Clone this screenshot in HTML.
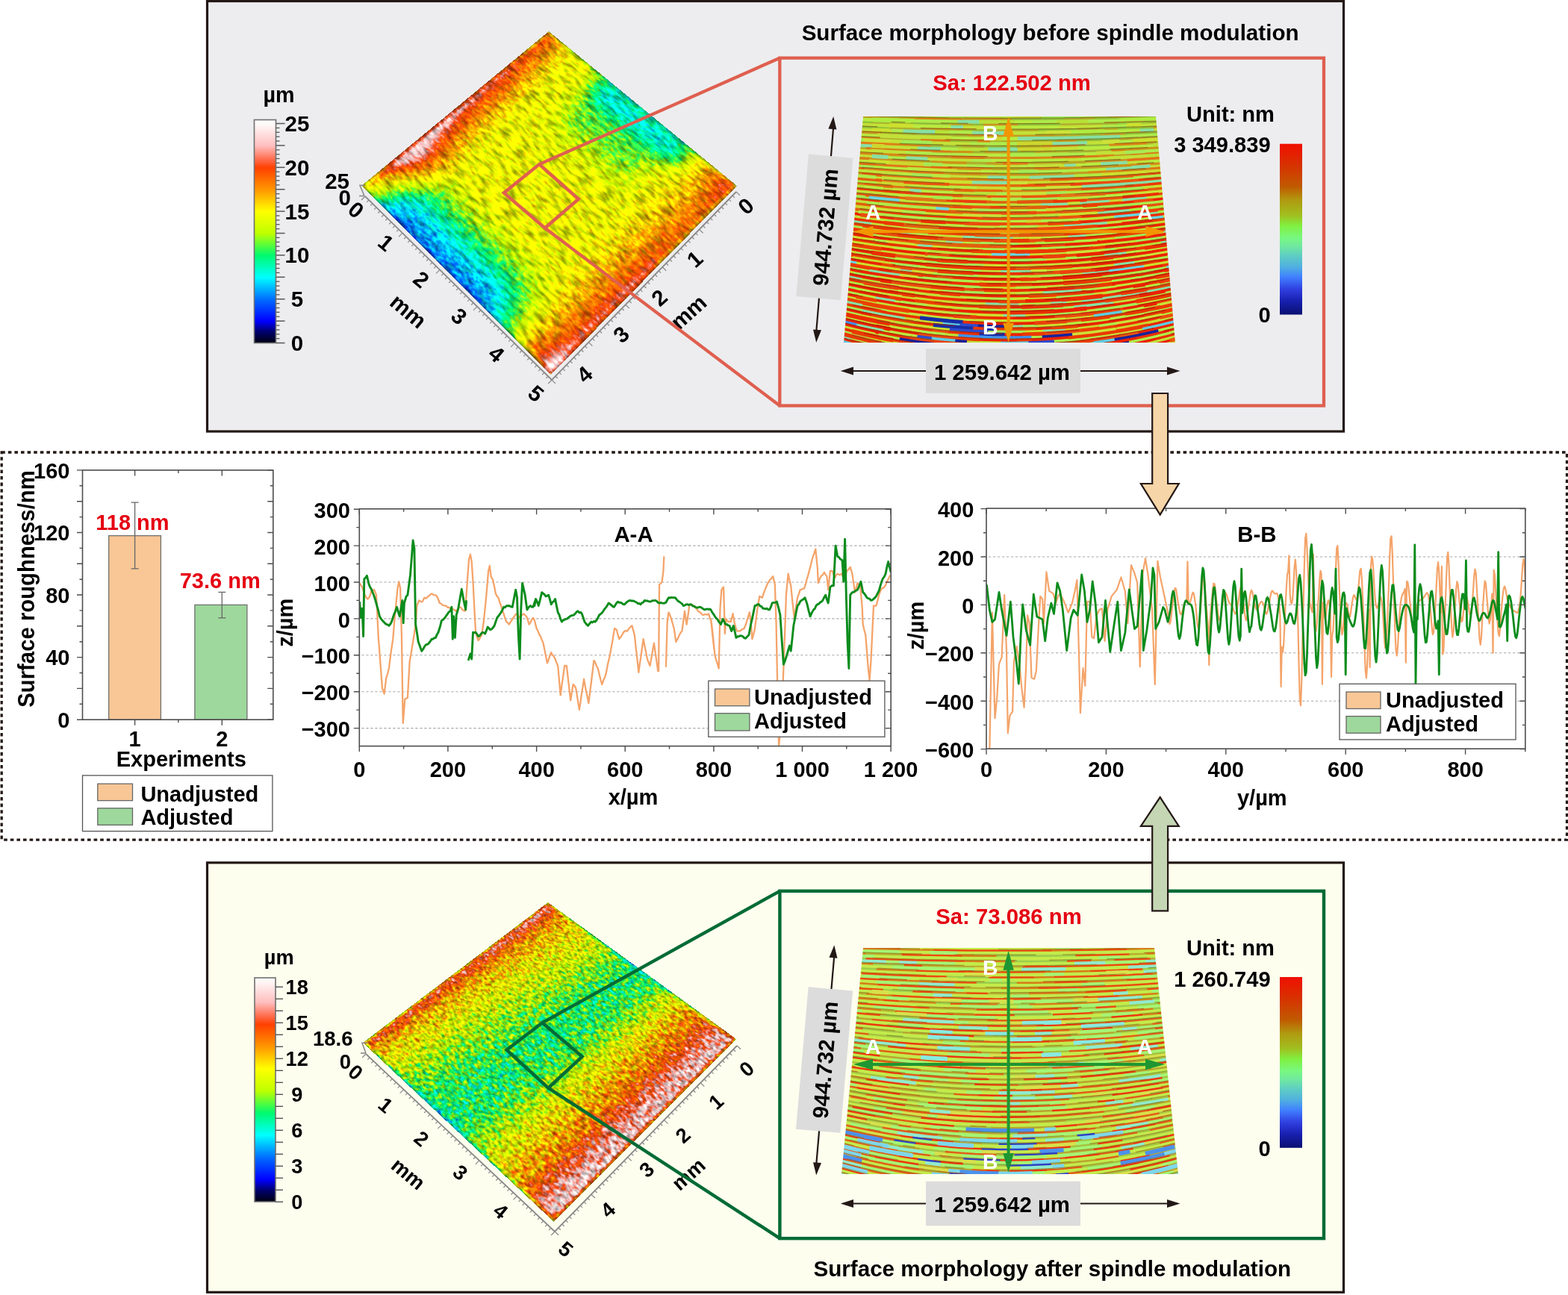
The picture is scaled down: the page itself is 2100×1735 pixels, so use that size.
<!DOCTYPE html>
<html><head><meta charset="utf-8"><title>Surface morphology before and after spindle modulation</title>
<style>html,body{margin:0;padding:0;background:#fff;}
#wrap{position:relative;width:2100px;height:1735px;overflow:hidden;}
#wrap>svg,#wrap>div{position:absolute;left:0;top:0;}
.sf{transform-origin:0 0;}
.sf svg{display:block;}
text{font-family:'Liberation Sans', Arial, sans-serif;font-weight:bold;}</style></head>
<body><div id="wrap">
<svg xmlns="http://www.w3.org/2000/svg" width="2100" height="1735" viewBox="0 0 2100 1735">
<rect x="277.5" y="1.5" width="1522" height="576.5" fill="#ededef" stroke="#231815" stroke-width="3.2"/>
<rect x="277.5" y="1155.8" width="1522" height="575.5" fill="#fdfeee" stroke="#231815" stroke-width="3.2"/>
<rect x="2.2" y="606" width="2096.3" height="519.2" fill="none" stroke="#231815" stroke-width="3.3" stroke-dasharray="4.6 4"/>
</svg>
<div class="sf" style="width:512px;height:512px;transform:matrix3d(0.35635239,0.3990862,0,-0.00018935144,0.63914408,-0.39578775,0,0.00020259824,0,0,1,0,484,249,0,1)">
<svg xmlns="http://www.w3.org/2000/svg" width="512" height="512" viewBox="0 0 56 56"><defs><filter id="bl1" x="0" y="0" width="1" height="1" color-interpolation-filters="sRGB"><feGaussianBlur in="SourceGraphic" stdDeviation="0.5" edgeMode="duplicate" result="b"/><feTurbulence type="fractalNoise" baseFrequency="0.9 1.6" numOctaves="2" seed="11" result="t1"/><feColorMatrix in="t1" type="matrix" values="1 0 0 0 0 1 0 0 0 0 1 0 0 0 0 0 0 0 0 1" result="n1"/><feComposite in="b" in2="n1" operator="arithmetic" k1="0" k2="1" k3="0.2" k4="-0.1" result="h"/><feComponentTransfer in="h" result="c"><feFuncR type="table" tableValues="0.000 0.000 0.000 0.000 0.000 0.000 0.000 0.000 0.000 0.000 0.000 0.000 0.000 0.000 0.000 0.000 0.000 0.000 0.000 0.000 0.000 0.149 0.298 0.447 0.596 0.745 0.796 0.847 0.898 0.949 1.000 1.000 1.000 1.000 1.000 1.000 1.000 1.000 1.000 1.000 1.000 1.000 1.000 1.000 1.000 1.000 1.000 1.000 1.000 1.000 1.000 1.000"/><feFuncG type="table" tableValues="0.000 0.000 0.000 0.000 0.000 0.000 0.086 0.173 0.259 0.345 0.431 0.545 0.659 0.773 0.886 1.000 0.996 0.992 0.988 0.984 0.980 0.984 0.988 0.992 0.996 1.000 1.000 1.000 1.000 1.000 1.000 0.918 0.835 0.753 0.671 0.588 0.521 0.453 0.386 0.318 0.251 0.341 0.431 0.536 0.641 0.745 0.792 0.839 0.886 0.933 0.980 0.980"/><feFuncB type="table" tableValues="0.063 0.205 0.346 0.526 0.763 1.000 1.000 1.000 1.000 1.000 1.000 1.000 1.000 1.000 1.000 1.000 0.886 0.773 0.659 0.545 0.431 0.345 0.259 0.173 0.086 0.000 0.000 0.000 0.000 0.000 0.000 0.000 0.000 0.000 0.000 0.000 0.000 0.000 0.000 0.000 0.000 0.157 0.314 0.458 0.601 0.745 0.792 0.839 0.886 0.933 0.980 0.980"/></feComponentTransfer><feTurbulence type="fractalNoise" baseFrequency="0.35 1.1" numOctaves="2" seed="1" result="t2"/><feColorMatrix in="t2" type="matrix" values="1 0 0 0 0 1 0 0 0 0 1 0 0 0 0 0 0 0 0 1" result="n2"/><feComposite in="c" in2="n2" operator="arithmetic" k1="1.1" k2="0.4" k3="0" k4="0" result="d"/><feComposite in="d" in2="SourceAlpha" operator="in"/></filter></defs><g filter="url(#bl1)" shape-rendering="crispEdges">
<path fill="#a4a4a4" d="M0 0h1v1h-1zM48 0h1v1h-1zM48 1h1v1h-1zM4 7h1v1h-1zM48 10h1v1h-1zM7 11h1v1h-1zM48 11h1v1h-1zM48 12h1v1h-1zM8 13h1v1h-1zM48 13h1v1h-1zM48 14h1v1h-1zM48 15h1v1h-1zM48 16h1v1h-1zM48 17h1v1h-1zM8 18h1v1h-1zM48 18h1v1h-1zM8 19h1v1h-1zM48 19h1v1h-1zM48 20h1v1h-1zM48 21h1v1h-1zM48 22h1v1h-1zM48 23h1v1h-1zM7 24h1v1h-1zM48 24h1v1h-1zM7 25h1v1h-1zM48 25h1v1h-1zM48 26h1v1h-1zM48 27h1v1h-1zM48 28h1v1h-1zM48 29h1v1h-1zM48 30h1v1h-1zM48 31h1v1h-1zM48 32h1v1h-1zM48 33h1v1h-1zM48 34h1v1h-1zM6 41h1v1h-1zM6 42h1v1h-1zM6 43h1v1h-1zM5 50h1v1h-1zM5 51h1v1h-1zM5 52h1v1h-1zM5 53h1v1h-1zM5 54h1v1h-1zM48 54h1v1h-1zM5 55h1v1h-1zM48 55h1v1h-1z"/>
<path fill="#989898" d="M1 0h1v1h-1zM5 7h1v1h-1zM46 10h1v1h-1zM10 14h1v1h-1zM45 14h1v1h-1zM45 15h1v1h-1zM45 16h1v1h-1zM45 17h1v1h-1zM45 18h1v1h-1zM10 19h1v1h-1zM45 19h1v1h-1zM10 20h1v1h-1zM45 20h1v1h-1zM45 21h1v1h-1zM45 22h1v1h-1zM45 23h1v1h-1zM45 24h1v1h-1zM9 25h1v1h-1zM9 26h1v1h-1zM9 27h1v1h-1zM45 27h1v1h-1zM9 28h1v1h-1zM45 28h1v1h-1zM9 29h1v1h-1zM45 29h1v1h-1zM9 30h1v1h-1zM45 30h1v1h-1zM9 31h1v1h-1zM45 31h1v1h-1zM9 32h1v1h-1zM45 32h1v1h-1zM9 33h1v1h-1zM45 33h1v1h-1zM9 34h1v1h-1zM45 34h1v1h-1zM45 35h1v1h-1zM45 36h1v1h-1zM45 37h1v1h-1zM45 38h1v1h-1zM45 39h1v1h-1zM45 40h1v1h-1zM45 41h1v1h-1zM45 42h1v1h-1zM8 43h1v1h-1zM45 43h1v1h-1zM8 44h1v1h-1zM45 44h1v1h-1zM8 45h1v1h-1zM45 45h1v1h-1zM46 48h1v1h-1zM46 49h1v1h-1zM7 54h1v1h-1zM46 54h1v1h-1zM7 55h1v1h-1zM46 55h1v1h-1z"/>
<path fill="#8a8a8a" d="M2 0h1v1h-1zM3 2h1v1h-1zM4 4h1v1h-1zM45 5h1v1h-1zM45 6h1v1h-1zM44 9h1v1h-1zM10 11h1v1h-1zM41 12h1v1h-1zM38 13h2v1h-2zM13 14h8v1h-8zM20 37h17v1h-17zM18 38h1v1h-1zM38 38h1v1h-1zM17 39h1v1h-1zM39 39h1v1h-1zM40 40h1v1h-1zM16 41h1v1h-1zM40 41h1v1h-1zM15 45h1v1h-1zM15 46h1v1h-1zM41 46h1v1h-1zM15 47h1v1h-1zM15 48h1v1h-1zM45 52h1v1h-1zM14 53h1v1h-1zM14 54h1v1h-1zM14 55h1v1h-1z"/>
<path fill="#7e7e7e" d="M3 0h1v1h-1zM5 4h1v1h-1zM44 4h1v1h-1zM42 8h1v1h-1zM41 9h1v1h-1zM40 10h1v1h-1zM12 11h1v1h-1zM36 11h2v1h-2zM20 40h16v1h-16zM19 41h1v1h-1zM37 41h1v1h-1zM18 42h1v1h-1zM38 43h1v1h-1zM38 44h1v1h-1zM17 47h1v1h-1zM41 48h1v1h-1zM16 50h1v1h-1zM44 52h1v1h-1zM43 55h1v1h-1z"/>
<path fill="#727272" d="M4 0h1v1h-1zM43 2h1v1h-1zM6 4h1v1h-1zM42 5h1v1h-1zM10 8h1v1h-1zM39 8h1v1h-1zM37 9h1v1h-1zM14 10h2v1h-2zM21 44h15v1h-15zM20 45h2v1h-2zM33 45h3v1h-3zM20 46h1v1h-1zM36 46h1v1h-1zM19 47h1v1h-1zM38 48h1v1h-1zM42 50h1v1h-1zM43 52h1v1h-1zM43 53h1v1h-1z"/>
<path fill="#646464" d="M5 0h1v1h-1zM41 3h1v1h-1zM37 7h1v1h-1zM14 8h2v1h-2zM20 49h1v1h-1zM36 49h1v1h-1zM19 50h1v1h-1zM40 50h1v1h-1zM18 53h1v1h-1zM20 55h1v1h-1zM38 55h2v1h-2z"/>
<path fill="#585858" d="M6 0h1v1h-1zM7 2h1v1h-1zM40 2h1v1h-1zM11 6h1v1h-1zM26 6h10v1h-10zM39 51h1v1h-1zM21 54h19v1h-19z"/>
<path fill="#4e4e4e" d="M7 0h1v1h-1zM39 1h1v1h-1zM8 2h1v1h-1zM10 4h1v1h-1zM13 5h3v1h-3z"/>
<path fill="#444444" d="M8 0h1v1h-1zM37 2h1v1h-1zM11 3h1v1h-1zM20 3h16v1h-16z"/>
<path fill="#3e3e3e" d="M9 0h1v1h-1zM10 1h1v1h-1zM36 1h1v1h-1zM11 2h1v1h-1zM29 2h7v1h-7z"/>
<path fill="#3c3c3c" d="M10 0h1v1h-1zM36 0h1v1h-1zM11 1h1v1h-1zM35 1h1v1h-1zM12 2h17v1h-17z"/>
<path fill="#383838" d="M11 0h2v1h-2zM15 0h20v1h-20zM13 1h2v1h-2z"/>
<path fill="#363636" d="M13 0h2v1h-2z"/>
<path fill="#3a3a3a" d="M35 0h1v1h-1zM12 1h1v1h-1zM15 1h20v1h-20z"/>
<path fill="#404040" d="M37 0h1v1h-1zM36 2h1v1h-1z"/>
<path fill="#464646" d="M38 0h1v1h-1zM9 2h1v1h-1zM36 3h1v1h-1z"/>
<path fill="#4c4c4c" d="M39 0h1v1h-1zM9 3h1v1h-1zM36 4h1v1h-1z"/>
<path fill="#545454" d="M40 0h1v1h-1zM8 3h1v1h-1zM9 4h1v1h-1zM10 5h1v1h-1zM36 5h1v1h-1zM35 51h2v1h-2zM40 52h1v1h-1zM20 53h1v1h-1z"/>
<path fill="#5c5c5c" d="M41 0h1v1h-1zM40 3h1v1h-1zM8 4h1v1h-1zM9 5h1v1h-1zM36 50h1v1h-1zM41 52h1v1h-1zM41 53h1v1h-1zM40 54h1v1h-1z"/>
<path fill="#666666" d="M42 0h1v1h-1zM42 1h1v1h-1zM7 4h1v1h-1zM8 5h1v1h-1zM40 5h1v1h-1zM9 6h1v1h-1zM39 6h1v1h-1zM12 8h2v1h-2zM16 8h19v1h-19zM37 49h1v1h-1zM18 51h1v1h-1zM42 52h1v1h-1zM42 53h1v1h-1zM18 54h1v1h-1zM40 55h1v1h-1z"/>
<path fill="#707070" d="M43 0h1v1h-1zM43 1h1v1h-1zM5 2h1v1h-1zM41 6h1v1h-1zM9 7h1v1h-1zM40 7h1v1h-1zM36 9h1v1h-1zM22 45h11v1h-11zM21 46h15v1h-15zM20 47h1v1h-1zM36 47h1v1h-1zM19 48h1v1h-1zM18 49h1v1h-1zM17 51h1v1h-1zM17 54h1v1h-1z"/>
<path fill="#787878" d="M44 0h1v1h-1zM4 1h1v1h-1zM7 6h1v1h-1zM8 7h1v1h-1zM41 8h1v1h-1zM39 9h1v1h-1zM37 10h1v1h-1zM20 42h1v1h-1zM36 42h1v1h-1zM19 43h1v1h-1zM37 44h1v1h-1zM37 45h1v1h-1zM18 47h1v1h-1zM38 47h1v1h-1zM40 48h1v1h-1zM17 49h1v1h-1zM16 52h1v1h-1zM16 53h1v1h-1z"/>
<path fill="#848484" d="M45 0h1v1h-1zM3 1h1v1h-1zM45 1h1v1h-1zM45 2h1v1h-1zM4 3h1v1h-1zM6 6h1v1h-1zM44 6h1v1h-1zM43 8h1v1h-1zM10 10h1v1h-1zM11 11h1v1h-1zM40 11h1v1h-1zM35 12h3v1h-3zM20 39h1v1h-1zM34 39h3v1h-3zM18 40h1v1h-1zM38 40h1v1h-1zM17 42h1v1h-1zM39 42h1v1h-1zM39 43h1v1h-1zM16 46h1v1h-1zM40 46h1v1h-1zM16 47h1v1h-1zM41 47h1v1h-1zM44 50h1v1h-1zM15 51h1v1h-1zM15 52h1v1h-1zM15 55h1v1h-1z"/>
<path fill="#8e8e8e" d="M46 0h1v1h-1zM46 1h1v1h-1zM5 6h1v1h-1zM45 8h1v1h-1zM44 11h1v1h-1zM43 12h1v1h-1zM11 13h1v1h-1zM42 13h1v1h-1zM37 14h4v1h-4zM13 15h2v1h-2zM20 35h18v1h-18zM18 36h2v1h-2zM36 36h4v1h-4zM17 37h1v1h-1zM39 37h2v1h-2zM16 38h1v1h-1zM40 38h1v1h-1zM16 39h1v1h-1zM41 40h1v1h-1zM15 41h1v1h-1zM41 41h1v1h-1zM15 42h1v1h-1zM41 42h1v1h-1zM41 43h1v1h-1zM14 45h1v1h-1zM14 46h1v1h-1zM42 46h1v1h-1zM14 47h1v1h-1zM14 48h1v1h-1zM14 49h1v1h-1zM14 50h1v1h-1zM45 50h1v1h-1zM45 54h1v1h-1z"/>
<path fill="#9a9a9a" d="M47 0h1v1h-1zM47 1h1v1h-1zM47 2h1v1h-1zM47 3h1v1h-1zM47 4h1v1h-1zM47 5h1v1h-1zM4 6h1v1h-1zM46 11h1v1h-1zM9 12h1v1h-1zM46 12h1v1h-1zM46 13h1v1h-1zM10 15h1v1h-1zM10 17h1v1h-1zM10 18h1v1h-1zM9 22h1v1h-1zM9 23h1v1h-1zM9 24h1v1h-1zM45 25h1v1h-1zM45 26h1v1h-1zM8 40h1v1h-1zM8 41h1v1h-1zM8 42h1v1h-1zM46 45h1v1h-1zM46 46h1v1h-1zM46 47h1v1h-1zM7 48h1v1h-1zM7 49h1v1h-1zM7 50h1v1h-1zM7 51h1v1h-1zM7 52h1v1h-1zM7 53h1v1h-1z"/>
<path fill="#aeaeae" d="M49 0h1v1h-1zM49 1h1v1h-1zM1 4h1v1h-1zM50 8h1v1h-1zM50 9h1v1h-1zM50 10h1v1h-1zM6 11h1v1h-1zM50 11h1v1h-1zM50 12h1v1h-1zM50 13h1v1h-1zM50 14h1v1h-1zM7 15h1v1h-1zM50 15h1v1h-1zM7 16h1v1h-1zM50 16h1v1h-1zM50 17h1v1h-1zM50 18h1v1h-1zM50 19h1v1h-1zM50 20h1v1h-1zM6 21h1v1h-1zM50 21h1v1h-1zM6 22h1v1h-1zM50 22h1v1h-1zM50 23h1v1h-1zM50 24h1v1h-1zM50 25h1v1h-1zM50 26h1v1h-1zM50 27h1v1h-1zM50 28h1v1h-1zM5 29h1v1h-1zM50 29h1v1h-1zM5 30h1v1h-1zM50 30h1v1h-1zM5 31h1v1h-1zM5 32h1v1h-1zM5 33h1v1h-1zM5 34h1v1h-1zM5 35h1v1h-1zM5 36h1v1h-1zM5 37h1v1h-1zM5 38h1v1h-1zM51 39h1v1h-1zM51 40h1v1h-1zM51 41h1v1h-1zM51 42h1v1h-1zM51 43h1v1h-1zM4 44h1v1h-1zM51 44h1v1h-1zM4 45h1v1h-1zM51 45h1v1h-1zM4 46h1v1h-1zM51 46h1v1h-1zM51 47h1v1h-1zM50 51h1v1h-1zM50 52h1v1h-1z"/>
<path fill="#b8b8b8" d="M50 0h1v1h-1zM50 1h1v1h-1zM0 3h1v1h-1zM1 5h1v1h-1zM51 5h1v1h-1zM3 8h1v1h-1zM5 19h1v1h-1zM5 20h1v1h-1zM4 25h1v1h-1zM4 26h1v1h-1zM52 29h1v1h-1zM52 30h1v1h-1zM52 31h1v1h-1zM52 32h1v1h-1zM3 42h1v1h-1zM53 42h1v1h-1zM3 43h1v1h-1zM53 43h1v1h-1zM53 44h1v1h-1zM52 49h1v1h-1zM2 50h1v1h-1zM2 51h1v1h-1zM2 52h1v1h-1zM2 53h1v1h-1zM51 54h1v1h-1zM51 55h1v1h-1z"/>
<path fill="#c2c2c2" d="M51 0h1v1h-1zM51 1h1v1h-1zM53 8h1v1h-1zM53 9h1v1h-1zM53 10h1v1h-1zM53 11h1v1h-1zM53 12h1v1h-1zM53 13h1v1h-1zM53 14h1v1h-1zM53 15h1v1h-1zM53 16h1v1h-1zM53 17h1v1h-1zM4 18h1v1h-1zM53 18h1v1h-1zM53 19h1v1h-1zM53 20h1v1h-1zM53 21h1v1h-1zM53 22h1v1h-1zM3 23h1v1h-1zM53 23h1v1h-1zM3 24h1v1h-1zM53 24h1v1h-1zM53 25h1v1h-1zM53 26h1v1h-1zM55 32h1v1h-1zM55 33h1v1h-1zM55 34h1v1h-1zM2 37h1v1h-1zM2 38h1v1h-1zM2 39h1v1h-1zM2 40h1v1h-1zM1 46h1v1h-1zM1 47h1v1h-1zM1 48h1v1h-1zM55 48h1v1h-1zM53 51h1v1h-1z"/>
<path fill="#d0d0d0" d="M52 0h1v1h-1zM0 5h1v1h-1zM54 8h1v1h-1zM54 9h1v1h-1zM3 17h1v1h-1zM54 20h1v1h-1zM54 21h1v1h-1zM2 22h1v1h-1zM54 22h1v1h-1zM54 23h1v1h-1zM54 24h1v1h-1zM54 25h1v1h-1zM1 32h1v1h-1zM1 33h1v1h-1zM0 45h1v1h-1z"/>
<path fill="#dedede" d="M53 0h1v1h-1zM54 4h1v1h-1zM0 7h1v1h-1zM3 12h1v1h-1zM3 14h1v1h-1zM2 19h1v1h-1zM55 27h1v1h-1zM55 28h1v1h-1z"/>
<path fill="#f0f0f0" d="M54 0h1v1h-1zM55 4h1v1h-1z"/>
<path fill="#fefefe" d="M55 0h1v1h-1zM55 1h1v1h-1zM55 2h1v1h-1z"/>
<path fill="#a8a8a8" d="M0 1h1v1h-1zM1 3h1v1h-1zM49 7h1v1h-1zM49 8h1v1h-1zM49 9h1v1h-1zM6 10h1v1h-1zM49 10h1v1h-1zM49 11h1v1h-1zM49 12h1v1h-1zM49 13h1v1h-1zM8 16h1v1h-1zM7 20h1v1h-1zM7 21h1v1h-1zM6 27h1v1h-1zM6 28h1v1h-1zM49 28h1v1h-1zM6 29h1v1h-1zM49 29h1v1h-1zM6 30h1v1h-1zM49 30h1v1h-1zM6 31h1v1h-1zM49 31h1v1h-1zM6 32h1v1h-1zM49 32h1v1h-1zM6 33h1v1h-1zM49 33h1v1h-1zM6 34h1v1h-1zM49 34h1v1h-1zM6 35h1v1h-1zM49 35h1v1h-1zM6 36h1v1h-1zM49 36h1v1h-1zM5 44h1v1h-1zM5 45h1v1h-1zM5 46h1v1h-1zM49 50h1v1h-1zM49 51h1v1h-1zM49 52h1v1h-1z"/>
<path fill="#9c9c9c" d="M1 1h1v1h-1zM2 3h1v1h-1zM47 6h1v1h-1zM47 7h1v1h-1zM47 8h1v1h-1zM8 11h1v1h-1zM9 13h1v1h-1zM46 14h1v1h-1zM46 15h1v1h-1zM10 16h1v1h-1zM46 16h1v1h-1zM46 17h1v1h-1zM46 18h1v1h-1zM46 19h1v1h-1zM9 20h1v1h-1zM46 20h1v1h-1zM9 21h1v1h-1zM46 21h1v1h-1zM46 22h1v1h-1zM46 23h1v1h-1zM46 24h1v1h-1zM46 25h1v1h-1zM46 26h1v1h-1zM8 27h1v1h-1zM46 27h1v1h-1zM8 28h1v1h-1zM46 28h1v1h-1zM8 29h1v1h-1zM46 29h1v1h-1zM8 30h1v1h-1zM46 30h1v1h-1zM8 31h1v1h-1zM46 31h1v1h-1zM8 32h1v1h-1zM46 32h1v1h-1zM8 33h1v1h-1zM46 33h1v1h-1zM8 34h1v1h-1zM46 34h1v1h-1zM8 35h1v1h-1zM46 35h1v1h-1zM8 36h1v1h-1zM46 36h1v1h-1zM8 37h1v1h-1zM46 37h1v1h-1zM8 38h1v1h-1zM46 38h1v1h-1zM8 39h1v1h-1zM46 39h1v1h-1zM46 40h1v1h-1zM46 41h1v1h-1zM46 42h1v1h-1zM46 43h1v1h-1zM7 44h1v1h-1zM46 44h1v1h-1zM7 45h1v1h-1zM7 46h1v1h-1zM7 47h1v1h-1zM47 50h1v1h-1z"/>
<path fill="#909090" d="M2 1h1v1h-1zM46 2h1v1h-1zM3 3h1v1h-1zM46 3h1v1h-1zM45 9h1v1h-1zM44 12h1v1h-1zM43 13h1v1h-1zM41 14h2v1h-2zM12 15h1v1h-1zM15 15h16v1h-16zM20 32h15v1h-15zM18 33h22v1h-22zM17 34h24v1h-24zM16 35h4v1h-4zM38 35h3v1h-3zM16 36h2v1h-2zM40 36h2v1h-2zM15 37h2v1h-2zM41 37h1v1h-1zM15 38h1v1h-1zM41 38h1v1h-1zM15 39h1v1h-1zM41 39h1v1h-1zM15 40h1v1h-1zM14 41h1v1h-1zM14 42h1v1h-1zM14 43h1v1h-1zM14 44h1v1h-1zM42 44h1v1h-1zM42 45h1v1h-1zM13 46h1v1h-1zM43 46h1v1h-1zM13 47h1v1h-1zM44 47h1v1h-1zM13 48h1v1h-1zM13 49h1v1h-1zM45 49h1v1h-1zM13 50h1v1h-1zM13 51h1v1h-1zM13 52h1v1h-1zM13 53h1v1h-1zM13 54h1v1h-1zM13 55h1v1h-1zM45 55h1v1h-1z"/>
<path fill="#6a6a6a" d="M5 1h1v1h-1zM6 3h1v1h-1zM40 6h1v1h-1zM11 8h1v1h-1zM36 8h1v1h-1zM20 48h1v1h-1zM34 48h2v1h-2zM19 49h1v1h-1zM38 49h1v1h-1zM41 50h1v1h-1zM42 51h1v1h-1z"/>
<path fill="#5e5e5e" d="M6 1h1v1h-1zM41 1h1v1h-1zM7 3h1v1h-1zM10 6h1v1h-1zM37 6h1v1h-1zM12 7h19v1h-19zM20 50h1v1h-1zM37 50h1v1h-1zM19 51h1v1h-1z"/>
<path fill="#525252" d="M7 1h1v1h-1zM11 5h1v1h-1zM35 5h1v1h-1zM21 51h14v1h-14zM20 52h1v1h-1zM38 52h2v1h-2zM36 53h4v1h-4z"/>
<path fill="#484848" d="M8 1h1v1h-1zM38 1h1v1h-1zM10 3h1v1h-1zM13 4h3v1h-3z"/>
<path fill="#424242" d="M9 1h1v1h-1zM37 1h1v1h-1zM10 2h1v1h-1zM12 3h8v1h-8z"/>
<path fill="#565656" d="M40 1h1v1h-1zM39 3h1v1h-1zM38 4h1v1h-1zM37 5h1v1h-1zM12 6h14v1h-14zM20 51h1v1h-1zM37 51h2v1h-2zM40 53h1v1h-1z"/>
<path fill="#7a7a7a" d="M44 1h1v1h-1zM44 2h1v1h-1zM6 5h1v1h-1zM43 5h1v1h-1zM42 7h1v1h-1zM9 8h1v1h-1zM40 9h1v1h-1zM38 10h1v1h-1zM13 11h12v1h-12zM20 41h16v1h-16zM19 42h1v1h-1zM37 43h1v1h-1zM18 45h1v1h-1zM18 46h1v1h-1zM38 46h1v1h-1zM42 49h1v1h-1zM43 50h1v1h-1zM16 54h1v1h-1z"/>
<path fill="#cecece" d="M52 1h1v1h-1zM53 4h1v1h-1zM54 10h1v1h-1zM54 11h1v1h-1zM54 12h1v1h-1zM54 13h1v1h-1zM54 14h1v1h-1zM54 15h1v1h-1zM54 16h1v1h-1zM54 17h1v1h-1zM54 18h1v1h-1zM54 19h1v1h-1zM54 26h1v1h-1zM54 27h1v1h-1zM1 34h1v1h-1zM1 35h1v1h-1zM1 36h1v1h-1zM55 53h1v1h-1zM55 54h1v1h-1zM55 55h1v1h-1z"/>
<path fill="#dcdcdc" d="M53 1h1v1h-1zM1 25h1v1h-1zM55 29h1v1h-1zM55 30h1v1h-1zM0 41h1v1h-1z"/>
<path fill="#eeeeee" d="M54 1h1v1h-1z"/>
<path fill="#b0b0b0" d="M0 2h1v1h-1zM50 5h1v1h-1zM50 6h1v1h-1zM3 7h1v1h-1zM50 7h1v1h-1zM6 19h1v1h-1zM6 20h1v1h-1zM5 26h1v1h-1zM5 27h1v1h-1zM5 28h1v1h-1zM51 33h1v1h-1zM51 34h1v1h-1zM51 35h1v1h-1zM51 36h1v1h-1zM51 37h1v1h-1zM51 38h1v1h-1zM4 42h1v1h-1zM4 43h1v1h-1zM51 48h1v1h-1zM51 49h1v1h-1zM3 52h1v1h-1zM3 53h1v1h-1zM50 53h1v1h-1zM3 54h1v1h-1zM50 54h1v1h-1zM3 55h1v1h-1zM50 55h1v1h-1z"/>
<path fill="#a2a2a2" d="M1 2h1v1h-1zM48 2h1v1h-1zM48 3h1v1h-1zM2 4h1v1h-1zM48 4h1v1h-1zM48 5h1v1h-1zM48 6h1v1h-1zM48 7h1v1h-1zM5 8h1v1h-1zM48 8h1v1h-1zM48 9h1v1h-1zM8 12h1v1h-1zM8 20h1v1h-1zM8 21h1v1h-1zM7 26h1v1h-1zM7 27h1v1h-1zM7 28h1v1h-1zM7 29h1v1h-1zM7 30h1v1h-1zM7 31h1v1h-1zM7 32h1v1h-1zM7 33h1v1h-1zM7 34h1v1h-1zM48 35h1v1h-1zM48 36h1v1h-1zM48 37h1v1h-1zM48 38h1v1h-1zM48 39h1v1h-1zM48 40h1v1h-1zM48 41h1v1h-1zM48 42h1v1h-1zM48 43h1v1h-1zM6 44h1v1h-1zM48 44h1v1h-1zM6 45h1v1h-1zM48 45h1v1h-1zM48 46h1v1h-1zM48 47h1v1h-1zM48 48h1v1h-1zM48 49h1v1h-1zM48 50h1v1h-1zM48 51h1v1h-1zM48 52h1v1h-1zM48 53h1v1h-1z"/>
<path fill="#969696" d="M2 2h1v1h-1zM3 4h1v1h-1zM6 8h1v1h-1zM46 8h1v1h-1zM7 9h1v1h-1zM46 9h1v1h-1zM45 12h1v1h-1zM45 13h1v1h-1zM44 15h1v1h-1zM11 16h1v1h-1zM44 16h1v1h-1zM44 17h1v1h-1zM44 18h1v1h-1zM44 19h1v1h-1zM44 20h1v1h-1zM10 21h1v1h-1zM44 21h1v1h-1zM10 22h1v1h-1zM44 22h1v1h-1zM10 23h1v1h-1zM44 23h1v1h-1zM44 24h1v1h-1zM44 25h1v1h-1zM44 26h1v1h-1zM44 27h1v1h-1zM44 28h1v1h-1zM44 29h1v1h-1zM44 30h1v1h-1zM44 31h1v1h-1zM44 32h1v1h-1zM44 33h1v1h-1zM44 34h1v1h-1zM9 35h1v1h-1zM44 35h1v1h-1zM9 36h1v1h-1zM44 36h1v1h-1zM9 37h1v1h-1zM44 37h1v1h-1zM9 38h1v1h-1zM44 38h1v1h-1zM9 39h1v1h-1zM44 39h1v1h-1zM9 40h1v1h-1zM44 40h1v1h-1zM44 41h1v1h-1zM44 42h1v1h-1zM44 43h1v1h-1zM8 46h1v1h-1zM45 46h1v1h-1zM8 47h1v1h-1zM8 48h1v1h-1zM8 49h1v1h-1zM8 50h1v1h-1zM46 50h1v1h-1zM46 51h1v1h-1zM46 52h1v1h-1zM46 53h1v1h-1z"/>
<path fill="#7c7c7c" d="M4 2h1v1h-1zM44 3h1v1h-1zM43 6h1v1h-1zM10 9h1v1h-1zM11 10h1v1h-1zM39 10h1v1h-1zM25 11h11v1h-11zM36 41h1v1h-1zM37 42h1v1h-1zM18 43h1v1h-1zM18 44h1v1h-1zM38 45h1v1h-1zM39 47h1v1h-1zM17 48h1v1h-1zM16 51h1v1h-1zM16 55h1v1h-1z"/>
<path fill="#626262" d="M6 2h1v1h-1zM38 6h1v1h-1zM36 7h1v1h-1zM21 49h15v1h-15zM39 50h1v1h-1zM18 52h1v1h-1zM41 54h1v1h-1zM21 55h17v1h-17z"/>
<path fill="#4a4a4a" d="M38 2h1v1h-1zM37 3h1v1h-1zM11 4h2v1h-2zM16 4h20v1h-20z"/>
<path fill="#505050" d="M39 2h1v1h-1zM38 3h1v1h-1zM37 4h1v1h-1zM12 5h1v1h-1zM16 5h19v1h-19zM21 52h17v1h-17zM21 53h15v1h-15z"/>
<path fill="#606060" d="M41 2h1v1h-1zM40 4h1v1h-1zM39 5h1v1h-1zM11 7h1v1h-1zM31 7h5v1h-5zM38 50h1v1h-1zM41 51h1v1h-1zM19 54h1v1h-1z"/>
<path fill="#686868" d="M42 2h1v1h-1zM41 4h1v1h-1zM10 7h1v1h-1zM38 7h1v1h-1zM35 8h1v1h-1zM21 48h13v1h-13zM19 55h1v1h-1z"/>
<path fill="#acacac" d="M49 2h1v1h-1zM49 3h1v1h-1zM4 8h1v1h-1zM7 13h1v1h-1zM7 14h1v1h-1zM7 17h1v1h-1zM7 18h1v1h-1zM6 23h1v1h-1zM6 24h1v1h-1zM50 31h1v1h-1zM50 32h1v1h-1zM50 33h1v1h-1zM50 34h1v1h-1zM50 35h1v1h-1zM50 36h1v1h-1zM50 37h1v1h-1zM5 39h1v1h-1zM5 40h1v1h-1zM5 41h1v1h-1zM4 47h1v1h-1zM4 48h1v1h-1zM4 49h1v1h-1zM50 49h1v1h-1zM4 50h1v1h-1zM50 50h1v1h-1z"/>
<path fill="#b6b6b6" d="M50 2h1v1h-1zM51 6h1v1h-1zM5 11h1v1h-1zM6 13h1v1h-1zM6 14h1v1h-1zM6 15h1v1h-1zM6 16h1v1h-1zM5 21h1v1h-1zM4 27h1v1h-1zM4 28h1v1h-1zM4 29h1v1h-1zM4 30h1v1h-1zM4 31h1v1h-1zM4 32h1v1h-1zM4 33h1v1h-1zM52 33h1v1h-1zM4 34h1v1h-1zM52 34h1v1h-1zM52 35h1v1h-1zM52 36h1v1h-1zM52 37h1v1h-1zM3 44h1v1h-1zM3 45h1v1h-1zM52 48h1v1h-1zM51 52h1v1h-1zM51 53h1v1h-1zM2 54h1v1h-1zM2 55h1v1h-1z"/>
<path fill="#c0c0c0" d="M51 2h1v1h-1zM52 5h1v1h-1zM3 9h1v1h-1zM4 11h1v1h-1zM4 19h1v1h-1zM3 25h1v1h-1zM3 26h1v1h-1zM53 27h1v1h-1zM53 28h1v1h-1zM53 29h1v1h-1zM54 31h1v1h-1zM54 32h1v1h-1zM54 33h1v1h-1zM55 35h1v1h-1zM55 36h1v1h-1zM55 37h1v1h-1zM55 38h1v1h-1zM2 41h1v1h-1zM2 42h1v1h-1zM55 47h1v1h-1zM1 49h1v1h-1zM54 49h1v1h-1zM1 50h1v1h-1zM53 50h1v1h-1zM1 51h1v1h-1zM52 54h1v1h-1zM52 55h1v1h-1z"/>
<path fill="#cccccc" d="M52 2h1v1h-1zM2 8h1v1h-1zM3 10h1v1h-1zM2 23h1v1h-1zM54 28h1v1h-1zM54 29h1v1h-1zM54 30h1v1h-1zM1 37h1v1h-1zM1 38h1v1h-1zM1 39h1v1h-1zM0 46h1v1h-1zM55 52h1v1h-1z"/>
<path fill="#d8d8d8" d="M53 2h1v1h-1zM54 5h1v1h-1zM2 9h1v1h-1zM2 20h1v1h-1zM0 42h1v1h-1z"/>
<path fill="#e8e8e8" d="M54 2h1v1h-1zM55 6h1v1h-1zM0 10h2v1h-2zM0 11h2v1h-2zM0 12h2v1h-2zM0 13h3v1h-3zM0 14h3v1h-3zM0 15h3v1h-3zM2 16h1v1h-1zM1 21h1v1h-1zM0 27h1v1h-1zM0 28h1v1h-1zM0 29h1v1h-1z"/>
<path fill="#767676" d="M5 3h1v1h-1zM43 4h1v1h-1zM42 6h1v1h-1zM40 8h1v1h-1zM12 10h1v1h-1zM32 10h5v1h-5zM21 42h15v1h-15zM36 43h1v1h-1zM19 44h1v1h-1zM19 45h1v1h-1zM37 46h1v1h-1zM18 48h1v1h-1zM39 48h1v1h-1zM43 54h1v1h-1zM17 55h1v1h-1z"/>
<path fill="#6c6c6c" d="M42 3h1v1h-1zM41 5h1v1h-1zM39 7h1v1h-1zM37 8h1v1h-1zM13 9h10v1h-10zM22 47h3v1h-3zM36 48h1v1h-1zM39 49h1v1h-1zM18 50h1v1h-1zM42 54h1v1h-1zM41 55h1v1h-1z"/>
<path fill="#747474" d="M43 3h1v1h-1zM41 7h1v1h-1zM11 9h1v1h-1zM38 9h1v1h-1zM13 10h1v1h-1zM16 10h16v1h-16zM20 43h16v1h-16zM20 44h1v1h-1zM36 44h1v1h-1zM36 45h1v1h-1zM19 46h1v1h-1zM37 47h1v1h-1zM41 49h1v1h-1zM17 50h1v1h-1zM43 51h1v1h-1zM42 55h1v1h-1z"/>
<path fill="#868686" d="M45 3h1v1h-1zM5 5h1v1h-1zM44 7h1v1h-1zM43 9h1v1h-1zM42 10h1v1h-1zM41 11h1v1h-1zM12 12h1v1h-1zM38 12h2v1h-2zM13 13h16v1h-16zM20 38h14v1h-14zM19 39h1v1h-1zM37 39h1v1h-1zM17 41h1v1h-1zM39 41h1v1h-1zM16 44h1v1h-1zM16 45h1v1h-1zM40 45h1v1h-1zM43 48h1v1h-1zM15 50h1v1h-1zM44 55h1v1h-1z"/>
<path fill="#b4b4b4" d="M50 3h1v1h-1zM51 7h1v1h-1zM51 8h1v1h-1zM4 9h1v1h-1zM51 9h1v1h-1zM51 10h1v1h-1zM51 11h1v1h-1zM51 12h1v1h-1zM51 13h1v1h-1zM51 14h1v1h-1zM51 15h1v1h-1zM51 16h1v1h-1zM6 17h1v1h-1zM51 17h1v1h-1zM51 18h1v1h-1zM51 19h1v1h-1zM51 20h1v1h-1zM51 21h1v1h-1zM5 22h1v1h-1zM51 22h1v1h-1zM5 23h1v1h-1zM51 23h1v1h-1zM51 24h1v1h-1zM51 25h1v1h-1zM51 26h1v1h-1zM51 27h1v1h-1zM4 35h1v1h-1zM4 36h1v1h-1zM4 37h1v1h-1zM4 38h1v1h-1zM52 38h1v1h-1zM4 39h1v1h-1zM52 39h1v1h-1zM52 40h1v1h-1zM52 41h1v1h-1zM52 42h1v1h-1zM52 43h1v1h-1zM52 44h1v1h-1zM52 45h1v1h-1zM3 46h1v1h-1zM52 46h1v1h-1zM3 47h1v1h-1zM52 47h1v1h-1zM51 51h1v1h-1z"/>
<path fill="#bcbcbc" d="M51 3h1v1h-1zM2 7h1v1h-1zM52 7h1v1h-1zM4 10h1v1h-1zM5 12h1v1h-1zM5 17h1v1h-1zM4 22h1v1h-1zM3 32h1v1h-1zM3 33h1v1h-1zM3 34h1v1h-1zM53 34h1v1h-1zM3 35h1v1h-1zM53 35h1v1h-1zM3 36h1v1h-1zM53 36h1v1h-1zM3 37h1v1h-1zM53 37h2v1h-2zM3 38h1v1h-1zM54 38h1v1h-1zM54 39h1v1h-1zM54 40h1v1h-1zM55 43h1v1h-1zM2 45h1v1h-1zM2 46h1v1h-1zM54 46h1v1h-1zM54 47h1v1h-1zM53 48h1v1h-1zM52 51h1v1h-1zM52 52h1v1h-1z"/>
<path fill="#c8c8c8" d="M52 3h1v1h-1zM4 14h1v1h-1zM3 19h1v1h-1zM2 25h1v1h-1zM1 41h1v1h-1zM0 48h1v1h-1zM0 49h1v1h-1zM54 52h1v1h-1z"/>
<path fill="#d2d2d2" d="M53 3h1v1h-1zM54 7h1v1h-1zM1 30h1v1h-1zM1 31h1v1h-1zM0 44h1v1h-1z"/>
<path fill="#e4e4e4" d="M54 3h1v1h-1zM55 7h1v1h-1zM1 9h1v1h-1zM1 23h1v1h-1zM0 33h1v1h-1zM0 34h1v1h-1zM0 35h1v1h-1z"/>
<path fill="#f8f8f8" d="M55 3h1v1h-1z"/>
<path fill="#c4c4c4" d="M0 4h1v1h-1zM52 4h1v1h-1zM53 7h1v1h-1zM4 17h1v1h-1zM3 22h1v1h-1zM2 30h1v1h-1zM2 31h1v1h-1zM55 31h1v1h-1zM2 32h1v1h-1zM2 33h1v1h-1zM2 34h1v1h-1zM2 35h1v1h-1zM2 36h1v1h-1zM1 44h1v1h-1zM1 45h1v1h-1zM55 49h1v1h-1zM54 50h1v1h-1zM53 52h1v1h-1zM0 54h1v1h-1zM0 55h1v1h-1z"/>
<path fill="#5a5a5a" d="M39 4h1v1h-1zM38 5h1v1h-1zM36 6h1v1h-1zM21 50h15v1h-15zM40 51h1v1h-1zM19 52h1v1h-1zM19 53h1v1h-1zM20 54h1v1h-1z"/>
<path fill="#6e6e6e" d="M42 4h1v1h-1zM7 5h1v1h-1zM8 6h1v1h-1zM38 8h1v1h-1zM12 9h1v1h-1zM23 9h13v1h-13zM21 47h1v1h-1zM25 47h11v1h-11zM37 48h1v1h-1zM40 49h1v1h-1zM17 52h1v1h-1zM17 53h1v1h-1zM18 55h1v1h-1z"/>
<path fill="#888888" d="M45 4h1v1h-1zM44 8h1v1h-1zM43 10h1v1h-1zM42 11h1v1h-1zM40 12h1v1h-1zM12 13h1v1h-1zM29 13h9v1h-9zM19 38h1v1h-1zM34 38h4v1h-4zM18 39h1v1h-1zM38 39h1v1h-1zM17 40h1v1h-1zM39 40h1v1h-1zM16 42h1v1h-1zM40 42h1v1h-1zM16 43h1v1h-1zM40 43h1v1h-1zM40 44h1v1h-1zM42 47h1v1h-1zM15 49h1v1h-1zM44 49h1v1h-1z"/>
<path fill="#929292" d="M46 4h1v1h-1zM4 5h1v1h-1zM46 5h1v1h-1zM45 10h1v1h-1zM9 11h1v1h-1zM10 12h1v1h-1zM44 13h1v1h-1zM11 14h1v1h-1zM43 14h1v1h-1zM31 15h12v1h-12zM12 16h31v1h-31zM12 17h31v1h-31zM12 18h31v1h-31zM11 19h32v1h-32zM11 20h32v1h-32zM11 21h32v1h-32zM11 22h32v1h-32zM11 23h32v1h-32zM11 24h32v1h-32zM11 25h32v1h-32zM10 26h33v1h-33zM10 27h33v1h-33zM10 28h33v1h-33zM10 29h33v1h-33zM10 30h33v1h-33zM10 31h33v1h-33zM10 32h10v1h-10zM35 32h8v1h-8zM10 33h8v1h-8zM40 33h3v1h-3zM10 34h7v1h-7zM41 34h2v1h-2zM10 35h6v1h-6zM41 35h2v1h-2zM10 36h6v1h-6zM42 36h1v1h-1zM10 37h5v1h-5zM42 37h1v1h-1zM10 38h5v1h-5zM42 38h1v1h-1zM10 39h5v1h-5zM42 39h1v1h-1zM10 40h5v1h-5zM42 40h1v1h-1zM10 41h4v1h-4zM42 41h1v1h-1zM10 42h4v1h-4zM42 42h1v1h-1zM10 43h4v1h-4zM42 43h1v1h-1zM9 44h5v1h-5zM43 44h1v1h-1zM9 45h5v1h-5zM43 45h1v1h-1zM9 46h4v1h-4zM44 46h1v1h-1zM9 47h4v1h-4zM9 48h4v1h-4zM45 48h1v1h-1zM9 49h4v1h-4zM9 50h4v1h-4zM9 51h4v1h-4zM9 52h4v1h-4zM9 53h4v1h-4zM9 54h4v1h-4zM9 55h4v1h-4z"/>
<path fill="#aaaaaa" d="M49 4h1v1h-1zM2 5h1v1h-1zM49 5h1v1h-1zM49 6h1v1h-1zM5 9h1v1h-1zM7 12h1v1h-1zM49 14h1v1h-1zM49 15h1v1h-1zM49 16h1v1h-1zM49 17h1v1h-1zM49 18h1v1h-1zM7 19h1v1h-1zM49 19h1v1h-1zM49 20h1v1h-1zM49 21h1v1h-1zM49 22h1v1h-1zM49 23h1v1h-1zM49 24h1v1h-1zM6 25h1v1h-1zM49 25h1v1h-1zM6 26h1v1h-1zM49 26h1v1h-1zM49 27h1v1h-1zM50 38h1v1h-1zM50 39h1v1h-1zM50 40h1v1h-1zM50 41h1v1h-1zM5 42h1v1h-1zM50 42h1v1h-1zM5 43h1v1h-1zM50 43h1v1h-1zM50 44h1v1h-1zM50 45h1v1h-1zM50 46h1v1h-1zM50 47h1v1h-1zM50 48h1v1h-1zM4 51h1v1h-1zM4 52h1v1h-1zM4 53h1v1h-1zM49 53h1v1h-1zM4 54h1v1h-1zM49 54h1v1h-1zM4 55h1v1h-1zM49 55h1v1h-1z"/>
<path fill="#b2b2b2" d="M50 4h1v1h-1zM2 6h1v1h-1zM5 10h1v1h-1zM6 12h1v1h-1zM6 18h1v1h-1zM5 24h1v1h-1zM5 25h1v1h-1zM51 28h1v1h-1zM51 29h1v1h-1zM51 30h1v1h-1zM51 31h1v1h-1zM51 32h1v1h-1zM4 40h1v1h-1zM4 41h1v1h-1zM3 48h1v1h-1zM3 49h1v1h-1zM3 50h1v1h-1zM51 50h1v1h-1zM3 51h1v1h-1z"/>
<path fill="#bababa" d="M51 4h1v1h-1zM52 8h1v1h-1zM52 9h1v1h-1zM52 10h1v1h-1zM52 11h1v1h-1zM52 12h1v1h-1zM52 13h1v1h-1zM52 14h1v1h-1zM52 15h1v1h-1zM52 16h1v1h-1zM52 17h1v1h-1zM5 18h1v1h-1zM52 18h1v1h-1zM52 19h1v1h-1zM52 20h1v1h-1zM52 21h1v1h-1zM52 22h1v1h-1zM4 23h1v1h-1zM52 23h1v1h-1zM4 24h1v1h-1zM52 24h1v1h-1zM52 25h1v1h-1zM52 26h1v1h-1zM52 27h1v1h-1zM52 28h1v1h-1zM53 38h1v1h-1zM3 39h1v1h-1zM53 39h1v1h-1zM3 40h1v1h-1zM53 40h1v1h-1zM3 41h1v1h-1zM53 41h2v1h-2zM54 42h1v1h-1zM54 43h1v1h-1zM54 44h1v1h-1zM53 45h2v1h-2zM53 46h1v1h-1zM2 47h1v1h-1zM53 47h1v1h-1zM2 48h1v1h-1zM2 49h1v1h-1zM52 50h1v1h-1z"/>
<path fill="#9e9e9e" d="M3 5h1v1h-1zM47 9h1v1h-1zM7 10h1v1h-1zM47 10h1v1h-1zM47 11h1v1h-1zM47 12h1v1h-1zM9 14h1v1h-1zM9 18h1v1h-1zM9 19h1v1h-1zM8 24h1v1h-1zM8 25h1v1h-1zM8 26h1v1h-1zM47 39h1v1h-1zM47 40h1v1h-1zM7 41h1v1h-1zM47 41h1v1h-1zM7 42h1v1h-1zM47 42h1v1h-1zM7 43h1v1h-1zM47 43h1v1h-1zM47 44h1v1h-1zM47 45h1v1h-1zM47 46h1v1h-1zM47 47h1v1h-1zM47 48h1v1h-1zM47 49h1v1h-1zM6 51h1v1h-1zM47 51h1v1h-1zM6 52h1v1h-1zM47 52h1v1h-1zM6 53h1v1h-1zM47 53h1v1h-1zM6 54h1v1h-1zM47 54h1v1h-1zM6 55h1v1h-1zM47 55h1v1h-1z"/>
<path fill="#808080" d="M44 5h1v1h-1zM43 7h1v1h-1zM38 11h1v1h-1zM13 12h5v1h-5zM36 40h1v1h-1zM38 42h1v1h-1zM17 44h1v1h-1zM17 45h1v1h-1zM17 46h1v1h-1zM39 46h1v1h-1zM40 47h1v1h-1zM16 49h1v1h-1zM43 49h1v1h-1zM44 51h1v1h-1zM44 53h1v1h-1z"/>
<path fill="#cacaca" d="M53 5h1v1h-1zM4 13h1v1h-1zM3 18h1v1h-1zM2 24h1v1h-1zM1 40h1v1h-1zM0 47h1v1h-1zM55 51h1v1h-1zM54 53h1v1h-1zM54 54h1v1h-1zM54 55h1v1h-1z"/>
<path fill="#ececec" d="M55 5h1v1h-1z"/>
<path fill="#dadada" d="M0 6h1v1h-1zM3 15h1v1h-1zM1 26h1v1h-1z"/>
<path fill="#c6c6c6" d="M1 6h1v1h-1zM53 6h1v1h-1zM4 12h1v1h-1zM4 15h1v1h-1zM4 16h1v1h-1zM3 20h1v1h-1zM3 21h1v1h-1zM2 26h1v1h-1zM2 27h1v1h-1zM2 28h1v1h-1zM2 29h1v1h-1zM1 42h1v1h-1zM1 43h1v1h-1zM0 50h1v1h-1zM55 50h1v1h-1zM0 51h1v1h-1zM54 51h1v1h-1zM0 52h1v1h-1zM0 53h1v1h-1zM53 53h1v1h-1zM53 54h1v1h-1zM53 55h1v1h-1z"/>
<path fill="#a6a6a6" d="M3 6h1v1h-1zM8 14h1v1h-1zM8 15h1v1h-1zM8 17h1v1h-1zM7 22h1v1h-1zM7 23h1v1h-1zM6 37h1v1h-1zM49 37h1v1h-1zM6 38h1v1h-1zM49 38h1v1h-1zM6 39h1v1h-1zM49 39h1v1h-1zM6 40h1v1h-1zM49 40h1v1h-1zM49 41h1v1h-1zM49 42h1v1h-1zM49 43h1v1h-1zM49 44h1v1h-1zM49 45h1v1h-1zM49 46h1v1h-1zM5 47h1v1h-1zM49 47h1v1h-1zM5 48h1v1h-1zM49 48h1v1h-1zM5 49h1v1h-1zM49 49h1v1h-1z"/>
<path fill="#949494" d="M46 6h1v1h-1zM46 7h1v1h-1zM8 10h1v1h-1zM45 11h1v1h-1zM10 13h1v1h-1zM44 14h1v1h-1zM11 15h1v1h-1zM43 15h1v1h-1zM43 16h1v1h-1zM11 17h1v1h-1zM43 17h1v1h-1zM11 18h1v1h-1zM43 18h1v1h-1zM43 19h1v1h-1zM43 20h1v1h-1zM43 21h1v1h-1zM43 22h1v1h-1zM43 23h1v1h-1zM10 24h1v1h-1zM43 24h1v1h-1zM10 25h1v1h-1zM43 25h1v1h-1zM43 26h1v1h-1zM43 27h1v1h-1zM43 28h1v1h-1zM43 29h1v1h-1zM43 30h1v1h-1zM43 31h1v1h-1zM43 32h1v1h-1zM43 33h1v1h-1zM43 34h1v1h-1zM43 35h1v1h-1zM43 36h1v1h-1zM43 37h1v1h-1zM43 38h1v1h-1zM43 39h1v1h-1zM43 40h1v1h-1zM9 41h1v1h-1zM43 41h1v1h-1zM9 42h1v1h-1zM43 42h1v1h-1zM9 43h1v1h-1zM43 43h1v1h-1zM44 44h1v1h-1zM44 45h1v1h-1zM45 47h1v1h-1zM8 51h1v1h-1zM8 52h1v1h-1zM8 53h1v1h-1zM8 54h1v1h-1zM8 55h1v1h-1z"/>
<path fill="#bebebe" d="M52 6h1v1h-1zM5 13h1v1h-1zM5 14h1v1h-1zM5 15h1v1h-1zM5 16h1v1h-1zM4 20h1v1h-1zM4 21h1v1h-1zM3 27h1v1h-1zM3 28h1v1h-1zM3 29h1v1h-1zM3 30h1v1h-1zM53 30h1v1h-1zM3 31h1v1h-1zM53 31h1v1h-1zM53 32h1v1h-1zM53 33h1v1h-1zM54 34h1v1h-1zM54 35h1v1h-1zM54 36h1v1h-1zM55 39h1v1h-1zM55 40h1v1h-1zM55 41h1v1h-1zM55 42h1v1h-1zM2 43h1v1h-1zM2 44h1v1h-1zM55 44h1v1h-1zM55 45h1v1h-1zM55 46h1v1h-1zM54 48h1v1h-1zM53 49h1v1h-1zM1 52h1v1h-1zM1 53h1v1h-1zM52 53h1v1h-1zM1 54h1v1h-1zM1 55h1v1h-1z"/>
<path fill="#d4d4d4" d="M54 6h1v1h-1zM1 7h1v1h-1zM3 11h1v1h-1zM3 16h1v1h-1zM2 21h1v1h-1zM1 28h1v1h-1zM1 29h1v1h-1z"/>
<path fill="#8c8c8c" d="M6 7h1v1h-1zM45 7h1v1h-1zM7 8h1v1h-1zM8 9h1v1h-1zM9 10h1v1h-1zM44 10h1v1h-1zM43 11h1v1h-1zM11 12h1v1h-1zM42 12h1v1h-1zM40 13h2v1h-2zM12 14h1v1h-1zM21 14h16v1h-16zM20 36h16v1h-16zM18 37h2v1h-2zM37 37h2v1h-2zM17 38h1v1h-1zM39 38h1v1h-1zM40 39h1v1h-1zM16 40h1v1h-1zM15 43h1v1h-1zM15 44h1v1h-1zM41 44h1v1h-1zM41 45h1v1h-1zM43 47h1v1h-1zM44 48h1v1h-1zM14 51h1v1h-1zM45 51h1v1h-1zM14 52h1v1h-1zM45 53h1v1h-1z"/>
<path fill="#828282" d="M7 7h1v1h-1zM8 8h1v1h-1zM9 9h1v1h-1zM42 9h1v1h-1zM41 10h1v1h-1zM39 11h1v1h-1zM18 12h17v1h-17zM21 39h13v1h-13zM19 40h1v1h-1zM37 40h1v1h-1zM18 41h1v1h-1zM38 41h1v1h-1zM17 43h1v1h-1zM39 44h1v1h-1zM39 45h1v1h-1zM16 48h1v1h-1zM42 48h1v1h-1zM15 53h1v1h-1zM15 54h1v1h-1zM44 54h1v1h-1z"/>
<path fill="#e2e2e2" d="M0 8h1v1h-1zM55 8h1v1h-1zM55 9h1v1h-1zM2 10h1v1h-1zM55 10h1v1h-1zM3 13h1v1h-1zM2 18h1v1h-1zM0 36h1v1h-1zM0 37h1v1h-1zM0 38h1v1h-1z"/>
<path fill="#e0e0e0" d="M1 8h1v1h-1zM55 11h1v1h-1zM55 12h1v1h-1zM55 13h1v1h-1zM55 14h1v1h-1zM55 15h1v1h-1zM55 16h1v1h-1zM55 17h1v1h-1zM55 18h1v1h-1zM55 19h1v1h-1zM55 20h1v1h-1zM55 21h1v1h-1zM55 22h1v1h-1zM55 23h1v1h-1zM1 24h1v1h-1zM55 24h1v1h-1zM55 25h1v1h-1zM55 26h1v1h-1zM0 39h1v1h-1zM0 40h1v1h-1z"/>
<path fill="#e6e6e6" d="M0 9h1v1h-1zM2 11h1v1h-1zM2 12h1v1h-1zM2 17h1v1h-1zM1 22h1v1h-1zM0 30h1v1h-1zM0 31h1v1h-1zM0 32h1v1h-1z"/>
<path fill="#a0a0a0" d="M6 9h1v1h-1zM47 13h1v1h-1zM47 14h1v1h-1zM9 15h1v1h-1zM47 15h1v1h-1zM9 16h1v1h-1zM47 16h1v1h-1zM9 17h1v1h-1zM47 17h1v1h-1zM47 18h1v1h-1zM47 19h1v1h-1zM47 20h1v1h-1zM47 21h1v1h-1zM8 22h1v1h-1zM47 22h1v1h-1zM8 23h1v1h-1zM47 23h1v1h-1zM47 24h1v1h-1zM47 25h1v1h-1zM47 26h1v1h-1zM47 27h1v1h-1zM47 28h1v1h-1zM47 29h1v1h-1zM47 30h1v1h-1zM47 31h1v1h-1zM47 32h1v1h-1zM47 33h1v1h-1zM47 34h1v1h-1zM7 35h1v1h-1zM47 35h1v1h-1zM7 36h1v1h-1zM47 36h1v1h-1zM7 37h1v1h-1zM47 37h1v1h-1zM7 38h1v1h-1zM47 38h1v1h-1zM7 39h1v1h-1zM7 40h1v1h-1zM6 46h1v1h-1zM6 47h1v1h-1zM6 48h1v1h-1zM6 49h1v1h-1zM6 50h1v1h-1z"/>
<path fill="#eaeaea" d="M0 16h2v1h-2zM0 17h2v1h-2zM0 18h2v1h-2zM0 19h2v1h-2zM0 20h2v1h-2zM0 21h1v1h-1zM0 22h1v1h-1zM0 23h1v1h-1zM0 24h1v1h-1zM0 25h1v1h-1zM0 26h1v1h-1z"/>
<path fill="#d6d6d6" d="M1 27h1v1h-1zM0 43h1v1h-1z"/>
</g></svg></div>
<div class="sf" style="width:512px;height:512px;transform:matrix3d(0.3143117,0.059084565,0,-0.00025025378,0.68498542,-0.036754261,0,0.0002733112,0,0,1,0,486,1397,0,1)">
<svg xmlns="http://www.w3.org/2000/svg" width="512" height="512" viewBox="0 0 56 56"><defs><filter id="bl2" x="0" y="0" width="1" height="1" color-interpolation-filters="sRGB"><feGaussianBlur in="SourceGraphic" stdDeviation="0.5" edgeMode="duplicate" result="b"/><feTurbulence type="fractalNoise" baseFrequency="0.8 1.3" numOctaves="2" seed="12" result="t1"/><feColorMatrix in="t1" type="matrix" values="1 0 0 0 0 1 0 0 0 0 1 0 0 0 0 0 0 0 0 1" result="n1"/><feComposite in="b" in2="n1" operator="arithmetic" k1="0" k2="1" k3="0.4" k4="-0.2" result="h"/><feComponentTransfer in="h" result="c"><feFuncR type="table" tableValues="0.000 0.000 0.000 0.000 0.000 0.000 0.000 0.000 0.000 0.000 0.000 0.000 0.000 0.000 0.000 0.000 0.000 0.000 0.000 0.000 0.000 0.149 0.298 0.447 0.596 0.745 0.796 0.847 0.898 0.949 1.000 1.000 1.000 1.000 1.000 1.000 1.000 1.000 1.000 1.000 1.000 1.000 1.000 1.000 1.000 1.000 1.000 1.000 1.000 1.000 1.000 1.000"/><feFuncG type="table" tableValues="0.000 0.000 0.000 0.000 0.000 0.000 0.086 0.173 0.259 0.345 0.431 0.545 0.659 0.773 0.886 1.000 0.996 0.992 0.988 0.984 0.980 0.984 0.988 0.992 0.996 1.000 1.000 1.000 1.000 1.000 1.000 0.918 0.835 0.753 0.671 0.588 0.521 0.453 0.386 0.318 0.251 0.341 0.431 0.536 0.641 0.745 0.792 0.839 0.886 0.933 0.980 0.980"/><feFuncB type="table" tableValues="0.063 0.205 0.346 0.526 0.763 1.000 1.000 1.000 1.000 1.000 1.000 1.000 1.000 1.000 1.000 1.000 0.886 0.773 0.659 0.545 0.431 0.345 0.259 0.173 0.086 0.000 0.000 0.000 0.000 0.000 0.000 0.000 0.000 0.000 0.000 0.000 0.000 0.000 0.000 0.000 0.000 0.157 0.314 0.458 0.601 0.745 0.792 0.839 0.886 0.933 0.980 0.980"/></feComponentTransfer><feTurbulence type="fractalNoise" baseFrequency="0.9 1.6" numOctaves="2" seed="2" result="t2"/><feColorMatrix in="t2" type="matrix" values="1 0 0 0 0 1 0 0 0 0 1 0 0 0 0 0 0 0 0 1" result="n2"/><feComposite in="c" in2="n2" operator="arithmetic" k1="0.95" k2="0.43" k3="0" k4="0" result="d"/><feComposite in="d" in2="SourceAlpha" operator="in"/></filter></defs><g filter="url(#bl2)" shape-rendering="crispEdges">
<path fill="#d0d0d0" d="M0 0h1v1h-1zM50 0h1v1h-1zM0 1h1v1h-1zM50 1h1v1h-1zM0 2h1v1h-1zM50 2h1v1h-1zM50 3h1v1h-1zM50 4h1v1h-1zM50 5h1v1h-1zM50 6h1v1h-1zM50 7h1v1h-1zM50 8h1v1h-1zM50 9h1v1h-1zM50 10h1v1h-1zM50 11h1v1h-1zM50 12h1v1h-1zM50 13h1v1h-1zM50 14h1v1h-1zM50 15h1v1h-1zM50 16h1v1h-1zM50 17h1v1h-1zM50 18h1v1h-1zM50 19h1v1h-1zM50 20h1v1h-1zM50 21h1v1h-1zM50 22h1v1h-1zM50 23h1v1h-1zM50 24h1v1h-1zM50 25h1v1h-1zM50 26h1v1h-1zM50 27h1v1h-1zM50 28h1v1h-1zM50 29h1v1h-1zM50 30h1v1h-1zM50 31h1v1h-1zM50 32h1v1h-1zM50 33h1v1h-1zM50 34h1v1h-1zM1 35h1v1h-1zM50 35h1v1h-1zM1 36h1v1h-1zM50 36h1v1h-1zM1 37h1v1h-1zM50 37h1v1h-1zM1 38h1v1h-1zM50 38h1v1h-1zM50 39h1v1h-1zM50 40h1v1h-1zM50 41h1v1h-1zM50 42h1v1h-1zM50 43h1v1h-1zM50 44h1v1h-1zM50 45h1v1h-1zM50 46h1v1h-1zM50 47h1v1h-1zM50 48h1v1h-1zM50 49h1v1h-1zM50 50h1v1h-1zM50 51h1v1h-1z"/>
<path fill="#c4c4c4" d="M1 0h1v1h-1zM1 1h1v1h-1zM2 39h1v1h-1zM2 40h1v1h-1zM2 41h1v1h-1zM2 42h1v1h-1zM2 43h1v1h-1zM2 44h1v1h-1z"/>
<path fill="#b6b6b6" d="M2 0h1v1h-1zM47 0h1v1h-1zM2 1h1v1h-1zM47 1h1v1h-1zM2 2h1v1h-1zM47 2h1v1h-1zM2 3h1v1h-1zM47 3h1v1h-1zM2 4h1v1h-1zM47 4h1v1h-1zM47 5h1v1h-1zM47 6h1v1h-1zM3 36h1v1h-1zM3 37h1v1h-1zM3 38h1v1h-1zM3 39h1v1h-1zM3 40h1v1h-1z"/>
<path fill="#a6a6a6" d="M3 0h1v1h-1zM4 16h1v1h-1zM4 17h1v1h-1zM4 18h1v1h-1zM4 19h1v1h-1zM4 20h1v1h-1zM4 21h1v1h-1zM5 32h1v1h-1zM5 33h1v1h-1zM5 34h1v1h-1zM5 35h1v1h-1zM43 35h1v1h-1zM5 36h1v1h-1zM43 36h1v1h-1zM5 37h1v1h-1zM43 37h1v1h-1zM43 38h1v1h-1zM43 39h1v1h-1zM43 40h1v1h-1zM43 41h1v1h-1zM43 42h1v1h-1zM6 43h1v1h-1zM43 43h1v1h-1zM6 44h1v1h-1zM43 44h1v1h-1zM6 45h1v1h-1zM43 45h1v1h-1zM6 46h1v1h-1zM43 46h1v1h-1zM6 47h1v1h-1zM43 47h1v1h-1zM6 48h1v1h-1zM43 48h1v1h-1zM43 49h1v1h-1zM43 50h1v1h-1zM43 51h1v1h-1zM43 52h1v1h-1zM43 53h1v1h-1zM43 54h1v1h-1zM7 55h1v1h-1zM43 55h1v1h-1z"/>
<path fill="#a0a0a0" d="M4 0h1v1h-1zM4 1h1v1h-1zM42 6h1v1h-1zM42 7h1v1h-1zM42 8h1v1h-1zM42 9h1v1h-1zM42 10h1v1h-1zM42 11h1v1h-1zM42 12h1v1h-1zM42 13h1v1h-1zM5 14h1v1h-1zM42 14h1v1h-1zM5 15h1v1h-1zM42 15h1v1h-1zM5 16h1v1h-1zM42 16h1v1h-1zM5 17h1v1h-1zM42 17h1v1h-1zM5 18h1v1h-1zM42 18h1v1h-1zM5 19h1v1h-1zM42 19h1v1h-1zM42 20h1v1h-1zM42 21h1v1h-1zM42 22h1v1h-1zM42 23h1v1h-1zM42 24h1v1h-1zM42 25h1v1h-1zM6 26h1v1h-1zM42 26h1v1h-1zM6 27h1v1h-1zM42 27h1v1h-1zM6 28h1v1h-1zM42 28h1v1h-1zM6 29h1v1h-1zM42 29h1v1h-1zM6 30h1v1h-1zM42 30h1v1h-1zM6 31h1v1h-1zM42 31h1v1h-1zM42 32h1v1h-1zM42 33h1v1h-1zM42 34h1v1h-1zM42 35h1v1h-1zM42 36h1v1h-1zM7 37h1v1h-1zM42 37h1v1h-1zM7 38h1v1h-1zM42 38h1v1h-1zM7 39h1v1h-1zM42 39h1v1h-1zM7 40h1v1h-1zM42 40h1v1h-1zM7 41h1v1h-1zM42 41h1v1h-1zM7 42h1v1h-1zM42 42h1v1h-1zM42 43h1v1h-1zM42 44h1v1h-1zM42 45h1v1h-1zM42 46h1v1h-1zM42 47h1v1h-1zM8 48h1v1h-1zM42 48h1v1h-1zM8 49h1v1h-1zM42 49h1v1h-1zM8 50h1v1h-1zM42 50h1v1h-1zM8 51h1v1h-1zM42 51h1v1h-1zM8 52h1v1h-1zM42 52h1v1h-1zM8 53h1v1h-1zM42 53h1v1h-1zM42 54h1v1h-1zM42 55h1v1h-1z"/>
<path fill="#9a9a9a" d="M5 0h1v1h-1zM41 0h1v1h-1zM5 1h1v1h-1zM41 1h1v1h-1zM5 2h1v1h-1zM41 2h1v1h-1zM41 3h1v1h-1zM41 4h1v1h-1zM41 5h1v1h-1zM41 6h1v1h-1zM41 7h1v1h-1zM6 8h1v1h-1zM41 8h1v1h-1zM6 9h1v1h-1zM41 9h1v1h-1zM6 10h1v1h-1zM41 10h1v1h-1zM6 11h1v1h-1zM41 11h1v1h-1zM6 12h1v1h-1zM41 12h1v1h-1zM6 13h1v1h-1zM41 13h1v1h-1zM41 14h1v1h-1zM41 15h1v1h-1zM41 16h1v1h-1zM41 17h1v1h-1zM41 18h1v1h-1zM7 19h1v1h-1zM41 19h1v1h-1zM7 20h1v1h-1zM41 20h1v1h-1zM7 21h1v1h-1zM41 21h1v1h-1zM7 22h1v1h-1zM41 22h1v1h-1zM7 23h1v1h-1zM41 23h1v1h-1zM7 24h1v1h-1zM41 24h1v1h-1zM41 25h1v1h-1zM41 26h1v1h-1zM41 27h1v1h-1zM41 28h1v1h-1zM41 29h1v1h-1zM8 30h1v1h-1zM41 30h1v1h-1zM8 31h1v1h-1zM41 31h1v1h-1zM8 32h1v1h-1zM41 32h1v1h-1zM8 33h1v1h-1zM41 33h1v1h-1zM8 34h1v1h-1zM41 34h1v1h-1zM8 35h1v1h-1zM41 35h1v1h-1zM41 36h1v1h-1zM41 37h1v1h-1zM41 38h1v1h-1zM41 39h1v1h-1zM41 40h1v1h-1zM41 41h1v1h-1zM9 42h1v1h-1zM41 42h1v1h-1zM9 43h1v1h-1zM41 43h1v1h-1zM9 44h1v1h-1zM41 44h1v1h-1zM9 45h1v1h-1zM41 45h1v1h-1zM9 46h1v1h-1zM41 46h1v1h-1zM9 47h1v1h-1zM41 47h1v1h-1zM41 48h1v1h-1zM41 49h1v1h-1zM41 50h1v1h-1zM41 51h1v1h-1zM10 52h1v1h-1zM41 52h1v1h-1zM10 53h1v1h-1zM41 53h1v1h-1zM10 54h1v1h-1zM41 54h1v1h-1zM10 55h1v1h-1zM41 55h1v1h-1z"/>
<path fill="#969696" d="M6 0h1v1h-1zM40 0h1v1h-1zM6 1h1v1h-1zM40 1h1v1h-1zM40 2h1v1h-1zM40 3h1v1h-1zM40 4h1v1h-1zM40 5h1v1h-1zM40 6h1v1h-1zM7 7h1v1h-1zM40 7h1v1h-1zM7 8h1v1h-1zM40 8h1v1h-1zM7 9h1v1h-1zM40 9h1v1h-1zM7 10h1v1h-1zM40 10h1v1h-1zM7 11h1v1h-1zM40 11h1v1h-1zM7 12h1v1h-1zM40 12h1v1h-1zM40 13h1v1h-1zM40 14h1v1h-1zM40 15h1v1h-1zM40 16h1v1h-1zM40 17h1v1h-1zM8 18h1v1h-1zM40 18h1v1h-1zM8 19h1v1h-1zM40 19h1v1h-1zM8 20h1v1h-1zM40 20h1v1h-1zM8 21h1v1h-1zM40 21h1v1h-1zM8 22h1v1h-1zM40 22h1v1h-1zM8 23h1v1h-1zM40 23h1v1h-1zM40 24h1v1h-1zM40 25h1v1h-1zM40 26h1v1h-1zM40 27h1v1h-1zM40 28h1v1h-1zM9 29h1v1h-1zM40 29h1v1h-1zM9 30h1v1h-1zM40 30h1v1h-1zM9 31h1v1h-1zM40 31h1v1h-1zM9 32h1v1h-1zM40 32h1v1h-1zM9 33h1v1h-1zM40 33h1v1h-1zM9 34h1v1h-1zM40 34h1v1h-1zM40 35h1v1h-1zM40 36h1v1h-1zM40 37h1v1h-1zM40 38h1v1h-1zM40 39h1v1h-1zM40 40h1v1h-1zM10 41h1v1h-1zM40 41h1v1h-1zM10 42h1v1h-1zM40 42h1v1h-1zM10 43h1v1h-1zM10 44h1v1h-1zM10 45h1v1h-1zM11 48h1v1h-1zM11 49h1v1h-1zM11 50h1v1h-1zM11 51h1v1h-1zM11 52h1v1h-1zM12 55h1v1h-1z"/>
<path fill="#929292" d="M7 0h1v1h-1zM39 0h1v1h-1zM39 1h1v1h-1zM39 2h1v1h-1zM39 3h1v1h-1zM39 4h1v1h-1zM39 5h1v1h-1zM8 6h1v1h-1zM39 6h1v1h-1zM8 7h1v1h-1zM39 7h1v1h-1zM8 8h1v1h-1zM39 8h1v1h-1zM8 9h1v1h-1zM39 9h1v1h-1zM8 10h1v1h-1zM39 10h1v1h-1zM8 11h1v1h-1zM39 11h1v1h-1zM39 12h1v1h-1zM39 13h1v1h-1zM39 14h1v1h-1zM39 15h1v1h-1zM39 16h1v1h-1zM9 17h1v1h-1zM39 17h1v1h-1zM9 18h1v1h-1zM39 18h1v1h-1zM9 19h1v1h-1zM39 19h1v1h-1zM9 20h1v1h-1zM9 21h1v1h-1zM9 22h1v1h-1zM10 29h1v1h-1zM10 30h1v1h-1zM10 31h1v1h-1zM10 32h1v1h-1zM10 33h1v1h-1zM10 34h1v1h-1zM11 38h1v1h-1zM11 39h1v1h-1zM11 40h1v1h-1zM11 41h1v1h-1zM11 42h1v1h-1zM12 46h1v1h-1zM12 47h1v1h-1zM12 48h1v1h-1zM12 49h1v1h-1zM13 51h1v1h-1zM13 52h1v1h-1zM13 53h1v1h-1zM13 54h1v1h-1z"/>
<path fill="#909090" d="M8 0h1v1h-1zM8 1h1v1h-1zM8 2h1v1h-1zM8 3h1v1h-1zM8 4h1v1h-1zM8 5h1v1h-1zM9 11h1v1h-1zM9 12h1v1h-1zM9 13h1v1h-1zM9 14h1v1h-1zM9 15h1v1h-1zM9 16h1v1h-1zM39 20h1v1h-1zM39 21h1v1h-1zM39 22h1v1h-1zM39 23h1v1h-1zM10 24h1v1h-1zM39 24h1v1h-1zM10 25h1v1h-1zM39 25h1v1h-1zM10 26h1v1h-1zM39 26h1v1h-1zM10 27h1v1h-1zM39 27h1v1h-1zM10 28h1v1h-1zM39 28h1v1h-1zM39 29h1v1h-1zM39 30h1v1h-1zM39 31h1v1h-1zM39 32h1v1h-1zM11 33h1v1h-1zM39 33h1v1h-1zM11 34h1v1h-1zM39 34h1v1h-1zM11 35h1v1h-1zM39 35h1v1h-1zM11 36h1v1h-1zM39 36h1v1h-1zM11 37h1v1h-1zM39 37h1v1h-1zM39 38h1v1h-1zM39 39h1v1h-1zM39 40h1v1h-1zM12 41h1v1h-1zM39 41h1v1h-1zM12 42h1v1h-1zM39 42h1v1h-1zM12 43h1v1h-1zM39 43h1v1h-1zM12 44h1v1h-1zM39 44h1v1h-1zM12 45h1v1h-1zM13 47h1v1h-1zM13 48h1v1h-1zM13 49h1v1h-1zM13 50h1v1h-1zM14 52h1v1h-1zM14 53h1v1h-1zM14 54h1v1h-1zM14 55h1v1h-1z"/>
<path fill="#8c8c8c" d="M9 0h1v1h-1zM9 1h1v1h-1zM9 2h1v1h-1zM9 3h1v1h-1zM9 4h1v1h-1zM38 10h1v1h-1zM38 11h1v1h-1zM38 12h1v1h-1zM10 13h1v1h-1zM38 13h1v1h-1zM10 14h1v1h-1zM38 14h1v1h-1zM10 15h1v1h-1zM38 15h1v1h-1zM10 16h1v1h-1zM38 16h1v1h-1zM10 17h1v1h-1zM38 17h1v1h-1zM38 18h1v1h-1zM38 19h1v1h-1zM38 20h1v1h-1zM38 21h1v1h-1zM38 22h1v1h-1zM11 23h1v1h-1zM38 23h1v1h-1zM11 24h1v1h-1zM38 24h1v1h-1zM11 25h1v1h-1zM38 25h1v1h-1zM11 26h1v1h-1zM38 26h1v1h-1zM11 27h1v1h-1zM12 32h1v1h-1zM12 33h1v1h-1zM12 34h1v1h-1zM12 35h1v1h-1zM13 38h1v1h-1zM13 39h1v1h-1zM13 40h1v1h-1zM13 41h1v1h-1zM13 42h1v1h-1zM14 44h1v1h-1zM14 45h1v1h-1zM14 46h1v1h-1zM14 47h1v1h-1zM15 49h1v1h-1zM15 50h1v1h-1zM15 51h1v1h-1zM15 52h1v1h-1zM16 54h1v1h-1zM16 55h1v1h-1z"/>
<path fill="#868686" d="M10 0h1v1h-1zM11 9h1v1h-1zM11 10h1v1h-1zM11 11h1v1h-1zM11 12h1v1h-1zM11 13h1v1h-1zM37 17h1v1h-1zM12 18h1v1h-1zM37 18h1v1h-1zM12 19h1v1h-1zM37 19h1v1h-1zM12 20h1v1h-1zM37 20h1v1h-1zM12 21h1v1h-1zM37 21h1v1h-1zM12 22h1v1h-1zM37 22h1v1h-1zM37 23h1v1h-1zM37 24h1v1h-1zM37 25h1v1h-1zM13 26h1v1h-1zM37 26h1v1h-1zM13 27h1v1h-1zM37 27h1v1h-1zM13 28h1v1h-1zM37 28h1v1h-1zM13 29h1v1h-1zM37 29h1v1h-1zM14 32h1v1h-1zM14 33h1v1h-1zM14 34h1v1h-1zM14 35h1v1h-1zM15 38h1v1h-1zM15 39h1v1h-1zM15 40h1v1h-1zM15 41h1v1h-1zM16 42h1v1h-1zM16 43h1v1h-1zM16 44h1v1h-1zM16 45h1v1h-1zM17 48h1v1h-1zM17 49h1v1h-1zM17 50h1v1h-1zM17 51h1v1h-1z"/>
<path fill="#828282" d="M11 0h1v1h-1zM11 1h1v1h-1zM11 2h1v1h-1zM11 3h1v1h-1zM12 9h1v1h-1zM12 10h1v1h-1zM12 11h1v1h-1zM36 11h1v1h-1zM12 12h1v1h-1zM36 12h1v1h-1zM12 13h1v1h-1zM36 13h1v1h-1zM36 14h1v1h-1zM36 15h1v1h-1zM36 16h1v1h-1zM13 17h1v1h-1zM36 17h1v1h-1zM13 18h1v1h-1zM36 18h1v1h-1zM13 19h1v1h-1zM36 19h1v1h-1zM13 20h1v1h-1zM36 20h1v1h-1zM36 21h1v1h-1zM14 24h1v1h-1zM14 25h1v1h-1zM14 26h1v1h-1zM14 27h1v1h-1zM15 30h1v1h-1zM15 31h1v1h-1zM15 32h1v1h-1zM15 33h1v1h-1zM16 35h1v1h-1zM16 36h1v1h-1zM16 37h1v1h-1zM16 38h1v1h-1zM17 41h1v1h-1zM17 42h1v1h-1zM17 43h1v1h-1zM37 43h1v1h-1zM17 44h1v1h-1zM37 44h1v1h-1zM37 45h1v1h-1zM37 46h1v1h-1zM37 47h1v1h-1zM18 48h1v1h-1zM37 48h1v1h-1zM18 49h1v1h-1zM37 49h1v1h-1zM18 50h1v1h-1zM37 50h1v1h-1zM18 51h1v1h-1zM37 51h1v1h-1zM37 52h1v1h-1zM37 53h1v1h-1zM37 54h1v1h-1zM19 55h1v1h-1zM37 55h1v1h-1z"/>
<path fill="#7e7e7e" d="M12 0h1v1h-1zM12 1h1v1h-1zM12 2h1v1h-1zM12 3h1v1h-1zM12 4h1v1h-1zM35 7h1v1h-1zM35 8h1v1h-1zM13 9h1v1h-1zM35 9h1v1h-1zM13 10h1v1h-1zM35 10h1v1h-1zM13 11h1v1h-1zM35 11h1v1h-1zM13 12h1v1h-1zM35 12h1v1h-1zM35 13h1v1h-1zM35 14h1v1h-1zM35 15h1v1h-1zM14 16h1v1h-1zM35 16h1v1h-1zM14 17h1v1h-1zM14 18h1v1h-1zM14 19h1v1h-1zM15 22h1v1h-1zM15 23h1v1h-1zM15 24h1v1h-1zM15 25h1v1h-1zM16 27h1v1h-1zM16 28h1v1h-1zM16 29h1v1h-1zM16 30h1v1h-1zM17 33h1v1h-1zM36 33h1v1h-1zM17 34h1v1h-1zM36 34h1v1h-1zM17 35h1v1h-1zM36 35h1v1h-1zM17 36h1v1h-1zM36 36h1v1h-1zM36 37h1v1h-1zM36 38h1v1h-1zM18 39h1v1h-1zM36 39h1v1h-1zM18 40h1v1h-1zM36 40h1v1h-1zM18 41h1v1h-1zM36 41h1v1h-1zM18 42h1v1h-1zM36 42h1v1h-1zM36 43h1v1h-1zM19 47h1v1h-1zM19 48h1v1h-1zM19 49h1v1h-1zM19 50h1v1h-1zM20 55h1v1h-1z"/>
<path fill="#7a7a7a" d="M13 0h1v1h-1zM13 1h1v1h-1zM13 2h1v1h-1zM13 3h1v1h-1zM34 3h1v1h-1zM34 4h1v1h-1zM34 5h1v1h-1zM34 6h1v1h-1zM34 7h1v1h-1zM14 8h1v1h-1zM34 8h1v1h-1zM14 9h1v1h-1zM34 9h1v1h-1zM14 10h1v1h-1zM34 10h1v1h-1zM14 11h1v1h-1zM34 11h1v1h-1zM15 15h1v1h-1zM15 16h1v1h-1zM15 17h1v1h-1zM15 18h1v1h-1zM16 20h1v1h-1zM16 21h1v1h-1zM16 22h1v1h-1zM17 25h1v1h-1zM17 26h1v1h-1zM35 26h1v1h-1zM17 27h1v1h-1zM35 27h1v1h-1zM17 28h1v1h-1zM35 28h1v1h-1zM35 29h1v1h-1zM35 30h1v1h-1zM18 31h1v1h-1zM35 31h1v1h-1zM18 32h1v1h-1zM35 32h1v1h-1zM18 33h1v1h-1zM35 33h1v1h-1zM18 34h1v1h-1zM35 34h1v1h-1zM35 35h1v1h-1zM19 38h1v1h-1zM19 39h1v1h-1zM19 40h1v1h-1zM19 41h1v1h-1zM20 45h1v1h-1zM20 46h1v1h-1zM20 47h1v1h-1zM20 48h1v1h-1zM20 49h1v1h-1zM21 54h1v1h-1zM21 55h1v1h-1zM36 55h1v1h-1z"/>
<path fill="#767676" d="M14 0h1v1h-1zM33 0h1v1h-1zM14 1h1v1h-1zM33 1h1v1h-1zM14 2h1v1h-1zM33 2h1v1h-1zM14 3h1v1h-1zM33 3h1v1h-1zM33 4h1v1h-1zM33 5h1v1h-1zM33 6h1v1h-1zM15 7h1v1h-1zM15 8h1v1h-1zM15 9h1v1h-1zM15 10h1v1h-1zM16 12h1v1h-1zM16 13h1v1h-1zM16 14h1v1h-1zM16 15h1v1h-1zM17 17h1v1h-1zM17 18h1v1h-1zM17 19h1v1h-1zM17 20h1v1h-1zM34 20h1v1h-1zM34 21h1v1h-1zM34 22h1v1h-1zM18 23h1v1h-1zM34 23h1v1h-1zM18 24h1v1h-1zM34 24h1v1h-1zM18 25h1v1h-1zM34 25h1v1h-1zM18 26h1v1h-1zM34 26h1v1h-1zM34 27h1v1h-1zM34 28h1v1h-1zM19 29h1v1h-1zM19 30h1v1h-1zM19 31h1v1h-1zM19 32h1v1h-1zM20 35h1v1h-1zM20 36h1v1h-1zM20 37h1v1h-1zM20 38h1v1h-1zM20 39h1v1h-1zM21 43h1v1h-1zM21 44h1v1h-1zM21 45h1v1h-1zM21 46h1v1h-1zM35 46h1v1h-1zM21 47h1v1h-1zM35 47h1v1h-1zM21 48h1v1h-1zM35 48h1v1h-1zM35 49h1v1h-1zM35 50h1v1h-1zM35 51h1v1h-1zM35 52h1v1h-1zM22 53h1v1h-1zM35 53h1v1h-1zM22 54h1v1h-1zM35 54h1v1h-1zM22 55h1v1h-1z"/>
<path fill="#727272" d="M15 0h1v1h-1zM32 0h1v1h-1zM15 1h1v1h-1zM32 1h1v1h-1zM15 2h1v1h-1zM32 2h1v1h-1zM32 3h1v1h-1zM16 4h1v1h-1zM16 5h1v1h-1zM16 6h1v1h-1zM16 7h1v1h-1zM17 9h1v1h-1zM17 10h1v1h-1zM17 11h1v1h-1zM17 12h1v1h-1zM18 14h1v1h-1zM18 15h1v1h-1zM33 15h1v1h-1zM18 16h1v1h-1zM33 16h1v1h-1zM18 17h1v1h-1zM33 17h1v1h-1zM33 18h1v1h-1zM33 19h1v1h-1zM19 20h1v1h-1zM33 20h1v1h-1zM19 21h1v1h-1zM33 21h1v1h-1zM19 22h1v1h-1zM33 22h1v1h-1zM19 23h1v1h-1zM33 23h1v1h-1zM19 24h1v1h-1zM20 25h1v1h-1zM20 26h1v1h-1zM20 27h1v1h-1zM20 28h1v1h-1zM20 29h1v1h-1zM21 32h1v1h-1zM21 33h1v1h-1zM21 34h1v1h-1zM21 35h1v1h-1zM21 36h1v1h-1zM34 38h1v1h-1zM34 39h1v1h-1zM22 40h1v1h-1zM34 40h1v1h-1zM22 41h1v1h-1zM34 41h1v1h-1zM22 42h1v1h-1zM34 42h1v1h-1zM22 43h1v1h-1zM34 43h1v1h-1zM22 44h1v1h-1zM34 44h1v1h-1zM22 45h1v1h-1zM34 45h1v1h-1zM22 46h1v1h-1zM34 46h1v1h-1zM23 52h1v1h-1zM23 53h1v1h-1zM23 54h1v1h-1zM23 55h1v1h-1z"/>
<path fill="#6e6e6e" d="M16 0h1v1h-1zM31 0h1v1h-1zM17 1h1v1h-1zM31 1h1v1h-1zM17 2h1v1h-1zM31 2h1v1h-1zM17 3h1v1h-1zM31 3h1v1h-1zM17 4h1v1h-1zM31 4h1v1h-1zM31 5h1v1h-1zM18 6h1v1h-1zM31 6h1v1h-1zM18 7h1v1h-1zM31 7h1v1h-1zM18 8h1v1h-1zM18 9h1v1h-1zM19 11h1v1h-1zM19 12h1v1h-1zM19 13h1v1h-1zM19 14h1v1h-1zM19 15h1v1h-1zM20 16h1v1h-1zM32 16h1v1h-1zM20 17h1v1h-1zM32 17h1v1h-1zM20 18h1v1h-1zM32 18h1v1h-1zM20 19h1v1h-1zM32 19h1v1h-1zM20 20h1v1h-1zM32 20h1v1h-1zM21 21h1v1h-1zM32 21h1v1h-1zM21 22h1v1h-1zM32 22h1v1h-1zM21 23h1v1h-1zM32 23h1v1h-1zM21 24h1v1h-1zM32 24h1v1h-1zM21 25h1v1h-1zM32 25h1v1h-1zM32 26h1v1h-1zM22 27h1v1h-1zM22 28h1v1h-1zM22 29h1v1h-1zM22 30h1v1h-1zM22 31h1v1h-1zM22 32h1v1h-1zM33 32h1v1h-1zM22 33h1v1h-1zM33 33h1v1h-1zM33 34h1v1h-1zM33 35h1v1h-1zM33 36h1v1h-1zM23 37h1v1h-1zM33 37h1v1h-1zM23 38h1v1h-1zM33 38h1v1h-1zM23 39h1v1h-1zM33 39h1v1h-1zM23 40h1v1h-1zM33 40h1v1h-1zM23 41h1v1h-1zM23 42h1v1h-1zM23 43h1v1h-1zM24 50h1v1h-1zM24 51h1v1h-1zM24 52h1v1h-1zM24 53h1v1h-1zM24 54h1v1h-1zM24 55h1v1h-1z"/>
<path fill="#6c6c6c" d="M17 0h1v1h-1zM18 2h1v1h-1zM18 3h1v1h-1zM18 4h1v1h-1zM18 5h1v1h-1zM19 7h1v1h-1zM19 8h1v1h-1zM31 8h1v1h-1zM19 9h1v1h-1zM31 9h1v1h-1zM19 10h1v1h-1zM31 10h1v1h-1zM20 11h1v1h-1zM31 11h1v1h-1zM20 12h1v1h-1zM31 12h1v1h-1zM20 13h1v1h-1zM31 13h1v1h-1zM20 14h1v1h-1zM31 14h1v1h-1zM20 15h2v1h-2zM31 15h1v1h-1zM21 16h1v1h-1zM31 16h1v1h-1zM21 17h1v1h-1zM31 17h1v1h-1zM21 18h1v1h-1zM31 18h1v1h-1zM21 19h1v1h-1zM31 19h1v1h-1zM21 20h1v1h-1zM31 20h1v1h-1zM22 21h1v1h-1zM31 21h1v1h-1zM22 22h1v1h-1zM31 22h1v1h-1zM22 23h1v1h-1zM31 23h1v1h-1zM22 24h1v1h-1zM22 25h1v1h-1zM22 26h1v1h-1zM32 27h1v1h-1zM32 28h1v1h-1zM23 29h1v1h-1zM32 29h1v1h-1zM23 30h1v1h-1zM32 30h1v1h-1zM23 31h1v1h-1zM32 31h1v1h-1zM23 32h1v1h-1zM32 32h1v1h-1zM23 33h1v1h-1zM32 33h1v1h-1zM23 34h1v1h-1zM32 34h1v1h-1zM23 35h1v1h-1zM32 35h1v1h-1zM23 36h1v1h-1zM32 36h1v1h-1zM32 37h1v1h-1zM32 38h1v1h-1zM24 41h1v1h-1zM33 41h1v1h-1zM24 42h1v1h-1zM33 42h1v1h-1zM24 43h1v1h-1zM33 43h1v1h-1zM24 44h1v1h-1zM33 44h1v1h-1zM24 45h1v1h-1zM33 45h1v1h-1zM24 46h1v1h-1zM33 46h1v1h-1zM24 47h1v1h-1zM33 47h1v1h-1zM24 48h1v1h-1zM33 48h1v1h-1zM24 49h1v1h-1z"/>
<path fill="#6a6a6a" d="M18 0h1v1h-1zM30 0h1v1h-1zM18 1h1v1h-1zM30 1h1v1h-1zM30 2h1v1h-1zM19 3h1v1h-1zM30 3h1v1h-1zM19 4h1v1h-1zM30 4h1v1h-1zM19 5h1v1h-1zM30 5h1v1h-1zM19 6h2v1h-2zM30 6h1v1h-1zM20 7h1v1h-1zM30 7h1v1h-1zM20 8h1v1h-1zM30 8h1v1h-1zM20 9h1v1h-1zM30 9h1v1h-1zM20 10h2v1h-2zM30 10h1v1h-1zM21 11h1v1h-1zM30 11h1v1h-1zM21 12h1v1h-1zM30 12h1v1h-1zM21 13h1v1h-1zM30 13h1v1h-1zM21 14h1v1h-1zM30 14h1v1h-1zM22 15h1v1h-1zM30 15h1v1h-1zM22 16h1v1h-1zM30 16h1v1h-1zM22 17h1v1h-1zM22 18h1v1h-1zM22 19h1v1h-1zM22 20h1v1h-1zM23 21h1v1h-1zM23 22h1v1h-1zM23 23h1v1h-1zM23 24h1v1h-1zM31 24h1v1h-1zM23 25h1v1h-1zM31 25h1v1h-1zM23 26h1v1h-1zM31 26h1v1h-1zM23 27h1v1h-1zM31 27h1v1h-1zM23 28h1v1h-1zM31 28h1v1h-1zM31 29h1v1h-1zM31 30h1v1h-1zM24 31h1v1h-1zM31 31h1v1h-1zM24 32h1v1h-1zM31 32h1v1h-1zM24 33h1v1h-1zM31 33h1v1h-1zM24 34h1v1h-1zM31 34h1v1h-1zM24 35h1v1h-1zM31 35h1v1h-1zM24 36h1v1h-1zM31 36h1v1h-1zM24 37h1v1h-1zM31 37h1v1h-1zM24 38h1v1h-1zM31 38h1v1h-1zM24 39h1v1h-1zM32 39h1v1h-1zM24 40h1v1h-1zM32 40h1v1h-1zM32 41h1v1h-1zM32 42h1v1h-1zM32 43h1v1h-1zM25 44h1v1h-1zM32 44h1v1h-1zM25 45h1v1h-1zM32 45h1v1h-1zM25 46h1v1h-1zM32 46h1v1h-1zM25 47h1v1h-1zM32 47h1v1h-1zM25 48h1v1h-1zM32 48h1v1h-1zM25 49h1v1h-1zM32 49h2v1h-2zM25 50h1v1h-1zM32 50h2v1h-2zM25 51h1v1h-1zM33 51h1v1h-1zM25 52h1v1h-1zM33 52h1v1h-1zM25 53h1v1h-1zM33 53h1v1h-1zM25 54h1v1h-1zM33 54h1v1h-1zM25 55h1v1h-1zM33 55h1v1h-1z"/>
<path fill="#686868" d="M19 0h1v1h-1zM19 1h2v1h-2zM19 2h2v1h-2zM20 3h1v1h-1zM20 4h2v1h-2zM20 5h2v1h-2zM21 6h1v1h-1zM21 7h1v1h-1zM21 8h2v1h-2zM21 9h2v1h-2zM22 10h1v1h-1zM22 11h1v1h-1zM22 12h1v1h-1zM22 13h1v1h-1zM22 14h2v1h-2zM23 15h1v1h-1zM23 16h1v1h-1zM23 17h1v1h-1zM30 17h1v1h-1zM23 18h1v1h-1zM30 18h1v1h-1zM23 19h1v1h-1zM30 19h1v1h-1zM23 20h1v1h-1zM30 20h1v1h-1zM30 21h1v1h-1zM24 22h1v1h-1zM30 22h1v1h-1zM24 23h1v1h-1zM30 23h1v1h-1zM24 24h1v1h-1zM30 24h1v1h-1zM24 25h1v1h-1zM30 25h1v1h-1zM24 26h1v1h-1zM30 26h1v1h-1zM24 27h1v1h-1zM30 27h1v1h-1zM24 28h1v1h-1zM30 28h1v1h-1zM24 29h1v1h-1zM30 29h1v1h-1zM24 30h1v1h-1zM30 30h1v1h-1zM25 31h1v1h-1zM30 31h1v1h-1zM25 32h1v1h-1zM30 32h1v1h-1zM25 33h1v1h-1zM30 33h1v1h-1zM25 34h1v1h-1zM30 34h1v1h-1zM25 35h1v1h-1zM30 35h1v1h-1zM25 36h1v1h-1zM30 36h1v1h-1zM25 37h1v1h-1zM30 37h1v1h-1zM25 38h2v1h-2zM30 38h1v1h-1zM25 39h2v1h-2zM31 39h1v1h-1zM25 40h2v1h-2zM31 40h1v1h-1zM25 41h2v1h-2zM31 41h1v1h-1zM25 42h2v1h-2zM31 42h1v1h-1zM25 43h2v1h-2zM31 43h1v1h-1zM26 44h1v1h-1zM31 44h1v1h-1zM26 45h1v1h-1zM31 45h1v1h-1zM26 46h1v1h-1zM31 46h1v1h-1zM26 47h1v1h-1zM31 47h1v1h-1zM26 48h1v1h-1zM31 48h1v1h-1zM26 49h1v1h-1zM31 49h1v1h-1zM26 50h1v1h-1zM31 50h1v1h-1zM26 51h1v1h-1zM31 51h2v1h-2zM26 52h1v1h-1zM31 52h2v1h-2zM26 53h1v1h-1zM31 53h2v1h-2zM26 54h1v1h-1zM32 54h1v1h-1zM26 55h1v1h-1zM32 55h1v1h-1z"/>
<path fill="#666666" d="M20 0h2v1h-2zM29 0h1v1h-1zM21 1h1v1h-1zM29 1h1v1h-1zM21 2h2v1h-2zM29 2h1v1h-1zM21 3h2v1h-2zM29 3h1v1h-1zM22 4h1v1h-1zM29 4h1v1h-1zM22 5h1v1h-1zM29 5h1v1h-1zM22 6h2v1h-2zM29 6h1v1h-1zM22 7h2v1h-2zM29 7h1v1h-1zM23 8h1v1h-1zM29 8h1v1h-1zM23 9h1v1h-1zM29 9h1v1h-1zM23 10h1v1h-1zM29 10h1v1h-1zM23 11h1v1h-1zM29 11h1v1h-1zM23 12h2v1h-2zM29 12h1v1h-1zM23 13h2v1h-2zM29 13h1v1h-1zM24 14h1v1h-1zM29 14h1v1h-1zM24 15h1v1h-1zM29 15h1v1h-1zM24 16h1v1h-1zM29 16h1v1h-1zM24 17h1v1h-1zM29 17h1v1h-1zM24 18h1v1h-1zM29 18h1v1h-1zM24 19h3v1h-3zM29 19h1v1h-1zM24 20h4v1h-4zM29 20h1v1h-1zM24 21h4v1h-4zM29 21h1v1h-1zM25 22h3v1h-3zM29 22h1v1h-1zM25 23h3v1h-3zM29 23h1v1h-1zM25 24h3v1h-3zM29 24h1v1h-1zM25 25h3v1h-3zM29 25h1v1h-1zM25 26h3v1h-3zM29 26h1v1h-1zM25 27h3v1h-3zM29 27h1v1h-1zM25 28h3v1h-3zM29 28h1v1h-1zM25 29h3v1h-3zM29 29h1v1h-1zM25 30h3v1h-3zM29 30h1v1h-1zM26 31h2v1h-2zM29 31h1v1h-1zM26 32h2v1h-2zM29 32h1v1h-1zM26 33h2v1h-2zM29 33h1v1h-1zM26 34h2v1h-2zM29 34h1v1h-1zM26 35h2v1h-2zM29 35h1v1h-1zM26 36h2v1h-2zM29 36h1v1h-1zM26 37h2v1h-2zM29 37h1v1h-1zM27 38h1v1h-1zM29 38h1v1h-1zM27 39h1v1h-1zM30 39h1v1h-1zM27 40h1v1h-1zM30 40h1v1h-1zM27 41h1v1h-1zM30 41h1v1h-1zM27 42h1v1h-1zM30 42h1v1h-1zM27 43h1v1h-1zM30 43h1v1h-1zM27 44h1v1h-1zM30 44h1v1h-1zM27 45h1v1h-1zM30 45h1v1h-1zM27 46h1v1h-1zM30 46h1v1h-1zM27 47h1v1h-1zM30 47h1v1h-1zM27 48h1v1h-1zM30 48h1v1h-1zM27 49h1v1h-1zM30 49h1v1h-1zM27 50h1v1h-1zM30 50h1v1h-1zM27 51h1v1h-1zM30 51h1v1h-1zM27 52h1v1h-1zM30 52h1v1h-1zM27 53h1v1h-1zM30 53h1v1h-1zM27 54h1v1h-1zM30 54h2v1h-2zM27 55h1v1h-1zM30 55h2v1h-2z"/>
<path fill="#646464" d="M22 0h2v1h-2zM27 0h2v1h-2zM22 1h2v1h-2zM26 1h3v1h-3zM23 2h1v1h-1zM26 2h3v1h-3zM23 3h2v1h-2zM26 3h3v1h-3zM23 4h2v1h-2zM26 4h3v1h-3zM23 5h2v1h-2zM26 5h3v1h-3zM24 6h1v1h-1zM26 6h3v1h-3zM24 7h5v1h-5zM24 8h5v1h-5zM24 9h5v1h-5zM24 10h5v1h-5zM24 11h5v1h-5zM25 12h4v1h-4zM25 13h4v1h-4zM25 14h4v1h-4zM25 15h4v1h-4zM25 16h4v1h-4zM25 17h4v1h-4zM25 18h4v1h-4zM27 19h2v1h-2zM28 20h1v1h-1zM28 21h1v1h-1zM28 22h1v1h-1zM28 23h1v1h-1zM28 24h1v1h-1zM28 25h1v1h-1zM28 26h1v1h-1zM28 27h1v1h-1zM28 28h1v1h-1zM28 29h1v1h-1zM28 30h1v1h-1zM28 31h1v1h-1zM28 32h1v1h-1zM28 33h1v1h-1zM28 34h1v1h-1zM28 35h1v1h-1zM28 36h1v1h-1zM28 37h1v1h-1zM28 38h1v1h-1zM28 39h2v1h-2zM28 40h2v1h-2zM28 41h2v1h-2zM28 42h2v1h-2zM28 43h2v1h-2zM28 44h2v1h-2zM28 45h2v1h-2zM28 46h2v1h-2zM28 47h2v1h-2zM28 48h2v1h-2zM28 49h2v1h-2zM28 50h2v1h-2zM28 51h2v1h-2zM28 52h2v1h-2zM28 53h2v1h-2zM28 54h2v1h-2zM28 55h2v1h-2z"/>
<path fill="#626262" d="M24 0h3v1h-3zM24 1h2v1h-2zM24 2h2v1h-2zM25 3h1v1h-1zM25 4h1v1h-1zM25 5h1v1h-1zM25 6h1v1h-1z"/>
<path fill="#7c7c7c" d="M34 0h1v1h-1zM34 1h1v1h-1zM34 2h1v1h-1zM13 4h1v1h-1zM13 5h1v1h-1zM13 6h1v1h-1zM13 7h1v1h-1zM13 8h1v1h-1zM14 12h1v1h-1zM14 13h1v1h-1zM14 14h1v1h-1zM14 15h1v1h-1zM35 17h1v1h-1zM35 18h1v1h-1zM15 19h1v1h-1zM35 19h1v1h-1zM15 20h1v1h-1zM35 20h1v1h-1zM15 21h1v1h-1zM35 21h1v1h-1zM35 22h1v1h-1zM16 23h1v1h-1zM35 23h1v1h-1zM16 24h1v1h-1zM35 24h1v1h-1zM16 25h1v1h-1zM35 25h1v1h-1zM16 26h1v1h-1zM17 29h1v1h-1zM17 30h1v1h-1zM17 31h1v1h-1zM17 32h1v1h-1zM18 35h1v1h-1zM18 36h1v1h-1zM18 37h1v1h-1zM18 38h1v1h-1zM19 42h1v1h-1zM19 43h1v1h-1zM19 44h1v1h-1zM36 44h1v1h-1zM19 45h1v1h-1zM36 45h1v1h-1zM19 46h1v1h-1zM36 46h1v1h-1zM36 47h1v1h-1zM36 48h1v1h-1zM36 49h1v1h-1zM20 50h1v1h-1zM36 50h1v1h-1zM20 51h1v1h-1zM36 51h1v1h-1zM20 52h1v1h-1zM36 52h1v1h-1zM20 53h1v1h-1zM36 53h1v1h-1zM20 54h1v1h-1zM36 54h1v1h-1z"/>
<path fill="#808080" d="M35 0h1v1h-1zM35 1h1v1h-1zM35 2h1v1h-1zM35 3h1v1h-1zM35 4h1v1h-1zM12 5h1v1h-1zM35 5h1v1h-1zM12 6h1v1h-1zM35 6h1v1h-1zM12 7h1v1h-1zM12 8h1v1h-1zM13 13h1v1h-1zM13 14h1v1h-1zM13 15h1v1h-1zM13 16h1v1h-1zM14 20h1v1h-1zM14 21h1v1h-1zM14 22h1v1h-1zM36 22h1v1h-1zM14 23h1v1h-1zM36 23h1v1h-1zM36 24h1v1h-1zM36 25h1v1h-1zM15 26h1v1h-1zM36 26h1v1h-1zM15 27h1v1h-1zM36 27h1v1h-1zM15 28h1v1h-1zM36 28h1v1h-1zM15 29h1v1h-1zM36 29h1v1h-1zM36 30h1v1h-1zM16 31h1v1h-1zM36 31h1v1h-1zM16 32h1v1h-1zM36 32h1v1h-1zM16 33h1v1h-1zM16 34h1v1h-1zM17 37h1v1h-1zM17 38h1v1h-1zM17 39h1v1h-1zM17 40h1v1h-1zM18 43h1v1h-1zM18 44h1v1h-1zM18 45h1v1h-1zM18 46h1v1h-1zM18 47h1v1h-1zM19 51h1v1h-1zM19 52h1v1h-1zM19 53h1v1h-1zM19 54h1v1h-1z"/>
<path fill="#848484" d="M36 0h1v1h-1zM36 1h1v1h-1zM36 2h1v1h-1zM36 3h1v1h-1zM11 4h1v1h-1zM36 4h1v1h-1zM11 5h1v1h-1zM36 5h1v1h-1zM11 6h1v1h-1zM36 6h1v1h-1zM11 7h1v1h-1zM36 7h1v1h-1zM11 8h1v1h-1zM36 8h1v1h-1zM36 9h1v1h-1zM36 10h1v1h-1zM12 14h1v1h-1zM12 15h1v1h-1zM12 16h1v1h-1zM12 17h1v1h-1zM13 21h1v1h-1zM13 22h1v1h-1zM13 23h1v1h-1zM13 24h1v1h-1zM13 25h1v1h-1zM14 28h1v1h-1zM14 29h1v1h-1zM14 30h1v1h-1zM37 30h1v1h-1zM14 31h1v1h-1zM37 31h1v1h-1zM37 32h1v1h-1zM37 33h1v1h-1zM15 34h1v1h-1zM37 34h1v1h-1zM15 35h1v1h-1zM37 35h1v1h-1zM15 36h1v1h-1zM37 36h1v1h-1zM15 37h1v1h-1zM37 37h1v1h-1zM37 38h1v1h-1zM16 39h1v1h-1zM37 39h1v1h-1zM16 40h1v1h-1zM37 40h1v1h-1zM16 41h1v1h-1zM37 41h1v1h-1zM37 42h1v1h-1zM17 45h1v1h-1zM17 46h1v1h-1zM17 47h1v1h-1zM18 52h1v1h-1zM18 53h1v1h-1zM18 54h1v1h-1zM18 55h1v1h-1z"/>
<path fill="#8a8a8a" d="M37 0h1v1h-1zM37 1h1v1h-1zM37 2h1v1h-1zM37 3h1v1h-1zM10 7h1v1h-1zM10 8h1v1h-1zM10 9h1v1h-1zM10 10h1v1h-1zM10 11h1v1h-1zM10 12h1v1h-1zM11 19h1v1h-1zM11 20h1v1h-1zM11 21h1v1h-1zM11 22h1v1h-1zM12 27h1v1h-1zM38 27h1v1h-1zM12 28h1v1h-1zM38 28h1v1h-1zM12 29h1v1h-1zM38 29h1v1h-1zM12 30h1v1h-1zM38 30h1v1h-1zM12 31h1v1h-1zM38 31h1v1h-1zM38 32h1v1h-1zM38 33h1v1h-1zM13 34h1v1h-1zM38 34h1v1h-1zM13 35h1v1h-1zM38 35h1v1h-1zM13 36h1v1h-1zM38 36h1v1h-1zM13 37h1v1h-1zM38 37h1v1h-1zM38 38h1v1h-1zM38 39h1v1h-1zM14 40h1v1h-1zM38 40h1v1h-1zM14 41h1v1h-1zM38 41h1v1h-1zM14 42h1v1h-1zM38 42h1v1h-1zM14 43h1v1h-1zM38 43h1v1h-1zM15 45h1v1h-1zM15 46h1v1h-1zM15 47h1v1h-1zM15 48h1v1h-1zM16 50h1v1h-1zM16 51h1v1h-1zM16 52h1v1h-1zM16 53h1v1h-1z"/>
<path fill="#8e8e8e" d="M38 0h1v1h-1zM38 1h1v1h-1zM38 2h1v1h-1zM38 3h1v1h-1zM38 4h1v1h-1zM9 5h1v1h-1zM38 5h1v1h-1zM9 6h1v1h-1zM38 6h1v1h-1zM9 7h1v1h-1zM38 7h1v1h-1zM9 8h1v1h-1zM38 8h1v1h-1zM9 9h1v1h-1zM38 9h1v1h-1zM9 10h1v1h-1zM10 18h1v1h-1zM10 19h1v1h-1zM10 20h1v1h-1zM10 21h1v1h-1zM10 22h1v1h-1zM10 23h1v1h-1zM11 28h1v1h-1zM11 29h1v1h-1zM11 30h1v1h-1zM11 31h1v1h-1zM11 32h1v1h-1zM12 36h1v1h-1zM12 37h1v1h-1zM12 38h1v1h-1zM12 39h1v1h-1zM12 40h1v1h-1zM13 43h1v1h-1zM13 44h1v1h-1zM13 45h1v1h-1zM39 45h1v1h-1zM13 46h1v1h-1zM39 46h1v1h-1zM39 47h1v1h-1zM14 48h1v1h-1zM39 48h1v1h-1zM14 49h1v1h-1zM39 49h1v1h-1zM14 50h1v1h-1zM39 50h1v1h-1zM14 51h1v1h-1zM39 51h1v1h-1zM39 52h1v1h-1zM15 53h1v1h-1zM39 53h1v1h-1zM15 54h1v1h-1zM39 54h1v1h-1zM15 55h1v1h-1zM39 55h1v1h-1z"/>
<path fill="#9e9e9e" d="M42 0h1v1h-1zM42 1h1v1h-1zM42 2h1v1h-1zM42 3h1v1h-1zM42 4h1v1h-1zM42 5h1v1h-1zM5 9h1v1h-1zM5 10h1v1h-1zM5 11h1v1h-1zM5 12h1v1h-1zM5 13h1v1h-1zM6 20h1v1h-1zM6 21h1v1h-1zM6 22h1v1h-1zM6 23h1v1h-1zM6 24h1v1h-1zM6 25h1v1h-1zM7 31h1v1h-1zM7 32h1v1h-1zM7 33h1v1h-1zM7 34h1v1h-1zM7 35h1v1h-1zM7 36h1v1h-1zM8 42h1v1h-1zM8 43h1v1h-1zM8 44h1v1h-1zM8 45h1v1h-1zM8 46h1v1h-1zM8 47h1v1h-1zM9 54h1v1h-1zM9 55h1v1h-1z"/>
<path fill="#a2a2a2" d="M43 0h1v1h-1zM4 2h1v1h-1zM4 3h1v1h-1zM4 4h1v1h-1zM4 5h1v1h-1zM4 6h1v1h-1zM4 7h1v1h-1zM4 8h1v1h-1zM5 20h1v1h-1zM5 21h1v1h-1zM5 22h1v1h-1zM5 23h1v1h-1zM5 24h1v1h-1zM5 25h1v1h-1zM6 32h1v1h-1zM6 33h1v1h-1zM6 34h1v1h-1zM6 35h1v1h-1zM6 36h1v1h-1zM7 43h1v1h-1zM7 44h1v1h-1zM7 45h1v1h-1zM7 46h1v1h-1zM7 47h1v1h-1zM7 48h1v1h-1zM8 54h1v1h-1zM8 55h1v1h-1z"/>
<path fill="#a8a8a8" d="M44 0h1v1h-1zM3 1h1v1h-1zM44 1h1v1h-1zM3 2h1v1h-1zM44 2h1v1h-1zM3 3h1v1h-1zM44 3h1v1h-1zM3 4h1v1h-1zM44 4h1v1h-1zM3 5h1v1h-1zM44 5h1v1h-1zM44 6h1v1h-1zM44 7h1v1h-1zM44 8h1v1h-1zM44 9h1v1h-1zM44 10h1v1h-1zM44 11h1v1h-1zM44 12h1v1h-1zM44 13h1v1h-1zM44 14h1v1h-1zM44 15h1v1h-1zM44 16h1v1h-1zM44 17h1v1h-1zM44 18h1v1h-1zM44 19h1v1h-1zM44 20h1v1h-1zM44 21h1v1h-1zM4 22h1v1h-1zM44 22h1v1h-1zM4 23h1v1h-1zM44 23h1v1h-1zM4 24h1v1h-1zM44 24h1v1h-1zM4 25h1v1h-1zM44 25h1v1h-1zM4 26h1v1h-1zM4 27h1v1h-1zM4 28h1v1h-1zM5 38h1v1h-1zM5 39h1v1h-1zM5 40h1v1h-1zM5 41h1v1h-1zM5 42h1v1h-1zM6 49h1v1h-1zM6 50h1v1h-1zM6 51h1v1h-1zM6 52h1v1h-1zM6 53h1v1h-1zM6 54h1v1h-1z"/>
<path fill="#acacac" d="M45 0h1v1h-1zM45 1h1v1h-1zM45 2h1v1h-1zM45 3h1v1h-1zM45 4h1v1h-1zM45 5h1v1h-1zM45 6h1v1h-1zM45 7h1v1h-1zM45 8h1v1h-1zM45 9h1v1h-1zM45 10h1v1h-1zM3 11h1v1h-1zM45 11h1v1h-1zM3 12h1v1h-1zM45 12h1v1h-1zM3 13h1v1h-1zM45 13h1v1h-1zM3 14h1v1h-1zM45 14h1v1h-1zM3 15h1v1h-1zM45 15h1v1h-1zM45 16h1v1h-1zM45 17h1v1h-1zM45 18h1v1h-1zM45 19h1v1h-1zM45 20h1v1h-1zM4 35h1v1h-1zM4 36h1v1h-1zM4 37h1v1h-1zM4 38h1v1h-1zM4 39h1v1h-1zM4 40h1v1h-1zM4 41h1v1h-1zM5 49h1v1h-1zM5 50h1v1h-1zM5 51h1v1h-1zM5 52h1v1h-1zM5 53h1v1h-1zM44 53h1v1h-1zM5 54h1v1h-1zM44 54h1v1h-1zM44 55h1v1h-1z"/>
<path fill="#b0b0b0" d="M46 0h1v1h-1zM46 1h1v1h-1zM46 2h1v1h-1zM46 3h1v1h-1zM46 4h1v1h-1zM46 5h1v1h-1zM46 6h1v1h-1zM46 7h1v1h-1zM46 8h1v1h-1zM46 9h1v1h-1zM46 10h1v1h-1zM46 11h1v1h-1zM46 12h1v1h-1zM46 13h1v1h-1zM46 14h1v1h-1zM46 15h1v1h-1zM3 21h1v1h-1zM3 22h1v1h-1zM3 23h1v1h-1zM3 24h1v1h-1zM3 25h1v1h-1zM45 44h1v1h-1zM45 45h1v1h-1zM45 46h1v1h-1zM45 47h1v1h-1zM45 48h1v1h-1zM4 49h1v1h-1zM45 49h1v1h-1zM4 50h1v1h-1zM45 50h1v1h-1zM4 51h1v1h-1zM45 51h1v1h-1zM4 52h1v1h-1zM45 52h1v1h-1zM4 53h1v1h-1zM45 53h1v1h-1zM4 54h1v1h-1zM45 54h1v1h-1zM45 55h1v1h-1z"/>
<path fill="#bebebe" d="M48 0h1v1h-1zM48 1h1v1h-1zM48 2h1v1h-1zM48 3h1v1h-1zM48 4h1v1h-1zM48 5h1v1h-1zM48 6h1v1h-1zM48 7h1v1h-1zM48 8h1v1h-1zM48 9h1v1h-1zM48 10h1v1h-1zM48 11h1v1h-1zM48 12h1v1h-1zM48 13h1v1h-1zM48 14h1v1h-1zM48 15h1v1h-1zM48 16h1v1h-1zM48 17h1v1h-1zM48 18h1v1h-1zM48 19h1v1h-1zM48 20h1v1h-1zM48 21h1v1h-1zM2 22h1v1h-1zM48 22h1v1h-1zM2 23h1v1h-1zM48 23h1v1h-1zM2 24h1v1h-1zM48 24h1v1h-1zM2 25h1v1h-1zM48 25h1v1h-1zM2 26h1v1h-1zM48 26h1v1h-1zM2 27h1v1h-1z"/>
<path fill="#c6c6c6" d="M49 0h1v1h-1zM49 1h1v1h-1zM1 2h1v1h-1zM49 2h1v1h-1zM1 3h1v1h-1zM49 3h1v1h-1zM1 4h1v1h-1zM49 4h1v1h-1zM1 5h1v1h-1zM49 5h1v1h-1zM1 6h1v1h-1zM49 6h1v1h-1zM1 7h1v1h-1zM49 7h1v1h-1zM1 8h1v1h-1zM49 8h1v1h-1zM49 9h1v1h-1zM49 10h1v1h-1zM49 11h1v1h-1zM49 12h1v1h-1zM49 13h1v1h-1zM49 14h1v1h-1zM49 15h1v1h-1zM49 16h1v1h-1zM49 17h1v1h-1zM49 18h1v1h-1zM49 19h1v1h-1zM49 20h1v1h-1zM49 21h1v1h-1zM49 22h1v1h-1zM49 23h1v1h-1zM49 24h1v1h-1zM49 25h1v1h-1zM49 26h1v1h-1zM49 27h1v1h-1zM49 28h1v1h-1zM49 29h1v1h-1zM49 30h1v1h-1zM49 31h1v1h-1zM49 32h1v1h-1zM49 33h1v1h-1zM49 34h1v1h-1zM49 35h1v1h-1zM49 36h1v1h-1zM49 37h1v1h-1zM49 38h1v1h-1zM49 39h1v1h-1zM49 40h1v1h-1zM49 41h1v1h-1zM49 42h1v1h-1zM49 43h1v1h-1zM49 44h1v1h-1zM2 45h1v1h-1zM49 45h1v1h-1zM2 46h1v1h-1zM49 46h1v1h-1zM2 47h1v1h-1zM49 47h1v1h-1zM2 48h1v1h-1zM49 48h1v1h-1zM2 49h1v1h-1zM49 49h1v1h-1zM49 50h1v1h-1zM49 51h1v1h-1zM49 52h1v1h-1zM49 53h1v1h-1zM49 54h1v1h-1zM49 55h1v1h-1z"/>
<path fill="#d8d8d8" d="M51 0h1v1h-1zM51 1h1v1h-1zM51 2h1v1h-1zM51 3h1v1h-1zM51 4h1v1h-1zM51 5h1v1h-1zM51 6h1v1h-1zM51 7h1v1h-1zM51 8h1v1h-1zM51 9h1v1h-1zM51 10h1v1h-1zM51 11h1v1h-1zM51 12h1v1h-1zM51 13h1v1h-1zM51 14h1v1h-1zM51 15h1v1h-1zM51 16h1v1h-1zM51 17h1v1h-1zM51 18h1v1h-1zM51 19h1v1h-1zM51 20h1v1h-1zM51 21h1v1h-1zM51 22h1v1h-1zM51 23h1v1h-1zM51 24h1v1h-1zM0 25h1v1h-1zM51 25h1v1h-1zM0 26h1v1h-1zM51 26h1v1h-1zM0 27h1v1h-1zM51 27h1v1h-1zM0 28h1v1h-1zM51 28h1v1h-1zM0 29h1v1h-1zM51 29h1v1h-1zM0 30h1v1h-1zM51 30h1v1h-1zM51 31h1v1h-1zM51 32h1v1h-1zM51 33h1v1h-1zM51 34h1v1h-1zM51 35h1v1h-1zM51 36h1v1h-1zM51 37h1v1h-1zM51 38h1v1h-1zM51 39h1v1h-1zM51 40h1v1h-1zM51 41h1v1h-1zM51 42h1v1h-1zM51 43h1v1h-1zM51 44h1v1h-1zM51 45h1v1h-1zM51 46h1v1h-1zM51 47h1v1h-1zM51 48h1v1h-1zM51 49h1v1h-1zM51 50h1v1h-1zM51 51h1v1h-1zM1 52h1v1h-1zM51 52h1v1h-1zM1 53h1v1h-1zM51 53h1v1h-1zM1 54h1v1h-1zM51 54h1v1h-1zM1 55h1v1h-1zM51 55h1v1h-1z"/>
<path fill="#e0e0e0" d="M52 0h1v1h-1zM52 1h1v1h-1zM52 2h1v1h-1zM52 3h1v1h-1zM52 4h1v1h-1zM52 5h1v1h-1zM52 6h1v1h-1zM0 39h1v1h-1zM0 40h1v1h-1z"/>
<path fill="#e6e6e6" d="M53 0h1v1h-1zM53 1h1v1h-1zM53 2h1v1h-1zM53 3h1v1h-1zM53 4h1v1h-1zM53 5h1v1h-1zM53 6h1v1h-1zM53 7h1v1h-1zM53 8h1v1h-1zM53 9h1v1h-1zM53 10h1v1h-1zM53 11h1v1h-1zM53 12h1v1h-1zM0 45h1v1h-1zM0 46h1v1h-1zM54 51h1v1h-1zM54 52h1v1h-1zM54 53h1v1h-1zM54 54h1v1h-1zM54 55h1v1h-1z"/>
<path fill="#eaeaea" d="M54 0h1v1h-1zM54 1h1v1h-1zM54 2h1v1h-1zM54 3h1v1h-1zM54 4h1v1h-1zM54 5h1v1h-1zM54 6h1v1h-1zM54 7h1v1h-1zM54 8h1v1h-1zM54 9h1v1h-1zM54 10h1v1h-1zM54 11h1v1h-1zM54 12h1v1h-1zM54 13h1v1h-1zM55 30h1v1h-1zM55 31h1v1h-1zM55 32h1v1h-1zM55 33h1v1h-1zM55 34h1v1h-1zM55 35h1v1h-1zM55 36h1v1h-1zM55 37h1v1h-1zM55 38h1v1h-1zM55 39h1v1h-1zM55 40h1v1h-1zM55 41h1v1h-1zM55 42h1v1h-1zM55 43h1v1h-1zM55 44h1v1h-1zM55 45h1v1h-1zM55 46h1v1h-1zM55 47h1v1h-1zM55 48h1v1h-1zM0 49h1v1h-1zM55 49h1v1h-1zM0 50h1v1h-1zM55 50h1v1h-1zM0 51h1v1h-1zM55 51h1v1h-1zM55 52h1v1h-1zM55 53h1v1h-1zM55 54h1v1h-1zM55 55h1v1h-1z"/>
<path fill="#eeeeee" d="M55 0h1v1h-1zM55 1h1v1h-1zM55 2h1v1h-1zM55 3h1v1h-1z"/>
<path fill="#949494" d="M7 1h1v1h-1zM7 2h1v1h-1zM7 3h1v1h-1zM7 4h1v1h-1zM7 5h1v1h-1zM7 6h1v1h-1zM8 12h1v1h-1zM8 13h1v1h-1zM8 14h1v1h-1zM8 15h1v1h-1zM8 16h1v1h-1zM8 17h1v1h-1zM9 23h1v1h-1zM9 24h1v1h-1zM9 25h1v1h-1zM9 26h1v1h-1zM9 27h1v1h-1zM9 28h1v1h-1zM10 35h1v1h-1zM10 36h1v1h-1zM10 37h1v1h-1zM10 38h1v1h-1zM10 39h1v1h-1zM10 40h1v1h-1zM11 43h1v1h-1zM40 43h1v1h-1zM11 44h1v1h-1zM40 44h1v1h-1zM11 45h1v1h-1zM40 45h1v1h-1zM11 46h1v1h-1zM40 46h1v1h-1zM11 47h1v1h-1zM40 47h1v1h-1zM40 48h1v1h-1zM40 49h1v1h-1zM12 50h1v1h-1zM40 50h1v1h-1zM12 51h1v1h-1zM40 51h1v1h-1zM12 52h1v1h-1zM40 52h1v1h-1zM12 53h1v1h-1zM40 53h1v1h-1zM12 54h1v1h-1zM40 54h1v1h-1zM13 55h1v1h-1zM40 55h1v1h-1z"/>
<path fill="#888888" d="M10 1h1v1h-1zM10 2h1v1h-1zM10 3h1v1h-1zM10 4h1v1h-1zM37 4h1v1h-1zM10 5h1v1h-1zM37 5h1v1h-1zM10 6h1v1h-1zM37 6h1v1h-1zM37 7h1v1h-1zM37 8h1v1h-1zM37 9h1v1h-1zM37 10h1v1h-1zM37 11h1v1h-1zM37 12h1v1h-1zM37 13h1v1h-1zM11 14h1v1h-1zM37 14h1v1h-1zM11 15h1v1h-1zM37 15h1v1h-1zM11 16h1v1h-1zM37 16h1v1h-1zM11 17h1v1h-1zM11 18h1v1h-1zM12 23h1v1h-1zM12 24h1v1h-1zM12 25h1v1h-1zM12 26h1v1h-1zM13 30h1v1h-1zM13 31h1v1h-1zM13 32h1v1h-1zM13 33h1v1h-1zM14 36h1v1h-1zM14 37h1v1h-1zM14 38h1v1h-1zM14 39h1v1h-1zM15 42h1v1h-1zM15 43h1v1h-1zM15 44h1v1h-1zM38 44h1v1h-1zM38 45h1v1h-1zM16 46h1v1h-1zM38 46h1v1h-1zM16 47h1v1h-1zM38 47h1v1h-1zM16 48h1v1h-1zM38 48h1v1h-1zM16 49h1v1h-1zM38 49h1v1h-1zM38 50h1v1h-1zM38 51h1v1h-1zM17 52h1v1h-1zM38 52h1v1h-1zM17 53h1v1h-1zM38 53h1v1h-1zM17 54h1v1h-1zM38 54h1v1h-1zM17 55h1v1h-1zM38 55h1v1h-1z"/>
<path fill="#707070" d="M16 1h1v1h-1zM16 2h1v1h-1zM16 3h1v1h-1zM32 4h1v1h-1zM17 5h1v1h-1zM32 5h1v1h-1zM17 6h1v1h-1zM32 6h1v1h-1zM17 7h1v1h-1zM32 7h1v1h-1zM17 8h1v1h-1zM32 8h1v1h-1zM32 9h1v1h-1zM18 10h1v1h-1zM32 10h1v1h-1zM18 11h1v1h-1zM32 11h1v1h-1zM18 12h1v1h-1zM32 12h1v1h-1zM18 13h1v1h-1zM32 13h1v1h-1zM32 14h1v1h-1zM32 15h1v1h-1zM19 16h1v1h-1zM19 17h1v1h-1zM19 18h1v1h-1zM19 19h1v1h-1zM20 21h1v1h-1zM20 22h1v1h-1zM20 23h1v1h-1zM20 24h1v1h-1zM33 24h1v1h-1zM33 25h1v1h-1zM21 26h1v1h-1zM33 26h1v1h-1zM21 27h1v1h-1zM33 27h1v1h-1zM21 28h1v1h-1zM33 28h1v1h-1zM21 29h1v1h-1zM33 29h1v1h-1zM21 30h1v1h-1zM33 30h1v1h-1zM21 31h1v1h-1zM33 31h1v1h-1zM22 34h1v1h-1zM22 35h1v1h-1zM22 36h1v1h-1zM22 37h1v1h-1zM22 38h1v1h-1zM22 39h1v1h-1zM23 44h1v1h-1zM23 45h1v1h-1zM23 46h1v1h-1zM23 47h1v1h-1zM34 47h1v1h-1zM23 48h1v1h-1zM34 48h1v1h-1zM23 49h1v1h-1zM34 49h1v1h-1zM23 50h1v1h-1zM34 50h1v1h-1zM23 51h1v1h-1zM34 51h1v1h-1zM34 52h1v1h-1zM34 53h1v1h-1zM34 54h1v1h-1zM34 55h1v1h-1z"/>
<path fill="#a4a4a4" d="M43 1h1v1h-1zM43 2h1v1h-1zM43 3h1v1h-1zM43 4h1v1h-1zM43 5h1v1h-1zM43 6h1v1h-1zM43 7h1v1h-1zM43 8h1v1h-1zM4 9h1v1h-1zM43 9h1v1h-1zM4 10h1v1h-1zM43 10h1v1h-1zM4 11h1v1h-1zM43 11h1v1h-1zM4 12h1v1h-1zM43 12h1v1h-1zM4 13h1v1h-1zM43 13h1v1h-1zM4 14h1v1h-1zM43 14h1v1h-1zM4 15h1v1h-1zM43 15h1v1h-1zM43 16h1v1h-1zM43 17h1v1h-1zM43 18h1v1h-1zM43 19h1v1h-1zM43 20h1v1h-1zM43 21h1v1h-1zM43 22h1v1h-1zM43 23h1v1h-1zM43 24h1v1h-1zM43 25h1v1h-1zM5 26h1v1h-1zM43 26h1v1h-1zM5 27h1v1h-1zM43 27h1v1h-1zM5 28h1v1h-1zM43 28h1v1h-1zM5 29h1v1h-1zM43 29h1v1h-1zM5 30h1v1h-1zM43 30h1v1h-1zM5 31h1v1h-1zM43 31h1v1h-1zM43 32h1v1h-1zM43 33h1v1h-1zM43 34h1v1h-1zM6 37h1v1h-1zM6 38h1v1h-1zM6 39h1v1h-1zM6 40h1v1h-1zM6 41h1v1h-1zM6 42h1v1h-1zM7 49h1v1h-1zM7 50h1v1h-1zM7 51h1v1h-1zM7 52h1v1h-1zM7 53h1v1h-1zM7 54h1v1h-1z"/>
<path fill="#989898" d="M6 2h1v1h-1zM6 3h1v1h-1zM6 4h1v1h-1zM6 5h1v1h-1zM6 6h1v1h-1zM6 7h1v1h-1zM7 13h1v1h-1zM7 14h1v1h-1zM7 15h1v1h-1zM7 16h1v1h-1zM7 17h1v1h-1zM7 18h1v1h-1zM8 24h1v1h-1zM8 25h1v1h-1zM8 26h1v1h-1zM8 27h1v1h-1zM8 28h1v1h-1zM8 29h1v1h-1zM9 35h1v1h-1zM9 36h1v1h-1zM9 37h1v1h-1zM9 38h1v1h-1zM9 39h1v1h-1zM9 40h1v1h-1zM9 41h1v1h-1zM10 46h1v1h-1zM10 47h1v1h-1zM10 48h1v1h-1zM10 49h1v1h-1zM10 50h1v1h-1zM10 51h1v1h-1zM11 53h1v1h-1zM11 54h1v1h-1zM11 55h1v1h-1z"/>
<path fill="#d2d2d2" d="M0 3h1v1h-1zM0 4h1v1h-1zM0 5h1v1h-1zM0 6h1v1h-1zM0 7h1v1h-1zM0 8h1v1h-1zM0 9h1v1h-1zM1 39h1v1h-1zM1 40h1v1h-1zM1 41h1v1h-1zM1 42h1v1h-1z"/>
<path fill="#9c9c9c" d="M5 3h1v1h-1zM5 4h1v1h-1zM5 5h1v1h-1zM5 6h1v1h-1zM5 7h1v1h-1zM5 8h1v1h-1zM6 14h1v1h-1zM6 15h1v1h-1zM6 16h1v1h-1zM6 17h1v1h-1zM6 18h1v1h-1zM6 19h1v1h-1zM7 25h1v1h-1zM7 26h1v1h-1zM7 27h1v1h-1zM7 28h1v1h-1zM7 29h1v1h-1zM7 30h1v1h-1zM8 36h1v1h-1zM8 37h1v1h-1zM8 38h1v1h-1zM8 39h1v1h-1zM8 40h1v1h-1zM8 41h1v1h-1zM9 48h1v1h-1zM9 49h1v1h-1zM9 50h1v1h-1zM9 51h1v1h-1zM9 52h1v1h-1zM9 53h1v1h-1z"/>
<path fill="#747474" d="M15 3h1v1h-1zM15 4h1v1h-1zM15 5h1v1h-1zM15 6h1v1h-1zM33 7h1v1h-1zM16 8h1v1h-1zM33 8h1v1h-1zM16 9h1v1h-1zM33 9h1v1h-1zM16 10h1v1h-1zM33 10h1v1h-1zM16 11h1v1h-1zM33 11h1v1h-1zM33 12h1v1h-1zM17 13h1v1h-1zM33 13h1v1h-1zM17 14h1v1h-1zM33 14h1v1h-1zM17 15h1v1h-1zM17 16h1v1h-1zM18 18h1v1h-1zM18 19h1v1h-1zM18 20h1v1h-1zM18 21h1v1h-1zM18 22h1v1h-1zM19 25h1v1h-1zM19 26h1v1h-1zM19 27h1v1h-1zM19 28h1v1h-1zM34 29h1v1h-1zM20 30h1v1h-1zM34 30h1v1h-1zM20 31h1v1h-1zM34 31h1v1h-1zM20 32h1v1h-1zM34 32h1v1h-1zM20 33h1v1h-1zM34 33h1v1h-1zM20 34h1v1h-1zM34 34h1v1h-1zM34 35h1v1h-1zM34 36h1v1h-1zM21 37h1v1h-1zM34 37h1v1h-1zM21 38h1v1h-1zM21 39h1v1h-1zM21 40h1v1h-1zM21 41h1v1h-1zM21 42h1v1h-1zM22 47h1v1h-1zM22 48h1v1h-1zM22 49h1v1h-1zM22 50h1v1h-1zM22 51h1v1h-1zM22 52h1v1h-1zM35 55h1v1h-1z"/>
<path fill="#787878" d="M14 4h1v1h-1zM14 5h1v1h-1zM14 6h1v1h-1zM14 7h1v1h-1zM15 11h1v1h-1zM15 12h1v1h-1zM34 12h1v1h-1zM15 13h1v1h-1zM34 13h1v1h-1zM15 14h1v1h-1zM34 14h1v1h-1zM34 15h1v1h-1zM16 16h1v1h-1zM34 16h1v1h-1zM16 17h1v1h-1zM34 17h1v1h-1zM16 18h1v1h-1zM34 18h1v1h-1zM16 19h1v1h-1zM34 19h1v1h-1zM17 21h1v1h-1zM17 22h1v1h-1zM17 23h1v1h-1zM17 24h1v1h-1zM18 27h1v1h-1zM18 28h1v1h-1zM18 29h1v1h-1zM18 30h1v1h-1zM19 33h1v1h-1zM19 34h1v1h-1zM19 35h1v1h-1zM19 36h1v1h-1zM35 36h1v1h-1zM19 37h1v1h-1zM35 37h1v1h-1zM35 38h1v1h-1zM35 39h1v1h-1zM20 40h1v1h-1zM35 40h1v1h-1zM20 41h1v1h-1zM35 41h1v1h-1zM20 42h1v1h-1zM35 42h1v1h-1zM20 43h1v1h-1zM35 43h1v1h-1zM20 44h1v1h-1zM35 44h1v1h-1zM35 45h1v1h-1zM21 49h1v1h-1zM21 50h1v1h-1zM21 51h1v1h-1zM21 52h1v1h-1zM21 53h1v1h-1z"/>
<path fill="#ececec" d="M55 4h1v1h-1zM55 5h1v1h-1zM55 6h1v1h-1zM55 7h1v1h-1zM55 8h1v1h-1zM55 9h1v1h-1zM55 10h1v1h-1zM55 11h1v1h-1zM55 12h1v1h-1zM55 13h1v1h-1zM55 14h1v1h-1zM55 15h1v1h-1zM55 16h1v1h-1zM55 17h1v1h-1zM55 18h1v1h-1zM55 19h1v1h-1zM55 20h1v1h-1zM55 21h1v1h-1zM55 22h1v1h-1zM55 23h1v1h-1zM55 24h1v1h-1zM55 25h1v1h-1zM55 26h1v1h-1zM55 27h1v1h-1zM55 28h1v1h-1zM55 29h1v1h-1zM0 52h1v1h-1zM0 53h1v1h-1zM0 54h1v1h-1zM0 55h1v1h-1z"/>
<path fill="#b8b8b8" d="M2 5h1v1h-1zM2 6h1v1h-1zM2 7h1v1h-1zM47 7h1v1h-1zM2 8h1v1h-1zM47 8h1v1h-1zM2 9h1v1h-1zM47 9h1v1h-1zM2 10h1v1h-1zM47 10h1v1h-1zM47 11h1v1h-1zM47 12h1v1h-1zM47 13h1v1h-1zM47 14h1v1h-1zM47 15h1v1h-1zM47 16h1v1h-1zM47 17h1v1h-1zM47 18h1v1h-1zM47 19h1v1h-1zM47 20h1v1h-1zM47 21h1v1h-1zM47 22h1v1h-1zM47 23h1v1h-1zM47 24h1v1h-1zM47 25h1v1h-1zM47 26h1v1h-1zM47 27h1v1h-1zM47 28h1v1h-1zM47 29h1v1h-1zM47 30h1v1h-1zM47 31h1v1h-1zM47 32h1v1h-1zM47 33h1v1h-1zM47 34h1v1h-1zM47 35h1v1h-1zM47 36h1v1h-1zM47 37h1v1h-1zM3 41h1v1h-1zM3 42h1v1h-1zM3 43h1v1h-1zM3 44h1v1h-1zM3 45h1v1h-1z"/>
<path fill="#aaaaaa" d="M3 6h1v1h-1zM3 7h1v1h-1zM3 8h1v1h-1zM3 9h1v1h-1zM3 10h1v1h-1zM44 26h1v1h-1zM44 27h1v1h-1zM44 28h1v1h-1zM4 29h1v1h-1zM44 29h1v1h-1zM4 30h1v1h-1zM44 30h1v1h-1zM4 31h1v1h-1zM44 31h1v1h-1zM4 32h1v1h-1zM44 32h1v1h-1zM4 33h1v1h-1zM44 33h1v1h-1zM4 34h1v1h-1zM44 34h1v1h-1zM44 35h1v1h-1zM44 36h1v1h-1zM44 37h1v1h-1zM44 38h1v1h-1zM44 39h1v1h-1zM44 40h1v1h-1zM44 41h1v1h-1zM44 42h1v1h-1zM5 43h1v1h-1zM44 43h1v1h-1zM5 44h1v1h-1zM44 44h1v1h-1zM5 45h1v1h-1zM44 45h1v1h-1zM5 46h1v1h-1zM44 46h1v1h-1zM5 47h1v1h-1zM44 47h1v1h-1zM5 48h1v1h-1zM44 48h1v1h-1zM44 49h1v1h-1zM44 50h1v1h-1zM44 51h1v1h-1zM44 52h1v1h-1zM6 55h1v1h-1z"/>
<path fill="#dedede" d="M52 7h1v1h-1zM52 8h1v1h-1zM52 9h1v1h-1zM52 10h1v1h-1zM52 11h1v1h-1zM52 12h1v1h-1zM52 13h1v1h-1zM52 14h1v1h-1zM52 15h1v1h-1zM52 16h1v1h-1zM52 17h1v1h-1zM52 18h1v1h-1zM52 19h1v1h-1zM52 20h1v1h-1zM52 21h1v1h-1zM52 22h1v1h-1zM52 23h1v1h-1zM52 24h1v1h-1zM52 25h1v1h-1zM52 26h1v1h-1zM52 27h1v1h-1zM52 28h1v1h-1zM52 29h1v1h-1zM52 30h1v1h-1zM52 31h1v1h-1zM52 32h1v1h-1zM52 33h1v1h-1zM52 34h1v1h-1zM52 35h1v1h-1zM0 36h1v1h-1zM52 36h1v1h-1zM0 37h1v1h-1zM52 37h1v1h-1zM0 38h1v1h-1zM52 38h1v1h-1zM52 39h1v1h-1zM52 40h1v1h-1zM52 41h1v1h-1zM52 42h1v1h-1zM52 43h1v1h-1zM52 44h1v1h-1zM52 45h1v1h-1zM52 46h1v1h-1zM52 47h1v1h-1zM52 48h1v1h-1zM52 49h1v1h-1zM52 50h1v1h-1zM52 51h1v1h-1zM52 52h1v1h-1zM52 53h1v1h-1zM52 54h1v1h-1zM52 55h1v1h-1z"/>
<path fill="#c8c8c8" d="M1 9h1v1h-1zM1 10h1v1h-1zM1 11h1v1h-1zM1 12h1v1h-1zM1 13h1v1h-1zM1 14h1v1h-1zM1 15h1v1h-1zM2 50h1v1h-1zM2 51h1v1h-1zM2 52h1v1h-1zM2 53h1v1h-1zM2 54h1v1h-1zM2 55h1v1h-1z"/>
<path fill="#d4d4d4" d="M0 10h1v1h-1zM0 11h1v1h-1zM0 12h1v1h-1zM0 13h1v1h-1zM0 14h1v1h-1zM0 15h1v1h-1zM0 16h1v1h-1zM1 43h1v1h-1zM1 44h1v1h-1zM1 45h1v1h-1zM1 46h1v1h-1zM1 47h1v1h-1z"/>
<path fill="#bababa" d="M2 11h1v1h-1zM2 12h1v1h-1zM2 13h1v1h-1zM2 14h1v1h-1zM2 15h1v1h-1zM2 16h1v1h-1zM47 38h1v1h-1zM47 39h1v1h-1zM47 40h1v1h-1zM47 41h1v1h-1zM47 42h1v1h-1zM47 43h1v1h-1zM47 44h1v1h-1zM47 45h1v1h-1zM3 46h1v1h-1zM47 46h1v1h-1zM3 47h1v1h-1zM47 47h1v1h-1zM3 48h1v1h-1zM47 48h1v1h-1zM3 49h1v1h-1zM47 49h1v1h-1zM3 50h1v1h-1zM47 50h1v1h-1zM47 51h1v1h-1zM47 52h1v1h-1zM47 53h1v1h-1zM47 54h1v1h-1zM47 55h1v1h-1z"/>
<path fill="#e4e4e4" d="M53 13h1v1h-1zM53 14h1v1h-1zM53 15h1v1h-1zM53 16h1v1h-1zM53 17h1v1h-1zM53 18h1v1h-1zM53 19h1v1h-1zM53 20h1v1h-1zM53 21h1v1h-1zM53 22h1v1h-1zM53 23h1v1h-1zM53 24h1v1h-1zM53 25h1v1h-1zM53 26h1v1h-1zM53 27h1v1h-1zM53 28h1v1h-1zM53 29h1v1h-1zM53 30h1v1h-1zM53 31h1v1h-1zM53 32h1v1h-1zM53 33h1v1h-1zM53 34h1v1h-1zM53 35h1v1h-1zM53 36h1v1h-1zM53 37h1v1h-1zM53 38h1v1h-1zM53 39h1v1h-1zM53 40h1v1h-1zM53 41h1v1h-1zM53 42h1v1h-1zM0 43h1v1h-1zM53 43h1v1h-1zM0 44h1v1h-1zM53 44h1v1h-1zM53 45h1v1h-1zM53 46h1v1h-1zM53 47h1v1h-1zM53 48h1v1h-1zM53 49h1v1h-1zM53 50h1v1h-1zM53 51h1v1h-1zM53 52h1v1h-1zM53 53h1v1h-1zM53 54h1v1h-1zM53 55h1v1h-1z"/>
<path fill="#e8e8e8" d="M54 14h1v1h-1zM54 15h1v1h-1zM54 16h1v1h-1zM54 17h1v1h-1zM54 18h1v1h-1zM54 19h1v1h-1zM54 20h1v1h-1zM54 21h1v1h-1zM54 22h1v1h-1zM54 23h1v1h-1zM54 24h1v1h-1zM54 25h1v1h-1zM54 26h1v1h-1zM54 27h1v1h-1zM54 28h1v1h-1zM54 29h1v1h-1zM54 30h1v1h-1zM54 31h1v1h-1zM54 32h1v1h-1zM54 33h1v1h-1zM54 34h1v1h-1zM54 35h1v1h-1zM54 36h1v1h-1zM54 37h1v1h-1zM54 38h1v1h-1zM54 39h1v1h-1zM54 40h1v1h-1zM54 41h1v1h-1zM54 42h1v1h-1zM54 43h1v1h-1zM54 44h1v1h-1zM54 45h1v1h-1zM54 46h1v1h-1zM0 47h1v1h-1zM54 47h1v1h-1zM0 48h1v1h-1zM54 48h1v1h-1zM54 49h1v1h-1zM54 50h1v1h-1z"/>
<path fill="#cacaca" d="M1 16h1v1h-1zM1 17h1v1h-1zM1 18h1v1h-1zM1 19h1v1h-1zM1 20h1v1h-1zM1 21h1v1h-1zM1 22h1v1h-1z"/>
<path fill="#aeaeae" d="M3 16h1v1h-1zM3 17h1v1h-1zM3 18h1v1h-1zM3 19h1v1h-1zM3 20h1v1h-1zM45 21h1v1h-1zM45 22h1v1h-1zM45 23h1v1h-1zM45 24h1v1h-1zM45 25h1v1h-1zM45 26h1v1h-1zM45 27h1v1h-1zM45 28h1v1h-1zM45 29h1v1h-1zM45 30h1v1h-1zM45 31h1v1h-1zM45 32h1v1h-1zM45 33h1v1h-1zM45 34h1v1h-1zM45 35h1v1h-1zM45 36h1v1h-1zM45 37h1v1h-1zM45 38h1v1h-1zM45 39h1v1h-1zM45 40h1v1h-1zM45 41h1v1h-1zM4 42h1v1h-1zM45 42h1v1h-1zM4 43h1v1h-1zM45 43h1v1h-1zM4 44h1v1h-1zM4 45h1v1h-1zM4 46h1v1h-1zM4 47h1v1h-1zM4 48h1v1h-1zM5 55h1v1h-1z"/>
<path fill="#b2b2b2" d="M46 16h1v1h-1zM46 17h1v1h-1zM46 18h1v1h-1zM46 19h1v1h-1zM46 20h1v1h-1zM46 21h1v1h-1zM46 22h1v1h-1zM46 23h1v1h-1zM46 24h1v1h-1zM46 25h1v1h-1zM3 26h1v1h-1zM46 26h1v1h-1zM3 27h1v1h-1zM46 27h1v1h-1zM3 28h1v1h-1zM46 28h1v1h-1zM3 29h1v1h-1zM46 29h1v1h-1zM3 30h1v1h-1zM46 30h1v1h-1zM46 31h1v1h-1zM46 32h1v1h-1zM46 33h1v1h-1zM46 34h1v1h-1zM46 35h1v1h-1zM46 36h1v1h-1zM46 37h1v1h-1zM4 55h1v1h-1z"/>
<path fill="#d6d6d6" d="M0 17h1v1h-1zM0 18h1v1h-1zM0 19h1v1h-1zM0 20h1v1h-1zM0 21h1v1h-1zM0 22h1v1h-1zM0 23h1v1h-1zM0 24h1v1h-1zM1 48h1v1h-1zM1 49h1v1h-1zM1 50h1v1h-1zM1 51h1v1h-1z"/>
<path fill="#bcbcbc" d="M2 17h1v1h-1zM2 18h1v1h-1zM2 19h1v1h-1zM2 20h1v1h-1zM2 21h1v1h-1zM3 51h1v1h-1zM3 52h1v1h-1zM3 53h1v1h-1zM3 54h1v1h-1zM3 55h1v1h-1z"/>
<path fill="#cccccc" d="M1 23h1v1h-1zM1 24h1v1h-1zM1 25h1v1h-1zM1 26h1v1h-1zM1 27h1v1h-1zM1 28h1v1h-1zM1 29h1v1h-1z"/>
<path fill="#c0c0c0" d="M48 27h1v1h-1zM2 28h1v1h-1zM48 28h1v1h-1zM2 29h1v1h-1zM48 29h1v1h-1zM2 30h1v1h-1zM48 30h1v1h-1zM2 31h1v1h-1zM48 31h1v1h-1zM2 32h1v1h-1zM48 32h1v1h-1zM48 33h1v1h-1zM48 34h1v1h-1zM48 35h1v1h-1zM48 36h1v1h-1zM48 37h1v1h-1zM48 38h1v1h-1zM48 39h1v1h-1zM48 40h1v1h-1zM48 41h1v1h-1zM48 42h1v1h-1zM48 43h1v1h-1zM48 44h1v1h-1zM48 45h1v1h-1zM48 46h1v1h-1zM48 47h1v1h-1zM48 48h1v1h-1zM48 49h1v1h-1zM48 50h1v1h-1zM48 51h1v1h-1zM48 52h1v1h-1zM48 53h1v1h-1zM48 54h1v1h-1zM48 55h1v1h-1z"/>
<path fill="#cecece" d="M1 30h1v1h-1zM1 31h1v1h-1zM1 32h1v1h-1zM1 33h1v1h-1zM1 34h1v1h-1zM50 52h1v1h-1zM50 53h1v1h-1zM50 54h1v1h-1zM50 55h1v1h-1z"/>
<path fill="#dadada" d="M0 31h1v1h-1zM0 32h1v1h-1zM0 33h1v1h-1z"/>
<path fill="#b4b4b4" d="M3 31h1v1h-1zM3 32h1v1h-1zM3 33h1v1h-1zM3 34h1v1h-1zM3 35h1v1h-1zM46 38h1v1h-1zM46 39h1v1h-1zM46 40h1v1h-1zM46 41h1v1h-1zM46 42h1v1h-1zM46 43h1v1h-1zM46 44h1v1h-1zM46 45h1v1h-1zM46 46h1v1h-1zM46 47h1v1h-1zM46 48h1v1h-1zM46 49h1v1h-1zM46 50h1v1h-1zM46 51h1v1h-1zM46 52h1v1h-1zM46 53h1v1h-1zM46 54h1v1h-1zM46 55h1v1h-1z"/>
<path fill="#c2c2c2" d="M2 33h1v1h-1zM2 34h1v1h-1zM2 35h1v1h-1zM2 36h1v1h-1zM2 37h1v1h-1zM2 38h1v1h-1z"/>
<path fill="#dcdcdc" d="M0 34h1v1h-1zM0 35h1v1h-1z"/>
<path fill="#e2e2e2" d="M0 41h1v1h-1zM0 42h1v1h-1z"/>
</g></svg></div>
<svg xmlns="http://www.w3.org/2000/svg" width="2100" height="1735" viewBox="0 0 2100 1735">
<defs>
<linearGradient id="gjet" x1="0" y1="0" x2="0" y2="1"><stop offset="0.000" stop-color="#fffafa"/><stop offset="0.100" stop-color="#ffbebe"/><stop offset="0.160" stop-color="#ff6e50"/><stop offset="0.200" stop-color="#ff4000"/><stop offset="0.300" stop-color="#ff9600"/><stop offset="0.400" stop-color="#ffff00"/><stop offset="0.500" stop-color="#beff00"/><stop offset="0.600" stop-color="#00fa6e"/><stop offset="0.700" stop-color="#00ffff"/><stop offset="0.800" stop-color="#006eff"/><stop offset="0.900" stop-color="#0000ff"/><stop offset="0.948" stop-color="#00006e"/><stop offset="1.000" stop-color="#000010"/></linearGradient>
<linearGradient id="gflat" x1="0" y1="0" x2="0" y2="1"><stop offset="0.000" stop-color="#f01000"/><stop offset="0.120" stop-color="#d83000"/><stop offset="0.250" stop-color="#c05a00"/><stop offset="0.330" stop-color="#b09a10"/><stop offset="0.420" stop-color="#a0c020"/><stop offset="0.480" stop-color="#80f040"/><stop offset="0.550" stop-color="#78f880"/><stop offset="0.600" stop-color="#70e8a0"/><stop offset="0.650" stop-color="#60d0c0"/><stop offset="0.720" stop-color="#50b0e0"/><stop offset="0.780" stop-color="#4080ff"/><stop offset="0.850" stop-color="#3040e0"/><stop offset="0.920" stop-color="#1820b0"/><stop offset="1.000" stop-color="#0a1070"/></linearGradient>
</defs>
<clipPath id="ft"><polygon points="1156,156 1548,156 1574,459 1130,459"/></clipPath>
<linearGradient id="ftg" x1="0" y1="0" x2="0" y2="1"><stop offset="0.00" stop-color="#b0d048"/><stop offset="0.30" stop-color="#d09030"/><stop offset="0.50" stop-color="#de6a20"/><stop offset="0.85" stop-color="#dc5418"/><stop offset="1.00" stop-color="#a05060"/></linearGradient>
<filter id="ftf" x="-2%" y="-2%" width="104%" height="104%"><feGaussianBlur stdDeviation="0.55"/></filter>
<g clip-path="url(#ft)"><g filter="url(#ftf)">
<rect x="1126" y="152" width="452" height="311" fill="url(#ftg)"/>
<path fill="none" stroke="#b9eb41" stroke-width="6" d="M1103.4 136.4Q1123.8 137.2 1144.2 137.8M1359 141.2Q1372 141.2 1385.1 141.1M1565.7 137.6Q1582.4 137.1 1599.1 136.4M1312 155.9Q1323.6 155.9 1335.2 156M1334.2 156Q1345.8 156 1357.5 156M1444.8 155.3Q1468.9 155 1493.1 154.5M1547.9 153Q1573.7 152.2 1599.6 151.2M1133 159.1Q1151.4 159.8 1169.8 160.4M1358.1 163.4Q1370.1 163.4 1382.2 163.3M1320.2 170.7Q1349.4 170.9 1378.6 170.7M1377.6 170.7Q1398.2 170.6 1418.8 170.3M1478.4 176.3Q1503.1 175.6 1527.7 174.7M1341.2 185.6Q1352.6 185.6 1363.9 185.6"/>
<path fill="none" stroke="#b9e137" stroke-width="6" d="M1143.2 137.8Q1164.2 138.5 1185.2 139M1501.1 146.8Q1531.6 146.1 1562 145.2M1310.5 163.2Q1334.8 163.4 1359.1 163.4M1414.2 163Q1436.2 162.8 1458.2 162.4M1082.8 176.4Q1105.7 177.9 1128.7 179.2"/>
<path fill="none" stroke="#87e1a5" stroke-width="6" d="M1184.2 139Q1209.9 139.7 1235.7 140.1M1169.8 146Q1184.1 146.4 1198.3 146.7M1221.8 147.3Q1235.8 147.6 1249.7 147.8M1361.1 148.6Q1382 148.6 1402.9 148.4M1401.9 148.4Q1430.4 148.2 1458.8 147.7M1134 152.3Q1154.6 153 1175.2 153.5M1281.6 163Q1296.6 163.1 1311.5 163.2M1272.6 170.2Q1281.7 170.3 1290.8 170.4M1301.3 177.9Q1326 178.2 1350.6 178.2M1526.7 174.7Q1536.5 174.3 1546.2 173.9M1362.9 185.6Q1392.7 185.5 1422.5 185M1421.5 185Q1443.9 184.6 1466.3 183.9M1465.3 183.9Q1483.4 183.4 1501.4 182.8M1408.6 192.5Q1432.8 192.2 1456.9 191.5"/>
<path fill="none" stroke="#a5eb55" stroke-width="6" d="M1234.7 140.1Q1260.8 140.6 1286.9 140.9M1344.3 141.2Q1352.1 141.2 1360 141.2M1541.1 138.4Q1553.9 138 1566.7 137.6M1248.7 147.8Q1262.4 148 1276.1 148.1M1118.5 151.7Q1126.7 152 1135 152.3M1174.2 153.5Q1184.8 153.8 1195.5 154.1M1194.5 154.1Q1207.4 154.4 1220.4 154.6M1394.4 155.9Q1420.1 155.7 1445.8 155.3M1564.8 166.1Q1587 165.2 1609.1 164"/>
<path fill="none" stroke="#c3e137" stroke-width="6" d="M1285.9 140.9Q1315.6 141.2 1345.3 141.2M1384.1 141.1Q1411 141 1437.8 140.6M1481.3 139.9Q1511.7 139.3 1542.1 138.4M1306.1 148.4Q1334.1 148.6 1362.1 148.6M1457.8 147.7Q1479.9 147.4 1502.1 146.8M1561 145.2Q1589.2 144.3 1617.5 143.1M1219.4 154.6Q1237.1 155 1254.9 155.3M1356.5 156Q1375.9 156 1395.4 155.9M1492.1 154.5Q1520.5 153.8 1548.9 153M1097.5 164.1Q1116.6 165.1 1135.7 166M1134.7 166Q1163.2 167.2 1191.6 168.1M1289.8 170.4Q1305.5 170.6 1321.2 170.7M1417.8 170.3Q1440.1 170 1462.4 169.6M1461.4 169.6Q1469.4 169.4 1477.4 169.2M1527.4 167.6Q1546.6 166.9 1565.8 166.1M1096.5 170.7Q1112.3 171.6 1128 172.4M1127 172.4Q1148.1 173.4 1169.2 174.3M1349.6 178.2Q1375.7 178.2 1401.8 177.9M1545.2 173.9Q1565.7 173 1586.1 171.9M1566.4 179.7Q1580.4 178.9 1594.4 178.1M1455.9 191.5Q1466.7 191.2 1477.4 190.8"/>
<path fill="none" stroke="#afeb4b" stroke-width="6" d="M1436.8 140.6Q1459.6 140.3 1482.3 139.9M1275.1 148.1Q1291.1 148.3 1307.1 148.4M1253.9 155.3Q1283.5 155.7 1313 155.9M1224.2 161.9Q1245.9 162.4 1267.6 162.7M1266.6 162.7Q1274.6 162.9 1282.6 163M1381.2 163.3Q1398.2 163.2 1415.2 163M1457.2 162.4Q1478.8 162 1500.4 161.4M1476.4 169.2Q1493.2 168.8 1509.9 168.2M1500.4 182.8Q1510.4 182.4 1520.4 182M1519.4 182Q1543.4 181 1567.4 179.7M1498.7 190Q1508.2 189.6 1517.8 189.2"/>
<path fill="none" stroke="#91c337" stroke-width="2.5" d="M1087.6 139.4Q1095.1 139.7 1102.6 140M1360.1 144.9Q1370.3 144.9 1380.6 144.8M1379.6 144.8Q1389.4 144.8 1399.2 144.7M1398.2 144.7Q1424 144.5 1449.9 144.2M1531.4 142.4Q1541.6 142.1 1551.8 141.8M1550.8 141.8Q1563.1 141.4 1575.5 141M1418.4 151.9Q1442.6 151.7 1466.9 151.3M1581.2 148.2Q1599.7 147.5 1618.3 146.8M1464.9 158.7Q1483.6 158.4 1502.3 157.9M1501.3 157.9Q1527.4 157.3 1553.5 156.5M1552.5 156.5Q1578.4 155.7 1604.3 154.7M1141.2 163.1Q1154.6 163.6 1168.1 164M1362.4 167.1Q1392.2 167 1422 166.7M1495.4 165.2Q1507.2 164.9 1519.1 164.6M1518.1 164.6Q1528 164.3 1538 164M1576.3 162.5Q1596.9 161.7 1617.5 160.7M1150.3 170.3Q1171.9 171.2 1193.5 171.9M1390.2 174.3Q1404.5 174.2 1418.8 174M1417.8 174Q1430.9 173.9 1444.1 173.6M1496.2 172.3Q1520.9 171.6 1545.6 170.7M1108 175Q1130.7 176.3 1153.4 177.3"/>
<path fill="none" stroke="#9bb937" stroke-width="2.5" d="M1101.6 140Q1130.1 141.1 1158.5 142M1234 143.8Q1259.4 144.3 1284.8 144.5M1465.9 151.3Q1490.3 150.8 1514.7 150.2"/>
<path fill="none" stroke="#9bb92d" stroke-width="2.5" d="M1157.5 142Q1187.6 142.9 1217.6 143.5M1283.8 144.5Q1293.3 144.6 1302.8 144.7M1288.2 174.1Q1304.1 174.3 1320 174.4"/>
<path fill="none" stroke="#b9a523" stroke-width="2.5" d="M1216.6 143.5Q1225.8 143.7 1235 143.8M1301.8 144.7Q1331.5 144.9 1361.1 144.9M1574.5 141Q1604.4 140 1634.2 138.7M1358.7 152.3Q1389 152.3 1419.4 151.9M1113.3 155.3Q1137.4 156.1 1161.5 156.8M1160.5 156.8Q1182.8 157.5 1205 158M1116.1 162.1Q1129.1 162.6 1142.2 163.1M1269.7 166.5Q1286.5 166.7 1303.2 166.9M1363.1 174.5Q1377.1 174.5 1391.2 174.3M1464.3 173.2Q1480.7 172.8 1497.2 172.3M1411.1 181.5Q1428.7 181.3 1446.3 180.9M1530.5 185.2Q1554.4 184.1 1578.3 182.8"/>
<path fill="none" stroke="#91b937" stroke-width="2.5" d="M1448.9 144.2Q1469.2 143.9 1489.6 143.4M1354.4 159.7Q1381.6 159.7 1408.7 159.5M1407.7 159.5Q1417.1 159.4 1426.6 159.3M1302.2 166.9Q1310.1 166.9 1318.1 167M1090.5 174Q1099.7 174.6 1109 175M1445.3 180.9Q1459.8 180.6 1474.3 180.2M1505.7 179.2Q1533.8 178.2 1561.8 176.8M1440.6 188.3Q1463.2 187.8 1485.9 187"/>
<path fill="none" stroke="#a5af2d" stroke-width="2.5" d="M1488.6 143.4Q1500.5 143.2 1512.4 142.9M1084.9 146.7Q1100.5 147.4 1116.1 147.9M1565.8 148.7Q1574 148.4 1582.2 148.2M1167.1 164Q1193.7 164.9 1220.4 165.5M1458.2 166.1Q1477.3 165.7 1496.4 165.2M1107.2 168.3Q1118.4 168.9 1129.6 169.4M1128.6 169.4Q1140 169.9 1151.3 170.3M1324.9 189.2Q1350.8 189.4 1376.7 189.2M1375.7 189.2Q1395.4 189.1 1415 188.8M1484.9 187Q1492.6 186.8 1500.4 186.5"/>
<path fill="none" stroke="#9baf2d" stroke-width="2.5" d="M1511.4 142.9Q1521.9 142.6 1532.4 142.4M1257.4 151.6Q1279.3 151.9 1301.2 152.1M1537 164Q1557.1 163.3 1577.3 162.5M1560.8 176.8Q1576.7 176.1 1592.5 175.2"/>
<path fill="none" stroke="#cdd72d" stroke-width="6" d="M1104.6 143.8Q1114.5 144.2 1124.4 144.5M1550.7 159.8Q1579.4 158.8 1608.1 157.5M1320.5 185.5Q1331.3 185.6 1342.2 185.6M1361 193Q1385.3 192.9 1409.6 192.5"/>
<path fill="none" stroke="#cde137" stroke-width="6" d="M1123.4 144.5Q1147.1 145.4 1170.8 146M1197.3 146.7Q1210.1 147 1222.8 147.3M1400.8 177.9Q1418.1 177.7 1435.3 177.4M1476.4 190.8Q1488 190.4 1499.7 190"/>
<path fill="none" stroke="#c39b23" stroke-width="2.5" d="M1115.1 147.9Q1143.3 148.9 1171.5 149.7M1170.5 149.7Q1187.6 150.2 1204.7 150.6M1286.9 159.4Q1306.8 159.6 1326.6 159.6M1325.6 159.6Q1340.5 159.7 1355.4 159.7M1091.1 167.5Q1099.7 167.9 1108.2 168.3M1353.9 181.9Q1383 181.9 1412.1 181.5M1473.3 180.2Q1490 179.7 1506.7 179.2M1499.4 186.5Q1515.4 185.9 1531.5 185.2"/>
<path fill="none" stroke="#afa52d" stroke-width="2.5" d="M1203.7 150.6Q1231.1 151.2 1258.4 151.6M1513.7 150.2Q1531.3 149.8 1548.9 149.3M1443.1 173.6Q1454.2 173.4 1465.3 173.2"/>
<path fill="none" stroke="#afaf2d" stroke-width="2.5" d="M1300.2 152.1Q1321.1 152.3 1342 152.3M1341 152.3Q1350.3 152.3 1359.7 152.3M1547.9 149.3Q1557.4 149 1566.8 148.7M1425.6 159.3Q1445.7 159 1465.9 158.7M1421 166.7Q1440.1 166.4 1459.2 166.1M1319 174.4Q1341.6 174.5 1364.1 174.5"/>
<path fill="none" stroke="#cd9119" stroke-width="2.5" d="M1204 158Q1216.4 158.3 1228.8 158.5M1313.7 181.7Q1334.3 181.9 1354.9 181.9M1414 188.8Q1427.8 188.6 1441.6 188.3"/>
<path fill="none" stroke="#d78719" stroke-width="2.5" d="M1227.8 158.5Q1257.9 159.1 1287.9 159.4"/>
<path fill="none" stroke="#cde12d" stroke-width="6" d="M1100 157.7Q1117 158.4 1134 159.1M1508.9 168.2Q1518.7 167.9 1528.4 167.6M1516.8 189.2Q1533.7 188.4 1550.5 187.5"/>
<path fill="none" stroke="#afeb41" stroke-width="6" d="M1168.8 160.4Q1197 161.3 1225.2 161.9M1499.4 161.4Q1525.5 160.7 1551.7 159.8M1434.3 177.4Q1456.9 177 1479.4 176.3"/>
<path fill="none" stroke="#91b937" stroke-width="3" d="M1219.4 165.5Q1245 166.1 1270.7 166.5M1577.3 182.8Q1588.4 182.2 1599.5 181.5M1317.8 196.5Q1340.2 196.7 1362.7 196.7M1443.3 195.5Q1464.9 195 1486.5 194.2M1353 204.1Q1369.6 204.1 1386.3 203.9"/>
<path fill="none" stroke="#cd9123" stroke-width="2.5" d="M1317.1 167Q1340.2 167.1 1363.4 167.1M1544.6 170.7Q1574.9 169.5 1605.1 167.9M1393.1 196.5Q1418.7 196.2 1444.3 195.5"/>
<path fill="none" stroke="#cde12d" stroke-width="5.5" d="M1190.6 168.1Q1207.5 168.7 1224.3 169.1M1168.2 174.3Q1181.5 174.9 1194.7 175.3M1119 198.9Q1143.2 200.7 1167.4 202.1"/>
<path fill="none" stroke="#b9eb41" stroke-width="5.5" d="M1223.3 169.1Q1248.4 169.8 1273.6 170.2M1127.7 179.2Q1151.5 180.5 1175.3 181.6M1273.8 184.8Q1297.7 185.3 1321.5 185.5M1109.1 184.7Q1118.3 185.3 1127.6 185.9M1443.3 199.1Q1468.2 198.4 1493.2 197.4M1492.2 197.4Q1519 196.2 1545.7 194.7M1294.4 207.3Q1317.2 207.7 1339.9 207.8M1450.3 206.2Q1459.8 205.9 1469.4 205.5M1326.8 215.1Q1355.7 215.3 1384.7 215M1383.7 215Q1405.2 214.8 1426.8 214.2M1442.5 213.7Q1463.6 213.1 1484.6 212.1"/>
<path fill="none" stroke="#afaf2d" stroke-width="3" d="M1192.5 171.9Q1221.7 172.8 1250.9 173.4M1226.3 180.1Q1237.1 180.4 1247.9 180.6M1099.6 181.2Q1125.9 182.8 1152.2 184.2M1177.1 185.4Q1205.7 186.7 1234.2 187.5M1106.1 188.2Q1121.2 189.2 1136.3 190.1M1534.7 192Q1554.8 191 1574.9 189.7"/>
<path fill="none" stroke="#b9a523" stroke-width="3" d="M1249.9 173.4Q1269.6 173.8 1289.2 174.1M1135.3 190.1Q1143.2 190.6 1151 191M1104.2 194.7Q1132.5 196.9 1160.8 198.5M1385.3 203.9Q1408.7 203.7 1432.2 203.1M1564 197.2Q1591.5 195.4 1618.9 193.2M1565.1 204Q1590.8 202.2 1616.5 200M1375.5 218.8Q1399.4 218.6 1423.4 218"/>
<path fill="none" stroke="#afeb4b" stroke-width="5.5" d="M1193.7 175.3Q1202.1 175.6 1210.5 175.9M1270.2 177.4Q1286.2 177.7 1302.3 177.9M1297.6 192.6Q1313.8 192.8 1329.9 192.9M1328.9 192.9Q1345.5 193 1362 193M1088.5 189.8Q1102.7 190.9 1116.8 191.9M1259.3 199.1Q1271.4 199.4 1283.5 199.7M1247.7 206Q1271.5 206.8 1295.4 207.3M1338.9 207.8Q1366.8 207.9 1394.6 207.5M1393.6 207.5Q1422.4 207.1 1451.3 206.2M1532.3 202.4Q1557.2 200.9 1582.1 199.1"/>
<path fill="none" stroke="#87e1a5" stroke-width="5.5" d="M1209.5 175.9Q1231.3 176.6 1253.2 177.1M1115.8 191.9Q1142.4 193.8 1169 195.3M1227.8 198.1Q1244 198.7 1260.3 199.1M1322.7 200.3Q1343.3 200.4 1363.8 200.4M1096.2 197Q1108.1 198 1120 198.9M1581.1 199.1Q1592.9 198.2 1604.7 197.3"/>
<path fill="none" stroke="#b9e137" stroke-width="5.5" d="M1252.2 177.1Q1261.7 177.3 1271.2 177.4M1282.5 199.7Q1303.1 200.1 1323.7 200.3M1544.7 194.7Q1565.3 193.5 1585.8 192.1"/>
<path fill="none" stroke="#c39b23" stroke-width="3" d="M1152.4 177.3Q1166.9 178 1181.4 178.5M1294.3 181.5Q1304.5 181.7 1314.7 181.7M1318.4 203.9Q1336.2 204.1 1354 204.1M1103 201.3Q1127.8 203.3 1152.6 204.9M1490.7 208.3Q1503.6 207.7 1516.6 207"/>
<path fill="none" stroke="#a5af2d" stroke-width="3" d="M1180.4 178.5Q1203.9 179.4 1227.3 180.1M1246.9 180.6Q1271.1 181.2 1295.3 181.5M1301.2 203.7Q1310.3 203.8 1319.4 203.9M1431.2 203.1Q1444.2 202.8 1457.2 202.4M1456.2 202.4Q1472.8 201.9 1489.4 201.2"/>
<path fill="none" stroke="#c3e137" stroke-width="5.5" d="M1174.3 181.6Q1197.1 182.6 1219.9 183.4M1218.9 183.4Q1246.9 184.3 1274.8 184.8M1192.4 189.4Q1200.1 189.8 1207.9 190.1M1246.9 191.5Q1272.8 192.2 1298.6 192.6M1549.5 187.5Q1568.8 186.4 1588.1 185.2M1183.5 196.1Q1206.1 197.2 1228.8 198.1M1407.7 199.9Q1426 199.6 1444.3 199.1M1468.4 205.5Q1488.1 204.8 1507.8 203.8M1425.8 214.2Q1434.6 214 1443.5 213.7"/>
<path fill="none" stroke="#d78719" stroke-width="3" d="M1151.2 184.2Q1164.6 184.8 1178.1 185.4M1308.6 189.1Q1317.2 189.2 1325.9 189.2M1196.2 193.3Q1221.9 194.4 1247.5 195.2M1485.5 194.2Q1510.6 193.3 1535.7 192M1356.3 211.5Q1383.2 211.5 1410.2 210.9M1469.1 209.2Q1480.4 208.8 1491.7 208.3"/>
<path fill="none" stroke="#d77d19" stroke-width="3" d="M1233.2 187.5Q1253.3 188.1 1273.4 188.5M1159.8 198.5Q1168.6 199 1177.3 199.4M1176.3 199.4Q1204.5 200.9 1232.7 201.9M1231.7 201.9Q1253 202.7 1274.2 203.2M1488.4 201.2Q1497.5 200.9 1506.6 200.5M1447.1 210Q1458.6 209.6 1470.1 209.2M1515.6 207Q1540.8 205.7 1566.1 204"/>
<path fill="none" stroke="#9bb92d" stroke-width="3" d="M1272.4 188.5Q1291 188.9 1309.6 189.1"/>
<path fill="none" stroke="#a5eb4b" stroke-width="5.5" d="M1126.6 185.9Q1142.3 186.9 1158.1 187.7"/>
<path fill="none" stroke="#cde137" stroke-width="5.5" d="M1157.1 187.7Q1175.2 188.7 1193.4 189.4"/>
<path fill="none" stroke="#a5eb55" stroke-width="5.5" d="M1206.9 190.1Q1227.4 190.9 1247.9 191.5M1506.8 203.8Q1520.1 203.2 1533.3 202.4"/>
<path fill="none" stroke="#e17d19" stroke-width="3" d="M1150 191Q1173.6 192.3 1197.2 193.3"/>
<path fill="none" stroke="#9bb937" stroke-width="3" d="M1246.5 195.2Q1268 195.8 1289.5 196.1M1573.9 189.7Q1593 188.6 1612 187.2"/>
<path fill="none" stroke="#afa52d" stroke-width="3" d="M1288.5 196.1Q1303.6 196.4 1318.8 196.5"/>
<path fill="none" stroke="#afa523" stroke-width="3" d="M1361.7 196.7Q1377.9 196.6 1394.1 196.5"/>
<path fill="none" stroke="#cdd72d" stroke-width="5.5" d="M1168 195.3Q1176.2 195.7 1184.5 196.1M1362.8 200.4Q1385.8 200.3 1408.7 199.9"/>
<path fill="none" stroke="#cd9119" stroke-width="3" d="M1273.2 203.2Q1287.7 203.5 1302.2 203.7M1505.6 200.5Q1535.3 199.1 1565 197.2"/>
<path fill="none" stroke="#c3e137" stroke-width="5" d="M1166.4 202.1Q1190.3 203.6 1214.2 204.6M1151.9 208.1Q1160.4 208.7 1168.9 209.2M1241.3 213Q1271.7 214.2 1302.1 214.7M1483.6 212.1Q1510.5 210.9 1537.4 209.1M1120.5 212.5Q1142.5 214.3 1164.5 215.9M1330.6 222.5Q1349.1 222.7 1367.5 222.6M1384.8 222.4Q1405.7 222.1 1426.6 221.6M1508.8 217.9Q1524.3 217 1539.8 215.9M1280.7 229Q1297.9 229.5 1315 229.7M1539.6 222.8Q1548.1 222.2 1556.5 221.6M1271.2 236Q1297.4 236.9 1323.5 237.2"/>
<path fill="none" stroke="#afeb4b" stroke-width="5" d="M1213.2 204.6Q1230.9 205.4 1248.7 206M1119.1 205.6Q1136 207 1152.9 208.1M1188.5 210.5Q1201.6 211.2 1214.6 211.8M1301.1 214.7Q1314.5 215 1327.8 215.1M1293.8 222Q1312.7 222.4 1331.6 222.5M1389.5 229.7Q1418.7 229.3 1447.8 228.2M1349.4 237.4Q1364.6 237.4 1379.8 237.2"/>
<path fill="none" stroke="#d78719" stroke-width="3.5" d="M1151.6 204.9Q1180.4 206.8 1209.3 208.1M1208.3 208.1Q1219.9 208.6 1231.6 209.1M1273.8 225.2Q1301.5 226 1329.3 226.2M1384.1 226.1Q1394.7 226 1405.4 225.8M1514.4 221.3Q1537.5 219.9 1560.6 218.1M1088 219.6Q1102 221.1 1116 222.4M1362.9 241.1Q1385.2 241 1407.5 240.4"/>
<path fill="none" stroke="#cd9123" stroke-width="3.5" d="M1230.6 209.1Q1252.9 210 1275.3 210.5M1163.3 212.6Q1190.7 214.4 1218 215.7M1453 217.1Q1482 216 1511.1 214.4"/>
<path fill="none" stroke="#d77d19" stroke-width="3.5" d="M1274.3 210.5Q1296.9 211.1 1319.5 211.3M1103.6 208Q1134 210.6 1164.3 212.6M1083.3 212.6Q1099.2 214.2 1115 215.6M1214.2 222.7Q1231.2 223.6 1248.1 224.2M1083 225.6Q1095.5 227 1108.1 228.3M1319.7 240.9Q1341.8 241.2 1363.9 241.1"/>
<path fill="none" stroke="#cd9123" stroke-width="3" d="M1318.5 211.3Q1337.9 211.5 1357.3 211.5"/>
<path fill="none" stroke="#e17319" stroke-width="3" d="M1409.2 210.9Q1428.7 210.6 1448.1 210"/>
<path fill="none" stroke="#87e1a5" stroke-width="5" d="M1167.9 209.2Q1178.7 209.9 1189.5 210.5M1213.6 211.8Q1228 212.5 1242.3 213M1425.6 221.6Q1433.6 221.3 1441.6 221.1M1473.2 219.8Q1491.5 219 1509.8 217.9M1480.1 226.6Q1510.3 225.1 1540.6 222.8M1322.5 237.2Q1336.4 237.4 1350.4 237.4M1378.8 237.2Q1398.8 237 1418.9 236.5M1417.9 236.5Q1428.7 236.2 1439.5 235.8"/>
<path fill="none" stroke="#b9e137" stroke-width="5" d="M1536.4 209.1Q1551.9 208.1 1567.4 207"/>
<path fill="none" stroke="#b9eb41" stroke-width="5" d="M1566.4 207Q1578.6 206.1 1590.8 205.1M1261.7 221.1Q1278.3 221.6 1294.8 222M1366.5 222.6Q1376.1 222.5 1385.8 222.4M1440.6 221.1Q1457.4 220.5 1474.2 219.8M1538.8 215.9Q1561.6 214.3 1584.5 212.4M1168.8 223.2Q1188 224.6 1207.2 225.7M1206.2 225.7Q1219.5 226.5 1232.8 227.1M1314 229.7Q1340 230.1 1365.9 230M1446.8 228.2Q1464 227.5 1481.1 226.6"/>
<path fill="none" stroke="#b9a523" stroke-width="3.5" d="M1217 215.7Q1233.3 216.4 1249.6 217M1422.4 218Q1438.2 217.6 1454 217.1M1328.3 226.2Q1356.7 226.4 1385.1 226.1"/>
<path fill="none" stroke="#cd9119" stroke-width="3.5" d="M1248.6 217Q1272 217.9 1295.4 218.3M1404.4 225.8Q1419 225.5 1433.6 225.1M1491.5 222.6Q1503.4 222 1515.4 221.3M1573.7 216.9Q1590.2 215.6 1606.8 214M1262.5 232.1Q1288.4 233 1314.3 233.4M1335.3 233.6Q1364.3 233.8 1393.3 233.4"/>
<path fill="none" stroke="#afaf2d" stroke-width="3.5" d="M1294.4 218.3Q1308.2 218.6 1322 218.7"/>
<path fill="none" stroke="#c39b23" stroke-width="3.5" d="M1321 218.7Q1332.7 218.9 1344.4 218.9M1432.6 225.1Q1462.5 224.1 1492.5 222.6M1313.3 233.4Q1324.8 233.6 1336.3 233.6M1392.3 233.4Q1411 233.1 1429.7 232.5M1428.7 232.5Q1443.7 232 1458.6 231.4"/>
<path fill="none" stroke="#e17319" stroke-width="3.5" d="M1343.4 218.9Q1360 218.9 1376.5 218.8M1510.1 214.4Q1535.2 213 1560.3 211.2M1171.3 220.1Q1193.3 221.6 1215.2 222.7M1559.6 218.1Q1567.2 217.5 1574.7 216.9"/>
<path fill="none" stroke="#afa52d" stroke-width="3.5" d="M1559.3 211.2Q1587.7 209.2 1616 206.6"/>
<path fill="none" stroke="#cde12d" stroke-width="5" d="M1163.5 215.9Q1177.9 216.9 1192.2 217.7"/>
<path fill="none" stroke="#cdd72d" stroke-width="5" d="M1191.2 217.7Q1214.6 219.1 1237.9 220.1"/>
<path fill="none" stroke="#a5eb55" stroke-width="5" d="M1236.9 220.1Q1249.8 220.6 1262.7 221.1M1115 218.7Q1142.4 221.2 1169.8 223.2M1364.9 230Q1377.7 229.9 1390.5 229.7M1555.5 221.6Q1565.8 220.8 1576.1 219.9"/>
<path fill="none" stroke="#e1690f" stroke-width="3.5" d="M1114 215.6Q1143.2 218.2 1172.3 220.1M1247.1 224.2Q1261 224.8 1274.8 225.2"/>
<path fill="none" stroke="#cde137" stroke-width="5" d="M1231.8 227.1Q1256.7 228.3 1281.7 229"/>
<path fill="none" stroke="#afeb41" stroke-width="5" d="M1575.1 219.9Q1593.7 218.2 1612.3 216.3"/>
<path fill="none" stroke="#e15f0f" stroke-width="3.5" d="M1115 222.4Q1136.7 224.4 1158.4 226.1"/>
<path fill="none" stroke="#e17d19" stroke-width="4" d="M1157.4 226.1Q1187.5 228.4 1217.5 230M1137.5 244.9Q1148 245.9 1158.5 246.9M1394.7 255.5Q1421.7 254.9 1448.8 253.7"/>
<path fill="none" stroke="#e17319" stroke-width="4" d="M1216.5 230Q1240 231.3 1263.5 232.1M1540.4 226.5Q1553.2 225.5 1565.9 224.5M1180.1 234.8Q1209.4 236.9 1238.7 238.3M1237.7 238.3Q1249.5 238.9 1261.2 239.3M1180.1 241.8Q1195.8 243 1211.5 244M1270.3 247Q1294.7 247.9 1319.1 248.2M1318.1 248.2Q1332.8 248.5 1347.4 248.5M1195.1 250Q1220.4 251.9 1245.8 253.2"/>
<path fill="none" stroke="#d78719" stroke-width="4" d="M1457.6 231.4Q1478.1 230.6 1498.7 229.4M1107.1 228.3Q1130.8 230.7 1154.6 232.7M1260.2 239.3Q1290.4 240.5 1320.7 240.9M1102.8 234.4Q1113.3 235.6 1123.8 236.6M1341.6 255.9Q1368.6 256 1395.7 255.5"/>
<path fill="none" stroke="#d77d19" stroke-width="4" d="M1497.7 229.4Q1519.5 228.1 1541.4 226.5M1564.9 224.5Q1580.8 223.1 1596.7 221.6M1244.8 253.2Q1261.8 254 1278.9 254.6M1288.1 262.3Q1305.7 262.8 1323.2 263.1M1351 263.3Q1360.1 263.3 1369.2 263.2"/>
<path fill="none" stroke="#c3e137" stroke-width="4.5" d="M1100.4 223.8Q1126.5 226.6 1152.7 228.8M1151.7 228.8Q1177.6 231 1203.6 232.6M1086.7 228.8Q1110.6 231.7 1134.4 234M1172.1 237.5Q1194.4 239.3 1216.7 240.6M1215.7 240.6Q1234.5 241.7 1253.3 242.6M1430.5 243.4Q1452.4 242.6 1474.4 241.4M1085.6 235.2Q1114.9 238.9 1144.3 241.8M1215.8 247.8Q1232.4 248.8 1248.9 249.6M1383 252Q1392.4 251.8 1401.9 251.6M1182 252.4Q1200.7 253.9 1219.3 255.1M1274 258.1Q1290 258.7 1306 259.1M1274.7 265.4Q1301.6 266.5 1328.6 266.8"/>
<path fill="none" stroke="#b9eb41" stroke-width="4.5" d="M1202.6 232.6Q1212.4 233.2 1222.3 233.8M1246.8 235Q1259.5 235.6 1272.2 236M1247.9 249.6Q1278.4 251.1 1308.8 251.7M1352 252.2Q1368 252.2 1384 252M1232.7 256Q1253.9 257.3 1275 258.1M1290.3 273.4Q1319.3 274.3 1348.3 274.4"/>
<path fill="none" stroke="#a5eb55" stroke-width="4.5" d="M1221.3 233.8Q1234.5 234.5 1247.8 235M1473.4 241.4Q1496.3 240.2 1519.2 238.5M1107.2 244.5Q1124.6 246.6 1142 248.4M1400.5 259Q1414.6 258.7 1428.7 258.1M1367 266.9Q1392.1 266.7 1417.2 265.9"/>
<path fill="none" stroke="#afeb41" stroke-width="4.5" d="M1438.5 235.8Q1457.5 235.1 1476.6 234.1M1143.3 241.8Q1159.1 243.3 1174.9 244.6"/>
<path fill="none" stroke="#cde12d" stroke-width="4.5" d="M1475.6 234.1Q1505 232.5 1534.4 230.3M1252.3 242.6Q1277.5 243.7 1302.7 244.2"/>
<path fill="none" stroke="#cdd72d" stroke-width="4.5" d="M1533.4 230.3Q1558.2 228.4 1583.1 226M1375 244.7Q1403.2 244.4 1431.5 243.4M1173.9 244.6Q1195.3 246.4 1216.8 247.8M1307.8 251.7Q1330.4 252.2 1353 252.2"/>
<path fill="none" stroke="#e15f0f" stroke-width="4" d="M1153.6 232.7Q1167.4 233.8 1181.1 234.8M1448.9 239.1Q1476.1 237.9 1503.3 236.2M1502.3 236.2Q1521.4 235 1540.5 233.5M1122.8 236.6Q1151.9 239.6 1181.1 241.8M1089.9 239.5Q1104.4 241.2 1118.8 242.8M1256.8 261Q1273 261.8 1289.1 262.3M1319.9 270.4Q1341.5 270.8 1363 270.7"/>
<path fill="none" stroke="#eb550f" stroke-width="4" d="M1406.5 240.4Q1428.2 239.9 1449.9 239.1M1210.5 244Q1240.9 245.9 1271.3 247M1367.1 248.4Q1384.4 248.3 1401.7 247.9M1322.2 263.1Q1337.1 263.3 1352 263.3M1368.2 263.2Q1394.9 263 1421.6 262.1"/>
<path fill="none" stroke="#eb4b0f" stroke-width="4" d="M1539.5 233.5Q1549.6 232.7 1559.7 231.9M1470.8 245.3Q1486.3 244.5 1501.7 243.4M1222.5 259.1Q1240.1 260.2 1257.8 261"/>
<path fill="none" stroke="#e1690f" stroke-width="4" d="M1558.7 231.9Q1582.1 229.8 1605.5 227.3M1346.4 248.5Q1357.3 248.5 1368.1 248.4M1400.7 247.9Q1417.6 247.6 1434.5 247M1579.8 236.6Q1602.9 234.3 1625.9 231.5M1157.5 246.9Q1176.8 248.6 1196.1 250M1277.9 254.6Q1290.4 255 1302.9 255.3M1301.9 255.3Q1322.2 255.8 1342.6 255.9"/>
<path fill="none" stroke="#afeb4b" stroke-width="4.5" d="M1133.4 234Q1153.3 235.9 1173.1 237.5M1518.2 238.5Q1532.9 237.4 1547.7 236.1M1546.7 236.1Q1570.1 234.1 1593.6 231.6M1333.5 259.5Q1342.2 259.6 1350.9 259.6M1327.6 266.8Q1347.8 267.1 1368 266.9"/>
<path fill="none" stroke="#87e1a5" stroke-width="4.5" d="M1301.7 244.2Q1312.7 244.5 1323.7 244.6M1322.7 244.6Q1338.2 244.8 1353.6 244.8M1218.3 255.1Q1226 255.6 1233.7 256"/>
<path fill="none" stroke="#cde137" stroke-width="4.5" d="M1352.6 244.8Q1364.3 244.8 1376 244.7M1400.9 251.6Q1425.4 251 1450 249.9M1349.9 259.6Q1375.7 259.6 1401.5 259"/>
<path fill="none" stroke="#eb410f" stroke-width="4" d="M1433.5 247Q1452.6 246.3 1471.8 245.3M1266.4 268.8Q1293.7 270 1320.9 270.4"/>
<path fill="none" stroke="#eb550f" stroke-width="4.5" d="M1500.7 243.4Q1513.6 242.6 1526.5 241.6M1447.8 253.7Q1477.6 252.3 1507.4 250.1M1138.8 258.7Q1149.4 259.9 1159.9 260.9M1185.4 263.4Q1199.3 264.6 1213.2 265.6M1454.1 267.9Q1479.4 266.6 1504.7 264.6M1108.1 261.7Q1131.1 264.7 1154.1 267.2M1200 271.7Q1213.3 272.8 1226.7 273.7M1300.7 277.4Q1314.1 277.7 1327.6 277.9M1161.9 275.1Q1169.7 275.9 1177.6 276.6M1192.5 278.2Q1214.2 280.1 1236 281.6M1387.1 285.1Q1405.2 284.8 1423.3 284M1351.5 292.9Q1367.9 292.9 1384.2 292.6M1398.3 292.2Q1424.1 291.5 1449.9 290"/>
<path fill="none" stroke="#eb4105" stroke-width="4.5" d="M1525.5 241.6Q1539.6 240.5 1553.6 239.3M1479.3 259.2Q1508.7 257.3 1538.2 254.6M1326.6 277.9Q1340 278.1 1353.4 278.1M1402.7 277.4Q1426.9 276.7 1451.1 275.4M1089.5 265.6Q1108.5 268.4 1127.5 270.8M1087.4 278.4Q1106.1 281.4 1124.8 284M1251.8 311.7Q1279.1 313.5 1306.4 314.4"/>
<path fill="none" stroke="#eb4105" stroke-width="4" d="M1552.6 239.3Q1566.7 238.1 1580.8 236.6"/>
<path fill="none" stroke="#87e1a5" stroke-width="4" d="M1449 249.9Q1474.3 248.8 1499.7 247M1498.7 247Q1526 245.1 1553.2 242.5M1552.2 242.5Q1567.8 241.1 1583.4 239.4M1392.8 273.9Q1402.3 273.7 1411.8 273.4M1410.8 273.4Q1420.9 273.1 1430.9 272.7M1445.4 272Q1466.3 270.9 1487.1 269.4M1288.2 317.4Q1304.5 318.1 1320.8 318.4"/>
<path fill="none" stroke="#e1550f" stroke-width="4" d="M1117.8 242.8Q1128.2 243.9 1138.5 244.9"/>
<path fill="none" stroke="#eb410f" stroke-width="4.5" d="M1506.4 250.1Q1523.3 248.9 1540.1 247.5M1205.1 257.9Q1214.3 258.5 1223.5 259.1M1550.9 260.2Q1563.8 258.9 1576.7 257.4"/>
<path fill="none" stroke="#eb3705" stroke-width="4.5" d="M1539.1 247.5Q1566.5 245 1593.9 241.9M1145.8 252.6Q1175.9 255.7 1206.1 257.9M1409.7 269.8Q1432.4 269.1 1455.1 267.9M1575.7 257.4Q1591.7 255.6 1607.7 253.5M1153.1 267.2Q1166 268.6 1178.9 269.7M1163.9 282.3Q1191.4 285.3 1218.8 287.5M1217.8 287.5Q1243.4 289.5 1269 290.8M1268 290.8Q1288.6 291.8 1309.1 292.3M1265.7 298Q1279.2 298.7 1292.6 299.2M1308.1 307.1Q1320.5 307.4 1332.9 307.6"/>
<path fill="none" stroke="#b9e137" stroke-width="4" d="M1141 248.4Q1149.9 249.3 1158.8 250.1M1416.2 265.9Q1428.7 265.5 1441.2 264.9M1362.3 289.2Q1391 289 1419.6 287.8M1266.8 294.3Q1275.6 294.8 1284.4 295.1"/>
<path fill="none" stroke="#b9eb41" stroke-width="4" d="M1157.8 250.1Q1170.4 251.3 1183 252.4M1191.1 260.2Q1221.1 262.7 1251 264.3M1459.8 263.9Q1488.5 262.3 1517.3 259.8M1363.6 281.8Q1382.7 281.6 1401.8 281.1M1428.3 280.1Q1449.7 279.2 1471.1 277.7M1330.5 296.5Q1352.9 296.8 1375.3 296.4M1255.6 301Q1276.2 302.3 1296.7 303M1292.7 310.2Q1302.8 310.6 1312.9 310.9"/>
<path fill="none" stroke="#b9e137" stroke-width="4.5" d="M1305 259.1Q1319.7 259.4 1334.5 259.5"/>
<path fill="none" stroke="#afeb41" stroke-width="4" d="M1427.7 258.1Q1454.3 257.1 1480.9 255.4M1340.2 289.2Q1351.8 289.2 1363.3 289.2M1283.4 295.1Q1307.4 296.1 1331.5 296.5"/>
<path fill="none" stroke="#a5eb55" stroke-width="4" d="M1479.9 255.4Q1505.5 253.8 1531.2 251.5M1563.3 255.1Q1576.9 253.6 1590.5 252M1130.7 260.9Q1147.8 262.9 1164.9 264.6M1307.8 281.2Q1327.4 281.7 1347.1 281.8"/>
<path fill="none" stroke="#c3e137" stroke-width="4" d="M1530.2 251.5Q1538.8 250.8 1547.4 250M1093.6 249.4Q1106.5 251.1 1119.3 252.6M1144.2 255.6Q1168.2 258.2 1192.1 260.2M1440.2 264.9Q1450.5 264.5 1460.8 263.9M1203.6 268.3Q1218 269.5 1232.4 270.4M1347.3 274.4Q1370.6 274.4 1393.8 273.9M1429.9 272.7Q1438.2 272.4 1446.4 272M1116.1 265.7Q1139.2 268.8 1162.3 271.3M1269.6 279.9Q1289.2 280.8 1308.8 281.2M1346.1 281.8Q1355.3 281.8 1364.6 281.8M1104.2 277.4Q1127.5 280.9 1150.7 283.8M1295.7 303Q1317.6 303.8 1339.5 303.9M1278 309.6Q1285.8 309.9 1293.7 310.2M1311.9 310.9Q1326.6 311.2 1341.3 311.4"/>
<path fill="none" stroke="#cde12d" stroke-width="4" d="M1546.4 250Q1568.6 247.9 1590.8 245.3M1231.4 270.4Q1261.3 272.4 1291.3 273.4M1088.3 268.3Q1114.2 272.3 1140 275.6M1238.6 285.3Q1264.6 287.1 1290.5 288"/>
<path fill="none" stroke="#eb4b0f" stroke-width="4.5" d="M1098.3 247.1Q1105.9 248 1113.6 248.9M1112.6 248.9Q1129.7 250.9 1146.8 252.6M1275.7 276.5Q1288.7 277 1301.7 277.4M1576.4 264.1Q1592.4 262.1 1608.5 259.9M1235 281.6Q1253.3 282.8 1271.7 283.6M1299.3 284.7Q1327.1 285.5 1355 285.5M1354 285.5Q1371.1 285.5 1388.1 285.1M1308.1 292.3Q1330.3 292.9 1352.5 292.9M1196 292.7Q1215.2 294.5 1234.4 295.9M1291.6 299.2Q1315.4 300 1339.2 300.2M1338.2 300.2Q1354.1 300.4 1370 300.2M1369 300.2Q1386.9 300 1404.8 299.4"/>
<path fill="none" stroke="#e17319" stroke-width="4.5" d="M1420.6 262.1Q1440.7 261.4 1460.8 260.3M1212.2 265.6Q1239.8 267.6 1267.4 268.8"/>
<path fill="none" stroke="#e15f0f" stroke-width="4.5" d="M1459.8 260.3Q1470.1 259.8 1480.3 259.2M1537.2 254.6Q1565.9 252 1594.6 248.5M1158.9 260.9Q1172.7 262.2 1186.4 263.4M1225.7 273.7Q1251.2 275.5 1276.7 276.5M1374.8 277.9Q1389.3 277.8 1403.7 277.4M1126.5 270.8Q1144.7 273.1 1162.9 275.1M1176.6 276.6Q1185 277.4 1193.5 278.2M1270.7 283.6Q1285.5 284.3 1300.3 284.7M1116.5 276.2Q1140.7 279.6 1164.9 282.3M1383.2 292.6Q1391.3 292.5 1399.3 292.2"/>
<path fill="none" stroke="#cde137" stroke-width="4" d="M1118.3 252.6Q1131.8 254.2 1145.2 255.6M1516.3 259.8Q1540.3 257.8 1564.3 255.1M1172.6 279.5Q1191.2 281.5 1209.8 283.1M1289.5 288Q1315.4 289 1341.2 289.2"/>
<path fill="none" stroke="#a5eb4b" stroke-width="4.5" d="M1250 264.3Q1262.8 264.9 1275.7 265.4"/>
<path fill="none" stroke="#e1690f" stroke-width="4.5" d="M1111.4 255.4Q1125.6 257.2 1139.8 258.7M1177.9 269.7Q1189.5 270.8 1201 271.7M1352.4 278.1Q1364.1 278.1 1375.8 277.9"/>
<path fill="none" stroke="#e1550f" stroke-width="4.5" d="M1362 270.7Q1386.3 270.5 1410.7 269.8"/>
<path fill="none" stroke="#eb2305" stroke-width="5" d="M1503.7 264.6Q1512.5 263.9 1521.2 263.2M1543.3 267.9Q1560.4 266.1 1577.4 264.1M1478.3 280.8Q1507.4 278.7 1536.4 275.7M1123.8 284Q1138.6 286 1153.3 287.8M1446.5 297.5Q1461 296.6 1475.5 295.5M1563.9 286.1Q1580 284 1596.2 281.6M1468.2 303.2Q1485.9 301.9 1503.6 300.2M1081.8 290.4Q1110.4 295.6 1139 299.6M1155 315.8Q1175.1 318.6 1195.2 320.9M1353.3 329.9Q1374.7 329.9 1396.1 329.2M1424.9 327.9Q1447.9 326.7 1470.8 324.8M1179.8 333.2Q1210 337.2 1240.3 339.8M1270.7 342.2Q1297.2 343.8 1323.7 344.4M1344.9 344.7Q1371.2 344.8 1397.5 343.9M1324.4 351.8Q1343.5 352.2 1362.6 352.1M1361.6 352.1Q1388.3 351.8 1415 350.5M1414 350.5Q1438.2 349.3 1462.4 347.2M1184.2 347.9Q1212.4 351.8 1240.6 354.3M1435 356.6Q1452.1 355.5 1469.1 353.9M1302.6 365.9Q1310.2 366.2 1317.7 366.4M1316.7 366.4Q1325.6 366.6 1334.5 366.8M1316.1 373.7Q1342 374.5 1367.9 374.2M1407.8 372.9Q1416 372.5 1424.2 372M1174.8 367.6Q1201.5 371.8 1228.2 374.7M1227.2 374.7Q1248.5 377.1 1269.9 378.6M1380.7 381.3Q1402.9 380.7 1425.2 379.3M1376 388.8Q1389.7 388.5 1403.4 387.9M1310.5 395.7Q1327.9 396.4 1345.3 396.5M1344.3 396.5Q1361.6 396.6 1378.9 396.2M1453.9 391.5Q1468.2 390.2 1482.6 388.4M1481.6 388.4Q1500.1 386.2 1518.6 383.4M1578.1 372Q1606.5 366 1634.9 358.5M1321.5 403.5Q1330.1 403.7 1338.7 403.8M1206.1 400.7Q1216.2 402.1 1226.3 403.3M1559.5 389.6Q1576.4 386.2 1593.3 382.2M1173 402.3Q1200.1 407.2 1227.2 410.6M1282 416.2Q1291.5 416.9 1300.9 417.3M1299.9 417.3Q1326.6 418.7 1353.2 418.7M1454.4 413.3Q1475.4 411.1 1496.5 408.1M1495.5 408.1Q1509.2 406.1 1522.9 403.8M1216.8 416.6Q1226.6 417.9 1236.5 419M1355.6 426.1Q1384.5 426 1413.5 424.1M1503.5 413.9Q1518.2 411.7 1532.8 409M1319.8 433Q1341 433.7 1362.2 433.4M1361.2 433.4Q1373.8 433.3 1386.3 432.9M1386 440.2Q1397.5 439.8 1409.1 439.1M1442.3 436.4Q1472.7 433.4 1503 428.4M1502 428.4Q1517.7 425.9 1533.4 422.9M1344.4 448.3Q1357.3 448.4 1370.1 448.1M1191.3 440.9Q1203.9 443.2 1216.6 445.1M1215.6 445.1Q1223.2 446.2 1230.9 447.2M1310.9 454.7Q1336.7 455.9 1362.5 455.6M1380.7 455.2Q1406.4 454.4 1432.2 452M1537 435.9Q1564.1 430.2 1591.2 422.9M1101.7 426.4Q1114.9 430.1 1128.2 433.5M1523.5 445.7Q1551.9 440 1580.4 432.6M1276.5 467.1Q1296.5 468.9 1316.4 469.7M1485.9 459.7Q1504.8 456.7 1523.7 452.9M1555.7 445.5Q1565.8 443.1 1575.9 440.5M1409.4 475.8Q1430.9 474.4 1452.5 471.8M1500.7 464.2Q1525.1 459.9 1549.4 454.1M1345.7 485.3Q1362.9 485.4 1380.1 484.8M1535 464.3Q1551.7 460.5 1568.5 456.1M1548.3 468Q1572.2 462.1 1596 454.9M1096.9 457.9Q1126.8 467.7 1156.8 475.2M1219.8 488.8Q1238.7 492 1257.6 494.2M1528.8 479.7Q1555.8 473.5 1582.8 465.6M1209 494Q1232.1 498.3 1255.2 501.2M1502.7 492.4Q1520.5 488.9 1538.4 484.6M1225.9 504.2Q1249.3 508.1 1272.8 510.6M1271.8 510.6Q1284.5 511.9 1297.2 512.8M1235.6 513.1Q1263.5 517.4 1291.5 519.7M1543.1 497.1Q1560.8 492.5 1578.4 487.2M1436.1 524.7Q1465.1 521.3 1494.1 515.7M1544.4 503.6Q1553.5 501.3 1562.5 498.8M1561.5 498.8Q1587 491.5 1612.4 482.4M1565.6 504.4Q1592.3 496.5 1618.9 486.5M1544.1 517.6Q1569.6 510.6 1595.1 501.9M1417.9 548.6Q1430.4 547.5 1443 545.9M1551.8 522.3Q1572.9 516.2 1594 508.9"/>
<path fill="none" stroke="#eb2d05" stroke-width="5" d="M1520.2 263.2Q1536.1 261.8 1551.9 260.2M1500.5 271.9Q1509.8 271.2 1519.1 270.4M1448.9 290Q1471.4 288.7 1493.9 286.9M1492.9 286.9Q1516.4 284.9 1539.9 282.3M1567.4 278.8Q1579.2 277.3 1591 275.7M1171.8 290.1Q1184.4 291.5 1197 292.7M1474.5 295.5Q1492.5 294.2 1510.4 292.5M1509.4 292.5Q1537.2 289.7 1564.9 286.1M1133.8 292.2Q1159.6 295.8 1185.3 298.6M1562.8 299.9Q1583.9 297 1605.1 293.5M1437.7 319.9Q1448.6 319.3 1459.6 318.5M1458.6 318.5Q1477.8 317.1 1496.9 315.2M1170.7 325Q1194.4 328.1 1218 330.5M1217 330.5Q1238.6 332.6 1260.2 334.1M1259.2 334.1Q1280.7 335.6 1302.2 336.3M1322.7 344.4Q1334.3 344.6 1345.9 344.7M1236.4 346.8Q1246.2 347.6 1256 348.4M1294.6 350.8Q1310 351.5 1325.4 351.8M1333.5 366.8Q1359.8 367.2 1386.1 366.4M1235.2 368.4Q1245.3 369.3 1255.5 370.2M1274.8 371.7Q1295.9 373.1 1317.1 373.7M1387.2 373.7Q1398 373.4 1408.8 372.9M1268.9 378.6Q1290.7 380.2 1312.6 381M1342.6 389.1Q1359.8 389.2 1377 388.8M1202.5 385.9Q1221.1 388.5 1239.7 390.4M1238.7 390.4Q1249.5 391.6 1260.4 392.5M1285.1 394.4Q1298.3 395.2 1311.5 395.7M1224.2 396Q1244.4 398.4 1264.6 400.1M1263.6 400.1Q1293.1 402.6 1322.5 403.5M1475.6 396.4Q1488.9 394.8 1502.3 392.9M1261.3 407.2Q1286.8 409.5 1312.2 410.5M1422.8 408.8Q1451.9 406.7 1481.1 403M1226.2 410.6Q1254.6 414.2 1283 416.2M1576.4 392.7Q1584.5 391 1592.7 389.1M1235.5 419Q1256.7 421.5 1277.9 423.2M1307 425.1Q1323 425.8 1339.1 426M1338.1 426Q1347.3 426.1 1356.6 426.1M1179 417.5Q1206 422.4 1233.1 425.8M1288.5 431.4Q1304.7 432.4 1320.8 433M1485.3 423.9Q1496.8 422.3 1508.2 420.4M1221.5 431.6Q1236.2 433.6 1250.9 435.2M1190.5 433.7Q1219.8 438.9 1249.1 442.3M1269.4 444.5Q1291 446.5 1312.5 447.4M1494.1 436.8Q1509.8 434.4 1525.5 431.5M1524.5 431.5Q1539.3 428.7 1554.1 425.4M1176.2 445Q1197.9 449.4 1219.6 452.7M1381.5 462.6Q1404 461.8 1426.4 459.9M1100.8 432.8Q1121.5 438.9 1142.3 444M1228.6 461.4Q1243 463.5 1257.5 465.1M1454 464.2Q1470.5 462.2 1486.9 459.7M1522.7 452.9Q1539.7 449.5 1556.7 445.5M1179.2 459.7Q1204.6 465 1229.9 468.7M1365.5 477.8Q1387.9 477.4 1410.4 475.8M1548.4 454.1Q1577.6 447.2 1606.7 438.3M1091.9 443.2Q1115.4 450.6 1138.9 456.8M1379.1 484.8Q1403.1 484 1427.1 481.8M1234.9 484Q1247.7 485.9 1260.5 487.3M1321.2 499.5Q1328.8 499.8 1336.3 499.9M1387.5 499.3Q1417.7 497.9 1447.9 494.2M1107.7 468.1Q1119.9 471.9 1132 475.3M1307.1 506.2Q1326.6 507.3 1346 507.5M1434.8 502.9Q1449.7 501.3 1464.6 499.2M1463.6 499.2Q1476.5 497.3 1489.4 495.1M1086 473.9Q1109.3 482.2 1132.6 489.1M1412.8 519.7Q1436.6 517.8 1460.4 514.3M1493.1 515.7Q1519.2 510.6 1545.4 503.6M1277 547.8Q1299.8 550.3 1322.7 551.2M1387.9 550.9Q1403.4 550.1 1418.9 548.6"/>
<path fill="none" stroke="#afeb4b" stroke-width="4" d="M1100.4 256.9Q1116.1 259 1131.7 260.9M1161.3 271.3Q1179.2 273.2 1197.1 274.8M1196.1 274.8Q1225.2 277.4 1254.3 279M1208.8 283.1Q1224.2 284.3 1239.6 285.3M1149.7 283.8Q1178.8 287.4 1207.9 290M1206.9 290Q1237.3 292.7 1267.8 294.3M1393.2 296.1Q1402 295.8 1410.8 295.5M1338.5 303.9Q1364.5 304.2 1390.6 303.5M1247.4 307.7Q1263.2 308.8 1279 309.6"/>
<path fill="none" stroke="#69d7e1" stroke-width="4" d="M1163.9 264.6Q1184.2 266.7 1204.6 268.3M1253.3 279Q1262 279.5 1270.6 279.9"/>
<path fill="none" stroke="#cdd72d" stroke-width="3.5" d="M1486.1 269.4Q1495.2 268.7 1504.2 268M1571.9 274.5Q1595.3 271.5 1618.8 267.8M1389.6 303.5Q1407.6 303.1 1425.7 302.2M1170 307.2Q1181.8 308.6 1193.5 309.9M1200.4 317.9Q1218.2 319.8 1235.9 321.3M1344.1 333.6Q1353.2 333.6 1362.4 333.6M1378.1 340.7Q1386.7 340.6 1395.2 340.3M1185 337.3Q1214.1 341.1 1243.2 343.6M1399.6 347.5Q1413.8 346.9 1428.1 346.1M1342.4 355.8Q1352.2 355.8 1362.1 355.8M1423.3 353.7Q1445.5 352.4 1467.7 350.3M1314.1 384.8Q1337.8 385.6 1361.4 385.4M1202.4 382.2Q1232.8 386.5 1263.2 389M1341.4 392.8Q1352.3 392.9 1363.2 392.7M1465 393.9Q1474.1 393 1483.2 391.9M1206.9 397.1Q1228.6 400.2 1250.3 402.4M1249.3 402.4Q1263 403.7 1276.8 404.7M1570.5 383.6Q1599.5 377.3 1628.6 369.4M1372.1 422.2Q1386.5 421.9 1400.9 421.2M1425.5 426.9Q1445.6 425.3 1465.8 422.9M1210.9 426.3Q1237.3 430.3 1263.6 432.8M1425.6 441.5Q1449.3 439.6 1473.1 436.4M1493.4 440.4Q1522.5 435.7 1551.5 429.2M1101.3 442.5Q1113.3 446.1 1125.3 449.3M1535.2 467.5Q1564.1 460.8 1593.1 452.1M1445.8 497.9Q1455.1 496.8 1464.4 495.5M1459 510.6Q1479.4 507.7 1499.7 503.7"/>
<path fill="none" stroke="#87e1a5" stroke-width="3.5" d="M1503.2 268Q1520.1 266.6 1537 265M1469.1 285Q1491.4 283.5 1513.7 281.4M1534.4 286.1Q1543.2 285.1 1552 284.1M1424.7 302.2Q1454.2 300.9 1483.6 298.4M1107.4 291.2Q1137.5 296.1 1167.7 299.8M1192.5 309.9Q1206.4 311.4 1220.4 312.7M1319.8 318.4Q1338.6 318.9 1357.4 318.8M1429.5 316.7Q1442.5 316 1455.5 315.1M1265.8 323.5Q1277.8 324.2 1289.9 324.8M1228.1 327.9Q1238.9 328.8 1249.7 329.6M1339.3 363.1Q1360.5 363.4 1381.6 362.8M1204.8 361.2Q1213.5 362.2 1222.2 363.1M1449.1 366.4Q1467.7 364.9 1486.2 362.8M1318.6 407.1Q1342 407.8 1365.4 407.5M1447.6 403Q1466.7 401.2 1485.9 398.7M1484.9 398.7Q1511.3 395.2 1537.6 390.4M1437.3 411.2Q1464.4 408.9 1491.5 405.1M1342.5 422.4Q1357.8 422.5 1373.1 422.2M1353.5 437.2Q1362.4 437.2 1371.2 437M1396.3 443.5Q1411.4 442.7 1426.6 441.5M1413 464.5Q1439.4 462.6 1465.8 459.1M1124.3 449.3Q1132.7 451.6 1141.1 453.7M1462.5 481.1Q1483.7 478.2 1505 474.2"/>
<path fill="none" stroke="#c3e137" stroke-width="3.5" d="M1536 265Q1561.2 262.4 1586.4 259.2M1443.9 293.9Q1468.5 292.5 1493.1 290.4M1105.8 284.3Q1126.9 287.6 1148 290.3M1147 290.3Q1167.8 293 1188.6 295.2M1482.6 298.4Q1497 297.2 1511.4 295.7M1166.7 299.8Q1176.5 301 1186.4 302M1185.4 302Q1199.1 303.5 1212.9 304.8M1211.9 304.8Q1230.2 306.5 1248.4 307.7M1565.1 295.9Q1583 293.4 1601 290.4M1241.9 314.6Q1265.5 316.4 1289.2 317.4M1392.5 318.2Q1411.5 317.7 1430.5 316.7M1173.5 314.7Q1187.4 316.4 1201.4 317.9M1362.6 326.2Q1375.4 326.1 1388.2 325.7M1292.7 332.3Q1305 332.8 1317.2 333.1M1290.1 339.5Q1309.4 340.4 1328.8 340.8M1394.2 340.3Q1411.8 339.7 1429.4 338.7M1361.1 355.8Q1379.5 355.6 1397.8 354.9M1396.8 354.9Q1410.6 354.5 1424.3 353.7M1312.2 362.5Q1326.2 363 1340.3 363.1M1400.6 362.2Q1426 361.1 1451.3 359M1308.9 369.8Q1317.7 370.1 1326.5 370.3M1302.4 376.9Q1310.2 377.2 1318.1 377.5M1317.1 377.5Q1328.1 377.8 1339.2 377.9M1338.2 377.9Q1359.8 378.2 1381.5 377.6M1380.5 377.6Q1401.9 377.1 1423.4 375.7M1174.2 370.8Q1198.2 374.7 1222.3 377.5M1221.3 377.5Q1245.8 380.4 1270.4 382.3M1382.1 385Q1410 384.2 1438 382M1566.7 363.9Q1585 360.4 1603.3 356.2M1178 378.5Q1190.7 380.5 1203.4 382.2M1318.4 392.3Q1330.4 392.6 1342.4 392.8M1362.2 392.7Q1379.9 392.6 1397.7 391.8M1190 387.5Q1215.2 391.3 1240.3 394.1M1239.3 394.1Q1257.1 396 1275 397.3M1274 397.3Q1300.5 399.2 1327.1 399.9M1579.7 374.8Q1588.5 372.9 1597.4 370.9M1275.8 404.7Q1288.9 405.7 1301.9 406.3M1300.9 406.3Q1310.3 406.8 1319.6 407.1M1274.9 412Q1293.1 413.4 1311.4 414.1M1310.4 414.1Q1319.5 414.5 1328.6 414.7M1490.5 405.1Q1517.2 401.3 1544 396.2M1175 406Q1196.1 409.9 1217.3 412.8M1216.3 412.8Q1244.8 416.8 1273.3 419.1M1449.8 417.3Q1459.1 416.4 1468.4 415.3M1188.4 415.5Q1216.3 420.3 1244.2 423.5M1243.2 423.5Q1268.5 426.4 1293.9 428M1292.9 428Q1310.1 429 1327.2 429.5M1173.4 433.7Q1203.9 439.9 1234.4 444M1550.5 429.2Q1574.2 423.9 1597.8 417.4M1294 457.5Q1317.6 459 1341.1 459.3M1475.6 450.3Q1494.4 447.7 1513.1 444.2M1512.1 444.2Q1521.7 442.5 1531.3 440.6M1289.1 464.5Q1310.8 466.1 1332.5 466.6M1525.9 462.6Q1535.6 460.6 1545.2 458.4M1544.2 458.4Q1568.9 452.5 1593.6 445.2M1439.7 491.3Q1449.1 490.3 1458.6 489.1M1108.8 464.8Q1127.2 470.5 1145.6 475.4M1511.3 486.9Q1536.9 481.6 1562.4 474.6"/>
<path fill="none" stroke="#eb4105" stroke-width="5" d="M1450.1 275.4Q1475.8 274 1501.5 271.9M1538.9 282.3Q1553.7 280.7 1568.4 278.8M1403.8 299.4Q1425.7 298.7 1447.5 297.5M1432.4 305.6Q1450.8 304.6 1469.2 303.2M1542.8 295.7Q1573 292 1603.2 287.2M1138 299.6Q1147.2 300.9 1156.4 302.1M1301.2 336.3Q1331 337.5 1360.8 337.3M1420.1 342.9Q1431.4 342.3 1442.7 341.5M1378.3 359.2Q1394.9 358.8 1411.6 358.1M1410.6 358.1Q1423.3 357.5 1436 356.6M1340.5 381.6Q1361.1 381.8 1381.7 381.3M1337.7 403.8Q1355.9 404 1374.2 403.7M1225.3 403.3Q1243.8 405.6 1262.3 407.2M1464.8 419.4Q1484.6 417 1504.5 413.9M1548.2 405.7Q1566.1 402.2 1583.9 397.9M1166.6 422.1Q1194.6 427.7 1222.5 431.6M1331.8 440.7Q1359.4 441.3 1387 440.2M1408.1 439.1Q1425.7 438.1 1443.3 436.4M1447.3 443.1Q1471.2 440.6 1495.1 436.8M1282.9 453Q1297.4 454.1 1311.9 454.7M1266.2 458.8Q1287.1 460.9 1308.1 461.9M1425.4 459.9Q1443 458.4 1460.6 456.2M1195.6 455.9Q1212.6 459 1229.6 461.4M1197 477.5Q1216.5 481.2 1235.9 484M1455.2 485.8Q1463.7 484.8 1472.1 483.6M1361.3 514.8Q1389.4 514.5 1417.4 512.1M1468.6 505.6Q1499.1 500.9 1529.6 493.7M1332 522Q1353.3 522.6 1374.7 522M1373.7 522Q1393.7 521.4 1413.8 519.7M1374.8 536.7Q1388 536.3 1401.2 535.4M1400.2 535.4Q1426 533.7 1451.8 530.1"/>
<path fill="none" stroke="#eb4b0f" stroke-width="5" d="M1518.1 270.4Q1531.2 269.2 1544.3 267.9M1535.4 275.7Q1563.2 272.8 1591 269M1152.3 287.8Q1162.6 289 1172.8 290.1M1331.9 307.6Q1355.4 307.9 1379 307.5M1378 307.5Q1405.7 307 1433.4 305.6M1214.1 308.7Q1233.5 310.5 1252.8 311.7M1115 302.8Q1123.4 304.1 1131.7 305.4M1185.1 312.8Q1194.6 313.8 1204.1 314.7M1312.1 322Q1322.2 322.2 1332.3 322.4M1377.3 322.3Q1388.7 322.1 1400.1 321.7M1574.1 305.1Q1589.3 302.8 1604.5 300.2M1194.2 320.9Q1210.3 322.7 1226.4 324.1M1395.1 329.2Q1410.5 328.7 1425.9 327.9M1239.3 339.8Q1255.5 341.2 1271.7 342.2M1198.2 342.7Q1217.8 345 1237.4 346.8M1198 356.9Q1227.3 360.6 1256.7 363M1385.1 366.4Q1402.9 365.9 1420.7 364.9M1254.5 370.2Q1265.1 371 1275.8 371.7M1193 377.4Q1220.4 381.4 1247.9 384M1290.7 387.4Q1304.8 388.2 1318.9 388.6M1412.5 424.1Q1430.5 423 1448.5 421.2M1428.1 430.3Q1438.6 429.5 1449.1 428.5M1248.1 442.3Q1259.3 443.5 1270.4 444.5M1398.3 447.1Q1423.3 445.8 1448.3 443.1M1553.1 425.4Q1571.2 421.4 1589.4 416.7M1229.9 447.2Q1256.9 450.9 1283.9 453M1574.9 440.5Q1602.9 433.2 1630.9 424M1091 436.3Q1105.1 440.7 1119.3 444.6M1284.4 475.1Q1297.1 476.1 1309.8 476.8M1222.8 474.9Q1249.5 479.2 1276.2 481.7M1426.1 481.8Q1454.6 479.2 1483.1 474.6M1405.2 490.9Q1430.7 489.1 1456.2 485.8M1471.1 483.6Q1491.7 480.5 1512.2 476.4M1256.6 494.2Q1279.4 497 1302.2 498.5M1488.4 495.1Q1496 493.8 1503.7 492.4M1537.4 484.6Q1559.7 479.2 1582 472.6M1450.8 530.1Q1479.9 526 1508.9 519.7M1507.9 519.7Q1521 516.9 1534.1 513.6M1301.4 542.7Q1319.5 544 1337.7 544.3"/>
<path fill="none" stroke="#cdd72d" stroke-width="4" d="M1400.8 281.1Q1415 280.7 1429.3 280.1M1139 275.6Q1156.3 277.7 1173.6 279.5M1374.3 296.4Q1384.2 296.3 1394.2 296.1M1226.7 298.9Q1241.6 300.1 1256.6 301"/>
<path fill="none" stroke="#a5eb55" stroke-width="3.5" d="M1470.1 277.7Q1499.3 275.8 1528.5 272.8M1559.9 269.2Q1584.3 266.3 1608.8 262.8M1455 307.8Q1463.1 307.2 1471.1 306.6M1096.1 295.9Q1117.7 299.7 1139.4 302.8M1153.4 311.9Q1164 313.4 1174.5 314.7M1303 325.3Q1333.3 326.4 1363.6 326.2M1345.8 348.4Q1373.2 348.5 1400.6 347.5M1241.2 350.8Q1255.9 352.1 1270.6 353M1269.6 353Q1293.9 354.6 1318.2 355.3M1192.3 352.4Q1212.1 355 1231.8 357M1286 361.4Q1299.6 362.1 1313.2 362.5M1266.6 367.4Q1288.2 369 1309.9 369.8M1228.4 371.2Q1249.5 373.4 1270.6 375M1269.4 382.3Q1292.2 384 1315.1 384.8M1437 382Q1456.4 380.5 1475.8 378.4M1262.2 389Q1281.5 390.6 1300.7 391.5M1299.7 391.5Q1309.6 392 1319.4 392.3M1399.9 421.2Q1417.8 420.3 1435.7 418.8M1467.4 415.3Q1496 411.9 1524.6 406.8M1560.9 399.3Q1572.3 396.9 1583.7 394.3M1370.2 437Q1380.6 436.8 1391.1 436.4M1322.3 444.1Q1347.8 444.9 1373.3 444.4M1279.4 471Q1307.1 473.4 1334.8 474"/>
<path fill="none" stroke="#afeb4b" stroke-width="3.5" d="M1527.5 272.8Q1544.2 271.2 1560.9 269.2M1187.6 295.2Q1207.7 297.3 1227.7 298.9M1138.4 302.8Q1154.7 305.2 1171 307.2M1219.4 312.7Q1231.1 313.7 1242.9 314.6M1454.5 315.1Q1481.9 313.1 1509.3 310.2M1234.9 321.3Q1250.9 322.6 1266.8 323.5M1316.2 333.1Q1330.6 333.5 1345.1 333.6M1390.2 333Q1398.6 332.8 1407 332.5M1406 332.5Q1435.4 331.3 1464.7 328.9M1293.2 347Q1320 348.3 1346.8 348.4M1427.1 346.1Q1453.4 344.5 1479.8 341.9M1248.8 366Q1258.2 366.8 1267.6 367.4M1391.5 369.9Q1420.8 368.9 1450.1 366.4M1269.6 375Q1286.5 376.2 1303.4 376.9M1446.8 388.5Q1457.3 387.6 1467.7 386.5M1326.1 399.9Q1342 400.3 1357.9 400.2M1482.2 391.9Q1508.6 388.5 1535 383.9M1197.8 402.9Q1220.1 406.3 1242.4 408.8M1327.6 414.7Q1337.7 414.9 1347.9 415M1543 396.2Q1567.7 391.4 1592.5 385.4M1272.3 419.1Q1285.9 420.2 1299.5 420.9M1526.9 420.3Q1544.8 416.9 1562.7 412.9M1561.7 412.9Q1582.5 408.2 1603.3 402.6M1472.1 436.4Q1484.1 434.8 1496.1 433M1233.4 444Q1249.8 446.1 1266.3 447.7M1380.3 451.5Q1388.5 451.3 1396.7 450.9M1410.9 457.3Q1431.3 455.9 1451.8 453.6M1450.8 453.6Q1463.7 452.2 1476.6 450.3M1095.6 427.5Q1106.9 430.8 1118.3 433.9M1171 447.2Q1188.3 450.9 1205.7 453.9M1550.4 443Q1566.4 439.3 1582.4 435.1M1433.2 470.1Q1440.8 469.4 1448.4 468.6M1511.1 458.6Q1539.3 453.2 1567.4 445.9M1566.4 445.9Q1582.7 441.7 1599 436.9M1432 477.5Q1447.4 476 1462.8 474M1429.8 507.1Q1456 504.3 1482.2 499.8M1116.7 480.7Q1130.1 484.9 1143.5 488.6M1097.1 493.9Q1117.6 501.3 1138.1 507.5"/>
<path fill="none" stroke="#eb550f" stroke-width="5" d="M1422.3 284Q1450.8 282.9 1479.3 280.8M1114.4 289.3Q1124.6 290.8 1134.8 292.2M1331.3 322.4Q1343.2 322.5 1355.1 322.5M1314.9 329.4Q1334.6 329.9 1354.3 329.9M1359.3 359.5Q1369.3 359.4 1379.3 359.2M1499.1 450.3Q1511.8 448.2 1524.5 445.7M1567.5 456.1Q1580.2 452.8 1592.8 449.2M1392.9 506.4Q1414.4 505.2 1435.8 502.9M1506 505.9Q1516.3 503.8 1526.6 501.5M1437.4 539.1Q1462 536.1 1486.7 531.5M1493.8 537Q1523.3 530.9 1552.8 522.3"/>
<path fill="none" stroke="#cde12d" stroke-width="3.5" d="M1418.6 287.8Q1444.3 286.8 1470.1 285M1557 290.2Q1571.7 288.3 1586.3 286.1M1416.5 310Q1436.3 309.1 1456 307.8M1371.7 318.7Q1382.6 318.5 1393.5 318.2M1186.3 323.3Q1207.7 325.9 1229.1 327.9M1248.7 329.6Q1271.2 331.3 1293.7 332.3M1361.4 333.6Q1376.3 333.5 1391.2 333M1317.2 355.3Q1330.3 355.7 1343.4 355.8M1221.2 363.1Q1235.5 364.7 1249.8 366M1422.4 375.7Q1449.9 374 1477.4 371M1474.8 378.4Q1482.4 377.5 1490 376.6M1356.9 400.2Q1386.2 400 1415.6 398.3M1241.4 408.8Q1258.7 410.7 1275.9 412M1298.5 420.9Q1321 422.1 1343.5 422.4M1326.2 429.5Q1352.3 430.2 1378.4 429.4M1377.4 429.4Q1402 428.8 1426.5 426.9M1390.1 436.4Q1410.1 435.6 1430.1 433.9M1217.3 434.5Q1245.1 438.6 1272.9 441M1372.3 444.4Q1384.8 444.1 1397.3 443.5M1162 452.2Q1187.7 458 1213.3 462.3M1461.8 474Q1475.1 472.2 1488.4 470.1M1116.9 460.6Q1125.3 463 1133.7 465.3M1083.3 475.7Q1106.8 484.3 1130.2 491.4"/>
<path fill="none" stroke="#afeb41" stroke-width="3.5" d="M1512.7 281.4Q1542.8 278.5 1572.9 274.5M1387.2 325.7Q1416.3 325 1445.3 323.1M1242.2 343.6Q1268.2 345.8 1294.2 347"/>
<path fill="none" stroke="#b9eb41" stroke-width="3.5" d="M1409.8 295.5Q1427.3 294.9 1444.9 293.9M1510.4 295.7Q1526.6 294.1 1542.9 292.1M1384.6 311Q1401.1 310.7 1417.5 310M1356.4 318.8Q1364.6 318.8 1372.7 318.7M1095.3 302.3Q1124.9 307.7 1154.4 311.9M1288.9 324.8Q1296.4 325.1 1304 325.3M1444.3 323.1Q1459 322.1 1473.7 320.9M1196.4 331.6Q1221.4 334.6 1246.3 336.6M1197.6 346Q1219.9 348.8 1242.2 350.8M1577.2 334.7Q1605.3 329.6 1633.3 323.1M1230.8 357Q1258.9 359.8 1287 361.4M1325.5 370.3Q1351.9 370.9 1378.3 370.3M1360.4 385.4Q1371.8 385.3 1383.1 385M1466.7 386.5Q1480.8 385 1494.8 383.2M1434.7 418.8Q1442.8 418.1 1450.8 417.3M1501.8 417.6Q1513.4 415.8 1525 413.8M1524 413.8Q1539.5 411 1554.9 407.7M1429.1 433.9Q1441.4 432.9 1453.8 431.6M1452.8 431.6Q1469.9 429.7 1487.1 427.2M1486.1 427.2Q1507 424.2 1527.9 420.3M1554.7 421.4Q1579.1 415.9 1603.6 409.1M1182.2 442.5Q1205.8 447.1 1229.4 450.5M1581.4 435.1Q1597.7 430.7 1613.9 425.8M1333.8 474Q1354 474.4 1374.1 473.9M1082.8 456Q1096.3 460.6 1109.8 464.8M1535.8 488.3Q1553.5 484 1571.2 478.9M1570.2 478.9Q1586.2 474.3 1602.1 469.1M1498.7 503.7Q1526.1 498.3 1553.5 490.8M1533.5 516.8Q1556.7 510.8 1579.9 503.3M1543.5 521Q1563.6 515.5 1583.7 508.8"/>
<path fill="none" stroke="#69d7e1" stroke-width="3.5" d="M1492.1 290.4Q1513.8 288.5 1535.4 286.1M1541.9 292.1Q1549.9 291.2 1558 290.2M1561.1 303.3Q1585.2 299.9 1609.4 295.6M1327.8 340.8Q1353.4 341.2 1379.1 340.7"/>
<path fill="none" stroke="#a5eb4b" stroke-width="3.5" d="M1551 284.1Q1567.5 282.1 1584 279.8"/>
<path fill="none" stroke="#eb2d05" stroke-width="4.5" d="M1233.4 295.9Q1250.1 297.1 1266.7 298M1256.5 304.7Q1282.8 306.4 1309.1 307.1"/>
<path fill="none" stroke="#eb3705" stroke-width="5" d="M1184.3 298.6Q1197.9 300 1211.5 301.2M1155.4 302.1Q1185.3 306 1215.1 308.7M1424.7 313.3Q1435.6 312.8 1446.5 312.1M1130.7 305.4Q1158.4 309.6 1186.1 312.8M1203.1 314.7Q1230 317.5 1257 319.3M1354.1 322.5Q1366.2 322.5 1378.3 322.3M1399.1 321.7Q1418.9 321.1 1438.7 319.9M1359.8 337.3Q1382.2 337.1 1404.6 336.3M1403.6 336.3Q1420.6 335.6 1437.5 334.6M1436.5 334.6Q1458.9 333.2 1481.3 331.1M1255 348.4Q1275.3 349.9 1295.6 350.8M1239.6 354.3Q1265.6 356.7 1291.5 358M1290.5 358Q1302.8 358.6 1315 358.9M1314 358.9Q1337.1 359.6 1360.3 359.5M1581.1 337.7Q1602.7 333.7 1624.3 328.9M1255.7 363Q1279.6 364.9 1303.6 365.9M1193.3 363.3Q1214.8 366.2 1236.2 368.4M1366.9 374.2Q1377.6 374.1 1388.2 373.7M1311.6 381Q1326.5 381.5 1341.5 381.6M1246.9 384Q1269.3 386.1 1291.7 387.4M1317.9 388.6Q1330.7 389 1343.6 389.1M1438.2 385.6Q1464.2 383.6 1490.2 380.3M1577.5 365.4Q1601.4 360.5 1625.3 354.6M1259.4 392.5Q1272.8 393.6 1286.1 394.4M1201.9 393Q1213.6 394.6 1225.2 396M1190.1 398.3Q1198.6 399.5 1207.1 400.7M1311.2 410.5Q1325.4 411 1339.6 411.2M1448.1 428.5Q1467.2 426.5 1486.3 423.9M1507.2 420.4Q1521.8 418.1 1536.3 415.3M1535.3 415.3Q1560.3 410.5 1585.4 404.3M1302.3 439.6Q1310.4 440 1318.5 440.3M1532.4 422.9Q1554.5 418.6 1576.6 413.2M1575.6 413.2Q1595.6 408.4 1615.7 402.8M1369.1 448.1Q1384.2 447.8 1399.3 447.1M1361.5 455.6Q1371.6 455.5 1381.7 455.2M1431.2 452Q1458.8 449.6 1486.3 445.4M1485.3 445.4Q1511.6 441.4 1538 435.9M1346.2 463.1Q1364.4 463.2 1382.5 462.6M1579.4 432.6Q1600.9 426.9 1622.5 420.2M1372.6 470.2Q1395.5 469.7 1418.3 467.9M1275.2 481.7Q1290.8 483.1 1306.4 484M1352 492.7Q1379.1 492.7 1406.2 490.9M1511.2 476.4Q1530.3 472.7 1549.3 468M1301.2 498.5Q1311.7 499.1 1322.2 499.5M1335.3 499.9Q1361.9 500.5 1388.5 499.3M1105.5 474Q1121.4 479.2 1137.4 483.7M1525.6 501.5Q1534.8 499.4 1544.1 497.1M1093.8 483.2Q1120.5 492.7 1147.3 500.2M1259.1 523.7Q1280 526.4 1300.9 527.8"/>
<path fill="none" stroke="#e15f0f" stroke-width="5" d="M1210.5 301.2Q1234 303.3 1257.5 304.7M1305.4 314.4Q1335.7 315.3 1366 315M1256 319.3Q1284.6 321.2 1313.1 322M1225.4 324.1Q1247.6 326.1 1269.9 327.4M1268.9 327.4Q1281.7 328.2 1294.4 328.7M1293.4 328.7Q1304.7 329.1 1315.9 329.4M1482.1 474.6Q1509.1 470.3 1536 464.3M1490.8 487.5Q1510.3 484 1529.8 479.7"/>
<path fill="none" stroke="#eb2305" stroke-width="5.5" d="M1502.6 300.2Q1523.2 298.3 1543.8 295.7M1488.9 308.7Q1509.4 306.8 1529.8 304.4M1528.8 304.4Q1546.3 302.4 1563.8 299.9M1103.1 307.4Q1129.6 312.1 1156 315.8M1469.8 324.8Q1497.6 322.4 1525.5 319M1524.5 319Q1545.3 316.4 1566.2 313.3M1565.2 313.3Q1588.3 309.7 1611.4 305.5M1106.7 314.7Q1118.3 316.8 1129.8 318.6M1480.3 331.1Q1495.9 329.6 1511.5 327.8M1510.5 327.8Q1536.4 324.7 1562.3 320.7M1116 323.1Q1128 325.2 1140.1 327.1M1441.7 341.5Q1469.9 339.6 1498.1 336.5M1563.1 327.3Q1585.5 323.7 1607.9 319.3M1137.3 333.7Q1145.5 335 1153.7 336.2M1152.7 336.2Q1160.7 337.4 1168.6 338.5M1496.6 343.6Q1517.5 341.3 1538.3 338.2M1537.3 338.2Q1563.6 334.4 1590 329.5M1468.1 353.9Q1496.6 351.2 1525.1 347.2M1524.1 347.2Q1532.1 346.1 1540.1 344.9M1539.1 344.9Q1560.6 341.7 1582.1 337.7M1081.9 335.9Q1109.8 342.2 1137.8 347.2M1136.8 347.2Q1150.1 349.6 1163.4 351.7M1162.4 351.7Q1172 353.1 1181.5 354.4M1465.9 361.3Q1485.5 359.5 1505.1 357M1549.3 350.2Q1573.3 346.2 1597.4 341.3M1082.1 342.5Q1093.5 345 1104.9 347.4M1175.5 360.7Q1184.9 362.1 1194.3 363.3M1423.2 372Q1446.3 370.6 1469.5 368.3M1468.5 368.3Q1487.2 366.4 1506 364M1505 364Q1531.7 360.4 1558.4 355.7M1117.9 357.1Q1146.8 363.1 1175.8 367.6M1486.6 373.5Q1504.1 371.4 1521.6 368.8M1520.6 368.8Q1540.7 365.8 1560.7 362.1M1108.6 361.7Q1138 368.3 1167.5 373.2M1166.5 373.2Q1180.2 375.5 1194 377.4M1402.4 387.9Q1420.8 387.1 1439.2 385.6M1489.2 380.3Q1519.2 376.5 1549.1 371.2M1094 364.9Q1108.8 368.4 1123.6 371.5M1517.6 383.4Q1528.7 381.7 1539.8 379.8M1104.7 374.1Q1133.8 381 1162.8 386.3M1161.8 386.3Q1182.4 390 1202.9 393M1373.2 403.7Q1398.2 403.2 1423.2 401.5M1133.8 387.6Q1145.3 390 1156.8 392.1M1155.8 392.1Q1173.4 395.5 1191.1 398.3M1352.7 411.3Q1361 411.3 1369.4 411.2M1525.4 396.1Q1543 393.2 1560.5 389.6M1098.9 385.9Q1123.2 392.1 1147.6 397.1M1411.1 416.9Q1433.3 415.5 1455.4 413.3M1531.8 409Q1540.5 407.4 1549.2 405.7M1096.4 398.5Q1109.9 402 1123.4 405.3M1114.3 409.9Q1141 416.7 1167.6 422.1M1120.5 425Q1138.3 429.6 1156.1 433.5M1155.1 433.5Q1173.7 437.6 1192.3 440.9M1127.2 433.5Q1152.2 440 1177.2 445M1146.4 465.9Q1164.3 470.4 1182.2 474.2M1205.5 486.2Q1213.1 487.6 1220.8 488.8M1131 475.3Q1159.3 483.4 1187.6 489.5M1136.4 483.7Q1159.2 490.1 1182 495.3M1131.6 489.1Q1155.9 496.3 1180.2 501.9M1179.2 501.9Q1190.3 504.4 1201.4 506.6M1200.4 506.6Q1209.5 508.4 1218.5 510M1217.5 510Q1227 511.6 1236.6 513.1M1177.1 508.4Q1196.9 513.1 1216.7 516.8M1215.7 516.8Q1237.9 520.9 1260.1 523.7M1154.3 509.4Q1183.6 517.5 1212.9 523.2M1211.9 523.2Q1223.8 525.5 1235.6 527.4M1092.6 495.9Q1120.6 506.3 1148.7 514.4M1171.9 521.1Q1202.1 528.8 1232.2 534M1115.2 510.7Q1135.7 517.7 1156.1 523.5M1155.1 523.5Q1169.4 527.4 1183.6 530.9M1182.6 530.9Q1205.5 536.4 1228.4 540.5"/>
<path fill="none" stroke="#b9e137" stroke-width="3.5" d="M1340.3 311.4Q1362.9 311.5 1385.6 311M1245.3 336.6Q1268.2 338.5 1291.1 339.5M1377.3 370.3Q1384.9 370.1 1392.5 369.9M1199.6 431.6Q1209 433.1 1218.3 434.5M1265.3 447.7Q1274.8 448.6 1284.3 449.3M1105.5 470.3Q1120.9 475.3 1136.2 479.6"/>
<path fill="none" stroke="#afeb4b" stroke-width="3" d="M1470.1 306.6Q1491.8 304.9 1513.6 302.6M1169.3 321.1Q1178.3 322.3 1187.3 323.3M1145.5 338.2Q1172.1 342.7 1198.6 346M1518.5 351.3Q1541.4 348.1 1564.3 344.1M1124.8 354.8Q1145 358.8 1165.3 362.2M1476.4 371Q1505.8 367.7 1535.2 362.9M1489 376.6Q1511.2 373.9 1533.4 370.2M1532.4 370.2Q1550 367.4 1567.7 363.9M1552.4 380.5Q1566.5 377.8 1580.7 374.8M1364.4 407.5Q1376 407.4 1387.6 407M1427.2 404.7Q1437.9 404 1448.6 403M1096.9 381.7Q1123.5 388.5 1150.1 394M1153.8 408.8Q1171.6 412.4 1189.4 415.5M1117.7 413.8Q1135 418.3 1152.4 422M1107.3 437.7Q1135.2 445.8 1163 452.2M1140.1 453.7Q1161.2 459.1 1182.3 463.5M1187.8 479Q1212.5 484.1 1237.2 487.8"/>
<path fill="none" stroke="#c3e137" stroke-width="3" d="M1512.6 302.6Q1539.3 299.7 1566.1 295.9M1508.3 310.2Q1535.2 307.2 1562.1 303.3M1536 313.8Q1547.7 312.3 1559.4 310.6M1463.7 328.9Q1478.5 327.6 1493.3 326.1M1492.3 326.1Q1507.6 324.6 1522.8 322.7M1557.2 317.7Q1583.7 313.6 1610.2 308.6M1492.3 333.3Q1501.4 332.3 1510.5 331.3M1103.4 323.7Q1119.1 326.7 1134.8 329.4M1133.8 329.4Q1159.9 333.8 1186 337.3M1541.4 333.9Q1555.6 331.8 1569.8 329.4M1561.2 337.6Q1569.7 336.2 1578.2 334.7M1109.3 338.2Q1125.9 341.5 1142.5 344.4M1563.3 344.1Q1584.7 340.3 1606.2 335.8M1104.5 350.5Q1115.2 352.7 1125.8 354.8M1493.8 383.2Q1523 379.3 1552.2 373.8M1551.2 373.8Q1567.9 370.7 1584.6 367.1M1155.4 381.4Q1173.2 384.7 1191 387.5M1163.8 389.9Q1185.8 394 1207.9 397.1M1102.2 389.7Q1118.1 393.8 1134 397.3M1133 397.3Q1154.5 402.1 1176 406M1523.6 406.8Q1542.7 403.5 1561.9 399.3M1107.3 417.7Q1133.2 424.8 1159.1 430.5M1117.3 433.9Q1144.6 441.4 1172 447.2M1138.5 460.1Q1168.5 468.1 1198.4 473.9M1132.7 465.3Q1160.8 473.1 1188.8 479"/>
<path fill="none" stroke="#e1550f" stroke-width="5" d="M1365 315Q1395.3 314.8 1425.7 313.3M1399.5 528.1Q1407.6 527.6 1415.7 526.9"/>
<path fill="none" stroke="#eb410f" stroke-width="5" d="M1445.5 312.1Q1467.7 310.7 1489.9 308.7M1396.5 343.9Q1408.8 343.5 1421.1 342.9M1419.7 364.9Q1443.3 363.6 1466.9 361.3M1577.5 379Q1590.8 376.1 1604.1 373M1338.6 411.2Q1346.1 411.3 1353.7 411.3M1480.1 403Q1503.3 400.1 1526.4 396.1M1276.9 423.2Q1292.4 424.4 1308 425.1M1447.5 421.2Q1456.7 420.4 1465.8 419.4M1385.3 432.9Q1407.2 432.1 1429.1 430.3M1218.6 452.7Q1242.9 456.4 1267.2 458.8M1459.6 456.2Q1479.9 453.7 1500.1 450.3M1315.4 469.7Q1344.5 471 1373.6 470.2M1338.7 514.8Q1350.5 515 1362.3 514.8M1577.4 487.2Q1596 481.6 1614.7 475M1379.5 543.9Q1409 542.8 1438.4 539.1M1442 545.9Q1468.4 542.4 1494.8 537"/>
<path fill="none" stroke="#eb4105" stroke-width="5.5" d="M1495.9 315.2Q1514.4 313.3 1532.8 311.1M1139.1 327.1Q1160 330.5 1180.8 333.2M1180.5 354.4Q1189.8 355.7 1199 356.9M1377.9 396.2Q1398 395.7 1418.2 394.4M1536.7 387.1Q1557.6 383.4 1578.5 379M1146.6 397.1Q1160.3 399.9 1174 402.3M1109.9 395.4Q1139.4 402.8 1168.8 408.4M1167.8 408.4Q1192.8 413.1 1217.8 416.6M1137.9 456.8Q1156.5 461.6 1175.2 465.6M1174.2 465.6Q1199 471 1223.8 474.9"/>
<path fill="none" stroke="#eb3705" stroke-width="5.5" d="M1531.8 311.1Q1553.4 308.4 1575.1 305.1M1128.8 318.6Q1150.3 322.1 1171.7 325M1497.1 336.5Q1515.5 334.4 1533.9 331.9M1109.6 328.6Q1124 331.3 1138.3 333.7M1140.8 341.1Q1163 344.9 1185.2 347.9M1504.1 357Q1527.2 354 1550.3 350.2M1103.9 347.4Q1133.1 353.6 1162.3 358.4M1161.3 358.4Q1168.9 359.6 1176.5 360.7M1557.4 355.7Q1583.4 351.1 1609.4 345.3M1424.2 379.3Q1448.3 377.8 1472.3 375.2M1471.3 375.2Q1479.5 374.4 1487.6 373.5M1548.1 371.2Q1563.3 368.5 1578.5 365.4M1417.2 394.4Q1436 393.3 1454.9 391.5M1538.8 379.8Q1549 378.1 1559.3 376.1M1501.3 392.9Q1519.5 390.3 1537.7 387.1M1083.2 381.7Q1091.5 383.9 1099.9 385.9M1521.9 403.8Q1549.6 399 1577.4 392.7M1122.4 405.3Q1151.2 412.2 1180 417.5M1141.3 444Q1159.2 448.4 1177.2 452M1176.2 452Q1186.4 454.1 1196.6 455.9M1118.3 444.6Q1138 450.1 1157.7 454.6M1156.7 454.6Q1168.5 457.3 1180.2 459.7M1147.7 514.4Q1160.3 518 1172.9 521.1"/>
<path fill="none" stroke="#cdd72d" stroke-width="3" d="M1472.7 320.9Q1483.7 319.9 1494.6 318.8M1466.7 350.3Q1479.4 349.1 1492.1 347.7M1141.5 344.4Q1167.4 348.9 1193.3 352.4M1450.3 359Q1471.7 357.3 1493.1 354.8M1083.3 352.1Q1113.4 359.4 1143.5 365.1M1151.4 422Q1176 427.5 1200.6 431.6M1158.1 430.5Q1166.2 432.2 1174.4 433.7"/>
<path fill="none" stroke="#a5eb55" stroke-width="3" d="M1493.6 318.8Q1515.3 316.6 1537 313.8M1521.8 322.7Q1540 320.4 1558.2 317.7M1098.5 316.1Q1108.9 318 1119.3 319.8M1478.3 334.7Q1485.8 334.1 1493.3 333.3M1534.2 362.9Q1548.9 360.6 1563.5 357.9M1142.5 365.1Q1158.9 368.2 1175.2 370.8M1414.6 398.3Q1440.3 396.7 1466 393.9M1084.3 371.8Q1101.3 376.2 1118.3 380.1M1117.3 380.1Q1132.3 383.5 1147.4 386.5M1346.9 415Q1368.7 415.1 1390.5 414.3M1389.5 414.3Q1413.9 413.3 1438.3 411.2M1108.7 404.7Q1132 410.8 1155.3 415.8"/>
<path fill="none" stroke="#87e1a5" stroke-width="3" d="M1558.4 310.6Q1588.2 306.2 1618 300.5M1554.2 325Q1572.3 322.2 1590.5 319M1478.8 341.9Q1494.1 340.4 1509.4 338.5M1568.8 329.4Q1587.6 326.2 1606.4 322.5M1492.1 354.8Q1505.8 353.2 1519.5 351.3M1164.3 362.2Q1185.2 365.6 1206.2 368.3M1101.8 363.1Q1127.9 369.2 1153.9 374M1396.7 391.8Q1422.2 390.7 1447.8 388.5M1405.8 406.1Q1417 405.5 1428.2 404.7M1536.6 390.4Q1554.1 387.3 1571.5 383.6M1171.5 398.4Q1185.1 400.8 1198.8 402.9M1125.6 402.3Q1140.2 405.8 1154.8 408.8M1154.3 415.8Q1183.1 421.9 1211.9 426.3M1146.5 434.7Q1164.9 439 1183.2 442.5"/>
<path fill="none" stroke="#b9eb41" stroke-width="3" d="M1091 308Q1108.7 311.4 1126.4 314.3M1508.4 338.5Q1525.4 336.4 1542.4 333.9M1534 383.9Q1543.7 382.3 1553.4 380.5M1146.4 386.5Q1155.6 388.3 1164.8 389.9M1149.1 394Q1160.8 396.3 1172.5 398.4M1082.9 391Q1104.7 397.1 1126.6 402.3"/>
<path fill="none" stroke="#cde12d" stroke-width="3" d="M1125.4 314.3Q1137.8 316.4 1150.2 318.2M1149.2 318.2Q1159.8 319.7 1170.3 321.1M1136.8 323.1Q1167.1 328 1197.4 331.6M1104.1 330.5Q1125.3 334.7 1146.5 338.2M1146.3 352.1Q1176.1 357.4 1205.8 361.2M1531.2 356.4Q1560.2 351.9 1589.2 346"/>
<path fill="none" stroke="#eb2d05" stroke-width="5.5" d="M1561.3 320.7Q1588.2 316.5 1615.1 311.3M1532.9 331.9Q1548.5 329.8 1564.1 327.3M1167.6 338.5Q1183.4 340.8 1199.2 342.7M1461.4 347.2Q1479.5 345.7 1497.6 343.6M1094.9 332.2Q1118.4 337.1 1141.8 341.1M1091.3 351.1Q1105.1 354.3 1118.9 357.1M1559.7 362.1Q1581.2 358.2 1602.6 353.5M1122.6 371.5Q1138.3 374.9 1154 377.7M1422.2 401.5Q1449.4 399.6 1476.6 396.4M1092.2 377.6Q1113.5 383 1134.8 387.6M1368.4 411.2Q1396.1 410.7 1423.8 408.8M1352.2 418.7Q1382.2 418.7 1412.1 416.9M1117.3 417.4Q1145.5 424.7 1173.8 430.3M1172.8 430.3Q1182.1 432.1 1191.5 433.7M1155.8 475.2Q1181.1 481.5 1206.5 486.2M1186.6 489.5Q1198.3 491.9 1210 494M1146.3 500.2Q1162.2 504.7 1178.1 508.4M1119.1 498.6Q1137.2 504.5 1155.3 509.4M1234.6 527.4Q1243 528.7 1251.5 529.8"/>
<path fill="none" stroke="#69d7e1" stroke-width="3" d="M1118.3 319.8Q1128.1 321.5 1137.8 323.1M1094 341.5Q1120.7 347.4 1147.3 352.1M1485.2 362.8Q1508.7 360.1 1532.2 356.4M1562.5 357.9Q1575.6 355.5 1588.7 352.8"/>
<path fill="none" stroke="#cde137" stroke-width="3.5" d="M1428.4 338.7Q1453.9 337.2 1479.3 334.7M1380.6 362.8Q1391.1 362.6 1401.6 362.2M1205.2 368.3Q1217.3 369.9 1229.4 371.2M1553.9 407.7Q1573.9 403.5 1593.8 398.5M1495.1 433Q1525.4 428.2 1555.7 421.4M1435.1 448Q1464.8 445.2 1494.4 440.4M1097.9 421.6Q1114.9 426.5 1131.9 430.8M1197.4 473.9Q1209.9 476.2 1222.3 478.2"/>
<path fill="none" stroke="#b9e137" stroke-width="3" d="M1509.5 331.3Q1532.3 328.5 1555.2 325M1152.9 374Q1165.9 376.4 1179 378.5M1386.6 407Q1396.7 406.6 1406.8 406.1"/>
<path fill="none" stroke="#cde137" stroke-width="3" d="M1491.1 347.7Q1518 344.7 1544.8 340.5M1543.8 340.5Q1553 339.1 1562.2 337.6M1135.2 479.6Q1165.6 488.3 1195.9 494.7"/>
<path fill="none" stroke="#eb410f" stroke-width="5.5" d="M1153 377.7Q1178.2 382.4 1203.5 385.9M1558.3 376.1Q1568.7 374.2 1579.1 372M1181 495.3Q1203.9 500.4 1226.9 504.2"/>
<path fill="none" stroke="#afeb41" stroke-width="3" d="M1109.4 371.6Q1132.9 377 1156.4 381.4M1129.2 491.4Q1154.5 499.1 1179.7 505.1"/>
<path fill="none" stroke="#5fcde1" stroke-width="3.5" d="M1464.8 422.9Q1483.8 420.6 1502.8 417.6M1262.6 432.8Q1274.5 434 1286.3 434.8M1246.8 453Q1263.5 455 1280.3 456.3M1340.1 459.3Q1359.2 459.6 1378.2 459M1530.3 440.6Q1557 435.1 1583.7 428M1259.2 461.7Q1274.6 463.3 1290.1 464.5M1367.1 466.7Q1380 466.4 1392.9 465.8M1391.9 465.8Q1402.9 465.3 1414 464.5M1464.8 459.1Q1479.2 457.2 1493.6 454.8M1181.3 463.5Q1196 466.5 1210.8 469M1347.6 481.6Q1363.4 481.7 1379.1 481.2M1110.2 451.9Q1124.8 456.2 1139.5 460.1M1504 474.2Q1520.1 471.1 1536.2 467.5M1101.5 455.8Q1109.7 458.3 1117.9 460.6M1272.9 499.7Q1303.1 502.8 1333.3 503.6M1375.9 503.4Q1394.1 502.8 1412.4 501.4M1561.4 474.6Q1570.6 472.2 1579.9 469.5M1254.8 504.9Q1280.7 508.2 1306.7 509.8M1310.2 517.4Q1324.7 518.2 1339.3 518.5M1321.1 525.4Q1348.6 526.5 1376 525.6M1399.2 524.4Q1422.1 522.9 1445 520M1089.5 484.5Q1103.9 489.7 1118.3 494.3M1329.6 540.5Q1347 541 1364.3 540.7M1363.3 540.7Q1390.8 540.2 1418.3 537.7M1432 536.1Q1450.9 534 1469.7 530.8M1225.7 536.5Q1252.4 541.4 1279 544.2M1423.2 544.4Q1443.1 542.4 1463 539.2M1462 539.2Q1475.4 537.1 1488.7 534.5"/>
<path fill="none" stroke="#192da5" stroke-width="5" d="M1232.1 425.8Q1260.8 429.5 1289.5 431.4M1249.9 435.2Q1276.6 438.1 1303.3 439.6M1317.5 440.3Q1325.2 440.5 1332.8 440.7M1311.5 447.4Q1328.5 448.1 1345.4 448.3M1307.1 461.9Q1327.1 463 1347.2 463.1M1256.5 465.1Q1267 466.2 1277.5 467.1M1417.3 467.9Q1436.2 466.4 1455 464.2M1228.9 468.7Q1248.5 471.6 1268.1 473.5M1267.1 473.5Q1276.2 474.4 1285.4 475.1M1308.8 476.8Q1337.6 478.3 1366.5 477.8M1451.5 471.8Q1476.6 468.8 1501.7 464.2M1305.4 484Q1326 485.1 1346.7 485.3M1100.6 452.6Q1124 459.9 1147.4 465.9M1259.5 487.3Q1287.4 490.5 1315.2 491.8M1314.2 491.8Q1322.6 492.2 1330.9 492.4M1329.9 492.4Q1341.5 492.7 1353 492.7M1446.9 494.2Q1457.5 492.9 1468 491.4M1467 491.4Q1479.4 489.6 1491.8 487.5M1254.2 501.2Q1281.2 504.6 1308.1 506.2M1345 507.5Q1369.5 507.7 1393.9 506.4M1581 472.6Q1599.2 467.2 1617.4 461M1296.2 512.8Q1317.9 514.4 1339.7 514.8M1416.4 512.1Q1443 509.8 1469.6 505.6M1528.6 493.7Q1555.9 487.3 1583.2 479M1290.5 519.7Q1311.7 521.5 1333 522M1459.4 514.3Q1483.2 510.8 1507 505.9M1299.9 527.8Q1326.4 529.7 1352.8 529.7M1351.8 529.7Q1376.1 529.7 1400.5 528.1M1414.7 526.9Q1425.9 526 1437.1 524.7M1250.5 529.8Q1268.7 532.4 1286.8 534M1285.8 534Q1315.9 536.8 1345.9 537.1M1344.9 537.1Q1360.4 537.2 1375.8 536.7M1533.1 513.6Q1549.9 509.4 1566.6 504.4M1231.2 534Q1253.3 537.8 1275.4 540.2M1274.4 540.2Q1288.4 541.7 1302.4 542.7M1336.7 544.3Q1346.2 544.5 1355.6 544.5M1354.6 544.5Q1367.6 544.4 1380.5 543.9M1485.7 531.5Q1515.4 525.8 1545.1 517.6M1227.4 540.5Q1252.7 545.1 1278 547.8M1321.7 551.2Q1339.3 552 1356.9 551.9M1355.9 551.9Q1364.6 551.8 1373.2 551.6M1372.2 551.6Q1380.5 551.3 1388.9 550.9"/>
<path fill="none" stroke="#2d4bcd" stroke-width="3.5" d="M1285.3 434.8Q1298 435.7 1310.8 436.2M1271.9 441Q1297.6 443.3 1323.3 444.1M1228.4 450.5Q1238.1 451.8 1247.8 453M1377.2 459Q1394.5 458.5 1411.9 457.3M1212.3 462.3Q1233 465.8 1253.8 468.2M1373.1 473.9Q1394.4 473.4 1415.6 471.8M1209.8 469Q1236.7 473.7 1263.6 476.7M1262.6 476.7Q1288.5 479.5 1314.3 480.7M1221.3 478.2Q1231.5 479.8 1241.6 481.2M1240.6 481.2Q1252.5 482.8 1264.3 484M1301.5 487.4Q1319.8 488.5 1338.1 488.9M1444.7 483.5Q1454.1 482.4 1463.5 481.1M1457.6 489.1Q1483.7 485.5 1509.9 480.3M1242.6 495.9Q1250.6 497 1258.6 498M1411.4 501.4Q1429.1 500.1 1446.8 497.9M1578.9 469.5Q1603.8 462.2 1628.8 453.2M1231.7 501.5Q1243.8 503.4 1255.8 504.9M1305.7 509.8Q1329.9 511.3 1354.2 511.2M1353.2 511.2Q1372.8 511.2 1392.5 510.1M1391.5 510.1Q1411.1 509.1 1430.8 507.1M1338.3 518.5Q1357.7 518.8 1377.1 518.2M1376.1 518.2Q1406.3 517.2 1436.6 513.7M1435.6 513.7Q1447.8 512.4 1460 510.6M1262.2 520.4Q1270.6 521.4 1279 522.2M1375 525.6Q1387.6 525.2 1400.2 524.4M1390.5 532.3Q1413.9 531 1437.3 528.3M1504.1 516.8Q1524.5 512.5 1544.8 507.1M1272.1 536.2Q1301.4 539.5 1330.6 540.5M1510.6 522.5Q1522.5 519.8 1534.5 516.8M1278 544.2Q1295.5 546.1 1313.1 547.1M1312.1 547.1Q1340.5 548.7 1369 548"/>
<path fill="none" stroke="#19239b" stroke-width="3.5" d="M1309.8 436.2Q1332.2 437.2 1354.5 437.2M1395.7 450.9Q1415.9 449.9 1436.1 448M1279.3 456.3Q1287.1 457 1295 457.5M1204.7 453.9Q1232.4 458.7 1260.2 461.7M1492.6 454.8Q1522 449.9 1551.4 443M1414.6 471.8Q1424.4 471 1434.2 470.1M1471.3 465.4Q1491.7 462.5 1512.1 458.6M1313.3 480.7Q1322.7 481.1 1332.1 481.3M1378.1 481.2Q1405.6 480.3 1433 477.5M1487.4 470.1Q1507.2 466.8 1526.9 462.6M1337.1 488.9Q1364 489.4 1390.9 488.1M1333 496.2Q1360.8 496.8 1388.5 495.6M1508.9 480.3Q1533.3 475.4 1557.7 469M1556.7 469Q1579.7 463 1602.8 455.7M1245.3 510.8Q1260.2 513 1275.1 514.5M1274.1 514.5Q1292.7 516.4 1311.2 517.4M1552.5 490.8Q1578.5 483.8 1604.6 474.9M1490 512.6Q1498.8 511 1507.6 509.2M1299.3 531.5Q1327.1 533.5 1355 533.4M1354 533.4Q1361.8 533.4 1369.5 533.2M1368.5 533.2Q1380 532.9 1391.5 532.3M1451.6 526.3Q1467.9 524 1484.1 521.1M1483.1 521.1Q1494.1 519.1 1505.1 516.8M1543.8 507.1Q1566.8 500.9 1589.8 493.3M1226.7 529.5Q1249.9 533.6 1273.1 536.2M1417.3 537.7Q1425.2 537 1433 536.1M1578.9 503.3Q1601.1 496.2 1623.3 487.6M1487.7 534.5Q1516.1 528.9 1544.5 521"/>
<path fill="none" stroke="#4191eb" stroke-width="3.5" d="M1283.3 449.3Q1306.2 451.1 1329.1 451.7M1328.1 451.7Q1354.7 452.4 1381.3 451.5M1331.5 466.6Q1349.8 467 1368.1 466.7M1252.8 468.2Q1266.6 469.8 1280.4 471M1447.4 468.6Q1459.8 467.2 1472.3 465.4M1331.1 481.3Q1339.9 481.6 1348.6 481.6M1263.3 484Q1282.9 486.2 1302.5 487.4M1389.9 488.1Q1417.8 486.7 1445.7 483.5M1236.2 487.8Q1252.3 490.1 1268.3 491.8M1267.3 491.8Q1289.3 494.1 1311.3 495.3M1310.3 495.3Q1322.2 495.9 1334 496.2M1387.5 495.6Q1414.1 494.3 1440.7 491.3M1257.6 498Q1265.8 498.9 1273.9 499.7M1332.3 503.6Q1354.6 504.1 1376.9 503.4M1463.4 495.5Q1487.9 491.9 1512.3 486.9M1481.2 499.8Q1509 495.1 1536.8 488.3M1236.3 516.7Q1249.7 518.8 1263.2 520.4M1278 522.2Q1287.2 523.1 1296.5 523.8M1295.5 523.8Q1308.8 524.8 1322.1 525.4M1444 520Q1467.5 517 1491 512.6M1506.6 509.2Q1536.5 502.8 1566.3 494M1565.3 494Q1585.7 488.1 1606.1 481M1240.1 524.6Q1270.2 529.3 1300.3 531.5M1436.3 528.3Q1444.4 527.4 1452.6 526.3M1468.7 530.8Q1490.2 527.3 1511.6 522.5M1368 548Q1396.1 547.3 1424.2 544.4"/>
<path fill="none" stroke="#4191eb" stroke-width="3" d="M1130.9 430.8Q1139.2 432.8 1147.5 434.7M1144.6 475.4Q1164.2 480.7 1183.8 484.9M1142.5 488.6Q1168.1 495.8 1193.7 501.3M1117.3 494.3Q1138.2 501.1 1159.1 506.7"/>
<path fill="none" stroke="#192da5" stroke-width="5.5" d="M1181.2 474.2Q1189.6 475.9 1198 477.5"/>
<path fill="none" stroke="#5fcde1" stroke-width="3" d="M1182.8 484.9Q1190.7 486.6 1198.6 488.1M1137.1 507.5Q1149 511 1161 514.2M1117.9 508Q1140.1 515.4 1162.3 521.5"/>
<path fill="none" stroke="#2d4bcd" stroke-width="3" d="M1197.6 488.1Q1220.6 492.7 1243.6 495.9M1194.9 494.7Q1213.8 498.5 1232.7 501.5M1192.7 501.3Q1219.5 507 1246.3 510.8M1158.1 506.7Q1175.3 511.4 1192.6 515.2M1202.2 524.6Q1214.9 527.3 1227.7 529.5M1161.3 521.5Q1184.7 527.9 1208 532.8"/>
<path fill="none" stroke="#19239b" stroke-width="3" d="M1178.7 505.1Q1208 512.1 1237.3 516.7M1191.6 515.2Q1216.4 520.7 1241.1 524.6M1160 514.2Q1181.6 520.1 1203.2 524.6M1207 532.8Q1216.8 534.8 1226.7 536.5"/>
<path fill="none" stroke="#9b410f" stroke-width="1.2" stroke-opacity="0.75" d="M1164 140.7Q1180.6 141.2 1197.2 141.6M1328.1 143.5Q1357.7 143.6 1387.2 143.4M1440.1 142.9Q1451.1 142.7 1462.2 142.6M1534.7 140.9Q1564 140 1593.4 139M1184.1 148.7Q1195.5 149 1206.9 149.2M1318.6 150.8Q1346.4 150.9 1374.1 150.9M1507 149Q1519.4 148.7 1531.9 148.4M1158.3 155.4Q1169.3 155.7 1180.2 156M1292.7 158Q1316.9 158.2 1341.2 158.3M1486.2 156.9Q1506.1 156.5 1525.9 155.9M1524.9 155.9Q1533 155.7 1541.2 155.5M1540.2 155.5Q1556.9 155 1573.6 154.5M1479 164.2Q1507 163.6 1535.1 162.7M1233 171.6Q1252.5 172.1 1272.1 172.4M1271.1 172.4Q1289.3 172.7 1307.6 172.9M1575.5 167.9Q1585.6 167.5 1595.8 167M1139.2 175.3Q1159.6 176.3 1180.1 177.1M1280.5 179.9Q1288.5 180 1296.5 180.1M1295.5 180.1Q1316.1 180.4 1336.6 180.5M1509.7 177.6Q1522.3 177.2 1534.9 176.6M1108.6 180.3Q1122.1 181.1 1135.6 181.9M1265.9 187Q1292.3 187.5 1318.7 187.7M1093 185.9Q1123.2 188.1 1153.4 189.7M1397 195Q1425.3 194.6 1453.6 193.9M1492.4 192.5Q1520.8 191.4 1549.2 189.9M1089.3 192.2Q1101.9 193.2 1114.5 194M1126.1 201.7Q1134.4 202.3 1142.7 202.8M1266 208.9Q1294.3 209.7 1322.7 209.9M1569.9 202.2Q1593.3 200.6 1616.7 198.6M1333.7 217.4Q1348.4 217.5 1363.1 217.5M1101.8 213Q1124.2 215.1 1146.7 216.8M1269.6 223.6Q1293.5 224.3 1317.5 224.7M1374.8 224.8Q1396.6 224.6 1418.4 224.1M1295.3 231.7Q1315.4 232.1 1335.6 232.2M1128.2 229Q1149.5 231 1170.8 232.6M1509.5 234.3Q1536.1 232.6 1562.7 230.2M1084.2 230.8Q1100.6 232.8 1117 234.5M1385.6 246.8Q1412 246.4 1438.3 245.4M1531.7 239.7Q1547.6 238.4 1563.4 237M1119.5 241.6Q1145.8 244.5 1172.1 246.7M1404.7 253.8Q1434 253.1 1463.2 251.6M1197.8 255.9Q1215.2 257.2 1232.6 258.3M1231.6 258.3Q1260.5 260 1289.3 260.9M1439.2 260Q1454.8 259.3 1470.3 258.4M1472.1 265.4Q1495.3 264 1518.6 262M1342.3 291.5Q1350.6 291.5 1358.9 291.5M1445.9 288.8Q1454.6 288.3 1463.3 287.8M1082.4 276.1Q1108 280.4 1133.6 283.8M1180.7 289.7Q1204.8 292.3 1229 294.1M1228 294.1Q1250.9 295.8 1273.7 296.9M1272.7 296.9Q1285.4 297.5 1298.1 298M1213.5 300.1Q1231.1 301.6 1248.7 302.8M1512.6 297.8Q1539.4 295 1566.2 291.4M1114.6 294.6Q1132.7 297.5 1150.9 299.9M1149.9 299.9Q1162.4 301.5 1174.9 303M1173.9 303Q1189.1 304.8 1204.4 306.2M1086 296.3Q1107 300.1 1128 303.4"/>
<path fill="none" stroke="#735f19" stroke-width="1.2" stroke-opacity="0.75" d="M1196.2 141.6Q1206 141.8 1215.8 142M1214.8 142Q1228.2 142.3 1241.7 142.5M1268.3 143Q1277.9 143.1 1287.4 143.2M1286.4 143.2Q1307.8 143.4 1329.1 143.5M1486.7 142.1Q1511.2 141.6 1535.7 140.9M1156.2 147.9Q1170.6 148.3 1185.1 148.7M1205.9 149.2Q1223.5 149.6 1241.2 149.9M1438.5 150.3Q1462.4 150 1486.2 149.5M1485.2 149.5Q1496.6 149.3 1508 149M1567.6 147.2Q1594.4 146.3 1621.2 145.2M1231.8 157.2Q1250.7 157.5 1269.5 157.8M1268.5 157.8Q1281.1 157.9 1293.7 158M1340.2 158.3Q1367.1 158.3 1394 158.2M1448.1 157.6Q1467.7 157.3 1487.2 156.9M1572.6 154.5Q1591.4 153.8 1610.2 153.1M1194.1 163.4Q1203.1 163.7 1212 163.9M1260.2 164.9Q1278.4 165.2 1296.6 165.4M1337.3 165.7Q1360.9 165.7 1384.5 165.6M1383.5 165.6Q1401.5 165.5 1419.4 165.3M1534.1 162.7Q1561.4 161.8 1588.6 160.6M1118.6 167.5Q1146.9 168.8 1175.2 169.9M1348.4 173.1Q1370.2 173.1 1392.1 172.9M1391.1 172.9Q1399.8 172.9 1408.5 172.8M1407.5 172.8Q1425.2 172.6 1442.8 172.3M1441.8 172.3Q1455.4 172 1468.9 171.7M1517.7 170.2Q1547.1 169.3 1576.5 167.9M1107 173.6Q1123.6 174.5 1140.2 175.3M1179.1 177.1Q1205.8 178.1 1232.6 178.8M1231.6 178.8Q1256.5 179.5 1281.5 179.9M1386.6 180.4Q1406.7 180.2 1426.8 179.9M1443.5 179.5Q1453 179.3 1462.4 179.1M1461.4 179.1Q1486.1 178.5 1510.7 177.6M1533.9 176.6Q1559 175.6 1584 174.3M1134.6 181.9Q1156.7 183.1 1178.9 184M1418.5 187.3Q1439.5 187 1460.5 186.4M1509.8 184.7Q1519.4 184.3 1529 183.9M1528 183.9Q1548 183 1568 181.9M1204.8 192.3Q1234 193.5 1263.3 194.2M1280.1 194.6Q1300.8 195 1321.6 195.2M1320.6 195.2Q1349.5 195.4 1378.3 195.2M1377.3 195.2Q1387.7 195.1 1398 195M1219.5 200Q1239.4 200.8 1259.2 201.4M1312.4 202.5Q1340.5 202.8 1368.6 202.7M1367.6 202.7Q1383.3 202.6 1399 202.4M1398 202.4Q1406.2 202.3 1414.4 202.1M1513.6 198.7Q1525.6 198.1 1537.6 197.5M1572.4 195.2Q1600.1 193.4 1627.8 191.1M1101.9 199.8Q1114.5 200.8 1127.1 201.7M1141.7 202.8Q1162.4 204.2 1183.1 205.3M1203.1 206.5Q1222 207.4 1240.9 208M1239.9 208Q1253.4 208.5 1267 208.9M1408.8 209.6Q1430.6 209.1 1452.4 208.4M1194.9 213.1Q1220.1 214.5 1245.3 215.5M1362.1 217.5Q1372.7 217.4 1383.4 217.3M1382.4 217.3Q1406.5 217.1 1430.7 216.4M1453.1 215.7Q1477 214.8 1500.9 213.6M1316.5 224.7Q1346.2 225 1375.8 224.8M1448.4 223.1Q1473.2 222.2 1497.9 220.9M1522.4 219.3Q1533.9 218.6 1545.5 217.8M1561.4 216.5Q1571.3 215.8 1581.1 215M1580.1 215Q1598 213.4 1615.9 211.7M1119.5 221.4Q1128.4 222.2 1137.4 222.9M1154 224.4Q1172.6 225.8 1191.3 227M1190.3 227Q1217.7 228.8 1245.2 230M1244.2 230Q1270.2 231.1 1296.3 231.7M1503.1 227.6Q1518.9 226.7 1534.6 225.6M1571.3 222.5Q1583.6 221.5 1596 220.3M1094.9 225.5Q1112 227.4 1129.2 229M1169.8 232.6Q1178 233.2 1186.3 233.8M1295.5 239Q1320 239.6 1344.4 239.7M1397.3 239.2Q1427.6 238.7 1457.9 237.3M1183.9 240.7Q1201.5 242 1219.2 243M1218.2 243Q1241.7 244.4 1265.1 245.4M1171.1 246.7Q1182.2 247.6 1193.3 248.4M1269.8 252.9Q1278.4 253.2 1286.9 253.5M1462.2 251.6Q1490.5 250.1 1518.8 247.9M1565.8 243.5Q1581.8 241.9 1597.7 240.1M1104.9 246.5Q1124.7 249 1144.6 251M1143.6 251Q1171.2 253.8 1198.8 255.9M1288.3 260.9Q1304.8 261.4 1321.2 261.6M1501.2 256.2Q1516.9 255.1 1532.6 253.7M1083.8 250.3Q1102.9 253 1122 255.2M1121 255.2Q1133.9 256.7 1146.7 258.1M1145.7 258.1Q1174.8 261.2 1204 263.5M1085.1 257Q1115.3 261.4 1145.6 264.8M1144.6 264.8Q1170.3 267.7 1195.9 269.9M1194.9 269.9Q1220.6 272.1 1246.3 273.6M1245.3 273.6Q1266.4 274.8 1287.6 275.5M1338.2 276.6Q1357.2 276.8 1376.2 276.5M1568.4 263.7Q1592.3 260.8 1616.2 257.4M1160.4 273.5Q1171.9 274.7 1183.3 275.8M1280.7 282.6Q1290.5 283 1300.2 283.3M1338.9 284Q1358.2 284.2 1377.6 283.9M1413.4 283Q1434.1 282.3 1454.8 281.1M1453.8 281.1Q1463.4 280.5 1473 279.9M1472 279.9Q1494.2 278.4 1516.5 276.3M1151.4 279.4Q1180.2 282.8 1209 285.3M1315.4 291.1Q1329.4 291.4 1343.3 291.5M1357.9 291.5Q1376.3 291.4 1394.7 291M1393.7 291Q1405.8 290.7 1417.8 290.2M1462.3 287.8Q1491.6 285.9 1521 282.9M1552.7 279.3Q1571.1 277.1 1589.5 274.5M1402.9 298.1Q1420 297.5 1437.1 296.6M1478.3 293.8Q1495 292.5 1511.6 290.9M1247.7 302.8Q1276.2 304.7 1304.8 305.6M1303.8 305.6Q1319.5 306 1335.1 306.2M1334.1 306.2Q1361.9 306.5 1389.7 305.8"/>
<path fill="none" stroke="#5f7323" stroke-width="1.2" stroke-opacity="0.75" d="M1093.6 145.7Q1112.5 146.4 1131.4 147.1M1284.8 150.5Q1302.2 150.7 1319.6 150.8M1401.7 150.7Q1420.6 150.6 1439.5 150.3M1179.2 156Q1206 156.7 1232.8 157.2M1393 158.2Q1409.3 158.1 1425.5 157.9M1424.5 157.9Q1436.8 157.7 1449.1 157.6M1114.1 160.6Q1126.3 161.1 1138.5 161.5M1467.9 171.7Q1493.3 171.1 1518.7 170.2M1425.8 179.9Q1435.1 179.7 1444.5 179.5M1382.4 187.8Q1401 187.6 1419.5 187.3M1459.5 186.4Q1485.2 185.7 1510.8 184.7M1413.4 202.1Q1432.4 201.8 1451.3 201.2M1486.1 199.9Q1500.4 199.4 1514.6 198.7M1145.7 216.8Q1166.1 218.4 1186.5 219.7M1334.6 232.2Q1348.5 232.3 1362.3 232.3M1361.3 232.3Q1391.7 232.2 1422.1 231.3M1185.3 233.8Q1206.4 235.2 1227.6 236.3M1226.6 236.3Q1237.6 236.9 1248.6 237.4M1456.9 237.3Q1483.7 236.1 1510.5 234.3M1211.4 249.8Q1241.1 251.7 1270.8 252.9M1368.2 254.4Q1387 254.3 1405.7 253.8M1469.3 258.4Q1485.7 257.4 1502.2 256.2M1456.7 266.4Q1464.9 265.9 1473.1 265.4M1431.3 274.9Q1443.5 274.4 1455.7 273.7M1299.2 283.3Q1319.6 283.9 1339.9 284M1208 285.3Q1237.4 287.8 1266.8 289.3M1566.6 284.3Q1587.5 281.6 1608.4 278.3M1523.2 303.7Q1534.4 302.4 1545.7 301M1557.8 306.1Q1585.7 302.1 1613.7 297.1"/>
<path fill="none" stroke="#9b2305" stroke-width="1.2" stroke-opacity="0.75" d="M1262.4 311Q1271.6 311.5 1280.8 311.9M1279.8 311.9Q1309.3 313.4 1338.8 313.6M1184.3 311.3Q1200.6 313.1 1216.9 314.6M1215.9 314.6Q1239.7 316.8 1263.4 318.3M1289.5 319.7Q1314.2 320.8 1339 321M1426.6 319.1Q1436.7 318.6 1446.8 318M1445.8 318Q1473.2 316.2 1500.7 313.4M1499.7 313.4Q1529.2 310.3 1558.8 306.1M1110 307.3Q1135.3 311.6 1160.6 315.1M1159.6 315.1Q1167.4 316.1 1175.1 317M1174.1 317Q1195.5 319.7 1216.8 321.8M1359.9 328.5Q1376.4 328.4 1393 327.9M1392 327.9Q1408.7 327.4 1425.3 326.6M1561.9 312.4Q1572.8 310.8 1583.7 309M1140 319Q1154.4 321.3 1168.9 323.2M1255.2 332.4Q1282.9 334.4 1310.6 335.2M1413.9 334.4Q1436.1 333.4 1458.3 331.7M1480.1 329.7Q1489.4 328.8 1498.7 327.8M1497.7 327.8Q1505.5 327 1513.4 326.1M1090.5 316.8Q1108 320.2 1125.6 323.3M1124.6 323.3Q1140.6 326 1156.6 328.4M1242.4 338.7Q1250.9 339.3 1259.5 339.9M1473.8 337.5Q1498 335.2 1522.1 332.1M1543.8 328.9Q1569 325.2 1594.2 320.6M1119.4 329.1Q1144.2 333.6 1169 337.2M1259.6 347.3Q1270.9 348.1 1282.2 348.7M1281.2 348.7Q1306.1 350.1 1330.9 350.5M1329.9 350.5Q1344.5 350.8 1359 350.7M1432.1 348.1Q1441.5 347.5 1450.8 346.8M1449.8 346.8Q1458.7 346.1 1467.6 345.4M1466.6 345.4Q1474.9 344.7 1483.2 343.8M1501 341.7Q1511.3 340.5 1521.7 339.2M1565.6 332.3Q1580.8 329.8 1595.9 326.9M1107.9 333.5Q1117.1 335.3 1126.2 336.9M1125.2 336.9Q1148.4 341.1 1171.5 344.5M1212.4 350.1Q1238.6 353 1264.8 354.9M1263.8 354.9Q1271.6 355.4 1279.5 355.9M1278.5 355.9Q1305.8 357.5 1333.2 357.9M1332.2 357.9Q1339.8 358.1 1347.4 358.1M1405.7 356.9Q1431 355.8 1456.2 353.6M1455.2 353.6Q1483.4 351.3 1511.5 347.6M1108.3 340.3Q1133.6 345.4 1158.8 349.5M1196 355.2Q1210.1 357 1224.2 358.5M1223.2 358.5Q1248.5 361.2 1273.7 362.8M1286.8 363.7Q1316.8 365.3 1346.9 365.5M1461.4 360.3Q1469.6 359.6 1477.7 358.8M1476.7 358.8Q1492.7 357.2 1508.6 355.1M1507.6 355.1Q1534.2 351.6 1560.7 347M1575 344.2Q1583.7 342.6 1592.4 341M1107.7 346.8Q1116.5 348.6 1125.3 350.2M1266.3 369.7Q1280 370.7 1293.8 371.4M1292.8 371.4Q1315.9 372.5 1338.9 372.8M1337.9 372.8Q1348.8 372.9 1359.6 372.9M1393.9 372.1Q1411 371.5 1428.1 370.4M1427.1 370.4Q1454.2 368.6 1481.3 365.6M1480.3 365.6Q1489.1 364.7 1497.9 363.6M1094.4 350.5Q1114.7 355.1 1135 359M1211.3 371.4Q1232 374 1252.7 375.8M1251.7 375.8Q1263.3 376.8 1274.9 377.6M1321.7 379.9Q1331.1 380.1 1340.4 380.2M1339.4 380.2Q1361.7 380.5 1384 379.8M1383 379.8Q1401.5 379.3 1420.1 378.2M1419.1 378.2Q1437.2 377.2 1455.4 375.5M1544.5 363.5Q1558.6 361.1 1572.7 358.4M1571.7 358.4Q1596.1 353.7 1620.5 347.9M1094.1 357Q1107.5 360.1 1120.9 362.8M1119.9 362.8Q1147.4 368.6 1174.9 373.1M1173.9 373.1Q1194.7 376.4 1215.5 379M1214.5 379Q1234.9 381.5 1255.3 383.3M1254.3 383.3Q1263.9 384.1 1273.6 384.8M1272.6 384.8Q1281.3 385.4 1290 385.9M1304.3 386.7Q1323.2 387.5 1342.1 387.6M1379.2 387.3Q1398 386.9 1416.8 385.8M1514.1 375.4Q1530.1 373.1 1546.2 370.3M1545.2 370.3Q1573.9 365.2 1602.7 358.7M1106.8 366.6Q1114.6 368.3 1122.4 369.9M1121.4 369.9Q1129.9 371.6 1138.5 373.3M1187 382.2Q1208.3 385.5 1229.7 387.9M1245.8 389.8Q1265.4 391.7 1285 392.9M1284 392.9Q1306.1 394.3 1328.2 394.8M1327.2 394.8Q1344.2 395.2 1361.1 395.1M1414.6 393.2Q1439.9 391.7 1465.2 389.1M1533.9 379.2Q1555.5 375.6 1577.1 371.1M1120.4 376.4Q1140 380.7 1159.6 384.3M1158.6 384.3Q1186.8 389.5 1215.1 393.3M1214.1 393.3Q1228.2 395.1 1242.2 396.6M1294.1 400.9Q1323.5 402.5 1352.9 402.5M1399.6 401.4Q1415.9 400.6 1432.3 399.4M1494.3 392.5Q1520.1 389 1545.9 384.2M1151.9 389.9Q1170.6 393.6 1189.4 396.6M1251.9 404.9Q1270.3 406.7 1288.8 407.9M1367.4 409.8Q1375.5 409.6 1383.5 409.4M1422.2 407.4Q1441.3 406.1 1460.5 404.1M1459.5 404.1Q1482.1 401.7 1504.8 398.3M1503.8 398.3Q1522.6 395.5 1541.4 392M1562.6 387.6Q1588.4 382.2 1614.2 375.6M1096.7 384Q1126.3 391.6 1155.9 397.4M1203.8 406.1Q1226.6 409.5 1249.5 411.8M1248.5 411.8Q1262.3 413.3 1276.1 414.3M1331 417.1Q1357.8 417.6 1384.5 416.8M1383.5 416.8Q1397.5 416.3 1411.5 415.5M1462.3 411Q1470.2 410.2 1478 409.2M1477 409.2Q1485.2 408.2 1493.3 407.1M1531.3 400.7Q1551.7 397 1572.1 392.5M1241.6 418.3Q1259.6 420.4 1277.6 421.7M1276.6 421.7Q1288.2 422.6 1299.8 423.2M1376.4 424.4Q1402.5 423.7 1428.5 421.7M1427.5 421.7Q1442.1 420.5 1456.8 419M1455.8 419Q1477.7 416.6 1499.6 413.3M1523.5 409.1Q1532.4 407.6 1541.2 406M1540.2 406Q1567.8 400.6 1595.5 393.6M1083.4 393.4Q1097.5 397.3 1111.5 400.8M1141.5 408.4Q1157.9 412 1174.3 415M1298.1 430.6Q1322.8 432 1347.5 432.1M1400.9 430.8Q1429.4 429.3 1457.8 426.1M1507.4 419Q1527.4 415.7 1547.5 411.6M1571.5 406Q1591.3 401.5 1611.2 396.1M1087 401Q1117.5 409.7 1147.9 416.4M1146.9 416.4Q1177.1 423.1 1207.2 427.9M1229.8 431.3Q1254.3 434.6 1278.8 436.5M1334.9 439.3Q1360.2 439.8 1385.4 438.9M1422.6 436.7Q1439.2 435.4 1455.8 433.6M1484.8 429.7Q1493.4 428.5 1502 427.2M1501 427.2Q1530.8 422.4 1560.6 415.7M1284.9 444.4Q1314 446.5 1343.2 446.8M1401.1 445.5Q1423.2 444.3 1445.2 442.1M1523.6 430.2Q1539.6 427.2 1555.6 423.7M1120.3 423.5Q1144.1 429.7 1167.8 434.7M1166.8 434.7Q1193.9 440.3 1221 444.3M1220 444.3Q1231 445.9 1242.1 447.3M1241.1 447.3Q1252.3 448.6 1263.5 449.7M1262.5 449.7Q1289.1 452.4 1315.8 453.5M1361 454.2Q1378.7 454.1 1396.4 453.2M1559.2 429.5Q1583.3 423.8 1607.5 416.9M1114.9 428.8Q1132.6 433.6 1150.3 437.6M1149.3 437.6Q1179.4 444.7 1209.4 449.7M1301.9 460.2Q1330.2 461.9 1358.4 461.7M1357.4 461.7Q1382 461.5 1406.7 460M1442.9 456.8Q1470.9 453.8 1498.8 449.1M1497.8 449.1Q1521.8 445.1 1545.7 439.7M1157 446.4Q1176.1 450.7 1195.2 454.2M1194.2 454.2Q1211.7 457.4 1229.2 460M1372.6 468.8Q1386.9 468.5 1401.2 467.7M1443.4 464Q1464.5 461.7 1485.7 458.4M1559.1 443.2Q1572.1 440.1 1585.1 436.6M1193 461.1Q1222.4 466.7 1251.9 470.3M1299.4 474.8Q1311.9 475.6 1324.3 476M1359.7 476.5Q1384.3 476.2 1408.9 474.5M1407.9 474.5Q1417.6 473.9 1427.3 473.1M1449.4 470.6Q1459.9 469.4 1470.4 468M1568.2 447.7Q1596.1 440.4 1624 431.3M1099.4 444.2Q1117.7 449.8 1135.9 454.6M1134.9 454.6Q1150.7 458.7 1166.5 462.3M1188.1 467.2Q1217.2 473 1246.3 476.8M1432.9 479.8Q1457.4 477.3 1481.9 473.4M1580 451.2Q1602.8 444.9 1625.7 437.2M1157.3 467.2Q1184.1 473.8 1211 478.5M1258.3 485.8Q1272.1 487.3 1285.8 488.5M1336.8 491.2Q1362.6 491.6 1388.4 490.5M1387.4 490.5Q1410.6 489.4 1433.8 487.1M1477.7 481.1Q1490.8 479.1 1503.9 476.7M1576.8 458.9Q1592.6 454.5 1608.4 449.5M1306.6 497.4Q1322.8 498.3 1338.9 498.6M1478.4 488.2Q1491.7 486.1 1504.9 483.6M1503.9 483.6Q1532.8 478 1561.8 470.2M1152.7 479.9Q1180.5 487.1 1208.2 492.3M1365.3 506Q1391.3 505.5 1417.4 503.3M1416.4 503.3Q1436.6 501.6 1456.9 498.9M1455.9 498.9Q1480 495.6 1504.2 490.8M1503.2 490.8Q1514.4 488.7 1525.6 486.2M1545.2 481.2Q1562.6 476.9 1580.1 471.8M1086.8 466.2Q1115.8 476.4 1144.7 484.3M1143.7 484.3Q1151.4 486.4 1159.2 488.3M1158.2 488.3Q1188.2 496 1218.2 501.3M1239.4 505Q1259.2 507.9 1279 509.8M1353.3 513.5Q1377.8 513.4 1402.3 511.8M1401.3 511.8Q1415.7 510.9 1430.1 509.4M1429.1 509.4Q1438.7 508.5 1448.3 507.3M1447.3 507.3Q1460.2 505.7 1473.1 503.7M1472.1 503.7Q1492.6 500.4 1513 496.1M1512 496.1Q1540.7 490 1569.4 481.7M1228 510.4Q1258.5 515.5 1289 518.1M1288 518.1Q1318.1 520.7 1348.2 520.9M1347.2 520.9Q1376.9 521.1 1406.7 518.9M1441.5 515.3Q1466.8 512.3 1492.1 507.5M1546 494.9Q1557.5 491.9 1569.1 488.7M1568.1 488.7Q1589.5 482.4 1610.9 475M1118.7 490.4Q1135.7 495.7 1152.6 500.3M1151.6 500.3Q1162.1 503.1 1172.6 505.6M1229.2 517.8Q1243.8 520.2 1258.3 522.1M1314.5 527.3Q1344 528.8 1373.5 528M1372.5 528Q1394.4 527.4 1416.2 525.5M1458.6 520.3Q1479.4 517.2 1500.2 513M1499.2 513Q1527.6 507.3 1556 499.3M1580.6 491.6Q1601.1 485.1 1621.5 477.6M1338.6 535.6Q1360.7 536 1382.8 535M1381.8 535Q1391.1 534.7 1400.4 534.1M1399.4 534.1Q1412 533.2 1424.5 532M1535.3 511.6Q1544 509.5 1552.7 507.1M1551.7 507.1Q1582.1 498.6 1612.4 487.6M1098.4 496.6Q1108.3 500.1 1118.3 503.3M1117.3 503.3Q1135.9 509.5 1154.6 514.7M1184.9 523Q1215.2 530.2 1245.5 534.8M1244.5 534.8Q1261.7 537.4 1278.9 539.2M1378.9 542.5Q1393.5 542 1408.2 540.8M1407.2 540.8Q1435 538.6 1462.7 534.3M1461.7 534.3Q1483 531 1504.2 526.4M1503.2 526.4Q1523.3 522.1 1543.5 516.7M1542.5 516.7Q1572.3 508.5 1602.1 498M1111 507.9Q1121.7 511.5 1132.4 514.8M1131.4 514.8Q1147 519.7 1162.5 523.9M1161.5 523.9Q1173.7 527.2 1186 530M1345.9 550.5Q1361.9 550.6 1378 550M1377 550Q1398.1 549.2 1419.2 547.2M1418.2 547.2Q1440.6 545.1 1463.1 541.5M1554.1 520.2Q1577.5 513.4 1600.8 505"/>
<path fill="none" stroke="#735519" stroke-width="1.2" stroke-opacity="0.75" d="M1381.1 313.4Q1407.3 312.9 1433.6 311.5M1394.5 320.4Q1411.1 320 1427.6 319.1M1232.5 323.3Q1254 325.2 1275.4 326.3M1324.9 328.2Q1342.9 328.6 1360.9 328.5M1121.4 315.9Q1131.2 317.6 1141 319M1167.9 323.2Q1178.7 324.6 1189.4 325.9M1541.1 322.4Q1558.3 320 1575.5 317.2M1574.5 317.2Q1590.2 314.6 1606 311.7M1274 341Q1291.3 342 1308.5 342.5M1353.9 343.3Q1364.5 343.3 1375.2 343.1M1223.8 344.1Q1242.2 346 1260.6 347.3M1358 350.7Q1370.7 350.6 1383.4 350.3M1482.2 343.8Q1492.1 342.9 1502 341.7M1170.5 344.5Q1192 347.7 1213.4 350.1M1346.4 358.1Q1376.6 358.2 1406.7 356.9M1510.5 347.6Q1525.5 345.7 1540.5 343.5M1272.7 362.8Q1280.2 363.3 1287.8 363.7M1367.4 365.4Q1389 365.1 1410.6 364.1M1559.7 347Q1567.9 345.6 1576 344.2M1183.6 360.5Q1201.1 363 1218.5 365M1217.5 365Q1242.4 367.9 1267.3 369.7M1134 359Q1144.4 360.9 1154.7 362.6M1454.4 375.5Q1478.8 373.3 1503.1 370.1M1502.1 370.1Q1523.8 367.2 1545.5 363.5M1415.8 385.8Q1442.9 384.2 1470.1 381.3M1137.5 373.3Q1150.3 375.8 1163.2 378M1162.2 378Q1175.1 380.3 1188 382.2M1360.1 395.1Q1387.9 394.8 1415.6 393.2M1544.9 384.2Q1562.3 381 1579.6 377.3M1578.6 377.3Q1602.4 372.1 1626.1 365.9M1287.8 407.9Q1312.2 409.4 1336.5 409.8M1335.5 409.8Q1352 410 1368.4 409.8M1382.5 409.4Q1402.8 408.8 1423.2 407.4M1314.5 416.6Q1323.3 416.9 1332 417.1M1361.2 424.6Q1369.3 424.6 1377.4 424.4M1456.8 426.1Q1482.6 423.3 1508.4 419M1206.2 427.9Q1218.5 429.8 1230.8 431.3M1384.4 438.9Q1404 438.2 1423.6 436.7M1174.6 429.3Q1196.5 433.5 1218.4 436.8M1217.4 436.8Q1238.5 439.9 1259.5 442M1258.5 442Q1272.2 443.4 1285.9 444.4M1314.8 453.5Q1338.4 454.5 1362 454.2M1208.4 449.7Q1229.5 453.1 1250.6 455.6M1405.7 460Q1424.8 458.8 1443.9 456.8M1279.9 466Q1297.1 467.5 1314.4 468.2M1141.6 449.5Q1167.8 456.1 1194 461.1M1250.9 470.3Q1275.7 473.3 1300.4 474.8M1323.3 476Q1342 476.6 1360.7 476.5M1469.4 468Q1492.7 464.7 1515.9 460.1M1245.3 476.8Q1260.4 478.8 1275.5 480.2M1274.5 480.2Q1302.9 482.9 1331.3 483.6M1083 445.3Q1109.2 454.1 1135.3 461.2M1081.8 451.4Q1109.1 460.8 1136.4 468.3M1205.4 484.8Q1235.1 490.4 1264.8 493.7M1421 495.6Q1450.2 493 1479.4 488.2M1088.9 460.4Q1104.8 465.8 1120.7 470.5M1207.2 492.3Q1226 495.8 1244.9 498.4M1243.9 498.4Q1265.2 501.4 1286.5 503.2M1217.2 501.3Q1228.8 503.3 1240.4 505M1298.8 511.6Q1313.3 512.6 1327.8 513.1M1118.1 483.4Q1132.3 487.8 1146.4 491.7M1169.4 498.1Q1199.2 505.4 1229 510.4M1171.6 505.6Q1200.9 512.9 1230.2 517.8M1257.3 522.1Q1286.4 525.9 1315.5 527.3M1555 499.3Q1568.3 495.7 1581.6 491.6M1116.7 496.4Q1141.9 504.7 1167 511.2M1236.4 526.3Q1261.2 530.2 1286 532.5M1490 522Q1498.7 520.4 1507.3 518.6M1153.6 514.7Q1169.8 519.2 1185.9 523M1277.9 539.2Q1287.2 540.1 1296.5 540.8M1295.5 540.8Q1311.7 542.1 1327.8 542.7M1326.8 542.7Q1346.1 543.3 1365.5 543M1364.5 543Q1372.2 542.8 1379.9 542.5M1240.7 541.4Q1265.7 545.4 1290.6 547.7"/>
</g></g>
<clipPath id="fb"><polygon points="1156,1270 1546,1270 1578,1573 1127,1573"/></clipPath>
<linearGradient id="fbg" x1="0" y1="0" x2="0" y2="1"><stop offset="0.00" stop-color="#c8c850"/><stop offset="0.50" stop-color="#c0d060"/><stop offset="1.00" stop-color="#a8c078"/></linearGradient>
<filter id="fbf" x="-2%" y="-2%" width="104%" height="104%"><feGaussianBlur stdDeviation="0.55"/></filter>
<g clip-path="url(#fb)"><g filter="url(#fbf)">
<rect x="1123" y="1266" width="459" height="311" fill="url(#fbg)"/>
<path fill="none" stroke="#a5f573" stroke-width="5.5" d="M1099.5 1250.8Q1122.1 1251.6 1144.8 1252.3M1195.6 1253.8Q1221.7 1254.4 1247.8 1254.8M1246.8 1254.8Q1268.2 1255.1 1289.5 1255.3M1248.2 1262Q1256.7 1262.1 1265.1 1262.2M1360.5 1262.8Q1375.4 1262.8 1390.3 1262.7M1389.3 1262.7Q1416 1262.5 1442.6 1262.2M1466.2 1261.8Q1484.6 1261.5 1503.1 1261.1M1153.8 1267Q1165.4 1267.4 1177 1267.7M1412.3 1269.7Q1430.4 1269.6 1448.6 1269.3M1133.4 1273Q1160.7 1274 1188 1274.8M1187 1274.8Q1196.9 1275.1 1206.7 1275.3M1244.4 1276.2Q1264 1276.6 1283.7 1276.8M1556.4 1273.5Q1583.6 1272.5 1610.8 1271.3M1132.1 1279.5Q1152.2 1280.4 1172.3 1281.1M1470.5 1283Q1485.7 1282.6 1500.8 1282.2M1185.4 1288.5Q1195.4 1288.8 1205.4 1289.1M1226.9 1289.8Q1253.7 1290.6 1280.5 1291M1478.9 1289.7Q1507 1288.9 1535.1 1287.8M1193.8 1295.7Q1220.2 1296.7 1246.5 1297.4M1245.5 1297.4Q1276 1298.2 1306.5 1298.5M1397.6 1305.7Q1411.9 1305.5 1426.2 1305.2M1557.9 1300.1Q1571.4 1299.3 1585 1298.5M1584 1298.5Q1594.2 1297.8 1604.4 1297.2M1152.9 1307.2Q1176.2 1308.6 1199.4 1309.7M1198.4 1309.7Q1209.2 1310.1 1220 1310.5M1324 1313.1Q1333.3 1313.2 1342.7 1313.2M1502.9 1309.7Q1511.6 1309.3 1520.3 1308.9M1519.3 1308.9Q1544.4 1307.7 1569.6 1306M1172.6 1315.2Q1195.2 1316.5 1217.9 1317.4M1216.9 1317.4Q1224.5 1317.7 1232.1 1318M1447.5 1318.9Q1463.8 1318.4 1480.2 1317.7M1202.2 1323.7Q1230.6 1325.1 1259.1 1326.1M1258.1 1326.1Q1275.2 1326.6 1292.4 1327M1416.6 1326.8Q1431 1326.5 1445.4 1326.1M1549.6 1320.6Q1575.3 1318.9 1601 1316.7M1098 1322.6Q1108.5 1323.6 1119 1324.5M1231.9 1332.1Q1241.5 1332.5 1251.1 1332.9M1353.9 1334.8Q1366.5 1334.8 1379.2 1334.7M1541.2 1328Q1558.9 1326.7 1576.6 1325.3M1186.7 1336.5Q1202.2 1337.5 1217.6 1338.3M1286.7 1341.2Q1306.3 1341.7 1325.8 1341.9M1356.4 1342Q1376 1342 1395.5 1341.6M1394.5 1341.6Q1416.4 1341.2 1438.3 1340.5M1284 1348.2Q1312.3 1349 1340.5 1349.2M1361.4 1349.2Q1372.8 1349.1 1384.2 1349M1433.9 1347.7Q1448.4 1347.2 1463 1346.6M1462 1346.6Q1474.7 1346 1487.5 1345.3M1545 1341.1Q1553.6 1340.5 1562.2 1339.7M1579.6 1338Q1599.9 1336.1 1620.2 1333.8M1169 1348.8Q1179.9 1349.7 1190.7 1350.5M1189.7 1350.5Q1206.8 1351.7 1223.9 1352.7M1355 1356.4Q1369.8 1356.4 1384.5 1356.2M1383.5 1356.2Q1394.2 1356 1404.8 1355.8M1435 1354.8Q1462.1 1353.8 1489.1 1352.1M1522.6 1349.7Q1541.9 1348.3 1561.1 1346.5M1560.1 1346.5Q1585.1 1344.2 1610.1 1341.3M1107.4 1349.3Q1122.9 1351.1 1138.5 1352.6M1137.5 1352.6Q1146.2 1353.5 1155 1354.3M1239.9 1360.6Q1254.9 1361.4 1269.8 1362M1268.8 1362Q1292.9 1362.9 1317.1 1363.3M1316.1 1363.3Q1325.1 1363.4 1334.2 1363.5M1474.8 1359.9Q1496.4 1358.7 1518 1357M1276.8 1369.4Q1287.6 1369.8 1298.4 1370.1M1445.8 1368.5Q1463.1 1367.7 1480.4 1366.7M1553.5 1360.5Q1568.9 1358.9 1584.2 1357.2M1583.2 1357.2Q1610.6 1354 1638.1 1350.2M1095.1 1360.6Q1124.4 1364.5 1153.7 1367.5M1201.6 1372.1Q1217.6 1373.3 1233.7 1374.3M1386.8 1377.7Q1398.8 1377.4 1410.7 1377.1M1445.5 1382.7Q1474.8 1381.2 1504.1 1378.8M1521.3 1377.2Q1549.1 1374.6 1576.9 1371.2M1575.9 1371.2Q1595.6 1368.8 1615.3 1366M1427.8 1390.7Q1458.1 1389.4 1488.4 1387M1487.4 1387Q1495.1 1386.4 1502.9 1385.8M1521.9 1383.9Q1549.6 1381.2 1577.3 1377.7M1261.5 1397.2Q1277.6 1398 1293.6 1398.6M1518.3 1391.1Q1543.8 1388.6 1569.3 1385.3M1568.3 1385.3Q1592.2 1382.2 1616.1 1378.5M1339.3 1406.8Q1369.5 1407 1399.6 1406.1M1398.6 1406.1Q1412.6 1405.7 1426.7 1405M1425.7 1405Q1440.6 1404.4 1455.4 1403.4M1120.5 1396.5Q1147.7 1400.5 1174.8 1403.7M1268.1 1411.7Q1297.4 1413.3 1326.7 1413.8M1584.3 1396.2Q1596.1 1394.4 1608 1392.5M1085.9 1397.2Q1106.5 1400.8 1127.1 1403.9M1126.1 1403.9Q1142.1 1406.3 1158.1 1408.3M1526.4 1410.7Q1548.5 1408.1 1570.7 1404.9M1194.1 1419.7Q1219.3 1422.4 1244.5 1424.3M1267 1425.9Q1274.7 1426.3 1282.3 1426.7M1304.6 1427.6Q1313.2 1427.9 1321.9 1428.1M1451.1 1424.9Q1478.4 1423 1505.7 1420.1M1262.7 1432.7Q1285.5 1434.2 1308.2 1434.9M1373.6 1435.4Q1391 1435.1 1408.5 1434.4M1407.5 1434.4Q1417 1434.1 1426.6 1433.6M1425.6 1433.6Q1452.5 1432.1 1479.4 1429.7M1204.7 1434.7Q1214.7 1435.7 1224.7 1436.6M1223.7 1436.6Q1238.1 1438 1252.4 1439M1251.4 1439Q1274.2 1440.7 1296.9 1441.6M1411.1 1441.4Q1421.1 1441 1431.1 1440.4M1463.2 1438.1Q1474.5 1437.1 1485.8 1436M1565.1 1425.5Q1591.2 1421.3 1617.2 1416.2M1229.2 1444.2Q1250.4 1446.1 1271.6 1447.4M1285.7 1448.3Q1299 1449 1312.4 1449.4M1403.1 1448.9Q1412.8 1448.6 1422.4 1448.1M1504.7 1440.8Q1522.7 1438.7 1540.8 1436.1M1573.9 1430.6Q1588.5 1428.1 1603.2 1425.3M1553.2 1440.7Q1572.4 1437.7 1591.6 1434M1236.8 1458.9Q1245.6 1459.7 1254.4 1460.4M1293.2 1463Q1304.2 1463.5 1315.3 1463.8M1540.8 1449.4Q1566.9 1445.4 1593 1440.2M1100.9 1444.7Q1124.5 1449.7 1148.2 1453.7M1330 1471.4Q1343.6 1471.6 1357.2 1471.6M1385.3 1471.1Q1399.1 1470.7 1412.9 1470M1268.7 1475.8Q1292 1477.4 1315.2 1478.2M1314.2 1478.2Q1332.6 1478.8 1351.1 1478.8M1365 1478.7Q1376.7 1478.6 1388.3 1478.2M1387.3 1478.2Q1404.3 1477.7 1421.3 1476.7M1582.7 1455.1Q1605.8 1450.5 1628.8 1445M1168.6 1470.8Q1178 1472.3 1187.4 1473.6M1228.9 1479.2Q1250.2 1481.5 1271.4 1483M1270.4 1483Q1293 1484.6 1315.5 1485.4M1346.5 1486Q1358.3 1486 1370.1 1485.9M1369.1 1485.9Q1380 1485.7 1390.8 1485.3M1389.8 1485.3Q1409.8 1484.6 1429.9 1483.3M1496.5 1483.3Q1506.6 1482 1516.7 1480.5M1169.2 1484.5Q1189.3 1487.9 1209.5 1490.6M1240.9 1494.5Q1248.7 1495.3 1256.5 1496M1506.6 1488.8Q1527 1485.8 1547.4 1482.1M1126.2 1482.6Q1155.6 1489.1 1185 1493.8M1244.6 1509Q1269.6 1511.7 1294.6 1513.1M1577.7 1488.9Q1592.3 1485.7 1606.9 1482M1192.2 1508.9Q1210.7 1511.9 1229.1 1514.1M1228.1 1514.1Q1255.6 1517.6 1283.1 1519.5M1282.1 1519.5Q1302.1 1520.9 1322.1 1521.5M1402.1 1520.7Q1430.7 1519.2 1459.4 1516.1M1537 1504.1Q1557.8 1500.2 1578.6 1495.5M1577.6 1495.5Q1602.4 1489.8 1627.1 1482.9M1137.7 1505Q1145.2 1506.6 1152.7 1508.1M1151.7 1508.1Q1177.2 1513.4 1202.6 1517.3M1261.3 1524.9Q1273.8 1526.1 1286.4 1526.9M1423.6 1526.4Q1435.4 1525.6 1447.2 1524.4M1503.1 1517Q1520.5 1514.2 1537.8 1510.9M1579.6 1501.5Q1588.1 1499.6 1596.7 1497.5M1222.1 1527.3Q1239.6 1529.7 1257 1531.5M1439.8 1532.1Q1450.9 1531.1 1462 1529.9M1084.2 1503.9Q1107.5 1510.7 1130.8 1516.3M1181 1527.5Q1202.7 1531.5 1224.4 1534.5M1249.6 1537.9Q1261 1539.1 1272.5 1540.1M1271.5 1540.1Q1293.7 1542 1316 1542.9M1423.6 1540.7Q1449.7 1538.6 1475.7 1535.1M1088.7 1511.6Q1119 1520.5 1149.4 1527.4M1235.3 1543.2Q1244 1544.2 1252.6 1545.2M1286.8 1548.4Q1298.8 1549.3 1310.8 1549.8M1309.8 1549.8Q1327.1 1550.6 1344.4 1550.8M1343.4 1550.8Q1373 1551 1402.6 1549.4M1416.1 1548.4Q1431 1547.3 1445.8 1545.8M1444.8 1545.8Q1457 1544.6 1469.3 1543M1332.5 1557.8Q1357.7 1558.3 1383 1557.5M1163.2 1544.2Q1180.4 1547.9 1197.6 1551M1258.7 1560.1Q1281.4 1562.6 1304.1 1563.8M1572.1 1536.2Q1589.9 1531.7 1607.7 1526.4M1152.3 1548.4Q1168.2 1552.1 1184 1555.2M1183 1555.2Q1207.3 1560.1 1231.6 1563.6M1381.7 1571.8Q1390.9 1571.5 1400.1 1571M1455.7 1565.8Q1478.8 1562.9 1501.8 1558.8M1411.1 1577.4Q1422.4 1576.6 1433.7 1575.5M1152.9 1561.9Q1175.5 1567.5 1198.2 1571.8M1223.4 1576.5Q1233.1 1578 1242.8 1579.2M1241.8 1579.2Q1263.5 1582.2 1285.3 1584M1322 1586.3Q1340.2 1586.9 1358.4 1586.8M1555.9 1560.3Q1583.6 1553.3 1611.3 1544.4M1207.6 1580.7Q1236.1 1585.9 1264.5 1589M1263.5 1589Q1284.3 1591.3 1305 1592.6M1262.7 1596.1Q1284.4 1598.5 1306 1599.8M1375.1 1600.8Q1400.2 1600.1 1425.4 1597.7M1536 1578.8Q1554.1 1574.5 1572.3 1569.4M1180.1 1588.8Q1200.4 1593.3 1220.7 1596.8M1219.7 1596.8Q1229.2 1598.4 1238.7 1599.8M1160.9 1590.9Q1175.1 1594.4 1189.3 1597.5M1188.3 1597.5Q1204.4 1601 1220.5 1603.8M1243.9 1607.7Q1261.9 1610.3 1279.9 1612M1325.3 1615.1Q1352.1 1616.1 1378.8 1615.1M1078.8 1577.5Q1094.5 1583.3 1110.1 1588.5M1257.5 1623.8Q1273.3 1625.8 1289 1627.2M1378.6 1636.7Q1407.6 1635.5 1436.6 1632.1M1462.2 1628.3Q1479.6 1625.6 1497.1 1622.1M1146.2 1613.6Q1160 1617.6 1173.8 1621.1M1197.4 1627.1Q1224.8 1633.1 1252.1 1637.1M1521.6 1623.1Q1529.1 1621.4 1536.7 1619.5M1169.7 1627Q1181.4 1630.1 1193.1 1632.7M1434 1646.5Q1464.3 1642.8 1494.5 1636.5M1544.2 1623.9Q1565 1618 1585.7 1611M1584.7 1611Q1593.3 1608.1 1601.9 1605.1M1203.6 1642.3Q1225.4 1647 1247.3 1650.4M1246.3 1650.4Q1261.9 1652.9 1277.6 1654.6M1341.3 1658.7Q1368 1659.1 1394.8 1657.4M1527.5 1635.2Q1550.9 1629.1 1574.2 1621.4M1573.2 1621.4Q1588.4 1616.5 1603.6 1610.9"/>
<path fill="none" stroke="#c3eb4b" stroke-width="5.5" d="M1143.8 1252.3Q1154.5 1252.7 1165.3 1252.9M1164.3 1252.9Q1180.4 1253.4 1196.6 1253.8M1288.5 1255.3Q1311.2 1255.5 1333.9 1255.6M1332.9 1255.6Q1350.5 1255.6 1368.2 1255.6M1367.2 1255.6Q1395.5 1255.5 1423.8 1255.2M1422.8 1255.2Q1449.2 1254.9 1475.5 1254.4M1474.5 1254.4Q1497.8 1254 1521.1 1253.4M1552.7 1252.5Q1560.6 1252.3 1568.6 1252M1567.6 1252Q1596.1 1251.1 1624.7 1250M1159.4 1260Q1167 1260.2 1174.7 1260.4M1173.7 1260.4Q1198.9 1261.1 1224.1 1261.6M1223.1 1261.6Q1236.2 1261.8 1249.2 1262M1323.3 1262.7Q1342.4 1262.8 1361.5 1262.8M1441.6 1262.2Q1454.4 1262 1467.2 1261.8M1528.2 1260.4Q1556.3 1259.7 1584.3 1258.7M1117.3 1265.8Q1136 1266.5 1154.8 1267M1176 1267.7Q1191.4 1268.1 1206.7 1268.4M1234.8 1269Q1242.4 1269.1 1250.1 1269.2M1249.1 1269.2Q1263.1 1269.4 1277 1269.6M1276 1269.6Q1293.4 1269.8 1310.9 1269.9M1309.9 1269.9Q1338.5 1270 1367.1 1270M1366.1 1270Q1389.7 1269.9 1413.3 1269.7M1447.6 1269.3Q1474.5 1268.9 1501.4 1268.3M1535.5 1267.4Q1562.2 1266.7 1588.8 1265.8M1110.9 1272.1Q1122.6 1272.6 1134.4 1273M1205.7 1275.3Q1225.6 1275.8 1245.4 1276.2M1282.7 1276.8Q1308.6 1277.1 1334.5 1277.2M1333.5 1277.2Q1355.6 1277.2 1377.7 1277.1M1376.7 1277.1Q1398.8 1277 1420.9 1276.8M1419.9 1276.8Q1436.9 1276.6 1454 1276.3M1453 1276.3Q1476.9 1275.9 1500.9 1275.2M1499.9 1275.2Q1528.6 1274.5 1557.4 1273.5M1089 1277.4Q1111.1 1278.6 1133.1 1279.5M1171.3 1281.1Q1192.1 1281.9 1212.8 1282.4M1211.8 1282.4Q1226.5 1282.8 1241.1 1283.1M1240.1 1283.1Q1270.5 1283.8 1301 1284.1M1300 1284.1Q1319 1284.3 1338.1 1284.4M1337.1 1284.4Q1348.6 1284.4 1360.1 1284.4M1359.1 1284.4Q1371.3 1284.4 1383.5 1284.3M1382.5 1284.3Q1398.4 1284.2 1414.4 1284M1413.4 1284Q1442.4 1283.7 1471.5 1283M1499.8 1282.2Q1516.4 1281.7 1533.1 1281.1M1532.1 1281.1Q1554.5 1280.3 1576.9 1279.3M1575.9 1279.3Q1598.8 1278.3 1621.8 1277M1096.4 1284.2Q1122.1 1285.7 1147.8 1286.8M1279.5 1291Q1297 1291.3 1314.6 1291.4M1313.6 1291.4Q1332.4 1291.6 1351.3 1291.6M1350.3 1291.6Q1367 1291.6 1383.7 1291.5M1382.7 1291.5Q1411.4 1291.3 1440 1290.7M1113.6 1291.7Q1143.2 1293.4 1172.8 1294.7M1171.8 1294.7Q1183.3 1295.2 1194.8 1295.7M1339.6 1298.8Q1354.4 1298.8 1369.1 1298.8M1426.3 1298.1Q1449 1297.7 1471.6 1297M1470.6 1297Q1482.8 1296.6 1495 1296.2M1494 1296.2Q1503.1 1295.9 1512.1 1295.6M1547.2 1293.9Q1576.1 1292.5 1605 1290.7M1085.2 1296.2Q1095.6 1296.9 1106 1297.6M1139 1299.7Q1150.8 1300.4 1162.5 1301M1161.5 1301Q1189.8 1302.5 1218.2 1303.5M1217.2 1303.5Q1241.6 1304.4 1266 1305M1265 1305Q1279.3 1305.3 1293.7 1305.5M1326.9 1305.9Q1353.7 1306.1 1380.5 1305.9M1379.5 1305.9Q1389.1 1305.8 1398.6 1305.7M1425.2 1305.2Q1453.7 1304.7 1482.3 1303.6M1510.7 1302.5Q1521.7 1302 1532.6 1301.5M1085.9 1302.5Q1110.4 1304.5 1134.9 1306M1219 1310.5Q1238.8 1311.3 1258.6 1311.9M1281.3 1312.5Q1303.1 1312.9 1325 1313.1M1341.7 1313.2Q1357.3 1313.2 1372.9 1313.1M1371.9 1313.1Q1382.5 1313.1 1393.2 1312.9M1392.2 1312.9Q1411.1 1312.7 1430.1 1312.3M1429.1 1312.3Q1440.8 1312 1452.6 1311.7M1451.6 1311.7Q1469.3 1311.1 1487.1 1310.4M1486.1 1310.4Q1495 1310.1 1503.9 1309.7M1568.6 1306Q1598 1304.1 1627.4 1301.7M1089.9 1309.2Q1110.3 1310.9 1130.8 1312.3M1129.8 1312.3Q1151.7 1313.9 1173.6 1315.2M1277.5 1319.5Q1297.4 1320 1317.2 1320.2M1316.2 1320.2Q1327 1320.3 1337.9 1320.4M1336.9 1320.4Q1365 1320.5 1393.1 1320.1M1392.1 1320.1Q1420.3 1319.8 1448.5 1318.9M1479.2 1317.7Q1487.3 1317.4 1495.5 1317M1494.5 1317Q1520.4 1315.8 1546.3 1314.2M1545.3 1314.2Q1556.8 1313.5 1568.3 1312.7M1567.3 1312.7Q1596.7 1310.7 1626 1308.1M1114.3 1317.7Q1132.3 1319.1 1150.3 1320.4M1149.3 1320.4Q1176.2 1322.3 1203.2 1323.7M1291.4 1327Q1314.5 1327.4 1337.6 1327.6M1336.6 1327.6Q1350.9 1327.6 1365.3 1327.6M1364.3 1327.6Q1390.9 1327.4 1417.6 1326.8M1444.4 1326.1Q1474.6 1325.1 1504.8 1323.5M1503.8 1323.5Q1527.2 1322.2 1550.6 1320.6M1118 1324.5Q1143.5 1326.7 1169 1328.4M1189.4 1329.8Q1211.2 1331.1 1232.9 1332.1M1274.2 1333.7Q1298.2 1334.4 1322.1 1334.6M1321.1 1334.6Q1338 1334.8 1354.9 1334.8M1378.2 1334.7Q1406 1334.4 1433.8 1333.5M1432.8 1333.5Q1462.4 1332.6 1492.1 1331.1M1509.8 1330Q1526 1329.1 1542.2 1328M1575.6 1325.3Q1588.2 1324.2 1600.8 1323.1M1104.9 1329.7Q1124.1 1331.6 1143.3 1333.2M1142.3 1333.2Q1165 1335 1187.7 1336.5M1216.6 1338.3Q1234.6 1339.3 1252.6 1340M1528.8 1335.6Q1557.2 1333.6 1585.6 1331M1115.9 1337.3Q1144 1340.1 1172.2 1342.2M1171.2 1342.2Q1201.5 1344.5 1231.8 1346.1M1230.8 1346.1Q1257.9 1347.5 1285 1348.2M1339.5 1349.2Q1350.9 1349.2 1362.4 1349.2M1383.2 1349Q1393.3 1348.8 1403.3 1348.6M1402.3 1348.6Q1418.6 1348.3 1434.9 1347.7M1486.5 1345.3Q1500 1344.5 1513.5 1343.6M1093.6 1341.3Q1105.7 1342.7 1117.8 1343.9M1116.8 1343.9Q1143.4 1346.7 1170 1348.8M1222.9 1352.7Q1234.6 1353.3 1246.2 1353.8M1245.2 1353.8Q1274.7 1355.2 1304.2 1355.9M1303.2 1355.9Q1319.6 1356.2 1336.1 1356.3M1335.1 1356.3Q1345.6 1356.4 1356 1356.4M1403.8 1355.8Q1419.9 1355.4 1436 1354.8M1488.1 1352.1Q1505.9 1351.1 1523.6 1349.7M1154 1354.3Q1177.7 1356.5 1201.5 1358.1M1333.2 1363.5Q1349.3 1363.7 1365.4 1363.6M1364.4 1363.6Q1392.8 1363.4 1421.2 1362.5M1420.2 1362.5Q1438.4 1361.9 1456.6 1361M1455.6 1361Q1465.7 1360.5 1475.8 1359.9M1517 1357Q1541.6 1355.1 1566.3 1352.6M1093.8 1354Q1105.4 1355.5 1117.1 1356.8M1116.1 1356.8Q1140 1359.6 1164 1361.8M1163 1361.8Q1186.7 1364 1210.4 1365.7M1297.4 1370.1Q1305.8 1370.3 1314.3 1370.4M1313.3 1370.4Q1322.5 1370.6 1331.6 1370.7M1479.4 1366.7Q1503.5 1365.1 1527.6 1363M1526.6 1363Q1540.5 1361.8 1554.5 1360.5M1152.7 1367.5Q1177.7 1370.1 1202.6 1372.1M1232.7 1374.3Q1258.7 1375.9 1284.7 1376.8M1322.6 1377.8Q1345.9 1378.1 1369.2 1377.9M1368.2 1377.9Q1378 1377.8 1387.8 1377.7M1409.7 1377.1Q1429.3 1376.5 1448.9 1375.5M1505 1371.7Q1516.9 1370.8 1528.9 1369.7M1527.9 1369.7Q1557.4 1367 1587 1363.4M1130.2 1371.6Q1153.3 1374.4 1176.4 1376.6M1175.4 1376.6Q1201.6 1379.1 1227.9 1380.9M1226.9 1380.9Q1236.7 1381.5 1246.5 1382.1M1274.8 1383.6Q1288.1 1384.1 1301.4 1384.5M1356.5 1385.2Q1371.7 1385.1 1386.9 1384.9M1107 1375.1Q1137.1 1379.3 1167.3 1382.5M1166.3 1382.5Q1182.5 1384.1 1198.8 1385.6M1197.8 1385.6Q1220.6 1387.5 1243.4 1389M1296.3 1391.5Q1324.1 1392.4 1352 1392.4M1394.4 1391.9Q1411.6 1391.4 1428.8 1390.7M1501.9 1385.8Q1512.4 1384.9 1522.9 1383.9M1099.5 1380.4Q1124.5 1384.1 1149.4 1387.1M1148.4 1387.1Q1178.9 1390.8 1209.4 1393.4M1208.4 1393.4Q1235.4 1395.7 1262.5 1397.2M1292.6 1398.6Q1301.8 1398.9 1310.9 1399.1M1309.9 1399.1Q1320.2 1399.3 1330.4 1399.5M1329.4 1399.5Q1343.1 1399.6 1356.7 1399.6M1355.7 1399.6Q1384.3 1399.5 1413 1398.5M1412 1398.5Q1425.4 1398 1438.8 1397.3M1478.9 1394.7Q1499.1 1393.1 1519.3 1391.1M1298.1 1405.9Q1310.1 1406.3 1322.1 1406.5M1321.1 1406.5Q1330.7 1406.7 1340.3 1406.8M1502 1399.6Q1523 1397.7 1544 1395.2M1543 1395.2Q1554.6 1393.8 1566.2 1392.3M1565.2 1392.3Q1575 1391.1 1584.8 1389.7M1096 1392.6Q1108.8 1394.6 1121.5 1396.5M1173.8 1403.7Q1198.8 1406.5 1223.7 1408.6M1245.5 1410.3Q1257.3 1411.1 1269.1 1411.7M1375.8 1413.8Q1385.8 1413.6 1395.8 1413.4M1420.4 1412.4Q1448.6 1411.2 1476.7 1408.9M1475.7 1408.9Q1495.4 1407.3 1515.1 1405.3M1549.7 1401.1Q1567.5 1398.8 1585.3 1396.2M1157.1 1408.3Q1174.6 1410.6 1192.1 1412.5M1191.1 1412.5Q1212.7 1414.8 1234.3 1416.5M1267.9 1418.8Q1291.7 1420.2 1315.6 1420.7M1314.6 1420.7Q1344.1 1421.5 1373.6 1421M1372.6 1421Q1385.3 1420.9 1398 1420.5M1397 1420.5Q1424.2 1419.7 1451.4 1417.8M1450.4 1417.8Q1459.7 1417.3 1468.9 1416.6M1467.9 1416.6Q1490.1 1414.8 1512.3 1412.5M1511.3 1412.5Q1519.3 1411.6 1527.4 1410.7M1101.5 1406.3Q1123.8 1410.2 1146.2 1413.4M1145.2 1413.4Q1170.1 1416.9 1195.1 1419.7M1243.5 1424.3Q1255.8 1425.2 1268 1425.9M1320.9 1428.1Q1337.8 1428.4 1354.7 1428.4M1353.7 1428.4Q1380 1428.4 1406.2 1427.4M1563.9 1412.4Q1581.8 1409.8 1599.6 1406.7M1108.6 1414Q1122.2 1416.3 1135.7 1418.4M1134.7 1418.4Q1156.6 1421.8 1178.5 1424.5M1211.6 1428.4Q1237.6 1431.1 1263.7 1432.7M1307.2 1434.9Q1321.5 1435.3 1335.7 1435.5M1334.7 1435.5Q1354.6 1435.7 1374.6 1435.4M1478.4 1429.7Q1502.3 1427.5 1526.2 1424.5M1525.2 1424.5Q1539.9 1422.7 1554.7 1420.6M1108.5 1420.5Q1133 1424.9 1157.5 1428.4M1156.5 1428.4Q1181.1 1432 1205.7 1434.7M1295.9 1441.6Q1304.4 1442 1312.9 1442.2M1311.9 1442.2Q1321.9 1442.5 1331.8 1442.6M1330.8 1442.6Q1345.4 1442.9 1359.9 1442.8M1430.1 1440.4Q1447.1 1439.5 1464.2 1438.1M1484.8 1436Q1499 1434.6 1513.2 1433M1512.2 1433Q1527.3 1431.2 1542.4 1429.1M1541.4 1429.1Q1553.7 1427.4 1566.1 1425.5M1149.7 1434.1Q1171.8 1437.5 1193.9 1440.2M1192.9 1440.2Q1202 1441.2 1211 1442.2M1270.6 1447.4Q1278.6 1447.9 1286.7 1448.3M1311.4 1449.4Q1328 1449.9 1344.6 1450M1343.6 1450Q1373.8 1450.2 1404.1 1448.9M1421.4 1448.1Q1449.5 1446.6 1477.5 1443.9M1476.5 1443.9Q1491.1 1442.5 1505.7 1440.8M1539.8 1436.1Q1557.3 1433.6 1574.9 1430.6M1116.3 1434.9Q1141.7 1439.6 1167.1 1443.3M1225.5 1450.8Q1235.6 1451.8 1245.6 1452.6M1244.6 1452.6Q1263.8 1454.2 1282.9 1455.3M1281.9 1455.3Q1310.4 1456.8 1338.9 1457.1M1337.9 1457.1Q1354.7 1457.3 1371.5 1457.1M1442.9 1453.8Q1463.3 1452.3 1483.8 1450.2M1482.8 1450.2Q1491.3 1449.4 1499.7 1448.4M1130.3 1444Q1147.1 1447 1163.9 1449.6M1162.9 1449.6Q1170.5 1450.7 1178 1451.7M1177 1451.7Q1207.4 1456.1 1237.8 1458.9M1253.4 1460.4Q1273.8 1462 1294.2 1463M1314.3 1463.8Q1326.4 1464.2 1338.6 1464.3M1411.7 1462.9Q1429.2 1462 1446.8 1460.7M1445.8 1460.7Q1464.6 1459.2 1483.4 1457.2M1482.4 1457.2Q1512.1 1454 1541.8 1449.4M1193.4 1460.9Q1208.3 1462.8 1223.2 1464.4M1222.2 1464.4Q1247.1 1467.1 1271.9 1468.8M1270.9 1468.8Q1301 1470.9 1331 1471.4M1435.4 1468.6Q1449.8 1467.6 1464.1 1466.2M1479.6 1464.5Q1507.7 1461.5 1535.8 1457.1M1534.8 1457.1Q1544.7 1455.6 1554.7 1454M1553.7 1454Q1573.8 1450.6 1594 1446.5M1099.6 1450.8Q1114.6 1454 1129.7 1456.9M1128.7 1456.9Q1158.4 1462.6 1188.1 1466.9M1187.1 1466.9Q1213.3 1470.6 1239.5 1473.2M1238.5 1473.2Q1254.1 1474.7 1269.7 1475.8M1420.3 1476.7Q1449.3 1474.9 1478.4 1471.8M1477.4 1471.8Q1489.2 1470.5 1501.1 1469M1500.1 1469Q1513.9 1467.3 1527.7 1465.2M1079.2 1452.3Q1095.5 1456.2 1111.8 1459.7M1110.8 1459.7Q1140.2 1466 1169.6 1470.8M1186.4 1473.6Q1194.3 1474.7 1202.2 1475.8M1201.2 1475.8Q1215.6 1477.7 1229.9 1479.2M1314.5 1485.4Q1331 1485.9 1347.5 1486M1428.9 1483.3Q1455.3 1481.4 1481.7 1478.4M1503.4 1475.5Q1511.2 1474.5 1519.1 1473.3M1518.1 1473.3Q1534.4 1470.9 1550.8 1468.1M1549.8 1468.1Q1570.2 1464.5 1590.7 1460.1M1109.2 1465.8Q1118 1467.7 1126.9 1469.5M1143.5 1473Q1167.9 1477.7 1192.3 1481.2M1191.3 1481.2Q1218.9 1485.3 1246.4 1488M1317.7 1492.7Q1347.8 1493.6 1377.9 1492.9M1376.9 1492.9Q1401.8 1492.3 1426.7 1490.6M1425.7 1490.6Q1449.1 1489 1472.5 1486.4M1471.5 1486.4Q1484.5 1485 1497.5 1483.3M1563.5 1472.1Q1575.3 1469.9 1587.1 1467.4M1090.4 1467.7Q1114.2 1473.6 1138.1 1478.4M1137.1 1478.4Q1153.7 1481.7 1170.2 1484.5M1310.4 1499.6Q1330.3 1500.4 1350.2 1500.4M1349.2 1500.4Q1368.8 1500.4 1388.4 1499.8M1387.4 1499.8Q1395.9 1499.5 1404.3 1499.1M1403.3 1499.1Q1432.1 1497.7 1460.8 1494.7M1459.8 1494.7Q1483.7 1492.3 1507.6 1488.8M1546.4 1482.1Q1576.1 1476.6 1605.7 1469.5M1103 1477.2Q1115.1 1480.1 1127.2 1482.6M1184 1493.8Q1192.3 1495.1 1200.6 1496.3M1199.6 1496.3Q1225.9 1500.1 1252.1 1502.7M1251.1 1502.7Q1276.9 1505.2 1302.7 1506.4M1301.7 1506.4Q1324 1507.5 1346.4 1507.6M1345.4 1507.6Q1372.6 1507.7 1399.9 1506.5M1398.9 1506.5Q1426.9 1505.2 1454.9 1502.4M1155.2 1495.4Q1181.9 1500.6 1208.7 1504.4M1207.7 1504.4Q1226.6 1507.1 1245.6 1509M1384.1 1514.3Q1392.1 1514 1400.1 1513.6M1413.2 1512.9Q1432.1 1511.7 1450.9 1509.9M1449.9 1509.9Q1466.5 1508.3 1483.2 1506.1M1482.2 1506.1Q1496.6 1504.3 1511 1502.1M1563.7 1492Q1571.2 1490.5 1578.7 1488.9M1115.4 1493.2Q1130.9 1496.9 1146.5 1500.1M1321.1 1521.5Q1330.2 1521.8 1339.4 1521.9M1338.4 1521.9Q1347.9 1522 1357.5 1522M1458.4 1516.1Q1477.1 1514 1495.8 1511.3M1102.4 1496.3Q1120.6 1501 1138.7 1505M1361.2 1529.1Q1381.1 1528.9 1401 1527.9M1536.8 1510.9Q1558.7 1506.7 1580.6 1501.5M1103.8 1503.1Q1132.2 1510.6 1160.7 1516.5M1180.9 1520.6Q1202 1524.4 1223.1 1527.3M1303.1 1535.1Q1329.4 1536.5 1355.6 1536.4M1461 1529.9Q1468.6 1529 1476.2 1528M1475.2 1528Q1485.9 1526.7 1496.6 1525.1M1495.6 1525.1Q1503.7 1523.9 1511.9 1522.6M1510.9 1522.6Q1524 1520.4 1537.1 1517.8M1536.1 1517.8Q1565.5 1512 1595 1504.4M1223.4 1534.5Q1237 1536.4 1250.6 1537.9M1357.8 1543.6Q1375.6 1543.4 1393.4 1542.7M1474.7 1535.1Q1482.3 1534.2 1489.9 1533.1M1488.9 1533.1Q1518.6 1528.6 1548.2 1522.3M1547.2 1522.3Q1564.8 1518.5 1582.3 1514.2M1267.5 1546.8Q1277.6 1547.7 1287.8 1548.4M1401.6 1549.4Q1409.4 1548.9 1417.1 1548.4M1468.3 1543Q1485.6 1540.8 1503 1537.9M1549.6 1528.4Q1562.4 1525.6 1575.2 1522.5M1574.2 1522.5Q1598.6 1516.5 1623.1 1509.1M1082.6 1516Q1101.3 1521.7 1120 1526.7M1119 1526.7Q1142.3 1532.8 1165.5 1537.7M1221.8 1548.3Q1245 1551.7 1268.2 1553.9M1306.2 1556.8Q1319.8 1557.5 1333.5 1557.8M1419.2 1555.3Q1429.3 1554.6 1439.4 1553.6M1438.4 1553.6Q1468.8 1550.6 1499.1 1545.5M1512.4 1542.9Q1541.5 1537.5 1570.7 1530.3M1569.7 1530.3Q1592.6 1524.6 1615.6 1517.7M1196.6 1551Q1218.3 1554.9 1240 1557.7M1303.1 1563.8Q1320.6 1564.8 1338.1 1565.1M1337.1 1565.1Q1352.6 1565.3 1368.1 1565.1M1424.4 1562Q1436.1 1561.1 1447.8 1559.8M1446.8 1559.8Q1468 1557.4 1489.3 1554M1488.3 1554Q1511.5 1550.3 1534.8 1545.4M1399.1 1571Q1408.6 1570.5 1418.1 1569.8M1417.1 1569.8Q1436.9 1568.2 1456.7 1565.8M1153.2 1555.3Q1172.1 1559.8 1190.9 1563.5M1189.9 1563.5Q1219.3 1569.3 1248.8 1573M1268 1575.3Q1296.2 1578.2 1324.5 1579.1M1323.5 1579.1Q1353.3 1580.1 1383.1 1579M1452.2 1573.3Q1480.4 1569.8 1508.6 1564.5M1507.6 1564.5Q1535.6 1559.1 1563.6 1551.9M1562.6 1551.9Q1592.2 1544.3 1621.9 1534.6M1197.2 1571.8Q1210.8 1574.4 1224.4 1576.5M1304.9 1585.4Q1314 1585.9 1323 1586.3M1357.4 1586.8Q1376.7 1586.6 1395.9 1585.6M1527.8 1567.1Q1542.4 1564 1556.9 1560.3M1160.9 1570.6Q1184.7 1576.4 1208.6 1580.7M1304 1592.6Q1316.6 1593.3 1329.1 1593.7M1328.1 1593.7Q1356.8 1594.5 1385.4 1593.3M1384.4 1593.3Q1408.4 1592.3 1432.3 1589.9M1431.3 1589.9Q1458.4 1587.1 1485.5 1582.6M1484.5 1582.6Q1507.3 1578.7 1530 1573.6M1088.7 1555.9Q1118.9 1566.1 1149 1574.1M1216.3 1589.2Q1240 1593.4 1263.7 1596.1M1305 1599.8Q1316.4 1600.5 1327.8 1600.8M1424.4 1597.7Q1449.3 1595.3 1474.2 1591.4M1145.2 1580Q1163.1 1584.8 1181.1 1588.8M1270.9 1604.1Q1280 1605 1289.1 1605.7M1288.1 1605.7Q1312.4 1607.7 1336.8 1608.2M1435.3 1603.7Q1457.5 1601.2 1479.7 1597.5M1511 1591.3Q1534.2 1586.4 1557.5 1580.2M1079.7 1565.3Q1095.7 1571 1111.6 1576.1M1310.1 1614.4Q1318.2 1614.9 1326.3 1615.1M1515.8 1597.1Q1526 1594.9 1536.3 1592.5M1574.8 1581.5Q1600.2 1573.9 1625.7 1564.6M1101.9 1579.6Q1117.4 1584.8 1132.9 1589.4M1225.7 1611.8Q1254.8 1616.8 1284 1619.6M1332.9 1622.6Q1349.8 1623 1366.7 1622.7M1365.7 1622.7Q1392.7 1622.1 1419.6 1619.6M1418.6 1619.6Q1447.9 1617 1477.1 1612M1525.3 1601.7Q1547.7 1596.5 1570 1589.8M1109.1 1588.5Q1132.9 1596.5 1156.7 1603M1242.5 1621.6Q1250.5 1622.8 1258.5 1623.8M1314.9 1629.1Q1343.2 1630.5 1371.6 1629.7M1370.6 1629.7Q1397.9 1629 1425.3 1626.2M1462.1 1621.3Q1483.5 1618 1504.9 1613.5M1503.9 1613.5Q1512.9 1611.7 1521.8 1609.7M1577 1594Q1601.1 1586.4 1625.3 1577.2M1156.4 1609.9Q1177.6 1615.7 1198.9 1620.3M1197.9 1620.3Q1226.2 1626.4 1254.6 1630.3M1283.3 1633.9Q1303.7 1635.8 1324 1636.6M1323 1636.6Q1351.3 1637.8 1379.6 1636.7M1435.6 1632.1Q1449.4 1630.5 1463.2 1628.3M1518.5 1617Q1546.5 1610.4 1574.6 1601.6M1573.6 1601.6Q1597.3 1594.2 1621.1 1585.1M1172.8 1621.1Q1185.6 1624.3 1198.4 1627.1M1278.2 1640.5Q1294.3 1642.2 1310.4 1643.1M1355.4 1644.4Q1370.5 1644.3 1385.5 1643.6M1441 1638.5Q1468.1 1635 1495.3 1629.4M1535.7 1619.5Q1549.3 1615.9 1562.9 1611.9M1088.5 1600.1Q1096.6 1603.1 1104.7 1605.9M1151.2 1621.8Q1161 1624.5 1170.7 1627M1341.7 1651.5Q1360 1651.8 1378.4 1651.1M1516.6 1631.2Q1530.9 1627.8 1545.2 1623.9M1158.6 1630.7Q1181.6 1637.2 1204.6 1642.3M1393.8 1657.4Q1418.8 1655.8 1443.8 1652.4M1442.8 1652.4Q1464.8 1649.5 1486.8 1645.1M1485.8 1645.1Q1507.2 1640.8 1528.5 1635.2"/>
<path fill="none" stroke="#91ebcd" stroke-width="5.5" d="M1520.1 1253.4Q1536.9 1253 1553.7 1252.5M1583.3 1258.7Q1597.5 1258.2 1611.7 1257.7M1500.4 1268.3Q1518.5 1267.9 1536.5 1267.4M1146.8 1286.8Q1166.6 1287.7 1186.4 1288.5M1204.4 1289.1Q1216.1 1289.5 1227.9 1289.8M1439 1290.7Q1459.5 1290.3 1479.9 1289.7M1534.1 1287.8Q1554.1 1287 1574.1 1286M1573.1 1286Q1589.2 1285.2 1605.3 1284.3M1368.1 1298.8Q1397.7 1298.6 1427.3 1298.1M1511.1 1295.6Q1529.6 1294.8 1548.2 1293.9M1105 1297.6Q1122.5 1298.7 1140 1299.7M1531.6 1301.5Q1545.2 1300.8 1558.9 1300.1M1231.1 1318Q1254.8 1318.9 1278.5 1319.5M1250.1 1332.9Q1262.6 1333.3 1275.2 1333.7M1491.1 1331.1Q1501 1330.6 1510.8 1330M1469.4 1339.2Q1499.6 1337.8 1529.8 1335.6M1584.6 1331Q1599.9 1329.6 1615.2 1328M1512.5 1343.6Q1529.2 1342.5 1546 1341.1M1565.3 1352.6Q1579.1 1351.2 1592.9 1349.7M1209.4 1365.7Q1230 1367.2 1250.6 1368.2M1249.6 1368.2Q1263.7 1368.9 1277.8 1369.4M1283.7 1376.8Q1303.6 1377.5 1323.6 1377.8M1098.7 1367.5Q1115 1369.7 1131.2 1371.6M1385.9 1384.9Q1397.6 1384.7 1409.3 1384.3M1503.1 1378.8Q1512.7 1378 1522.3 1377.2M1107.8 1388.1Q1134.5 1392.1 1161.1 1395.3M1160.1 1395.3Q1187.2 1398.5 1214.2 1400.8M1454.4 1403.4Q1478.7 1401.9 1503 1399.6M1583.8 1389.7Q1610.8 1385.8 1637.7 1381.1M1514.1 1405.3Q1532.4 1403.4 1550.7 1401.1M1405.2 1427.4Q1428.7 1426.5 1452.1 1424.9M1088.4 1410.3Q1099 1412.2 1109.6 1414M1553.7 1420.6Q1583.8 1416.2 1613.9 1410.5M1385.6 1442.4Q1398.9 1442 1412.1 1441.4M1210 1442.2Q1220.1 1443.2 1230.2 1444.2M1166.1 1443.3Q1196.3 1447.8 1226.5 1450.8M1419.7 1455.3Q1431.8 1454.7 1443.9 1453.8M1498.7 1448.4Q1526.5 1445.2 1554.2 1440.7M1101.1 1438.3Q1116.2 1441.4 1131.3 1444M1337.6 1464.3Q1349.7 1464.5 1361.9 1464.4M1360.9 1464.4Q1386.8 1464.2 1412.7 1462.9M1356.2 1471.6Q1371.3 1471.5 1386.3 1471.1M1411.9 1470Q1424.1 1469.4 1436.4 1468.6M1350.1 1478.8Q1358 1478.8 1366 1478.7M1480.7 1478.4Q1492.5 1477 1504.4 1475.5M1245.4 1488Q1259.7 1489.3 1274 1490.3M1515.7 1480.5Q1540.1 1476.9 1564.5 1472.1M1356.5 1522Q1379.8 1521.9 1403.1 1520.7M1494.8 1511.3Q1516.4 1508.2 1538 1504.1M1201.6 1517.3Q1232 1522.1 1262.3 1524.9M1400 1527.9Q1412.3 1527.3 1424.6 1526.4M1189 1535.8Q1212.7 1540.1 1236.3 1543.2M1502 1537.9Q1517.9 1535.2 1533.8 1532.1M1239 1557.7Q1249.3 1559 1259.7 1560.1M1367.1 1565.1Q1388.9 1564.6 1410.6 1563.2M1382.1 1579Q1397.1 1578.5 1412.1 1577.4M1103.1 1547.9Q1128.5 1555.7 1153.9 1561.9M1434.6 1610.9Q1450.9 1609.1 1467.1 1606.6M1283 1619.6Q1308.4 1621.9 1333.9 1622.6M1173.8 1607.7Q1185.2 1610.5 1196.6 1612.9M1424.3 1626.2Q1443.7 1624.3 1463.1 1621.3M1520.8 1609.7Q1531 1607.3 1541.3 1604.7M1384.5 1643.6Q1397.3 1643 1410 1642M1240.7 1642.5Q1248.6 1643.7 1256.6 1644.8M1108.4 1614.1Q1134 1623.3 1159.6 1630.7M1310.5 1657.5Q1326.4 1658.5 1342.3 1658.7"/>
<path fill="none" stroke="#9bcd4b" stroke-width="2.5" d="M1114.9 1255Q1145.1 1256 1175.3 1256.8M1429.7 1258.7Q1453.9 1258.5 1478.1 1258M1445.2 1265.7Q1467.1 1265.4 1489 1265M1333.5 1280.8Q1363.2 1280.9 1392.9 1280.7M1391.9 1280.7Q1416.6 1280.5 1441.3 1280.1M1108.5 1282Q1134.6 1283.3 1160.7 1284.3M1357.9 1288Q1376.4 1288 1395 1287.8M1394 1287.8Q1412 1287.7 1430 1287.4M1168.1 1291.4Q1190 1292.3 1211.8 1293M1127.1 1296Q1150.8 1297.4 1174.6 1298.4M1529.3 1298.4Q1558.9 1297.1 1588.6 1295.3M1266.8 1308.6Q1296.2 1309.3 1325.5 1309.5M1306.8 1316.5Q1334.8 1316.9 1362.9 1316.8M1181.8 1326.1Q1202.6 1327.3 1223.5 1328.3M1549.7 1330.9Q1575.2 1329.1 1600.7 1326.7M1252.8 1343.6Q1263.4 1344 1274 1344.4M1334.8 1345.5Q1357.3 1345.7 1379.8 1345.4M1542.5 1338.2Q1553.8 1337.4 1565.2 1336.4M1442.8 1351Q1455.7 1350.5 1468.5 1349.9M1493.7 1348.4Q1522.7 1346.7 1551.6 1344.3M1118.5 1347.7Q1129.6 1348.8 1140.8 1349.8M1357.8 1360Q1384.4 1359.9 1411 1359.2M1543.1 1351.6Q1566.7 1349.6 1590.3 1347.1"/>
<path fill="none" stroke="#eb4b0f" stroke-width="2.5" d="M1174.3 1256.8Q1184.4 1257.1 1194.4 1257.3M1193.4 1257.3Q1204.1 1257.6 1214.7 1257.8M1213.7 1257.8Q1235.5 1258.2 1257.2 1258.5M1256.2 1258.5Q1279.8 1258.8 1303.3 1259M1324.2 1259.1Q1340.9 1259.2 1357.6 1259.2M1356.6 1259.2Q1377.8 1259.2 1399 1259M1398 1259Q1414.4 1258.9 1430.7 1258.7M1536 1256.6Q1551.7 1256.2 1567.4 1255.7M1210.8 1264.9Q1223.2 1265.2 1235.6 1265.4M1260.4 1265.8Q1283.8 1266.1 1307.3 1266.2M1306.3 1266.2Q1334.2 1266.4 1362.1 1266.4M1361.1 1266.4Q1374.1 1266.4 1387.2 1266.3M1097 1268.7Q1122 1269.6 1147 1270.4M1249.7 1272.8Q1272.9 1273.2 1296 1273.4M1295 1273.4Q1319.4 1273.6 1343.7 1273.6M1342.7 1273.6Q1361.7 1273.6 1380.7 1273.5M1379.7 1273.5Q1394.3 1273.5 1408.8 1273.4M1432.2 1273.1Q1445.5 1272.9 1458.8 1272.7M1457.8 1272.7Q1483.8 1272.3 1509.8 1271.7M1080.2 1274.3Q1103.4 1275.4 1126.6 1276.3M1207 1279Q1217.5 1279.2 1227.9 1279.4M1226.9 1279.4Q1236.9 1279.6 1246.9 1279.8M1245.9 1279.8Q1254.7 1280 1263.5 1280.1M1262.5 1280.1Q1275.7 1280.3 1289 1280.4M1440.3 1280.1Q1448.4 1280 1456.6 1279.8M1455.6 1279.8Q1484.4 1279.3 1513.2 1278.5M1569.2 1276.6Q1583.9 1276 1598.7 1275.4M1159.7 1284.3Q1182.7 1285.2 1205.7 1285.8M1204.7 1285.8Q1222.3 1286.3 1239.9 1286.7M1238.9 1286.7Q1265.7 1287.3 1292.6 1287.6M1429 1287.4Q1445.5 1287.1 1462.1 1286.8M1491.6 1286Q1516.4 1285.3 1541.2 1284.4M1210.8 1293Q1223.3 1293.3 1235.9 1293.7M1368.9 1295.2Q1391.4 1295.1 1413.9 1294.8M1412.9 1294.8Q1426.9 1294.6 1441 1294.3M1440 1294.3Q1450.4 1294.1 1460.7 1293.9M1459.7 1293.9Q1489.7 1293.1 1519.6 1292M1518.6 1292Q1540 1291.2 1561.3 1290.2M1226.5 1300.4Q1247.6 1301.1 1268.6 1301.5M1267.6 1301.5Q1286 1301.9 1304.3 1302.1M1303.3 1302.1Q1314.4 1302.2 1325.4 1302.3M1324.4 1302.3Q1341.4 1302.4 1358.3 1302.4M1357.3 1302.4Q1379.2 1302.4 1401.1 1302.1M1459.5 1300.9Q1478.9 1300.4 1498.3 1299.7M1497.3 1299.7Q1513.8 1299.1 1530.3 1298.4M1153.1 1304.1Q1180.8 1305.6 1208.5 1306.7M1207.5 1306.7Q1237.7 1307.9 1267.8 1308.6M1324.5 1309.5Q1355 1309.7 1385.4 1309.4M1411 1309.1Q1438.9 1308.6 1466.8 1307.8M1465.8 1307.8Q1490.9 1307 1516.1 1305.9M1515.1 1305.9Q1522.7 1305.5 1530.3 1305.2M1529.3 1305.2Q1536.9 1304.8 1544.6 1304.5M1101.6 1307.3Q1118.7 1308.6 1135.7 1309.7M1134.7 1309.7Q1162 1311.4 1189.3 1312.8M1247.5 1315.2Q1277.6 1316.1 1307.8 1316.5M1411.7 1316.2Q1434.1 1315.8 1456.5 1315.2M1508.7 1313Q1528.8 1312.1 1548.9 1310.9M1091.7 1312.9Q1113.9 1314.8 1136.1 1316.3M1174.7 1318.9Q1187 1319.6 1199.3 1320.2M1198.3 1320.2Q1227 1321.6 1255.8 1322.5M1254.8 1322.5Q1273.5 1323 1292.3 1323.4M1390.2 1323.8Q1410.1 1323.5 1430 1323M1429 1323Q1449.7 1322.5 1470.5 1321.7M1469.5 1321.7Q1494.3 1320.8 1519.2 1319.4M1518.2 1319.4Q1528.5 1318.9 1538.8 1318.3M1537.8 1318.3Q1564.5 1316.7 1591.1 1314.6M1087.8 1318.9Q1108.7 1320.8 1129.6 1322.4M1128.6 1322.4Q1155.7 1324.5 1182.8 1326.1M1222.5 1328.3Q1236.1 1328.9 1249.8 1329.3M1293.9 1330.6Q1308.8 1330.9 1323.8 1331.1M1453.2 1329.4Q1481.2 1328.4 1509.3 1326.8M1535.6 1325.2Q1549 1324.3 1562.4 1323.4M1582.3 1321.8Q1608.7 1319.6 1635.1 1317M1194 1333.7Q1221.9 1335.3 1249.7 1336.4M1248.7 1336.4Q1267.6 1337.1 1286.5 1337.6M1285.5 1337.6Q1307.7 1338.1 1329.9 1338.3M1328.9 1338.3Q1341.9 1338.4 1355 1338.4M1354 1338.4Q1374.3 1338.4 1394.7 1338.1M1450.3 1336.5Q1474.5 1335.6 1498.8 1334.3M1182.2 1339.8Q1193.3 1340.5 1204.4 1341.2M1273 1344.4Q1281 1344.6 1289 1344.8M1564.2 1336.4Q1580.7 1335.1 1597.1 1333.5M1142.7 1343.5Q1153.6 1344.4 1164.5 1345.2M1163.5 1345.2Q1191.9 1347.5 1220.3 1349.1M1219.3 1349.1Q1232.4 1349.8 1245.5 1350.3M1307 1352.4Q1317.1 1352.6 1327.3 1352.7M1326.3 1352.7Q1345.6 1352.9 1364.9 1352.8M1363.9 1352.8Q1378.9 1352.7 1393.8 1352.4M1392.8 1352.4Q1418.3 1352 1443.8 1351M1467.5 1349.9Q1481.1 1349.2 1494.7 1348.4M1574.4 1342.1Q1602 1339.5 1629.6 1336.3M1198.2 1354.7Q1224.7 1356.5 1251.2 1357.7M1250.2 1357.7Q1263.9 1358.3 1277.6 1358.7M1304.7 1359.5Q1322.5 1359.9 1340.3 1360M1339.3 1360Q1349 1360 1358.8 1360M1410 1359.2Q1437.3 1358.5 1464.6 1357.1M1097.5 1351.7Q1122 1354.7 1146.5 1357M1145.5 1357Q1162.7 1358.7 1179.8 1360.1M1549.8 1357.7Q1560.3 1356.8 1570.8 1355.7M1569.8 1355.7Q1584.9 1354.2 1600.1 1352.4"/>
<path fill="none" stroke="#b9af2d" stroke-width="2.5" d="M1302.3 1259Q1313.7 1259.1 1325.2 1259.1M1164.8 1263.8Q1188.3 1264.4 1211.8 1264.9M1488 1265Q1517.6 1264.4 1547.2 1263.5M1579.4 1262.4Q1607.7 1261.5 1635.9 1260.3M1565.8 1270.1Q1582.3 1269.6 1598.7 1269M1158.3 1277.5Q1183.1 1278.3 1208 1279M1512.2 1278.5Q1524.4 1278.2 1536.7 1277.8M1461.1 1286.8Q1476.8 1286.4 1492.6 1286M1540.2 1284.4Q1559.8 1283.7 1579.4 1282.8M1234.9 1293.7Q1260.8 1294.3 1286.7 1294.7M1285.7 1294.7Q1305.2 1295 1324.8 1295.1M1323.8 1295.1Q1346.9 1295.3 1369.9 1295.2M1091.6 1293.9Q1109.8 1295 1128.1 1296M1111.7 1301.6Q1132.9 1303 1154.1 1304.1M1291.3 1323.4Q1316.7 1323.9 1342 1324M1322.8 1331.1Q1350.9 1331.3 1379 1331.1M1508.3 1326.8Q1522.5 1326.1 1536.6 1325.2M1561.4 1323.4Q1572.4 1322.6 1583.3 1321.8M1138.9 1329.8Q1150 1330.7 1161.2 1331.5M1393.7 1338.1Q1422.5 1337.6 1451.3 1336.5M1244.5 1350.3Q1268.4 1351.4 1292.3 1352M1291.3 1352Q1299.6 1352.2 1308 1352.4M1178.9 1353.2Q1189 1354 1199.2 1354.7M1463.6 1357.1Q1479.5 1356.3 1495.3 1355.3"/>
<path fill="none" stroke="#d77d19" stroke-width="2.5" d="M1477.1 1258Q1507.1 1257.4 1537 1256.6M1566.4 1255.7Q1589.8 1254.9 1613.2 1254M1107.4 1261.9Q1136.6 1262.9 1165.8 1263.8M1234.6 1265.4Q1248 1265.6 1261.4 1265.8M1386.2 1266.3Q1416.2 1266.2 1446.2 1265.7M1546.2 1263.5Q1563.3 1263 1580.4 1262.4M1146 1270.4Q1169 1271.1 1192 1271.6M1191 1271.6Q1220.8 1272.4 1250.7 1272.8M1407.8 1273.4Q1420.5 1273.3 1433.2 1273.1M1508.8 1271.7Q1537.8 1271 1566.8 1270.1M1125.6 1276.3Q1142.5 1276.9 1159.3 1277.5M1288 1280.4Q1311.2 1280.7 1334.5 1280.8M1535.7 1277.8Q1552.9 1277.2 1570.2 1276.6M1291.6 1287.6Q1303.6 1287.8 1315.6 1287.9M1314.6 1287.9Q1336.8 1288 1358.9 1288M1578.4 1282.8Q1597.4 1281.9 1616.4 1280.9M1117.5 1289Q1143.3 1290.3 1169.1 1291.4M1560.3 1290.2Q1590 1288.8 1619.8 1287.1M1173.6 1298.4Q1200.5 1299.6 1227.5 1300.4M1400.1 1302.1Q1430.3 1301.7 1460.5 1300.9M1384.4 1309.4Q1398.2 1309.3 1412 1309.1M1543.6 1304.5Q1572.6 1302.9 1601.5 1301M1188.3 1312.8Q1218.4 1314.2 1248.5 1315.2M1361.9 1316.8Q1387.3 1316.7 1412.7 1316.2M1455.5 1315.2Q1482.6 1314.3 1509.7 1313M1547.9 1310.9Q1569.9 1309.7 1591.8 1308.1M1135.1 1316.3Q1155.4 1317.7 1175.7 1318.9M1341 1324Q1366.1 1324.1 1391.2 1323.8M1248.8 1329.3Q1271.8 1330.2 1294.9 1330.6M1378 1331.1Q1389.5 1331 1401 1330.8M1400 1330.8Q1427.1 1330.3 1454.2 1329.4M1094.6 1325.9Q1117.2 1328.1 1139.9 1329.8M1160.2 1331.5Q1177.6 1332.7 1195 1333.7M1497.8 1334.3Q1524.2 1332.9 1550.7 1330.9M1085.5 1331.3Q1106.6 1333.5 1127.7 1335.4M1126.7 1335.4Q1134.4 1336.1 1142.2 1336.7M1141.2 1336.7Q1150 1337.4 1158.9 1338M1157.9 1338Q1170.5 1339 1183.2 1339.8M1203.4 1341.2Q1228.6 1342.7 1253.8 1343.6M1288 1344.8Q1311.9 1345.4 1335.8 1345.5M1378.8 1345.4Q1388.5 1345.3 1398.2 1345.2M1397.2 1345.2Q1410.5 1344.9 1423.8 1344.6M1422.8 1344.6Q1441 1344.1 1459.2 1343.3M1458.2 1343.3Q1484.1 1342.2 1510 1340.6M1509 1340.6Q1526.2 1339.5 1543.5 1338.2M1097.9 1339Q1120.8 1341.4 1143.7 1343.5M1550.6 1344.3Q1563 1343.2 1575.4 1342.1M1139.8 1349.8Q1159.8 1351.7 1179.9 1353.2M1276.6 1358.7Q1291.2 1359.2 1305.7 1359.5M1494.3 1355.3Q1519.2 1353.8 1544.1 1351.6M1529 1359.6Q1539.9 1358.7 1550.8 1357.7"/>
<path fill="none" stroke="#d7e14b" stroke-width="5.5" d="M1110.9 1258.4Q1135.6 1259.3 1160.4 1260M1264.1 1262.2Q1294.2 1262.6 1324.3 1262.7M1502.1 1261.1Q1515.7 1260.8 1529.2 1260.4M1205.7 1268.4Q1220.7 1268.7 1235.8 1269M1305.5 1298.5Q1323 1298.7 1340.6 1298.8M1292.7 1305.5Q1310.3 1305.8 1327.9 1305.9M1481.3 1303.6Q1496.5 1303.1 1511.7 1302.5M1133.9 1306Q1143.9 1306.7 1153.9 1307.2M1257.6 1311.9Q1270 1312.2 1282.3 1312.5M1168 1328.4Q1179.2 1329.2 1190.4 1329.8M1251.6 1340Q1269.7 1340.7 1287.7 1341.2M1324.8 1341.9Q1341.1 1342 1357.4 1342M1437.3 1340.5Q1453.9 1339.9 1470.4 1339.2M1561.2 1339.7Q1570.9 1338.9 1580.6 1338M1200.5 1358.1Q1220.7 1359.6 1240.9 1360.6M1330.6 1370.7Q1350.3 1370.9 1370 1370.7M1420.4 1369.6Q1433.6 1369.1 1446.8 1368.5M1300.4 1384.5Q1310.4 1384.8 1320.4 1384.9M1408.3 1384.3Q1427.4 1383.7 1446.5 1382.7M1576.3 1377.7Q1593 1375.6 1609.8 1373.1M1213.2 1400.8Q1234.7 1402.6 1256.2 1403.9M1222.7 1408.6Q1234.6 1409.5 1246.5 1410.3M1325.7 1413.8Q1351.3 1414.2 1376.8 1413.8M1569.7 1404.9Q1598.5 1400.7 1627.3 1395.4M1281.3 1426.7Q1293.5 1427.2 1305.6 1427.6M1504.7 1420.1Q1534.8 1416.8 1564.9 1412.4M1177.5 1424.5Q1195 1426.7 1212.6 1428.4M1358.9 1442.8Q1372.8 1442.7 1386.6 1442.4M1114.1 1428Q1132.4 1431.3 1150.7 1434.1M1370.5 1457.1Q1395.6 1456.7 1420.7 1455.3M1147.2 1453.7Q1170.8 1457.8 1194.4 1460.9M1463.1 1466.2Q1471.9 1465.4 1480.6 1464.5M1526.7 1465.2Q1555.2 1460.8 1583.7 1455.1M1125.9 1469.5Q1135.2 1471.3 1144.5 1473M1273 1490.3Q1295.9 1492 1318.7 1492.7M1208.5 1490.6Q1225.2 1492.8 1241.9 1494.5M1255.5 1496Q1283.4 1498.5 1311.4 1499.6M1453.9 1502.4Q1483.1 1499.5 1512.3 1495M1511.3 1495Q1539 1490.7 1566.6 1485M1565.6 1485Q1586.8 1480.6 1608 1475.4M1116.5 1487Q1136.4 1491.5 1156.2 1495.4M1510 1502.1Q1537.3 1497.8 1564.7 1492M1145.5 1500.1Q1169.3 1505 1193.2 1508.9M1159.7 1516.5Q1170.8 1518.7 1181.9 1520.6M1383.2 1535.8Q1412 1534.9 1440.8 1532.1M1315 1542.9Q1336.9 1543.7 1358.8 1543.6M1581.3 1514.2Q1605 1508.2 1628.8 1501.1M1251.6 1545.2Q1260.1 1546.1 1268.5 1546.8M1532.8 1532.1Q1541.7 1530.3 1550.6 1528.4M1267.2 1553.9Q1287.2 1555.8 1307.2 1556.8M1230.6 1563.6Q1250.9 1566.5 1271.2 1568.4M1432.7 1575.5Q1443 1574.5 1453.2 1573.3M1469 1578Q1498.9 1573.7 1528.8 1567.1M1148 1574.1Q1167.7 1579.2 1187.3 1583.3M1326.8 1600.8Q1351.4 1601.6 1376.1 1600.8M1571.3 1569.4Q1598.1 1561.8 1625 1552.3M1478.7 1597.5Q1495.3 1594.8 1512 1591.3M1278.9 1612Q1295 1613.6 1311.1 1614.4M1377.8 1615.1Q1406.7 1614.1 1435.6 1610.9M1131.9 1589.4Q1162 1598.4 1192 1605M1288 1627.2Q1302 1628.4 1315.9 1629.1M1099.6 1591.6Q1107.9 1594.4 1116.2 1597.1M1090.8 1594.7Q1119 1605.3 1147.2 1613.6M1251.1 1637.1Q1265.2 1639 1279.2 1640.5M1409 1642Q1425.5 1640.6 1442 1638.5M1494.3 1629.4Q1508.4 1626.5 1522.6 1623.1M1301.6 1649.8Q1322.1 1651.2 1342.7 1651.5M1377.4 1651.1Q1406.2 1650 1435 1646.5M1493.5 1636.5Q1505.5 1634.1 1517.6 1631.2"/>
<path fill="none" stroke="#a5c341" stroke-width="2.5" d="M1178.8 1360.1Q1205.7 1362.2 1232.5 1363.8M1460.4 1364.3Q1474.9 1363.6 1489.5 1362.7M1112.1 1366.4Q1128 1368.4 1143.9 1370.1M1104.2 1371.8Q1112.2 1372.9 1120.1 1373.8M1154.6 1378.1Q1182.4 1381 1210.2 1383.2M1303.4 1388.2Q1322.6 1388.7 1341.8 1388.8M1490.4 1383.4Q1519.2 1381.2 1548 1378.1M1162.5 1385.6Q1185.2 1388.1 1208 1389.9M1207 1389.9Q1225.4 1391.5 1243.9 1392.6M1262.2 1393.7Q1274.5 1394.3 1286.8 1394.8M1386 1402.8Q1414.8 1402.2 1443.6 1400.7M1158.2 1398.6Q1174.3 1400.5 1190.4 1402.1M1396.1 1409.8Q1414.5 1409.3 1432.9 1408.3M1151.9 1404.5Q1162.7 1405.9 1173.6 1407.1M1442.9 1421.9Q1463.6 1420.7 1484.4 1418.8M1531.1 1413.8Q1548.5 1411.7 1565.9 1409.2M1319 1431.6Q1343.7 1432.2 1368.4 1431.9M1367.4 1431.9Q1388.9 1431.7 1410.4 1430.8M1464.5 1427.5Q1488.4 1425.6 1512.3 1422.9M1537.8 1419.7Q1558.3 1417 1578.9 1413.8M1577.9 1413.8Q1597.1 1410.8 1616.3 1407.3M1120.8 1419.7Q1149.6 1424.5 1178.4 1428.1M1343 1439.2Q1372 1439.3 1401 1438.3M1106.6 1430.1Q1129.9 1434.5 1153.3 1438.1M1152.3 1438.1Q1169.8 1440.7 1187.3 1442.9M1287.4 1452Q1296.8 1452.5 1306.3 1452.8M1510.1 1443.7Q1537.6 1440.4 1565 1435.9M1555.4 1443.9Q1569.2 1441.8 1582.9 1439.3M1226.3 1461.5Q1252.3 1464.2 1278.4 1465.7M1354.8 1468Q1371 1467.9 1387.3 1467.5M1431.1 1472.5Q1460.8 1470.5 1490.6 1467M1213.9 1474.1Q1229 1475.8 1244.2 1477.2M1211.2 1480.7Q1233 1483.4 1254.8 1485.3M1516.7 1477.1Q1541.2 1473.5 1565.6 1468.9M1135.1 1475Q1143.1 1476.5 1151.1 1477.9M1150.1 1477.9Q1169.1 1481.4 1188 1484.2M1194.2 1492.1Q1214.4 1495.1 1234.6 1497.4M1427 1501.2Q1452.4 1499.4 1477.9 1496.4M1276.7 1508.5Q1302.7 1510.3 1328.7 1510.9M1551.5 1491.4Q1571.8 1487.5 1592.1 1482.8M1160.3 1500Q1182.4 1504.1 1204.5 1507.4M1342.7 1518.4Q1353.2 1518.4 1363.7 1518.3M1123.4 1498.7Q1142.7 1503.1 1162 1506.8M1161 1506.8Q1171.9 1508.9 1182.9 1510.7M1385.3 1525Q1403.2 1524.4 1421.1 1523.1M1420.1 1523.1Q1431.8 1522.3 1443.6 1521.3M1568.1 1501.2Q1586.4 1497.2 1604.6 1492.6M1314.5 1532.1Q1326.6 1532.5 1338.6 1532.7M1443.3 1528.3Q1454.3 1527.3 1465.4 1526M1522.2 1517.3Q1531.6 1515.7 1541 1513.9M1432.6 1536.4Q1451.9 1534.7 1471.3 1532.3M1502.3 1527.6Q1526.5 1523.7 1550.7 1518.6M1549.7 1518.6Q1569.6 1514.4 1589.4 1509.4M1177.5 1530.4Q1191.3 1533 1205.1 1535.2M1230.2 1539.1Q1248.5 1541.4 1266.8 1543.1M1333.4 1547Q1346.5 1547.3 1359.5 1547.2M1573.3 1519.8Q1599.1 1513.5 1624.8 1505.9M1244.8 1548Q1252.9 1548.9 1261.1 1549.7M1516.6 1538.8Q1535.4 1535.4 1554.2 1531.2M1288.8 1559.3Q1318.7 1561.5 1348.6 1561.6M1496.8 1549.3Q1512 1546.8 1527.2 1543.8M1526.2 1543.8Q1542.6 1540.6 1558.9 1536.8M1448.3 1563.2Q1475.1 1560.2 1501.9 1555.5M1573.1 1539.6Q1590.9 1535 1608.7 1529.7M1583.1 1543.4Q1601.6 1538.3 1620.1 1532.5M1471.7 1574.2Q1493.1 1571.1 1514.5 1566.9M1315.9 1589.6Q1330.3 1590.2 1344.6 1590.4M1441.4 1585.3Q1470.5 1582 1499.7 1576.7M1461.8 1589.7Q1485.2 1586.5 1508.6 1581.9M1487.5 1592.6Q1504.4 1589.7 1521.3 1586M1571.7 1572.9Q1581.5 1570.2 1591.3 1567.2M1200.9 1596.9Q1213.2 1599.2 1225.5 1601.2M1265.3 1607Q1281.5 1608.9 1297.7 1610M1118.3 1588.7Q1134.6 1593.8 1150.9 1598.2M1487.2 1613.5Q1499.7 1611.3 1512.1 1608.6M1148.7 1604.6Q1163.5 1608.7 1178.3 1612.2M1418.4 1630.4Q1426.4 1629.7 1434.4 1628.8M1478.7 1622.1Q1495.9 1619.1 1513.1 1615.3M1463.7 1631.7Q1474.1 1630.1 1484.5 1628.2M1483.5 1628.2Q1498.1 1625.5 1512.6 1622.3M1153.1 1619.2Q1161.3 1621.5 1169.4 1623.5M1168.4 1623.5Q1176.6 1625.6 1184.7 1627.4M1309 1646.7Q1322.7 1647.5 1336.4 1647.8M1351.7 1648Q1361 1648 1370.2 1647.8M1472.1 1637.3Q1483.1 1635.4 1494.1 1633.3M1544.9 1627.3Q1553.9 1624.8 1562.9 1622.1M1301.7 1660.5Q1327.7 1662.5 1353.6 1662.4M1352.6 1662.4Q1365.9 1662.4 1379.3 1661.8M1378.3 1661.8Q1403.3 1660.8 1428.3 1658M1454.4 1654.3Q1481 1650.3 1507.5 1644.1"/>
<path fill="none" stroke="#e15f19" stroke-width="2.5" d="M1231.5 1363.8Q1255.5 1365.1 1279.4 1365.9M1321.4 1367Q1335.4 1367.2 1349.4 1367.2M1348.4 1367.2Q1376.3 1367.2 1404.3 1366.5M1403.3 1366.5Q1424.8 1366 1446.4 1365.1M1445.4 1365.1Q1453.4 1364.7 1461.4 1364.3M1167.2 1365.8Q1197.4 1368.6 1227.5 1370.5M1226.5 1370.5Q1255.4 1372.3 1284.4 1373.2M1283.4 1373.2Q1303.7 1373.9 1323.9 1374.2M1348.5 1374.4Q1369 1374.4 1389.4 1374.1M1452 1371.8Q1466.8 1371.1 1481.6 1370.2M1505.7 1368.4Q1527.4 1366.7 1549.1 1364.6M1548.1 1364.6Q1576.1 1361.9 1604 1358.4M1315.9 1381.3Q1341.9 1381.7 1367.9 1381.5M1410.5 1380.7Q1421.7 1380.3 1432.9 1379.9M1542.8 1371.9Q1559.4 1370.2 1576 1368.3M1575 1368.3Q1596 1365.9 1617 1363M1119.1 1373.8Q1137.4 1376.1 1155.6 1378.1M1360.9 1388.8Q1373.1 1388.7 1385.3 1388.5M1384.3 1388.5Q1409.8 1388 1435.3 1386.9M1547 1378.1Q1568.2 1375.9 1589.4 1373.2M1109.7 1379Q1118.4 1380.2 1127 1381.3M1126 1381.3Q1144.7 1383.6 1163.5 1385.6M1285.8 1394.8Q1305.8 1395.5 1325.8 1395.8M1324.8 1395.8Q1341.3 1396 1357.8 1396M1404.1 1395.2Q1414.8 1394.9 1425.6 1394.4M1424.6 1394.4Q1440.8 1393.8 1457 1392.8M1477.4 1391.4Q1501.3 1389.7 1525.3 1387.3M1524.3 1387.3Q1547.6 1385 1570.9 1382.1M1108.1 1385.3Q1117.2 1386.5 1126.4 1387.7M1149 1390.8Q1175.9 1394 1202.8 1396.4M1242.4 1399.6Q1260.1 1400.7 1277.9 1401.5M1492.5 1397.1Q1500.7 1396.5 1508.9 1395.8M1552.7 1390.9Q1569.8 1388.9 1587 1386.5M1110.7 1392.1Q1134.9 1395.7 1159.2 1398.6M1230.4 1405.8Q1259 1407.9 1287.6 1409.1M1286.6 1409.1Q1300.9 1409.6 1315.2 1410M1431.9 1408.3Q1444.9 1407.7 1457.9 1406.9M1456.9 1406.9Q1477.7 1405.5 1498.5 1403.6M1097.8 1396.5Q1106 1397.8 1114.1 1399M1131.2 1401.7Q1142.1 1403.2 1152.9 1404.5M1172.6 1407.1Q1197.1 1409.9 1221.6 1412M1220.6 1412Q1244.5 1414 1268.3 1415.3M1366.4 1417.5Q1390.7 1417.3 1415.1 1416.3M1414.1 1416.3Q1436.8 1415.4 1459.5 1413.8M1536 1406.4Q1548.7 1404.9 1561.4 1403.2M1584.2 1399.8Q1600.5 1397.3 1616.8 1394.6M1097 1402.7Q1110.2 1404.9 1123.3 1406.9M1217.2 1418.7Q1233.6 1420.1 1250 1421.2M1249 1421.2Q1269.7 1422.6 1290.4 1423.5M1367.9 1424.7Q1383.5 1424.5 1399.1 1424.1M1398.1 1424.1Q1406.1 1423.8 1414.2 1423.5M1483.4 1418.8Q1507.7 1416.7 1532.1 1413.8M1564.9 1409.2Q1577.9 1407.4 1590.8 1405.4M1172.7 1420.7Q1183.9 1422.1 1195 1423.3M1194 1423.3Q1207.8 1424.7 1221.6 1426M1220.6 1426Q1239.3 1427.6 1257.9 1428.9M1286.3 1430.5Q1303.1 1431.3 1320 1431.6M1409.4 1430.8Q1437.5 1429.7 1465.5 1427.5M1177.4 1428.1Q1205.7 1431.7 1234 1434.1M1292.2 1437.9Q1318.1 1439 1344 1439.2M1445.3 1436Q1465.8 1434.6 1486.3 1432.6M1087.3 1420Q1111.6 1424.7 1135.9 1428.7M1206.7 1438.5Q1231.6 1441.2 1256.6 1442.9M1255.6 1442.9Q1278.8 1444.6 1302 1445.4M1186.3 1442.9Q1194.4 1443.9 1202.4 1444.8M1218.6 1446.7Q1234.4 1448.3 1250.2 1449.5M1347.7 1453.6Q1356.1 1453.6 1364.6 1453.5M1337.5 1460.7Q1359.3 1461 1381 1460.5M1394.4 1460Q1421.2 1459.1 1447.9 1457.1M1446.9 1457.1Q1466.9 1455.6 1486.9 1453.5M1485.9 1453.5Q1507.1 1451.2 1528.3 1448.3M1581.9 1439.3Q1611 1433.9 1640.1 1427.3M1166.5 1453.8Q1179 1455.6 1191.5 1457.2M1277.4 1465.7Q1294.5 1466.7 1311.6 1467.3M1386.3 1467.5Q1413.9 1466.7 1441.5 1464.7M1440.5 1464.7Q1454.7 1463.7 1468.8 1462.3M1467.8 1462.3Q1482.1 1461 1496.3 1459.3M1551.2 1451.3Q1562.9 1449.5 1574.6 1447.4M1573.6 1447.4Q1595.6 1443.4 1617.6 1438.6M1128 1453.8Q1138.8 1455.8 1149.6 1457.6M1280.6 1473.1Q1309.8 1474.8 1338.9 1475.1M1337.9 1475.1Q1359.3 1475.4 1380.8 1474.8M1379.8 1474.8Q1405.9 1474.2 1432.1 1472.5M1555.8 1457.2Q1573.4 1454.2 1591 1450.7M1079 1449.6Q1090.9 1452.4 1102.9 1454.9M1158.8 1466Q1186.8 1470.7 1214.9 1474.1M1262.7 1478.9Q1277.7 1480.1 1292.8 1480.8M1389.8 1481.7Q1399.7 1481.4 1409.5 1480.9M1408.5 1480.9Q1418 1480.5 1427.6 1479.9M1506.4 1471.8Q1531.4 1468.4 1556.4 1464M1555.4 1464Q1582.7 1459.1 1609.9 1453M1139 1469.1Q1146.7 1470.5 1154.5 1471.8M1153.5 1471.8Q1175.4 1475.7 1197.4 1478.7M1298.9 1488.4Q1314.6 1489.1 1330.3 1489.4M1458 1484.4Q1467.3 1483.6 1476.6 1482.6M1475.6 1482.6Q1484.6 1481.6 1493.6 1480.5M1492.6 1480.5Q1505.1 1479 1517.7 1477.1M1564.6 1468.9Q1582.1 1465.6 1599.7 1461.7M1115 1470.7Q1125.6 1472.9 1136.1 1475M1187 1484.2Q1200.8 1486.2 1214.6 1487.9M1213.6 1487.9Q1241.7 1491.5 1269.8 1493.6M1390.9 1496.1Q1407.3 1495.5 1423.8 1494.4M1422.8 1494.4Q1451 1492.6 1479.2 1489.3M1571.6 1474.1Q1594.9 1469.4 1618.2 1463.7M1092.8 1471.9Q1101 1473.8 1109.2 1475.6M1333.1 1503.8Q1356.5 1504.2 1379.9 1503.6M1476.9 1496.4Q1489.1 1495 1501.3 1493.3M1500.3 1493.3Q1518.8 1490.8 1537.3 1487.6M1567.8 1481.5Q1578.9 1479.3 1589.9 1476.9M1170.7 1495.1Q1200.7 1500.4 1230.7 1503.9M1441 1507.2Q1460 1505.6 1479 1503.3M1478 1503.3Q1497.5 1500.9 1516.9 1497.8M1515.9 1497.8Q1534.2 1495 1552.5 1491.4M1203.5 1507.4Q1212.1 1508.6 1220.7 1509.7M1236.5 1511.7Q1260.7 1514.5 1284.8 1516.1M1362.7 1518.3Q1388.5 1518 1414.3 1516.5M1413.3 1516.5Q1440.6 1514.8 1467.9 1511.6M1487 1509.1Q1513.5 1505.5 1540.1 1500.6M1539.1 1500.6Q1548.6 1498.9 1558.2 1497M1572.1 1493.8Q1594.5 1488.9 1616.9 1483M1181.9 1510.7Q1210.5 1515.7 1239.1 1519M1238.1 1519Q1247.2 1520 1256.3 1520.8M1321.3 1525.1Q1330.6 1525.4 1339.9 1525.5M1546.7 1505.8Q1557.9 1503.6 1569.1 1501.2M1104.6 1500.5Q1119.2 1504.2 1133.9 1507.5M1132.9 1507.5Q1152.2 1511.9 1171.6 1515.5M1170.6 1515.5Q1189 1518.9 1207.4 1521.7M1387.5 1532.1Q1415.9 1531 1444.3 1528.3M1464.4 1526Q1483.8 1523.7 1503.2 1520.7M1502.2 1520.7Q1512.7 1519.1 1523.2 1517.3M1540 1513.9Q1566.4 1508.7 1592.8 1502.1M1098.8 1505.4Q1125.3 1512.5 1151.7 1518.1M1150.7 1518.1Q1167 1521.6 1183.3 1524.5M1182.3 1524.5Q1190.4 1525.9 1198.5 1527.2M1265.8 1543.1Q1285.9 1545 1306 1546M1305 1546Q1319.7 1546.7 1334.4 1547M1498.2 1535.2Q1508.7 1533.6 1519.2 1531.7M1115.3 1522.8Q1144.5 1530.5 1173.8 1536.3M1172.8 1536.3Q1187.7 1539.2 1202.6 1541.7M1220.5 1544.7Q1233.1 1546.5 1245.8 1548M1396.3 1553.2Q1412 1552.5 1427.6 1551.2M1471.4 1546.2Q1483.4 1544.6 1495.4 1542.8M1553.2 1531.2Q1574.7 1526.4 1596.2 1520.6M1086.9 1521Q1099.1 1524.6 1111.3 1527.9M1110.3 1527.9Q1130.3 1533.3 1150.3 1537.9M1149.3 1537.9Q1177.5 1544.4 1205.7 1549.1M1466.5 1553.9Q1482.1 1551.9 1497.8 1549.3M1557.9 1536.8Q1575.8 1532.6 1593.6 1527.7M1112.7 1535Q1142.8 1543.4 1172.9 1549.7M1301 1567.3Q1311.7 1567.9 1322.3 1568.3M1400.5 1567.4Q1424.9 1566 1449.3 1563.2M1145.6 1550.4Q1155.7 1552.8 1165.8 1554.9M1164.8 1554.9Q1173.8 1556.8 1182.8 1558.6M1181.8 1558.6Q1196.3 1561.5 1210.8 1563.9M1209.8 1563.9Q1220.7 1565.6 1231.6 1567.2M1377.3 1575.6Q1396.2 1575 1415.1 1573.6M1430.1 1572.2Q1440.4 1571.3 1450.7 1570.1M1133.5 1553.9Q1147.7 1557.5 1161.9 1560.8M1160.9 1560.8Q1173.3 1563.6 1185.7 1566M1184.7 1566Q1214 1572 1243.4 1575.9M1242.4 1575.9Q1266 1579 1289.6 1580.8M1288.6 1580.8Q1311.4 1582.5 1334.2 1583M1151.6 1565.2Q1174.3 1570.8 1197 1575.2M1196 1575.2Q1205.6 1577 1215.2 1578.5M1214.2 1578.5Q1223.3 1580 1232.4 1581.3M1231.4 1581.3Q1249.7 1584 1268.1 1585.9M1267.1 1585.9Q1276 1586.8 1284.9 1587.5M1416.5 1587.7Q1429.4 1586.7 1442.4 1585.3M1161.5 1574.4Q1170 1576.4 1178.6 1578.2M1177.6 1578.2Q1191.9 1581.3 1206.2 1583.9M1402.4 1595.9Q1412.7 1595.3 1423 1594.4M1422 1594.4Q1442.4 1592.6 1462.8 1589.7M1507.6 1581.9Q1529.8 1577.5 1552.1 1571.9M1155.9 1579.7Q1184.7 1587 1213.4 1592.1M1335.3 1604.6Q1348.3 1604.9 1361.3 1604.7M1397.4 1603.4Q1426.3 1601.7 1455.2 1597.8M1454.2 1597.8Q1471.4 1595.6 1488.5 1592.6M1520.3 1586Q1529.9 1584 1539.4 1581.8M1224.5 1601.2Q1245.4 1604.7 1266.3 1607M1296.7 1610Q1325 1612 1353.3 1612M1352.3 1612Q1382.6 1612 1413 1609.5M1260.9 1613.6Q1281 1616 1301.1 1617.4M1532.3 1596.8Q1545.8 1593.6 1559.3 1590M1558.3 1590Q1584.8 1582.6 1611.2 1573.4M1149.9 1598.2Q1170.1 1603.7 1190.3 1608.2M1212.8 1613.1Q1233 1616.9 1253.1 1619.6M1345.7 1626.4Q1355.1 1626.4 1364.6 1626.3M1412.3 1623.8Q1428.3 1622.5 1444.3 1620.5M1443.3 1620.5Q1465.8 1617.7 1488.2 1613.5M1511.1 1608.6Q1532.6 1604 1554.1 1598.1M1577 1591Q1595.2 1585.4 1613.3 1579.1M1085.4 1583.6Q1099.1 1588.5 1112.8 1593M1177.3 1612.2Q1197 1616.9 1216.7 1620.6M1549.5 1605.8Q1559.9 1603 1570.4 1599.9M1569.4 1599.9Q1590.7 1593.5 1612.1 1585.8M1097.5 1594.4Q1112 1599.5 1126.5 1604.1M1166.5 1616.2Q1194.4 1623.5 1222.3 1628.6M1221.3 1628.6Q1243.7 1632.7 1266.2 1635.5M1279.3 1637.1Q1303.1 1639.5 1326.9 1640.3M1325.9 1640.3Q1344.3 1641 1362.8 1640.7M1361.8 1640.7Q1389.2 1640.3 1416.6 1637.8M1415.6 1637.8Q1440.1 1635.6 1464.7 1631.7M1183.7 1627.4Q1209.3 1633.6 1234.8 1637.9M1255.3 1641.2Q1282.6 1645 1310 1646.7M1369.2 1647.8Q1395.9 1647.1 1422.7 1644.4M1115.6 1613.8Q1146 1624.3 1176.4 1632.2M1200 1638.1Q1230 1644.8 1260.1 1648.9M1259.1 1648.9Q1282.6 1652 1306.1 1653.6M1305.1 1653.6Q1333.5 1655.5 1361.8 1655.1M1400.4 1653.4Q1418.7 1652.1 1437 1649.9M1436 1649.9Q1456.2 1647.4 1476.5 1643.7M1499.3 1638.9Q1507.7 1637.1 1516.1 1635.2M1515.1 1635.2Q1530.5 1631.6 1545.9 1627.3M1561.9 1622.1Q1589 1613.8 1616.2 1603.3M1126.8 1624.2Q1141.2 1628.9 1155.7 1633.1M1154.7 1633.1Q1165.3 1636.1 1175.9 1638.8M1174.9 1638.8Q1188 1642.2 1201.1 1645.1M1506.5 1644.1Q1519.4 1641.2 1532.2 1637.8M1548.2 1633Q1565.4 1628 1582.7 1622.1"/>
<path fill="none" stroke="#b9a52d" stroke-width="2.5" d="M1278.4 1365.9Q1300.4 1366.7 1322.4 1367M1116.5 1360.5Q1142.4 1363.5 1168.2 1365.8M1431.9 1379.9Q1441 1379.5 1450.1 1379.1M1488.9 1376.6Q1516.3 1374.6 1543.8 1371.9M1209.2 1383.2Q1226.9 1384.5 1244.5 1385.6M1340.8 1388.8Q1351.3 1388.8 1361.9 1388.8M1434.3 1386.9Q1462.8 1385.6 1491.4 1383.4M1242.9 1392.6Q1253 1393.2 1263.2 1393.7M1569.9 1382.1Q1588.9 1379.8 1607.9 1377M1125.4 1387.7Q1137.7 1389.3 1150 1390.8M1276.9 1401.5Q1307.3 1402.9 1337.6 1403.1M1336.6 1403.1Q1361.8 1403.4 1387 1402.8M1442.6 1400.7Q1468.1 1399.3 1493.5 1397.1M1507.9 1395.8Q1523 1394.4 1538.2 1392.7M1537.2 1392.7Q1545.4 1391.8 1553.7 1390.9M1314.2 1410Q1328.4 1410.3 1342.6 1410.4M1458.5 1413.8Q1469.3 1413.1 1480 1412.2M1177.2 1414.5Q1197.7 1416.8 1218.2 1418.7M1289.4 1423.5Q1315.4 1424.6 1341.4 1424.8M1340.4 1424.8Q1354.7 1424.9 1368.9 1424.7M1413.2 1423.5Q1428.6 1422.9 1443.9 1421.9M1511.3 1422.9Q1525.1 1421.4 1538.8 1419.7M1096.2 1415.4Q1109 1417.7 1121.8 1419.7M1233 1434.1Q1263.1 1436.6 1293.2 1437.9M1400 1438.3Q1423.1 1437.5 1446.3 1436M1485.3 1432.6Q1511.5 1430.1 1537.7 1426.6M1323.4 1446.1Q1347.8 1446.6 1372.2 1446.2M1428 1444.2Q1438.3 1443.6 1448.5 1442.9M1519.7 1435.6Q1541.7 1432.9 1563.7 1429.5M1201.4 1444.8Q1210.5 1445.8 1219.6 1446.7M1249.2 1449.5Q1261.6 1450.5 1274 1451.2M1273 1451.2Q1280.7 1451.6 1288.4 1452M1363.6 1453.5Q1380.5 1453.4 1397.5 1452.8M1441.5 1450.4Q1454.9 1449.5 1468.4 1448.3M1467.4 1448.3Q1489.3 1446.4 1511.1 1443.7M1564 1435.9Q1575.8 1434 1587.7 1431.9M1109.6 1437.2Q1135.5 1442.1 1161.3 1446.1M1216.3 1453.4Q1227.4 1454.6 1238.6 1455.6M1237.6 1455.6Q1264.8 1458 1292 1459.3M1291 1459.3Q1314.7 1460.5 1338.5 1460.7M1190.5 1457.2Q1208.9 1459.6 1227.3 1461.5M1204.2 1465.9Q1217.2 1467.5 1230.3 1468.8M1229.3 1468.8Q1255.4 1471.5 1281.6 1473.1M1101.9 1454.9Q1130.8 1461.2 1159.8 1466M1426.6 1479.9Q1448.9 1478.4 1471.1 1476.1M1491.5 1473.7Q1499.4 1472.8 1507.4 1471.8M1116.5 1464.5Q1128.2 1466.9 1140 1469.1M1253.8 1485.3Q1276.8 1487.3 1299.9 1488.4M1373.8 1489.4Q1392 1489 1410.2 1488.1M1478.2 1489.3Q1500.1 1486.7 1522 1483.3M1521 1483.3Q1546.8 1479.3 1572.6 1474.1M1108.2 1475.6Q1125.5 1479.5 1142.8 1482.9M1378.9 1503.6Q1403.4 1503 1428 1501.2M1327.7 1510.9Q1342 1511.2 1356.3 1511.2M1355.3 1511.2Q1384.3 1511.1 1413.4 1509.4M1219.7 1509.7Q1228.6 1510.8 1237.5 1511.7M1283.8 1516.1Q1296.3 1516.9 1308.7 1517.4M1307.7 1517.4Q1325.7 1518.2 1343.7 1518.4M1466.9 1511.6Q1477.4 1510.5 1488 1509.1M1557.2 1497Q1565.1 1495.4 1573.1 1493.8M1255.3 1520.8Q1269.5 1522.2 1283.7 1523.2M1282.7 1523.2Q1302.5 1524.5 1322.3 1525.1M1465.2 1518.9Q1478 1517.4 1490.8 1515.7M1275.8 1529.8Q1295.7 1531.3 1315.5 1532.1M1204.1 1535.2Q1217.7 1537.3 1231.2 1539.1M1415.1 1544.9Q1440.5 1543.2 1466 1540M1201.6 1541.7Q1211.5 1543.3 1221.5 1544.7M1260.1 1549.7Q1275.8 1551.3 1291.5 1552.3M1406.9 1559.8Q1422.7 1558.8 1438.5 1557.3M1437.5 1557.3Q1452.5 1555.8 1467.5 1553.9M1229.1 1559.9Q1239.2 1561.3 1249.2 1562.5M1248.2 1562.5Q1275.1 1565.7 1302 1567.3M1337.2 1568.7Q1345.2 1568.8 1353.1 1568.8M1538.9 1547.9Q1556.5 1544.1 1574.1 1539.6M1098.6 1537.3Q1122.6 1544.5 1146.6 1550.4M1230.6 1567.2Q1251.6 1570.2 1272.6 1572.2M1565.7 1548.1Q1574.9 1545.8 1584.1 1543.4M1283.9 1587.5Q1300.4 1588.9 1316.9 1589.6M1563.6 1561.9Q1590.7 1554.8 1617.8 1545.8M1278.7 1594.2Q1298.7 1596 1318.6 1596.9M1551.1 1571.9Q1572.1 1566.6 1593.2 1560.2M1107.4 1565.7Q1132.1 1573.5 1156.9 1579.7M1290.6 1602.4Q1313.4 1604.2 1336.3 1604.6M1538.4 1581.8Q1555.5 1577.7 1572.7 1572.9M1116.6 1575.1Q1144.6 1583.8 1172.6 1590.4M1490.4 1599Q1511.4 1595.2 1532.4 1590.3M1581.4 1576.5Q1594.6 1572.6 1607.8 1568.3M1092.5 1573.5Q1121.8 1583.7 1151.2 1591.6M1150.2 1591.6Q1164.8 1595.5 1179.4 1598.8M1178.4 1598.8Q1197 1603.1 1215.5 1606.4M1300.1 1617.4Q1317.6 1618.6 1335 1619M1334 1619Q1360.8 1619.6 1387.6 1618.3M1189.3 1608.2Q1201.6 1610.8 1213.8 1613.1M1296.2 1624.3Q1321.4 1626.2 1346.7 1626.4M1215.7 1620.6Q1237 1624.6 1258.3 1627.4M1125.5 1604.1Q1146.5 1610.8 1167.5 1616.2M1265.2 1635.5Q1272.7 1636.3 1280.3 1637.1M1511.6 1622.3Q1535.4 1616.9 1559.2 1610M1110.3 1605.5Q1132.2 1613 1154.1 1619.2M1421.7 1644.4Q1447.4 1641.8 1473.1 1637.3M1493.1 1633.3Q1521.3 1627.5 1549.5 1619.5M1200.1 1645.1Q1222.8 1650.2 1245.4 1653.7M1427.3 1658Q1441.4 1656.5 1455.4 1654.3"/>
<path fill="none" stroke="#eb370f" stroke-width="2.5" d="M1488.5 1362.7Q1509.2 1361.3 1530 1359.6M1322.9 1374.2Q1336.2 1374.4 1349.5 1374.4M1388.4 1374.1Q1408.7 1373.7 1428.9 1372.9M1427.9 1372.9Q1440.4 1372.4 1453 1371.8M1480.6 1370.2Q1493.7 1369.3 1506.7 1368.4M1142.9 1370.1Q1151.7 1371 1160.6 1371.8M1159.6 1371.8Q1184.5 1374.3 1209.4 1376.2M1208.4 1376.2Q1226.1 1377.5 1243.7 1378.5M1242.7 1378.5Q1266.6 1379.8 1290.5 1380.6M1289.5 1380.6Q1303.2 1381 1316.9 1381.3M1366.9 1381.5Q1389.2 1381.4 1411.5 1380.7M1449.1 1379.1Q1469.5 1378 1489.9 1376.6M1243.5 1385.6Q1274 1387.4 1304.4 1388.2M1356.8 1396Q1380.9 1395.9 1405.1 1395.2M1456 1392.8Q1467.2 1392.2 1478.4 1391.4M1201.8 1396.4Q1222.6 1398.3 1243.4 1399.6M1189.4 1402.1Q1210.4 1404.2 1231.4 1405.8M1341.6 1410.4Q1350.6 1410.4 1359.5 1410.4M1358.5 1410.4Q1369.6 1410.3 1380.8 1410.1M1379.8 1410.1Q1388.4 1410 1397.1 1409.8M1497.5 1403.6Q1526.9 1401 1556.2 1397.3M1555.2 1397.3Q1582.5 1393.8 1609.7 1389.5M1113.1 1399Q1122.7 1400.4 1132.2 1401.7M1267.3 1415.3Q1292.9 1416.7 1318.5 1417.2M1317.5 1417.2Q1342.4 1417.8 1367.4 1417.5M1479 1412.2Q1508 1409.8 1537 1406.4M1560.4 1403.2Q1572.8 1401.6 1585.2 1399.8M1122.3 1406.9Q1150.2 1411.2 1178.2 1414.5M1113.7 1412Q1124.6 1413.8 1135.5 1415.4M1134.5 1415.4Q1154.1 1418.3 1173.7 1420.7M1256.9 1428.9Q1272.1 1429.8 1287.3 1430.5M1536.7 1426.6Q1560.3 1423.5 1583.9 1419.5M1582.9 1419.5Q1609.1 1415.2 1635.3 1409.8M1134.9 1428.7Q1164.3 1433.4 1193.6 1436.9M1192.6 1436.9Q1200.1 1437.7 1207.7 1438.5M1301 1445.4Q1312.7 1445.9 1324.4 1446.1M1371.2 1446.2Q1400.1 1445.8 1429 1444.2M1447.5 1442.9Q1464.2 1441.7 1480.9 1440.1M1479.9 1440.1Q1500.3 1438.2 1520.7 1435.6M1562.7 1429.5Q1591.8 1424.9 1621 1419M1305.3 1452.8Q1327 1453.5 1348.7 1453.6M1396.5 1452.8Q1419.5 1452 1442.5 1450.4M1160.3 1446.1Q1188.8 1450.4 1217.3 1453.4M1380 1460.5Q1387.7 1460.3 1395.4 1460M1527.3 1448.3Q1541.9 1446.3 1556.4 1443.9M1112.7 1444.3Q1140.1 1449.6 1167.5 1453.8M1310.6 1467.3Q1333.2 1468.1 1355.8 1468M1495.3 1459.3Q1523.8 1456 1552.2 1451.3M1111.8 1450.6Q1120.4 1452.2 1129 1453.8M1148.6 1457.6Q1176.9 1462.4 1205.2 1465.9M1489.6 1467Q1503.3 1465.4 1517 1463.5M1516 1463.5Q1536.4 1460.7 1556.8 1457.2M1243.2 1477.2Q1253.5 1478.2 1263.7 1478.9M1291.8 1480.8Q1319 1482.2 1346.3 1482.4M1345.3 1482.4Q1368 1482.5 1390.8 1481.7M1470.1 1476.1Q1481.3 1475 1492.5 1473.7M1196.4 1478.7Q1204.3 1479.7 1212.2 1480.7M1329.3 1489.4Q1352.1 1489.8 1374.8 1489.4M1409.2 1488.1Q1434.1 1486.8 1459 1484.4M1268.8 1493.6Q1285.6 1494.9 1302.4 1495.6M1301.4 1495.6Q1322.3 1496.6 1343.3 1496.8M1342.3 1496.8Q1367.1 1497 1391.9 1496.1M1141.8 1482.9Q1168.5 1488.2 1195.2 1492.1M1233.6 1497.4Q1256.1 1499.8 1278.7 1501.4M1277.7 1501.4Q1305.9 1503.4 1334.1 1503.8M1536.3 1487.6Q1552.6 1484.8 1568.8 1481.5M1087.2 1476.8Q1104.4 1481.2 1121.5 1485M1120.5 1485Q1129.3 1486.8 1138.1 1488.6M1137.1 1488.6Q1154.4 1492.1 1171.7 1495.1M1229.7 1503.9Q1253.7 1506.7 1277.7 1508.5M1412.4 1509.4Q1427.2 1508.5 1442 1507.2M1086 1482.8Q1102.8 1487.2 1119.6 1491M1118.6 1491Q1139.9 1495.9 1161.3 1500M1099.1 1492.7Q1111.7 1495.8 1124.4 1498.7M1338.9 1525.5Q1354.5 1525.7 1370.1 1525.4M1489.8 1515.7Q1518.7 1511.6 1547.7 1505.8M1082.2 1494.4Q1093.9 1497.6 1105.6 1500.5M1206.4 1521.7Q1214.9 1522.9 1223.4 1524M1247 1527Q1261.9 1528.6 1276.8 1529.8M1225.4 1531.4Q1254 1535.2 1282.7 1537.4M1281.7 1537.4Q1298.9 1538.6 1316 1539.3M1376.1 1539.7Q1404.8 1538.9 1433.6 1536.4M1470.3 1532.3Q1486.8 1530.2 1503.3 1527.6M1105.9 1513.7Q1113.9 1515.8 1121.8 1517.7M1120.8 1517.7Q1149.7 1524.9 1178.5 1530.4M1465 1540Q1482.1 1537.9 1499.2 1535.2M1518.2 1531.7Q1546.3 1526.6 1574.3 1519.8M1338.5 1554.3Q1367.9 1554.7 1397.3 1553.2M1426.6 1551.2Q1449.5 1549.2 1472.4 1546.2M1494.4 1542.8Q1506 1540.9 1517.6 1538.8M1204.7 1549.1Q1217.6 1551.2 1230.4 1553M1258.7 1556.6Q1274.3 1558.2 1289.8 1559.3M1171.9 1549.7Q1201 1555.8 1230.1 1559.9M1321.3 1568.3Q1329.8 1568.6 1338.2 1568.7M1352.1 1568.8Q1376.8 1568.8 1401.5 1567.4M1500.9 1555.5Q1511.9 1553.6 1522.9 1551.5M1521.9 1551.5Q1530.9 1549.8 1539.9 1547.9M1449.7 1570.1Q1478.5 1566.7 1507.3 1561.4M1506.3 1561.4Q1536.5 1555.8 1566.7 1548.1M1104.9 1545.6Q1119.7 1550 1134.5 1553.9M1377.4 1582.8Q1393.1 1582.3 1408.8 1581.2M1424.7 1579.9Q1448.7 1577.7 1472.7 1574.2M1513.5 1566.9Q1543.6 1561 1573.7 1552.8M1572.7 1552.8Q1582.1 1550.4 1591.4 1547.8M1105.9 1552.4Q1129.3 1559.5 1152.6 1565.2M1343.6 1590.4Q1364.8 1590.6 1386 1589.7M1498.7 1576.7Q1509.5 1574.7 1520.4 1572.5M1519.4 1572.5Q1542 1567.8 1564.6 1561.9M1107.4 1559.3Q1134.9 1567.8 1162.5 1574.4M1205.2 1583.9Q1229 1588.2 1252.7 1591.2M1251.7 1591.2Q1265.7 1593 1279.7 1594.2M1360.3 1604.7Q1379.4 1604.5 1398.4 1603.4M1171.6 1590.4Q1186.7 1593.9 1201.9 1596.9M1460.2 1604.1Q1475.8 1601.8 1491.4 1599M1531.4 1590.3Q1556.9 1584.2 1582.4 1576.5M1214.5 1606.4Q1238.2 1610.8 1261.9 1613.6M1426.8 1615.3Q1456.7 1612.3 1486.7 1606.9M1252.1 1619.6Q1274.7 1622.6 1297.2 1624.3M1363.6 1626.3Q1388.5 1625.9 1413.3 1623.8M1553.1 1598.1Q1565.6 1594.7 1578 1591M1111.8 1593Q1130.7 1599.3 1149.7 1604.6M1257.3 1627.4Q1276.2 1629.8 1295.2 1631.3M1294.2 1631.3Q1315.8 1633 1337.5 1633.4M1336.5 1633.4Q1355.3 1633.8 1374.1 1633.3M1373.1 1633.3Q1396.3 1632.6 1419.4 1630.4M1512.1 1615.3Q1531.3 1611 1550.5 1605.8M1558.2 1610Q1580.5 1603.5 1602.9 1595.6M1335.4 1647.8Q1344 1648 1352.7 1648M1548.5 1619.5Q1572.8 1612.6 1597.1 1604.1M1175.4 1632.2Q1188.2 1635.4 1201 1638.1M1475.5 1643.7Q1487.9 1641.5 1500.3 1638.9M1095 1612.6Q1111.4 1618.8 1127.8 1624.2M1531.2 1637.8Q1540.2 1635.5 1549.2 1633M1581.7 1622.1Q1612.1 1611.7 1642.4 1598.6"/>
<path fill="none" stroke="#87ebe1" stroke-width="5.5" d="M1369 1370.7Q1395.2 1370.5 1421.4 1369.6M1447.9 1375.5Q1476.9 1374.1 1506 1371.7M1245.5 1382.1Q1260.6 1383 1275.8 1383.6M1319.4 1384.9Q1338.5 1385.2 1357.5 1385.2M1242.4 1389Q1269.9 1390.7 1297.3 1391.5M1351 1392.4Q1373.2 1392.4 1395.4 1391.9M1437.8 1397.3Q1458.9 1396.2 1479.9 1394.7M1255.2 1403.9Q1277.1 1405.2 1299.1 1405.9M1394.8 1413.4Q1408.1 1413 1421.4 1412.4M1233.3 1416.5Q1251.1 1417.8 1268.9 1418.8"/>
<path fill="none" stroke="#4b91eb" stroke-width="5.5" d="M1293.6 1513.1Q1314.8 1514.3 1336 1514.7M1335 1514.7Q1360.1 1515.1 1385.1 1514.3M1129.8 1516.3Q1155.9 1522.6 1182 1527.5M1392.4 1542.7Q1408.5 1541.9 1424.6 1540.7M1498.1 1545.5Q1505.7 1544.2 1513.4 1542.9M1533.8 1545.4Q1553.4 1541.3 1573.1 1536.2M1284.5 1569.7Q1311.3 1571.8 1338.1 1572.3M1500.8 1558.8Q1530.7 1553.5 1560.5 1546.1M1097.2 1539.6Q1125.7 1548.5 1154.2 1555.3M1394.9 1585.6Q1415 1584.5 1435 1582.5M1580.8 1560Q1608 1552.2 1635.2 1542.4M1186.3 1583.3Q1201.8 1586.6 1217.3 1589.2M1473.2 1591.4Q1488.6 1589 1504 1586.1M1503 1586.1Q1520 1582.8 1537 1578.8M1110.6 1576.1Q1136.3 1584.3 1161.9 1590.9M1466.1 1606.6Q1491.4 1602.7 1516.8 1597.1M1569 1589.8Q1581.2 1586.3 1593.4 1582.4M1337.5 1644.3Q1347 1644.4 1356.4 1644.4M1255.6 1644.8Q1279.1 1648.1 1302.6 1649.8"/>
<path fill="none" stroke="#7dd7eb" stroke-width="5.5" d="M1399.1 1513.6Q1406.7 1513.3 1414.2 1512.9M1285.4 1526.9Q1296.2 1527.6 1307 1528.1M1306 1528.1Q1334.1 1529.4 1362.2 1529.1M1446.2 1524.4Q1475.1 1521.5 1504.1 1517M1256 1531.5Q1280.1 1533.9 1304.1 1535.1M1354.6 1536.4Q1369.4 1536.3 1384.2 1535.8M1148.4 1527.4Q1169.2 1532.1 1190 1535.8M1164.5 1537.7Q1175 1539.9 1185.4 1541.8M1184.4 1541.8Q1203.6 1545.4 1222.8 1548.3M1382 1557.5Q1401.1 1556.8 1420.2 1555.3M1106.9 1529.7Q1135.5 1537.9 1164.2 1544.2M1409.6 1563.2Q1417.5 1562.7 1425.4 1562M1118 1539.4Q1135.7 1544.3 1153.3 1548.4M1270.2 1568.4Q1277.9 1569.1 1285.5 1569.7M1337.1 1572.3Q1348.2 1572.5 1359.3 1572.4M1358.3 1572.4Q1370.5 1572.3 1382.7 1571.8M1559.5 1546.1Q1585.5 1539.7 1611.4 1531.7M1247.8 1573Q1258.4 1574.3 1269 1575.3M1284.3 1584Q1295.1 1584.8 1305.9 1585.4M1434 1582.5Q1452 1580.6 1470 1578M1112.7 1557.3Q1137.3 1564.7 1161.9 1570.6M1529 1573.6Q1555.4 1567.7 1581.8 1560M1099.1 1565.8Q1122.6 1573.6 1146.2 1580M1237.7 1599.8Q1254.8 1602.3 1271.9 1604.1M1335.8 1608.2Q1360.4 1608.7 1385 1607.7M1384 1607.7Q1410.2 1606.6 1436.3 1603.7M1556.5 1580.2Q1572.3 1576 1588 1571.2M1219.5 1603.8Q1232.2 1605.9 1244.9 1607.7M1535.3 1592.5Q1555.5 1587.5 1575.8 1581.5M1191 1605Q1208.9 1608.8 1226.7 1611.8M1476.1 1612Q1501.2 1607.7 1526.3 1601.7M1155.7 1603Q1165.3 1605.5 1174.8 1607.7M1195.6 1612.9Q1219.6 1618 1243.5 1621.6M1540.3 1604.7Q1559.1 1599.8 1578 1594M1115.2 1597.1Q1136.3 1604.1 1157.4 1609.9M1253.6 1630.3Q1269 1632.4 1284.3 1633.9M1496.1 1622.1Q1507.8 1619.8 1519.5 1617M1309.4 1643.1Q1324 1644 1338.5 1644.3M1561.9 1611.9Q1592.4 1602.6 1622.9 1590.7M1103.7 1605.9Q1128 1614.7 1152.2 1621.8M1192.1 1632.7Q1216.9 1638.5 1241.7 1642.5M1276.6 1654.6Q1294.1 1656.5 1311.5 1657.5"/>
<path fill="none" stroke="#2d41c3" stroke-width="2.5" d="M1369.1 1525.4Q1377.7 1525.3 1386.3 1525M1442.6 1521.3Q1454.4 1520.2 1466.2 1518.9M1222.4 1524Q1235.2 1525.7 1248 1527M1337.6 1532.7Q1363 1533.1 1388.5 1532.1M1197.5 1527.2Q1212 1529.5 1226.4 1531.4M1315 1539.3Q1326.3 1539.7 1337.5 1539.9M1336.5 1539.9Q1356.8 1540.2 1377.1 1539.7M1358.5 1547.2Q1387.3 1546.9 1416.1 1544.9M1290.5 1552.3Q1315 1554 1339.5 1554.3M1229.4 1553Q1244.6 1555 1259.7 1556.6M1347.6 1561.6Q1377.8 1561.7 1407.9 1559.8M1271.6 1572.2Q1288.4 1573.7 1305.1 1574.7M1304.1 1574.7Q1314.8 1575.2 1325.6 1575.6M1324.6 1575.6Q1351.4 1576.4 1378.3 1575.6M1414.1 1573.6Q1422.6 1573 1431.1 1572.2M1333.2 1583Q1355.8 1583.5 1378.4 1582.8M1407.8 1581.2Q1416.8 1580.6 1425.7 1579.9M1385 1589.7Q1401.2 1589 1417.5 1587.7M1317.6 1596.9Q1343.6 1598 1369.7 1597.4M1368.7 1597.4Q1386 1597 1403.4 1595.9M1212.4 1592.1Q1238.1 1596.7 1263.7 1599.7M1262.7 1599.7Q1277.2 1601.3 1291.6 1602.4M1412 1609.5Q1436.6 1607.6 1461.2 1604.1M1386.6 1618.3Q1407.2 1617.4 1427.8 1615.3M1485.7 1606.9Q1509.5 1602.6 1533.3 1596.8M1433.4 1628.8Q1456.5 1626.2 1479.7 1622.1M1233.8 1637.9Q1245 1639.7 1256.3 1641.2M1360.8 1655.1Q1381.1 1654.8 1401.4 1653.4M1244.4 1653.7Q1273.6 1658.4 1302.7 1660.5"/>
<path fill="none" stroke="#af4b0f" stroke-width="1.2" stroke-opacity="0.75" d="M1138.8 1254.4Q1158 1255 1177.3 1255.5M1173.1 1262.6Q1197 1263.3 1220.8 1263.7M1219.8 1263.7Q1247.9 1264.3 1276.1 1264.6M1343.9 1265Q1358.6 1265 1373.3 1265M1538.7 1262.4Q1562.2 1261.7 1585.7 1260.9M1111.4 1267.9Q1133.6 1268.7 1155.9 1269.3M1154.9 1269.3Q1180.4 1270 1205.9 1270.6M1396 1272.1Q1422.7 1271.9 1449.4 1271.5M1478.9 1271Q1489.6 1270.8 1500.2 1270.6M1206.1 1277.6Q1220.5 1277.9 1234.8 1278.2M1278.6 1279Q1291.4 1279.1 1304.1 1279.2M1532.5 1276.5Q1552.4 1275.9 1572.4 1275.1M1573.9 1281.6Q1585.7 1281.1 1597.6 1280.5M1163.4 1289.8Q1176.1 1290.3 1188.7 1290.8M1187.7 1290.8Q1201.7 1291.3 1215.7 1291.7M1214.7 1291.7Q1239.5 1292.5 1264.3 1293M1373.2 1293.8Q1388.1 1293.7 1403.1 1293.5M1525.3 1290.4Q1540.1 1289.8 1555 1289.2M1283.9 1300.5Q1293.4 1300.6 1303 1300.7M1140.1 1302Q1163.6 1303.4 1187.1 1304.4M1204.4 1305.2Q1222.2 1305.9 1239.9 1306.5M1177.6 1310.9Q1196.1 1311.8 1214.7 1312.6M1397 1315.1Q1427.1 1314.7 1457.3 1313.8M1206.1 1319.2Q1225.2 1320.1 1244.2 1320.7M1377.9 1322.5Q1399.3 1322.3 1420.6 1321.9M1111.9 1319.7Q1132.7 1321.4 1153.4 1322.8M1230.4 1327.2Q1255 1328.3 1279.6 1328.9M1378.3 1329.7Q1402.3 1329.5 1426.3 1328.9M1454.3 1328Q1482.3 1326.9 1510.4 1325.4M1344.2 1337Q1373.1 1337.1 1402 1336.6M1401 1336.6Q1429.2 1336 1457.4 1334.9M1565.3 1328.3Q1582.5 1327 1599.8 1325.4M1084.9 1329.9Q1111.6 1332.7 1138.2 1335M1137.2 1335Q1156.9 1336.6 1176.7 1338M1310.3 1343.9Q1324.5 1344.1 1338.7 1344.2M1263.7 1349.8Q1284.6 1350.6 1305.5 1351M1333.1 1351.4Q1343.1 1351.4 1353.1 1351.4M1394.9 1351Q1421.6 1350.5 1448.4 1349.4M1509.8 1352.9Q1521 1352.1 1532.2 1351.3M1576.5 1347.1Q1594.2 1345.3 1611.9 1343.3M1159.2 1357Q1173.3 1358.2 1187.4 1359.3M1283.6 1364.7Q1310 1365.6 1336.4 1365.8M1195.2 1366.9Q1218.3 1368.7 1241.4 1369.9M1266.4 1385.4Q1289.5 1386.5 1312.6 1387M1495 1381.7Q1509.1 1380.6 1523.2 1379.3M1522.2 1379.3Q1540.4 1377.6 1558.6 1375.6M1413.5 1393.5Q1426.5 1393.1 1439.5 1392.4M1463.2 1398Q1487 1396.4 1510.8 1394.2M1500.1 1402Q1512.1 1400.9 1524.1 1399.7M1523.1 1399.7Q1545 1397.4 1566.9 1394.5M1502.3 1408.7Q1531.8 1405.9 1561.2 1401.9M1285.6 1429.1Q1305.3 1430 1325 1430.4M1324 1430.4Q1337.2 1430.6 1350.4 1430.6M1349.4 1430.6Q1375.6 1430.7 1401.9 1429.8M1471.7 1425.5Q1495.8 1423.5 1519.9 1420.7M1438.6 1435Q1466.1 1433.3 1493.5 1430.5M1231.5 1439.6Q1250.2 1441.3 1269 1442.4M1409.7 1443.7Q1438.9 1442.5 1468 1440M1467 1440Q1491.6 1437.8 1516.2 1434.8M1086.7 1424.8Q1108.9 1429.3 1131.2 1433.1M1130.2 1433.1Q1139.5 1434.6 1148.9 1436M1201.8 1443.5Q1230 1446.7 1258.2 1448.8M1257.2 1448.8Q1283.5 1450.7 1309.8 1451.5M1109.7 1435.8Q1134.7 1440.6 1159.6 1444.4M1158.6 1444.4Q1166.7 1445.6 1174.8 1446.7M1227.7 1453.3Q1237.5 1454.2 1247.3 1455M1306.1 1458.6Q1316.1 1459 1326.1 1459.2M1449.5 1455.5Q1463.1 1454.5 1476.7 1453.2M1191.9 1456Q1210.4 1458.4 1228.8 1460.3M1488.8 1458.7Q1508.3 1456.6 1527.9 1453.8M1081.5 1442.6Q1103.5 1447.6 1125.6 1451.8M1195.5 1463.4Q1213.7 1465.8 1231.9 1467.6M1314.6 1473.3Q1334.5 1473.9 1354.4 1473.8M1353.4 1473.8Q1367.4 1473.8 1381.4 1473.5M1448.4 1469.8Q1473 1467.8 1497.5 1464.8M1554.8 1456Q1566.6 1454.1 1578.4 1451.9M1577.4 1451.9Q1585.9 1450.3 1594.5 1448.6M1095.5 1452.1Q1107.8 1454.8 1120.1 1457.2M1325.1 1480.7Q1340.2 1481.1 1355.4 1481M1134.8 1466.9Q1147.7 1469.4 1160.5 1471.5M1212.3 1479.4Q1224.8 1481 1237.4 1482.2M1151.4 1476.8Q1176.2 1481.3 1201.1 1484.8M1200.1 1484.8Q1222.6 1487.9 1245.1 1490.1M1339.9 1495.4Q1363.3 1495.6 1386.7 1494.9M1385.7 1494.9Q1406.7 1494.2 1427.8 1492.8M1426.8 1492.8Q1444 1491.6 1461.2 1489.9M1093.6 1470.8Q1106.8 1473.9 1120 1476.7M1137.7 1480.7Q1164.3 1486.1 1190.8 1490.1M1189.8 1490.1Q1209.2 1493 1228.5 1495.3M1227.5 1495.3Q1240.8 1496.8 1254.2 1498M1308.6 1501.8Q1334.8 1502.8 1361 1502.6M1360 1502.6Q1367.5 1502.5 1375.1 1502.4M1450.2 1497.9Q1470.1 1496.1 1490.1 1493.5M1541.1 1485.3Q1556.2 1482.7 1571.3 1479.6M1299.3 1508.5Q1310.2 1509 1321 1509.3M1557.3 1488.9Q1579.5 1484.5 1601.7 1479.2M1258.8 1512.7Q1286.6 1515.3 1314.5 1516.3M1364.4 1516.9Q1394 1516.6 1423.7 1514.5M1422.7 1514.5Q1439.3 1513.3 1456 1511.6M1472.8 1509.6Q1489.8 1507.5 1506.8 1505M1534.3 1500.1Q1542.8 1498.6 1551.4 1497M1550.4 1497Q1580.4 1491 1610.5 1483.3M1096.7 1490.7Q1114.9 1495.3 1133.1 1499.3M1215 1514.6Q1231.5 1516.9 1247.9 1518.6M1246.9 1518.6Q1267.1 1520.7 1287.2 1522M1549.9 1503.8Q1565.2 1500.7 1580.5 1497.2M1092.2 1495.8Q1100.7 1498 1109.2 1500.1M1162.3 1512.5Q1170.7 1514.1 1179.2 1515.5M1236.5 1524.4Q1250.3 1526.1 1264.1 1527.3M1471.7 1523.7Q1483.5 1522.3 1495.3 1520.6M1108.8 1506.7Q1133.6 1513.1 1158.5 1518.2M1157.5 1518.2Q1183.6 1523.6 1209.6 1527.6M1375.5 1538.3Q1388.4 1538 1401.3 1537.3M1487.8 1535.5Q1501.4 1533.5 1515.1 1531.1M1257.7 1548.1Q1265.8 1548.9 1273.9 1549.5M1249.8 1554.3Q1269.2 1556.5 1288.6 1557.9M1104.6 1537.7Q1133.7 1546.3 1162.8 1552.9M1211.3 1562.8Q1224.3 1564.9 1237.3 1566.6M1256.2 1569.2Q1274.3 1571.2 1292.4 1572.5M1339.2 1574.5Q1363.2 1574.9 1387.2 1573.9M1489.9 1563Q1515.9 1558.7 1541.9 1552.8M1134 1552.6Q1152.7 1557.5 1171.5 1561.6M1170.5 1561.6Q1182.2 1564.1 1193.9 1566.3M1192.9 1566.3Q1220 1571.5 1247.1 1575M1246.1 1575Q1259.6 1576.7 1273.2 1578M1294.7 1579.9Q1319.5 1581.5 1344.2 1581.8M1479.6 1571.6Q1509.3 1567 1538.9 1560.3M1183.6 1571.3Q1192.5 1573 1201.3 1574.6M1254.4 1583.1Q1267.2 1584.6 1280 1585.7M1279 1585.7Q1304.9 1588.1 1330.8 1588.7M1329.8 1588.7Q1347.8 1589.2 1365.9 1588.9M1161.6 1573Q1184.9 1578.6 1208.3 1582.9M1164.5 1587.3Q1184.8 1592.2 1205.2 1596.2M1315.6 1609.8Q1334.7 1610.7 1353.8 1610.6M1462.5 1602.3Q1481.8 1599.5 1501.2 1595.8M1555.8 1582.6Q1579.7 1576.2 1603.7 1568.3M1180.3 1597.9Q1191.5 1600.4 1202.7 1602.6M1506.5 1601.4Q1518.3 1599 1530.1 1596.2M1201.4 1609.4Q1231.5 1615.6 1261.5 1619.3M1302.6 1623.4Q1316.4 1624.3 1330.1 1624.7M1354.8 1625Q1376.7 1624.9 1398.7 1623.5M1546.9 1598.4Q1574 1591.2 1601.2 1582M1121.7 1594.9Q1134.4 1598.9 1147.1 1602.4M1166.8 1608.2Q1190.4 1614.2 1214 1618.7M1393.1 1631Q1411.2 1630 1429.3 1628M1428.3 1628Q1443.6 1626.4 1458.8 1624.2M1148.1 1609.7Q1172.2 1616.6 1196.3 1621.9M1313.9 1638.4Q1334.5 1639.5 1355.1 1639.4M1111.7 1604.6Q1121.1 1607.7 1130.6 1610.6M1435.3 1641.4Q1458.1 1638.7 1480.9 1634.5M1186.6 1633.6Q1216.4 1640.8 1246.2 1645.4M1342.6 1653.8Q1360.6 1654 1378.5 1653.3M1578.2 1615.4Q1588.6 1612.1 1599 1608.5M1079.2 1604.9Q1108.1 1616.6 1137 1625.9M1157.8 1632.7Q1186.2 1640.8 1214.6 1646.7"/>
<path fill="none" stroke="#917d23" stroke-width="1.2" stroke-opacity="0.75" d="M1176.3 1255.5Q1184.4 1255.7 1192.6 1255.9M1530 1255.4Q1548.6 1254.9 1567.2 1254.3M1125.3 1261.2Q1149.7 1262 1174.1 1262.6M1372.3 1265Q1392.2 1264.9 1412.2 1264.8M1411.2 1264.8Q1431 1264.6 1450.7 1264.3M1449.7 1264.3Q1462.9 1264.1 1476 1263.9M1204.9 1270.6Q1218.5 1270.9 1232 1271.1M1337.3 1272.2Q1367.1 1272.3 1397 1272.1M1448.4 1271.5Q1464.2 1271.3 1479.9 1271M1499.2 1270.6Q1511.6 1270.3 1523.9 1270M1156.9 1276.1Q1182 1276.9 1207.1 1277.6M1303.1 1279.2Q1329.6 1279.4 1356.1 1279.4M1423 1279Q1444.8 1278.7 1466.7 1278.3M1571.4 1275.1Q1584.7 1274.6 1598 1274.1M1168.8 1283.3Q1196.8 1284.3 1224.8 1285M1223.8 1285Q1253.5 1285.7 1283.3 1286.2M1282.3 1286.2Q1309 1286.5 1335.7 1286.6M1334.7 1286.6Q1348.2 1286.6 1361.7 1286.6M1405.1 1286.3Q1415.4 1286.2 1425.7 1286.1M1263.3 1293Q1277.3 1293.2 1291.4 1293.4M1354.8 1293.8Q1364.5 1293.8 1374.2 1293.8M1440.5 1292.9Q1454.9 1292.6 1469.2 1292.3M1175.3 1297.1Q1190.3 1297.8 1205.2 1298.3M1204.2 1298.3Q1217.1 1298.8 1230 1299.1M1302 1300.7Q1325.4 1301 1348.8 1301M1564.5 1295.3Q1587.4 1294.1 1610.3 1292.6M1186.1 1304.4Q1195.8 1304.9 1205.4 1305.2M1290.9 1307.7Q1305.3 1308 1319.6 1308.1M1491.9 1305.5Q1499.6 1305.2 1507.2 1304.9M1534.5 1303.6Q1544.4 1303.1 1554.4 1302.5M1231.1 1313.2Q1242.8 1313.6 1254.5 1314M1253.5 1314Q1273.8 1314.6 1294.2 1314.9M1293.2 1314.9Q1305.8 1315.1 1318.5 1315.3M1456.3 1313.8Q1485.1 1312.9 1513.8 1311.5M1569.5 1308.2Q1598.8 1306.3 1628.1 1303.9M1108.4 1312.9Q1122 1314 1135.6 1314.9M1261.2 1321.3Q1280.5 1321.9 1299.9 1322.2M1319.7 1322.5Q1349.3 1322.8 1378.9 1322.5M1419.6 1321.9Q1429.4 1321.7 1439.2 1321.4M1088.8 1317.6Q1100.9 1318.7 1112.9 1319.7M1195.3 1325.5Q1213.4 1326.5 1231.4 1327.2M1326.6 1329.7Q1352.9 1329.9 1379.3 1329.7M1425.3 1328.9Q1440.3 1328.5 1455.3 1328M1509.4 1325.4Q1528.9 1324.3 1548.5 1323M1547.5 1323Q1569.8 1321.5 1592.2 1319.6M1113.6 1326.3Q1138.7 1328.5 1163.7 1330.3M1218.2 1340.7Q1238.7 1341.7 1259.1 1342.5M1367.4 1344.2Q1376.9 1344.1 1386.5 1344M1472.7 1341.2Q1499.4 1340 1526.1 1338.1M1559.6 1335.4Q1574.5 1334.2 1589.3 1332.9M1227.6 1348.1Q1246.1 1349.1 1264.7 1349.8M1304.5 1351Q1319.3 1351.2 1334.1 1351.4M1352.1 1351.4Q1374 1351.4 1395.9 1351M1147.6 1349.2Q1172.7 1351.5 1197.7 1353.2M1267.6 1357Q1285.7 1357.7 1303.9 1358.1M1349.7 1358.6Q1378.5 1358.7 1407.4 1357.9M1460 1355.9Q1485.4 1354.7 1510.8 1352.9M1087.2 1349.1Q1107.7 1351.6 1128.1 1353.8M1215.9 1361.4Q1242.1 1363.1 1268.2 1364.1M1423.3 1364.6Q1431.5 1364.3 1439.7 1364M1525.7 1358.5Q1538 1357.5 1550.2 1356.4M1096 1356.6Q1111.2 1358.5 1126.4 1360.1M1286.6 1372Q1313.9 1372.9 1341.3 1373M1340.3 1373Q1352.8 1373.1 1365.4 1373M1364.4 1373Q1381.2 1372.9 1398 1372.5M1461.9 1369.9Q1486.7 1368.6 1511.6 1366.6M1558.6 1362.2Q1574.4 1360.6 1590.3 1358.7M1112.8 1365.1Q1124.5 1366.6 1136.2 1367.8M1135.2 1367.8Q1146 1369 1156.8 1370.1M1261.8 1378.1Q1288.4 1379.3 1315.1 1379.9M1351.3 1380.2Q1373.3 1380.2 1395.4 1379.7M1394.4 1379.7Q1419.2 1379.2 1443.9 1378M1442.9 1378Q1455.3 1377.4 1467.7 1376.7M1466.7 1376.7Q1496.4 1374.9 1526 1372.2M1114.6 1371.9Q1143.1 1375.5 1171.6 1378.4M1170.6 1378.4Q1184.8 1379.7 1198.9 1380.9M1219.8 1382.6Q1243.6 1384.3 1267.4 1385.4M1311.6 1387Q1322.9 1387.2 1334.1 1387.3M1557.6 1375.6Q1586.3 1372.4 1615.1 1368.2M1258.1 1392.1Q1279.5 1393.2 1300.9 1393.9M1397.2 1394Q1405.8 1393.8 1414.5 1393.5M1537.6 1384.5Q1549.8 1383.3 1562 1381.8M1103.5 1383.2Q1117.2 1385.2 1131 1387M1130 1387Q1143.1 1388.7 1156.2 1390.2M1261.3 1399.4Q1280.4 1400.4 1299.5 1401M1298.5 1401Q1307.5 1401.3 1316.5 1401.4M1342.9 1401.8Q1362.7 1401.9 1382.5 1401.6M1398.5 1401.2Q1410.9 1400.8 1423.3 1400.3M1448.1 1399Q1456.2 1398.5 1464.2 1398M1090.7 1387.6Q1104 1389.7 1117.2 1391.6M1160.8 1397.6Q1182 1400.1 1203.3 1402M1202.3 1402Q1232.4 1404.8 1262.5 1406.5M1261.5 1406.5Q1284.8 1407.8 1308 1408.4M1129.1 1400Q1138.6 1401.3 1148 1402.5M1560.2 1401.9Q1586.6 1398.3 1613 1393.9M1403.9 1422.5Q1428.6 1421.6 1453.2 1420M1452.2 1420Q1475.5 1418.4 1498.8 1416.1M1100.2 1408.3Q1109 1409.8 1117.8 1411.2M1156.5 1417.2Q1176.4 1419.9 1196.3 1422M1400.9 1429.8Q1412.2 1429.4 1423.5 1428.8M1518.9 1420.7Q1546 1417.5 1573 1413.4M1087.7 1412.4Q1111.4 1416.9 1135.2 1420.6M1274.4 1435.7Q1285.7 1436.3 1297 1436.7M1325.4 1437.6Q1347.2 1438 1369 1437.7M1368 1437.7Q1378 1437.6 1388 1437.4M1549.4 1423.4Q1570.4 1420.5 1591.3 1416.9M1103.5 1421.8Q1124.7 1425.6 1145.8 1428.9M1159.5 1431.1Q1185.9 1434.9 1212.3 1437.6M1268 1442.4Q1294.8 1444.1 1321.5 1444.7M1350.9 1445Q1380.8 1445 1410.7 1443.7M1515.2 1434.8Q1528.6 1433.2 1542 1431.4M1308.8 1451.5Q1329.2 1452.2 1349.7 1452.2M1582.4 1431.3Q1611.5 1426.1 1640.7 1419.6M1271.2 1456.8Q1289.2 1458 1307.1 1458.6M1341.7 1459.4Q1351.1 1459.5 1360.6 1459.4M1475.7 1453.2Q1505.6 1450.2 1535.6 1445.8M1115.9 1443.5Q1126.9 1445.6 1137.8 1447.5M1227.8 1460.3Q1241.3 1461.6 1254.8 1462.7M1380.7 1466.3Q1410.1 1465.6 1439.4 1463.5M1526.9 1453.8Q1551.7 1450.2 1576.5 1445.7M1170.6 1459.8Q1183.6 1461.7 1196.5 1463.4M1230.9 1467.6Q1248.5 1469.4 1266 1470.6M1380.4 1473.5Q1396.6 1473.1 1412.9 1472.3M1119.1 1457.2Q1132.2 1459.8 1145.3 1462.1M1171.9 1466.8Q1201.3 1471.4 1230.7 1474.5M1272.7 1478.3Q1291.6 1479.6 1310.5 1480.3M1354.4 1481Q1380.2 1481 1406 1479.8M1443.7 1477.3Q1458.9 1476.1 1474.1 1474.5M1585 1456.9Q1610.7 1451.7 1636.3 1445.3M1173.5 1473.9Q1193.4 1477 1213.3 1479.4M1254 1483.9Q1274.5 1485.7 1295 1486.7M1330.3 1488Q1355.5 1488.5 1380.8 1487.9M1436.9 1484.9Q1447.7 1484.1 1458.4 1483.1M1457.4 1483.1Q1479.8 1481 1502.1 1478M1541.6 1471.7Q1560.3 1468.6 1579 1464.9M1119 1476.7Q1128.9 1478.8 1138.7 1480.7M1253.2 1498Q1274.2 1499.9 1295.3 1501.1M1294.3 1501.1Q1301.9 1501.5 1309.6 1501.8M1374.1 1502.4Q1386.3 1502.1 1398.5 1501.6M1397.5 1501.6Q1424.3 1500.4 1451.2 1497.9M1520 1489Q1531 1487.2 1542.1 1485.3M1080.7 1473.8Q1093.1 1476.9 1105.5 1479.8M1104.5 1479.8Q1121.3 1483.8 1138.1 1487.2M1137.1 1487.2Q1165.7 1493.2 1194.2 1497.5M1089.1 1482.3Q1116.1 1489.3 1143.1 1494.9M1142.1 1494.9Q1150.5 1496.6 1158.9 1498.1M1157.9 1498.1Q1180.5 1502.5 1203.2 1505.8M1132.1 1499.3Q1148.9 1503 1165.7 1506.2M1369.3 1524.1Q1397.1 1523.6 1424.9 1521.5M1514.7 1510.4Q1532.8 1507.4 1550.9 1503.8M1263.1 1527.3Q1282.7 1529.1 1302.2 1530.1M1352.3 1531.4Q1377 1531.4 1401.8 1530.1M1400.8 1530.1Q1425 1528.9 1449.2 1526.4M1494.3 1520.6Q1519 1516.9 1543.7 1512M1542.7 1512Q1561.7 1508.2 1580.7 1503.7M1208.6 1527.6Q1231.5 1531.1 1254.5 1533.4M1312.9 1537.8Q1322 1538.2 1331.2 1538.4M1459.4 1532.3Q1489.6 1528.8 1519.7 1523.4M1518.7 1523.4Q1544 1518.9 1569.4 1513M1568.4 1513Q1576.8 1511.1 1585.2 1509.1M1081.6 1505.4Q1099 1510.5 1116.5 1514.9M1115.5 1514.9Q1136.2 1520.2 1157 1524.6M1177.5 1529Q1186.9 1530.8 1196.3 1532.3M1209.5 1534.7Q1217.7 1535.9 1225.9 1537M1334.1 1545.7Q1364.5 1546.2 1394.9 1544.8M1433.2 1542.1Q1461 1539.6 1488.8 1535.5M1514.1 1531.1Q1524.6 1529.3 1535.2 1527.2M1137.6 1527.1Q1152.3 1530.5 1167 1533.5M1166 1533.5Q1173.7 1535 1181.4 1536.4M1272.9 1549.5Q1286.4 1550.7 1299.9 1551.5M1298.9 1551.5Q1326.8 1553.1 1354.7 1553M1455.8 1546.8Q1480.8 1543.9 1505.8 1539.6M1504.8 1539.6Q1521.9 1536.7 1538.9 1533.2M1537.9 1533.2Q1563.9 1527.8 1589.8 1520.9M1113.9 1527.5Q1128.6 1531.4 1143.3 1534.9M1405.7 1558.5Q1420 1557.6 1434.4 1556.3M1521 1543.5Q1544.5 1538.9 1568 1533.2M1567 1533.2Q1584.6 1528.9 1602.2 1523.9M1148.5 1543Q1175.7 1549.5 1202.9 1554.2M1332.9 1567.2Q1359.7 1567.8 1386.5 1566.7M1385.5 1566.7Q1410.3 1565.7 1435.1 1563.4M1434.1 1563.4Q1462.4 1560.6 1490.8 1556M1236.3 1566.6Q1246.7 1568 1257.2 1569.2M1440.4 1569.8Q1465.7 1567.1 1490.9 1563M1540.9 1552.8Q1558.9 1548.8 1576.8 1544M1272.2 1578Q1284 1579.1 1295.7 1579.9M1425.7 1578.4Q1437.6 1577.4 1449.4 1576M1537.9 1560.3Q1564.1 1554.3 1590.3 1546.8M1088.8 1545.5Q1107.1 1551.4 1125.5 1556.5M1124.5 1556.5Q1154.5 1565 1184.6 1571.3M1200.3 1574.6Q1209.1 1576.2 1217.9 1577.6M1364.9 1588.9Q1378.4 1588.7 1391.8 1588M1390.8 1588Q1402.6 1587.5 1414.4 1586.6M1511.1 1572.9Q1531.7 1568.8 1552.3 1563.8M1103.5 1556.7Q1133 1566 1162.6 1573M1239.1 1588.1Q1257.9 1590.8 1276.8 1592.6M1510.6 1579.9Q1518.9 1578.3 1527.1 1576.5M1577.3 1563.3Q1601 1556.5 1624.8 1548.4M1115.5 1566.9Q1125.6 1569.9 1135.6 1572.6M1181.4 1584.5Q1207.3 1590.1 1233.1 1594.1M1265.1 1598.6Q1284.9 1600.7 1304.7 1601.9M1405.4 1601.5Q1414.2 1600.9 1423 1600.1M1540.9 1579.8Q1550.8 1577.5 1560.6 1574.9M1155.2 1591.6Q1168.2 1595 1181.3 1597.9M1240.4 1609.5Q1255.6 1611.7 1270.7 1613.3M1359.9 1617.8Q1372.4 1617.6 1384.9 1617.1M1529.1 1596.2Q1536.9 1594.5 1544.6 1592.6M1121.1 1588.2Q1145.1 1595.7 1169 1601.7M1168 1601.7Q1185.2 1606 1202.4 1609.4M1438.1 1619.8Q1447.9 1618.7 1457.7 1617.3M1456.7 1617.3Q1482.1 1613.7 1507.6 1608.3M1506.6 1608.3Q1527.2 1603.9 1547.9 1598.4M1255.4 1625.7Q1272.6 1628 1289.7 1629.5M1457.8 1624.2Q1478.7 1621.1 1499.5 1616.9M1559.7 1601.5Q1574.6 1597.3 1589.4 1592.4M1226 1628.1Q1246.4 1631.7 1266.9 1634.2M1391.4 1638.3Q1421.1 1636.6 1450.8 1632.4M1449.8 1632.4Q1463.6 1630.5 1477.5 1628.1M1476.5 1628.1Q1503 1623.4 1529.4 1616.8M1528.4 1616.8Q1546 1612.5 1563.5 1607.3M1082.5 1593.7Q1097.6 1599.4 1112.7 1604.6M1155.7 1618.6Q1181 1625.7 1206.3 1631M1265.5 1641.2Q1284.8 1643.6 1304.1 1644.9M1323.1 1646.1Q1344.9 1646.9 1366.7 1646.5M1410.3 1644.1Q1423.3 1643 1436.3 1641.4M1479.9 1634.5Q1490.4 1632.6 1500.9 1630.4M1290.2 1651.1Q1316.9 1653.4 1343.6 1653.8M1377.5 1653.3Q1387.1 1653 1396.7 1652.4M1422.3 1650.1Q1444 1647.8 1465.6 1644.2M1464.6 1644.2Q1483.3 1641.2 1501.9 1637.1M1213.6 1646.7Q1236.1 1651.3 1258.6 1654.4M1342.2 1661Q1372.5 1661.4 1402.8 1659.1M1554.9 1629.6Q1581.4 1621.6 1607.9 1611.5"/>
<path fill="none" stroke="#69872d" stroke-width="1.2" stroke-opacity="0.75" d="M1503.1 1256.1Q1517 1255.8 1531 1255.4M1115 1274.5Q1136.5 1275.4 1157.9 1276.1M1355.1 1279.4Q1371.4 1279.4 1387.7 1279.3M1424.7 1286.1Q1443.5 1285.8 1462.3 1285.4M1482 1284.9Q1509.3 1284.2 1536.6 1283.2M1111.4 1287.3Q1137.9 1288.7 1164.4 1289.8M1402.1 1293.5Q1421.8 1293.3 1441.5 1292.9M1347.8 1301Q1377.8 1301.1 1407.8 1300.6M1538 1296.6Q1551.7 1296 1565.5 1295.3M1471.9 1306.2Q1482.4 1305.9 1492.9 1305.5M1570.2 1301.6Q1599 1299.8 1627.9 1297.7M1243.2 1320.7Q1252.7 1321 1262.2 1321.3M1438.2 1321.4Q1459.3 1320.8 1480.4 1319.9M1573.1 1314.5Q1593.6 1313.1 1614.1 1311.4M1262 1335.5Q1281.4 1336.2 1300.7 1336.5M1258.1 1342.5Q1284.7 1343.5 1311.3 1343.9M1415.4 1343.4Q1435.7 1342.9 1456 1342.1M1525.1 1338.1Q1542.9 1336.9 1560.6 1335.4M1119.1 1339.8Q1140.5 1341.9 1162 1343.7M1546.7 1343.2Q1568.3 1341.4 1590 1339.3M1097.5 1344Q1110.8 1345.5 1124.2 1346.8M1186.4 1359.3Q1201.7 1360.5 1216.9 1361.4M1549.2 1356.4Q1579.2 1353.6 1609.2 1350M1125.4 1360.1Q1137.7 1361.5 1149.9 1362.7M1427.3 1371.6Q1445.1 1370.9 1462.9 1369.9M1510.6 1366.6Q1535.1 1364.7 1559.6 1362.2M1094.2 1362.7Q1104 1364 1113.8 1365.1M1187.9 1373.1Q1212.8 1375.3 1237.8 1376.8M1548.2 1369.9Q1561.4 1368.6 1574.7 1367.1M1573.7 1367.1Q1590.3 1365.2 1606.9 1363M1333.1 1387.3Q1343 1387.4 1353 1387.4M1352 1387.4Q1375.3 1387.4 1398.7 1386.8M1397.7 1386.8Q1420.6 1386.3 1443.4 1385.1M1187.5 1386.8Q1198.6 1387.8 1209.7 1388.7M1299.9 1393.9Q1308.9 1394.1 1317.9 1394.3M1236 1397.8Q1249.2 1398.7 1262.3 1399.4M1315.5 1401.4Q1329.7 1401.7 1343.9 1401.8M1116.2 1391.6Q1139 1394.9 1161.8 1397.6M1330.1 1416.1Q1342.4 1416.2 1354.8 1416.2M1451.3 1412.9Q1477.3 1411.3 1503.3 1408.7M1110.6 1403.7Q1134.2 1407.5 1157.7 1410.5M1133.7 1413.9Q1145.6 1415.6 1157.5 1417.2M1195.3 1422Q1217.9 1424.5 1240.5 1426.2M1192 1428.5Q1211.4 1430.7 1230.8 1432.4M1348.7 1452.2Q1359.4 1452.3 1370.2 1452.1M1369.2 1452.1Q1399.6 1451.7 1430.1 1449.9M1477.5 1446Q1501.5 1443.7 1525.4 1440.5M1524.4 1440.5Q1546.2 1437.6 1568 1434M1246.3 1455Q1259.2 1456 1272.2 1456.8M1136.8 1447.5Q1152.7 1450.2 1168.6 1452.6M1265 1470.6Q1290.3 1472.5 1315.6 1473.3M1411.9 1472.3Q1430.6 1471.3 1449.4 1469.8M1144.3 1462.1Q1158.6 1464.6 1172.9 1466.8M1250.1 1476.5Q1261.9 1477.5 1273.7 1478.3M1309.5 1480.3Q1317.8 1480.5 1326.1 1480.7M1540 1465.3Q1563 1461.5 1586 1456.9M1082.4 1455.4Q1109.1 1461.8 1135.8 1466.9M1520.3 1475.2Q1531.5 1473.6 1542.6 1471.7M1578 1464.9Q1588.2 1462.8 1598.4 1460.7M1498.6 1485.3Q1528.3 1481.3 1557.9 1475.6M1489.1 1493.5Q1505.1 1491.5 1521 1489M1472.9 1502.5Q1495.4 1499.9 1517.9 1496.3M1313.5 1516.3Q1339.5 1517.3 1365.4 1516.9M1301.2 1530.1Q1327.3 1531.5 1353.3 1531.4M1534.2 1527.2Q1549 1524.3 1563.8 1520.9M1095.6 1522.3Q1105.3 1525 1114.9 1527.5M1332.1 1560Q1347.4 1560.3 1362.7 1560.2M1265.4 1563.1Q1278.5 1564.3 1291.6 1565.2M1448.4 1576Q1464.5 1574.1 1480.6 1571.6M1447.6 1583.2Q1455.6 1582.3 1463.5 1581.2M1318.1 1595.5Q1344.3 1596.6 1370.5 1596M1134.6 1572.6Q1158.5 1579.3 1182.4 1584.5M1559.6 1574.9Q1584.2 1568.3 1608.8 1560.2M1204.2 1596.2Q1212 1597.6 1219.9 1598.9M1400.1 1616.2Q1413.2 1615.4 1426.3 1614.1M1543.6 1592.6Q1570 1585.8 1596.3 1577.2M1100.1 1581.2Q1111.1 1584.9 1122.1 1588.2M1288.7 1629.5Q1314.9 1631.7 1341.2 1632.1M1105.2 1595.8Q1127.1 1603.4 1149.1 1609.7M1287.5 1636.5Q1301.2 1637.7 1314.9 1638.4M1562.5 1607.3Q1587.6 1599.8 1612.6 1590.6M1386.3 1645.7Q1398.8 1645.1 1411.3 1644.1M1576.5 1609.4Q1592.8 1604.2 1609.1 1598.3M1114.1 1611.9Q1139.6 1620.8 1165.1 1627.7M1513.2 1641.2Q1534.5 1636 1555.9 1629.6"/>
</g></g>
<rect x="145.7" y="717.7" width="69.7" height="246.5" fill="#f9c796" stroke="#707070" stroke-width="1.3"/>
<rect x="260.9" y="810.4" width="70" height="153.8" fill="#9ed89c" stroke="#707070" stroke-width="1.3"/>
<rect x="110.5" y="629.9" width="255.3" height="334.3" fill="none" stroke="#4d4d4d" stroke-width="1.6"/>
<path d="M103 964.2h7.5M358.3 964.2h7.5M103 922.4h7.5M358.3 922.4h7.5M103 880.6h7.5M358.3 880.6h7.5M103 838.8h7.5M358.3 838.8h7.5M103 797h7.5M358.3 797h7.5M103 755.3h7.5M358.3 755.3h7.5M103 713.5h7.5M358.3 713.5h7.5M103 671.7h7.5M358.3 671.7h7.5M103 629.9h7.5M358.3 629.9h7.5M106.5 943.3h4M361.8 943.3h4M106.5 901.5h4M361.8 901.5h4M106.5 859.7h4M361.8 859.7h4M106.5 817.9h4M361.8 817.9h4M106.5 776.2h4M361.8 776.2h4M106.5 734.4h4M361.8 734.4h4M106.5 692.6h4M361.8 692.6h4M106.5 650.8h4M361.8 650.8h4M180.6 964.2v7.5M180.6 629.9v7.5M297.3 964.2v7.5M297.3 629.9v7.5M238.9 964.2v4M238.9 629.9v4" stroke="#4d4d4d" stroke-width="1.4" fill="none"/>
<path d="M180.6 673.1V761.9M175.6 673.1h10M175.6 761.9h10" stroke="#666" stroke-width="1.3" fill="none"/>
<path d="M297.3 793.3V827.9M292.3 793.3h10M292.3 827.9h10" stroke="#666" stroke-width="1.3" fill="none"/>
<text x="93.5" y="974.8" font-size="29" text-anchor="end" fill="#000">0</text>
<text x="93.5" y="891.2" font-size="29" text-anchor="end" fill="#000">40</text>
<text x="93.5" y="807.6" font-size="29" text-anchor="end" fill="#000">80</text>
<text x="93.5" y="724.1" font-size="29" text-anchor="end" fill="#000">120</text>
<text x="93.5" y="640.5" font-size="29" text-anchor="end" fill="#000">160</text>
<text x="45.8" y="789" font-size="31.5" text-anchor="middle" fill="#000" transform="rotate(-90 45.8 789)" textLength="317.5" lengthAdjust="spacingAndGlyphs">Surface roughness/nm</text>
<text x="177.4" y="709.9" font-size="29" text-anchor="middle" fill="#e50012">118 nm</text>
<text x="294.7" y="788.3" font-size="29" text-anchor="middle" fill="#e50012">73.6 nm</text>
<text x="180.6" y="1000.3" font-size="29" text-anchor="middle" fill="#000">1</text>
<text x="297.3" y="1000.3" font-size="29" text-anchor="middle" fill="#000">2</text>
<text x="242.8" y="1027.4" font-size="29" text-anchor="middle" fill="#000">Experiments</text>
<rect x="110.5" y="1038.9" width="254.4" height="74.7" fill="#fff" stroke="#555" stroke-width="1.3"/>
<rect x="130.8" y="1050.1" width="46.7" height="22.5" fill="#f9c796" stroke="#666" stroke-width="1.3"/>
<text x="188.4" y="1073.5" font-size="29" text-anchor="start" fill="#000">Unadjusted</text>
<rect x="130.8" y="1082.8" width="46.7" height="22.5" fill="#9ed89c" stroke="#666" stroke-width="1.3"/>
<text x="188.4" y="1105.3" font-size="29" text-anchor="start" fill="#000">Adjusted</text>
<path d="M484.3 731.1H1193.2M484.3 780H1193.2M484.3 828.9H1193.2M484.3 877.8H1193.2M484.3 926.7H1193.2M484.3 975.6H1193.2" stroke="#a8a8a8" stroke-width="1.1" stroke-dasharray="3.2 2.8" fill="none"/>
<clipPath id="cpa"><rect x="481.3" y="681.8" width="711.9" height="317.8"/></clipPath>
<g clip-path="url(#cpa)" fill="none" stroke-linejoin="round">
<path d="M481.6 781.2 483.4 784.1 485.1 786.5 486.9 792.3 488.7 797.2 490.5 800.5 492.3 802.6 494.1 800.7 495.9 797.2 497.7 790.1 499.4 790.5 501.2 790.1 503.9 797.2 504.8 811.5 506.6 850.9 509.3 886.6 512 922.4 514.6 929.5 517.3 908.1 519.1 902.6 520.9 895.5 523.6 874.1 526.3 856.2 528 834.8 529.8 815.1 532.5 788.3 534.3 779.4 536.1 788.3 537.9 850.9 539.7 968.8 540.6 958.1 542.3 936.6 544.1 935.7 545.9 934.9 548.6 886.6 550.8 874 553.1 859.8 554.9 848.4 556.6 836.6 558.4 811.5 561.1 804.4 563.3 806 565.6 806.2 568.3 800.8 570.9 801.7 572.7 799.4 574.5 798.5 576.3 796.6 578.1 795.5 579.9 796.4 581.7 797.4 583.5 797.3 585.2 799 587 803 588.8 808 590.6 808.5 592.4 810.5 594.2 811.1 596 811.5 597.7 811.8 599.5 813.9 601.3 813.6 603.1 815.1 604.9 816.2 606.7 816.2 608.5 816.9 610.3 818.7 612 817.6 613.8 814.6 615.6 813.3 617.4 814.2 619.2 816.9 621 818 622.8 818.7 624.6 797.2 626.3 772.7 628.1 749 629.9 742.7 631.7 752.6 633.5 779.4 635.3 815.1 637.1 847.3 638.9 853.5 640.6 858 642.9 854.5 645.1 850.9 647.8 833 649.6 815.4 651.4 797.2 654.1 765.1 655.8 757.9 657.6 772.2 660.3 777.6 662.1 786 663.9 795.5 665.7 798.9 667.5 800.8 669.2 806.5 671 811.5 672.8 817.7 674.6 822.3 676.4 828.3 678.2 833 680 834.4 681.8 836.6 683.5 833.6 685.3 831.2 687.1 827.9 688.9 825.8 691.6 822.3 693.8 824.3 696.1 827.6 697.8 825.1 699.6 823.7 701.4 822.3 703.2 824.2 705 825.8 706.8 830.3 708.6 836.6 710.4 833.9 712.1 830.3 713.9 827.6 715.9 831.2 718.6 841.9 720.4 845.2 722.1 849.6 723.9 852.6 725.7 857.1 727.5 861.6 729.3 870.2 731.1 879.4 732.9 888.4 734.7 884 736.4 878.1 738.2 874.1 740 877.9 741.8 879.2 743.6 883 745.4 887.9 747.2 892 749 912.2 750.7 931.3 752.5 917.3 754.3 905.6 756.1 892 758.8 892 760.6 907.2 762.4 923.1 764.2 938.4 765.9 926.8 767.7 917 769.5 918.9 771.3 922.4 773.5 936.1 775.8 950.9 777.3 941.5 778.9 929.8 780.5 920.6 782 909.8 783.6 918.7 785.2 926.7 786.7 933.7 788.3 942 790.1 927.5 791.9 913.5 793.6 899.6 795.4 884.8 797.2 887.7 799 892.4 800.8 895.5 802.6 903.2 804.4 910.5 806.2 917 808.4 910.8 810.6 906.3 812.2 899.9 813.7 891.2 815.3 884.5 816.9 877.7 818.4 868.9 820 860.5 821.6 850.6 823.1 841.9 825.8 843.7 827.6 850.7 829.4 856.2 831.2 853.6 833 850.9 834.7 847.8 836.5 845.5 838.3 845.2 840.1 845.5 841.7 843.1 843.2 841.2 844.8 839.5 846.4 838.3 848.2 844.9 849.9 850.9 851.7 868.4 853.5 883.6 855.3 900.9 856.9 888.9 858.4 879.4 860 867.5 861.6 856.2 863.3 865 865.1 873.6 866.9 883 868.7 887.7 870.5 892 872.3 882.4 874.1 871.6 875.9 861.6 877.6 874 879.4 885.8 881.2 899.1 882.1 899.1 883 782.9 884.8 781.9 886.6 779.4 888.4 765.1 889.3 745.4M891.9 893.8 893.7 833 895.5 820.5 897.3 824.1 899.1 829.4 900.9 835.7 902.7 841.9 905.3 859.8 907.6 855.9 909.8 850.9 911.6 847.5 913.4 845.5 915.2 832.5 917 818.7 919.6 836.6 921.4 824.9 923.2 811.5 925.9 809.7 927.7 810.9 929.5 811.5 931.3 814.4 933.1 815.6 934.8 818.7 936.6 819.9 938.4 820.7 940.2 823.3 942 824 943.8 823.2 945.6 823.1 947.4 823.6 949.1 822.3 950.9 828.3 952.7 833 954.5 851.7 956.3 868.7 954.1 849 952 829.4 953.8 841.9 955.6 859.7 957.4 877.6 959.1 884 960.9 889.5 962.7 895.5 964.5 815.1 966.3 790.1 969 786.5 969.9 815.1 970.8 849 972.5 829.4 975.2 832.9 977 832.6 978.8 832.9 981.5 822.2 984.2 836.5 986.8 845.4 989.1 845.3 991.3 845.4 993.1 843.6 994.9 842.8 996.7 841.9 998.9 836.5 1001.1 829.4 1003.8 820.4 1005.6 832.9 1007.4 856.2 1009.2 849.8 1011 841.9 1012.7 828.7 1014.5 815.1 1017.2 799 1019 799.9 1020.8 800.8 1023 794.2 1025.3 788.3 1027 784 1028.8 780.7 1030.6 777.5 1032.8 775.4 1035.1 772.2 1037.8 782.9 1039.5 832.9 1041.3 922.3 1043.1 1000 1044.9 979.7 1046.7 958 1049.4 895.5 1051.2 846.1 1052.9 797.2 1055.6 768.6 1057.4 777.2 1059.2 784.7 1061.4 806.6 1063.7 827.6 1065.9 814.5 1068.1 800.8 1069.9 795.7 1071.7 790.1 1073.5 789.9 1075.3 788.6 1077.1 788.3 1078.9 782.7 1080.6 776 1082.4 770.4 1084.2 763.2 1086 756.6 1087.8 749 1090 742.6 1092.3 735.6 1094.9 761.5 1095.8 781.1 1098.5 774 1100.3 771.2 1102.1 770 1103.9 766.8 1105.7 769.8 1107.4 772.2 1109.2 790.1 1111.9 765 1114.6 765 1116.4 769.7 1118.2 774 1119.9 770.4 1121.7 768.6 1124.4 770.4 1127.1 768.6 1128.9 772.3 1130.7 775.8 1132.5 770 1134.2 765 1136.5 762.7 1138.7 759.7 1141.4 768.6 1143.2 781.1 1145 793.6 1146.7 787.9 1148.5 781.1 1150.3 783.2 1152.1 784.7 1154.8 815.1 1155.7 836.5 1157.5 844.2 1159.3 850.8 1161 872.9 1162.8 895.5 1164.6 911.5 1166.4 886.5 1168.2 849.3 1170 811.5 1171.8 811.9 1173.5 811.5 1175.3 804.9 1177.1 797.2 1178.9 792.5 1180.7 788.3 1182.5 788 1184.3 786.5 1186.1 783.6 1187.8 779.3 1190.1 775.2 1192.3 770.4" stroke="#f4a46a" stroke-width="2.3"/>
<path d="M481.6 806.2 483.4 827.6 485.1 815.1 486.6 852.6 487.8 775.8 489.6 774.1 491.4 771.3 494.1 782.9 495.9 787.1 497.7 790.1 499.4 794.5 501.2 799 503 804.9 504.8 811.5 506.6 817.8 508.4 825.8 510.2 828.8 512 831.2 513.7 832.9 515.5 834.8 517.3 836.4 519.1 836.9 520.9 838.3 522.7 836.2 524.5 833 526.3 827.2 528 822.3 529.8 818.3 531.6 813.3 533.4 820 535.2 825.8 537 815 538.8 804.4 540.2 834.8 541.4 808 544.1 799 545.9 797.2 547.7 783.9 549.5 770.4 551.3 747.5 553.1 724 554.9 734.7 556.6 836.6 558.4 847.6 560.2 859.8 562.5 866.1 564.7 872.3 566.9 869.3 569.2 865.2 570.9 863.5 572.7 863.3 574.5 861.6 576.3 859.2 578.1 856.2 579.9 856.2 581.7 854.7 583.5 854.4 585.2 850.1 587 847.3 589.3 839.8 591.5 831.2 593.7 830 596 827.6 597.7 824.8 599.5 822.3 601.3 819.7 603.1 818.7 604.9 813.3 606.3 856.2 607.6 825.8 609.4 854.4 611.2 824 613.8 815.1 616.1 801.6 618.3 789.2 621 804.4 623.7 816.9 624.6 804.4M627.2 884.8 629.9 875.9 631.7 883 633.5 847.3 635.3 847.5 637.1 847.3 638.9 849.6 640.6 852.6 642.4 851.7 644.2 849.2 646 847.3 647.8 847.6 649.6 849.1 651.4 844.9 653.2 840.1 654.9 841.7 656.7 843.7 658.5 842.7 660.3 840.9 662.1 838.3 663.9 833 665.7 827.6 667.5 825.5 669.2 823.2 671 820.5 672.8 817.4 674.6 813.3 676.4 813.7 678.2 811.6 680 811.7 681.8 811.5 684 812.6 686.2 813.3 688.5 801.4 690.7 790.1 692.5 800.8 694.3 850.9 696.1 883 697.8 815.1 699.6 781.2 701.4 789.4 703.2 797.2 705.9 816.9 708.1 813.5 710.4 811.5 712.1 813.1 713.9 813.3 715.7 808 717.5 802.6 715.9 811.5 717.7 802.6 719.5 806.4 721.3 811.5 723.5 802.9 725.7 793.7 727.5 795.1 729.3 796.7 731.1 799 732.9 798.1 734.7 797.2 736.4 802.8 738.2 809.7 740 806.8 741.8 805.6 743.6 802.6 745.4 811.9 747.2 820.5 749 823.8 750.7 829.3 752.5 833 754.3 830.9 756.1 830.3 757.9 829.4 759.7 828.9 761.5 827.2 763.3 825.8 765 824.9 766.8 824.4 768.6 824 770.4 822.1 772.2 819.8 774 818.7 775.8 820.8 777.6 820.3 779.3 822.3 781.1 827.5 782.9 833 785.2 836.1 787.4 838.3 789.6 835.5 791.9 833 793.6 833.9 795.4 832.5 797.2 833 799 830.9 800.8 827.7 802.6 824 804.4 822.6 806.2 821.2 807.9 818.7 809.7 815.9 811.5 813.9 813.3 811.2 815.1 808 816.9 809.3 818.7 810.6 820.5 812.4 822.2 813.3 824 810.8 825.8 807.8 827.6 806.2 829.4 807.3 831.2 807.2 833 808.3 834.7 809.5 836.5 809.7 838.3 807.8 840.1 806.2 841.9 805.1 843.7 804.4 845.5 805 847.3 805 849 805.3 850.8 806.2 852.6 807 854.4 808.7 856.2 808.4 858 809.7 859.8 807.8 861.6 806.9 863.3 804.4 865.1 805 866.9 804.9 868.7 805.7 870.5 806.2 872.3 805.7 874.1 804.6 875.9 804.6 877.6 804.4 879.4 805.2 881.2 807.3 883 808 884.8 807.5 886.6 807.9 888.4 808.3 890.2 808 891.9 807.1 893.7 803.7 895.5 800.8 897.3 801 899.1 800.5 900.9 800.6 902.7 800.8 904.5 800.8 906.2 803.1 908 805.2 909.8 806.2 911.6 807.6 913.4 808.9 915.2 811.5 917 811.1 918.8 810 920.5 809.6 922.3 810.6 924.1 809.7 925.9 809.9 927.7 811.9 929.5 812.2 931.3 813.3 933.1 814.1 934.8 814 936.6 813.3 938.4 813.4 940.2 814.6 942 816 943.8 816.8 945.6 816.2 947.4 815.9 949.1 816.5 950.9 816 952 816.9 953.8 820.4 955.6 822.8 957.4 825.8 959.1 828.1 960.9 829.8 962.7 832.9 965.4 836.5 968.1 829.4 969.9 832.7 971.7 836.5 973.4 836.5 975.2 837.9 977 838.3 979.7 845.4 982.4 838.3 984.2 846.5 985.9 854.4 987.7 852.8 989.5 852.8 991.3 851.7 993.1 851.9 994.9 852.8 996.7 854.6 998.5 855.3 1000.7 853 1002.9 850.8 1005.6 836.5 1007.4 828.9 1009.2 820.1 1011 811.5 1012.7 811.3 1014.5 809.6 1016.3 809.7 1018.1 812.1 1019.9 812.5 1021.7 815.1 1023.5 815.3 1025.3 815.8 1027 815.1 1028.8 816.7 1030.6 816.9 1032.4 813.1 1034.2 807.9 1035.8 807.4 1037.3 807.4 1038.9 807.1 1040.4 806.1 1042.7 814.4 1044.9 824 1047.1 857.9 1049.4 890.1 1051.6 884.6 1053.8 877.6 1055.6 871.2 1057.4 865.1 1059.2 872.2 1061 855.8 1062.8 838.3 1064.6 829.3 1066.3 820 1068.1 811.5 1069.9 809.5 1071.7 805.9 1073.5 804.3 1075.7 803.1 1078 800.8 1080.6 807.9 1082.9 817.7 1085.1 825.8 1087.3 820.9 1089.6 816.9 1091.4 815.3 1093.1 811.3 1094.9 809.7 1096.7 809.2 1098.5 806.9 1100.3 806.1 1102.1 804 1103.9 800.1 1105.7 797.2 1107.4 803.3 1109.2 807.9 1111.9 786.5 1114.1 784.7 1116.4 784.7 1119.1 731.1 1121.7 745.4 1123.5 746.4 1125.3 749 1128 750.7 1129.8 779.3 1131.6 722.2 1133.3 797.2 1135.1 859.7 1136.9 895.5 1138.7 797.2 1141.4 793.6 1143.2 793.3 1145 791.8 1146.7 791.2 1148.5 790.1 1150.8 784.8 1153 779.3 1155.7 793.6 1157.5 795.2 1159.3 797.8 1161 800.8 1162.8 801.7 1164.6 802.3 1166.4 804.3 1168.2 804 1170 802.4 1171.8 800.8 1173.5 798.6 1175.3 795.2 1177.1 791.8 1178.9 785.3 1180.7 779.3 1182.5 775 1184.3 772.6 1186.1 768.6 1187.8 759.9 1189.6 752.5 1191.4 759.8 1193.2 766.8" stroke="#0b8c1c" stroke-width="2.9"/>
</g>
<rect x="481.3" y="681.8" width="711.9" height="317.8" fill="none" stroke="#4d4d4d" stroke-width="1.6"/>
<path d="M473.8 975.6h7.5M1185.7 975.6h7.5M473.8 926.7h7.5M1185.7 926.7h7.5M473.8 877.8h7.5M1185.7 877.8h7.5M473.8 828.9h7.5M1185.7 828.9h7.5M473.8 780h7.5M1185.7 780h7.5M473.8 731.1h7.5M1185.7 731.1h7.5M473.8 682.2h7.5M1185.7 682.2h7.5M477.3 951.1h4M1189.2 951.1h4M477.3 902.2h4M1189.2 902.2h4M477.3 853.4h4M1189.2 853.4h4M477.3 804.4h4M1189.2 804.4h4M477.3 755.5h4M1189.2 755.5h4M477.3 706.6h4M1189.2 706.6h4M481.3 999.6v7.5M481.3 681.8v7.5M599.9 999.6v7.5M599.9 681.8v7.5M718.6 999.6v7.5M718.6 681.8v7.5M837.2 999.6v7.5M837.2 681.8v7.5M955.9 999.6v7.5M955.9 681.8v7.5M1074.5 999.6v7.5M1074.5 681.8v7.5M1193.1 999.6v7.5M1193.1 681.8v7.5M540.6 999.6v4M540.6 681.8v4M659.3 999.6v4M659.3 681.8v4M777.9 999.6v4M777.9 681.8v4M896.5 999.6v4M896.5 681.8v4M1015.2 999.6v4M1015.2 681.8v4M1133.8 999.6v4M1133.8 681.8v4" stroke="#4d4d4d" stroke-width="1.4" fill="none"/>
<text x="469" y="987.2" font-size="29" text-anchor="end" fill="#000">−300</text>
<text x="469" y="938.3" font-size="29" text-anchor="end" fill="#000">−200</text>
<text x="469" y="889.4" font-size="29" text-anchor="end" fill="#000">−100</text>
<text x="469" y="840.5" font-size="29" text-anchor="end" fill="#000">0</text>
<text x="469" y="791.6" font-size="29" text-anchor="end" fill="#000">100</text>
<text x="469" y="742.7" font-size="29" text-anchor="end" fill="#000">200</text>
<text x="469" y="693.8" font-size="29" text-anchor="end" fill="#000">300</text>
<text x="481.3" y="1041" font-size="29" text-anchor="middle" fill="#000">0</text>
<text x="599.9" y="1041" font-size="29" text-anchor="middle" fill="#000">200</text>
<text x="718.6" y="1041" font-size="29" text-anchor="middle" fill="#000">400</text>
<text x="837.2" y="1041" font-size="29" text-anchor="middle" fill="#000">600</text>
<text x="955.9" y="1041" font-size="29" text-anchor="middle" fill="#000">800</text>
<text x="1074.5" y="1041" font-size="29" text-anchor="middle" fill="#000">1 000</text>
<text x="1193.1" y="1041" font-size="29" text-anchor="middle" fill="#000">1 200</text>
<text x="848" y="1078.3" font-size="29" text-anchor="middle" fill="#000">x/µm</text>
<text x="392.5" y="834.3" font-size="29" text-anchor="middle" fill="#000" transform="rotate(-90 392.5 834.3)">z/µm</text>
<text x="848.5" y="726.2" font-size="29.4" text-anchor="middle" fill="#000">A-A</text>
<rect x="948.8" y="912.2" width="236.1" height="75" fill="#fff" stroke="#555" stroke-width="1.3"/>
<rect x="957.5" y="923" width="46.4" height="22.7" fill="#f9c796" stroke="#666" stroke-width="1.3"/>
<text x="1010" y="943.7" font-size="29" text-anchor="start" fill="#000">Unadjusted</text>
<rect x="957.5" y="955.7" width="46.4" height="23.2" fill="#9ed89c" stroke="#666" stroke-width="1.3"/>
<text x="1010" y="976.4" font-size="29" text-anchor="start" fill="#000">Adjusted</text>
<path d="M1324 746H2042.8M1324 810.4H2042.8M1324 874.8H2042.8M1324 939.2H2042.8" stroke="#a8a8a8" stroke-width="1.1" stroke-dasharray="3.2 2.8" fill="none"/>
<clipPath id="cpb"><rect x="1321" y="681.1" width="721.8" height="322.1"/></clipPath>
<g clip-path="url(#cpb)" fill="none" stroke-linejoin="round">
<path d="M1325.3 1005 1328.9 820.7 1332.5 962.3 1335.2 935.1 1338 889.7 1341.6 880.6 1345.2 797.1 1348 871.6 1349.8 982.3 1352.5 958.7 1356.1 953.3 1357.9 886.1 1361.6 866.1 1365.2 889.7 1368.8 926 1371.6 947.8 1374.3 889.7 1376.1 824.4 1378.8 835.2 1381.5 907.9 1385.2 909.7 1387.9 898.8 1390.6 844.3 1393.3 798.9 1396.1 802.6 1397.9 835.2 1401.5 766.3 1405.1 791.7 1410.6 795.3 1414.2 808 1416.9 798.9 1419.7 795.3 1425.1 806.2 1430.6 820.7 1436 808 1439.6 791.7 1442.4 777.1 1445.1 880.6 1446.9 955.1 1450.5 895.2 1453.3 918.8 1456 806.2 1459.6 806.2 1462.3 853.4 1465.1 855.2 1468.7 824.4 1472.3 817.1 1476 815.3 1479.6 858.8 1483.2 817.1 1488.7 798.9 1495.9 789.9 1501.4 773.5 1506.8 791.7 1510.4 835.2 1515 757.2 1519.5 768.1 1523.2 780.8 1526.8 893.3 1530.4 768.1 1534 748.1 1537.7 771.7 1543.1 817.1 1546.8 916.9 1550.4 751.7 1554 773.5 1559.5 798.9 1564 820.1 1565.2 830.7 1566.4 835.9 1567.6 833.4 1568.8 824.1 1570 812.6 1571.2 804 1572.4 794 1573.6 788.1 1574.8 788.6 1576 795 1577.2 803.9 1578.4 810.4 1579.6 817.5 1580.8 822.4 1582.1 823.2 1583.3 819.9 1584.5 814.7 1585.7 810 1586.9 807.6 1588.1 806 1589.3 806.2 1590.5 752.4 1591.7 808.4 1592.9 808.3 1594.1 806.3 1595.3 802.1 1596.5 796.9 1597.7 793.7 1598.9 795.4 1600.1 802.5 1601.3 810.7 1602.5 823.3 1603.7 836 1604.9 841.8 1606.1 836.6 1607.3 822.3 1608.5 807.9 1609.7 791.2 1610.9 776.2 1612.1 771.7 1613.3 780.3 1614.5 797.3 1615.7 811.6 1616.9 828.1 1618.1 840 1619.3 890.9 1620.5 830.6 1621.8 815.2 1623 803.6 1624.2 790 1625.4 781.6 1626.6 782.4 1627.8 791.3 1629 803.5 1630.2 812.5 1631.4 823.2 1632.6 830.3 1633.8 831.1 1635 825.8 1636.2 817 1637.4 809.1 1638.6 802.9 1639.8 796.9 1641 794.2 1642.2 795.3 1643.4 798.8 1644.6 803.1 1645.8 806.5 1647 808.6 1648.2 809.7 1649.4 811.2 1650.6 813.4 1651.8 816.6 1653 820 1654.2 822.3 1655.4 821.6 1656.6 816.9 1657.8 810 1659 803 1660.2 793.5 1661.4 787.1 1662.7 787.4 1663.9 794.9 1665.1 805.7 1666.3 814.6 1667.5 825.3 1668.7 831.1 1669.9 829.3 1671.1 820.8 1672.3 810.7 1673.5 802.9 1674.7 794.6 1675.9 790.7 1677.1 792.6 1678.3 798.7 1679.5 805.7 1680.7 810.3 1681.9 814.6 1683.1 816.8 1684.3 816 1685.5 813.1 1686.7 809.7 1687.9 807.7 1689.1 806 1690.3 806.3 1691.5 808.5 1692.7 811.7 1693.9 816.9 1695.1 821.4 1696.3 822.7 1697.5 819.6 1698.7 813.3 1699.9 807.7 1701.1 800.6 1702.4 794.5 1703.6 791.6 1704.8 792 1706 794 1707.2 795.4 1708.4 795.5 1709.6 794.8 1710.8 795.9 1712 801.3 1713.2 809.4 1714.4 824.7 1715.6 919.9 1716.8 866.8 1718 874 1719.2 863.1 1720.4 837.4 1721.6 810.5 1722.8 789 1724 769.6 1725.2 765.9 1726.4 744.4 1727.6 795.4 1728.8 807.1 1730 808.8 1731.2 802.2 1732.4 783 1733.6 760.1 1734.8 749.5 1736 763.5 1737.2 798 1738.4 835.7 1739.6 892.6 1740.8 936.9 1742 945.1 1743.3 911.8 1744.5 853.2 1745.7 805.1 1746.9 757.4 1748.1 721.6 1749.3 714.9 1750.5 734.2 1751.7 765 1752.9 792.2 1754.1 807.4 1755.3 813 1756.5 816.8 1757.7 820.3 1758.9 742.8 1760.1 836.2 1761.3 844.7 1762.5 845.5 1763.7 834.5 1764.9 815.4 1766.1 798.4 1767.3 776.6 1768.5 764.6 1769.7 769.6 1770.9 916.7 1772.1 807.3 1773.3 820.1 1774.5 828.1 1775.7 824.4 1776.9 814.1 1778.1 807.1 1779.3 804.2 1780.5 808.7 1781.7 820.7 1783 907 1784.2 850.8 1785.4 844.7 1786.6 821.8 1787.8 797.7 1789 762.2 1790.2 734.7 1791.4 731.2 1792.6 753.4 1793.8 788.6 1795 814.2 1796.2 838.6 1797.4 850.4 1798.6 844.6 1799.8 828.7 1801 814 1802.2 808.1 1803.4 807.9 1804.6 811.9 1805.8 820.3 1807 826.6 1808.2 825.8 1809.4 817.9 1810.6 809.1 1811.8 802.2 1813 797.3 1814.2 797.8 1815.4 801.3 1816.6 803.5 1817.8 801.1 1819 792.1 1820.2 777.7 1821.4 764.5 1822.7 761.8 1823.9 775.5 1825.1 801.2 1826.3 827.3 1827.5 866.4 1828.7 898.4 1829.9 908.4 1831.1 891.6 1832.3 855.3 1833.5 816.6 1834.7 894.1 1835.9 760.2 1837.1 745.6 1838.3 749.7 1839.5 767.3 1840.7 788.9 1841.9 805.3 1843.1 812.2 1844.3 814.8 1845.5 811.7 1846.7 807.3 1847.9 801.7 1849.1 799.9 1850.3 805 1851.5 813.8 1852.7 832.3 1853.9 853.8 1855.1 868.1 1856.3 866.2 1857.5 845.8 1858.7 815.5 1859.9 787.4 1861.1 748.9 1862.3 721.4 1863.6 718.3 1864.8 741.4 1866 780 1867.2 811.7 1868.4 844.7 1869.6 871.1 1870.8 878.5 1872 866.9 1873.2 844.7 1874.4 822.6 1875.6 809 1876.8 801.8 1878 797.1 1879.2 794.9 1880.4 792.8 1881.6 788.7 1882.8 887.7 1884 778.9 1885.2 779.4 1886.4 786.7 1887.6 799.4 1888.8 810.5 1890 824.3 1891.2 837 1892.4 842.8 1893.6 840.6 1894.8 832.5 1896 822.4 1897.2 814 1898.4 809 1899.6 806.7 1900.8 804.9 1902 804 1903.3 803.3 1904.5 802.7 1905.7 801.7 1906.9 800.4 1908.1 798.6 1909.3 796.5 1910.5 794.7 1911.7 794.4 1912.9 797.3 1914.1 804 1915.3 811.7 1916.5 825.3 1917.7 840.8 1918.9 850.2 1920.1 847 1921.3 830.3 1922.5 809.3 1923.7 786.7 1924.9 762.3 1926.1 753 1927.3 765.9 1928.5 794.7 1929.7 820.7 1930.9 758.9 1932.1 876.6 1933.3 872.5 1934.5 844.2 1935.7 810.2 1936.9 778.8 1938.1 748.2 1939.3 739.9 1940.5 757.6 1941.7 789.9 1943 814.9 1944.2 840.7 1945.4 853.6 1946.6 846.5 1947.8 825.6 1949 807.2 1950.2 789.4 1951.4 779.2 1952.6 783.1 1953.8 797.4 1955 810.5 1956.2 824.4 1957.4 833.1 1958.6 831.5 1959.8 821.5 1961 810.3 1962.2 803 1963.4 798 1964.6 800 1965.8 807 1967 814 1968.2 822.1 1969.4 824.3 1970.6 817.7 1971.8 807.5 1973 791.2 1974.2 772.7 1975.4 762.6 1976.6 767.6 1977.8 786.6 1979 808.6 1980.2 831.2 1981.4 854.6 1982.7 863.9 1983.9 854.2 1985.1 830.9 1986.3 808.9 1987.5 790.8 1988.7 778.3 1989.9 781.3 1991.1 796.8 1992.3 811.5 1993.5 827.5 1994.7 835.6 1995.9 829 1997.1 812.5 1998.3 795.7 1999.5 874.8 2000.7 763.7 2001.9 770.2 2003.1 790.4 2004.3 810 2005.5 831.1 2006.7 848.5 2007.9 852.3 2009.1 841.9 2010.3 823.9 2011.5 808.9 2012.7 797.2 2013.9 787.9 2015.1 785.6 2016.3 789.2 2017.5 795.7 2018.7 802.2 2019.9 807.1 2021.1 809.7 2022.3 812.3 2023.6 814.7 2024.8 816.5 2026 817.7 2027.2 818.3 2028.4 818.8 2029.6 819.5 2030.8 820.5 2032 821 2033.2 819.6 2034.4 814.7 2035.6 808 2036.8 795.1 2038 776.1 2039.2 757.9 2040.4 748.9 2041.6 755.4 2042.8 776.9 2044 804.1 2045.2 827.6 2046.4 857" stroke="#f4a46a" stroke-width="2.2"/>
<path d="M1318 780.8 1321.6 784.4 1325.3 817.1 1328.9 833.4 1332.5 829.8 1338 793.5 1341.6 817.1 1348 851.6 1353.4 806.2 1357 853.4 1361.6 889.7 1364.3 916 1367 853.4 1369.7 809.8 1374.3 844.3 1379.7 864.3 1384.3 796.2 1388.8 826.2 1396.1 829.8 1399.7 858.8 1403.3 828 1407.9 808 1411.5 822.5 1416 780.8 1419.7 791.7 1423.3 817.1 1428.7 871.6 1434.2 828 1437.8 817.1 1443.3 824.4 1448.7 769.9 1452.4 791.7 1456 833.4 1459.6 817.1 1463.2 779 1466.9 806.2 1471.4 860.7 1476 853.4 1480.5 804.4 1486.8 873.4 1492.3 835.2 1496.8 806.2 1501.4 871.6 1506.8 848 1512.3 789.9 1515.9 817.1 1519.5 842.5 1523.2 838.9 1529.5 764.4 1531.3 871.6 1535.9 844.3 1541.3 802.6 1544 760.8 1545.9 769.9 1547.7 842.5 1552.2 833.4 1557.7 813.5 1560 817.1 1564 833.2 1565.2 829.5 1566.4 823.1 1567.6 815.6 1568.8 805.3 1570 796.3 1571.2 792 1572.4 794.4 1573.6 803.3 1574.8 816.1 1576 827.9 1577.2 841.7 1578.4 852.1 1579.6 855.9 1580.8 852.2 1582.1 842.7 1583.3 830.8 1584.5 821.2 1585.7 812.9 1586.9 806.9 1588.1 804.6 1589.3 805.2 1590.5 807.1 1591.7 808.7 1592.9 809.4 1594.1 809.7 1595.3 810.6 1596.5 813.8 1597.7 819.9 1598.9 828 1600.1 840.8 1601.3 854.3 1602.5 863.6 1603.7 864.6 1604.9 855.1 1606.1 836.8 1607.3 817.5 1608.5 793.7 1609.7 772 1610.9 760.8 1612.1 764.6 1613.3 782.7 1614.5 808.7 1615.7 831.9 1616.9 856.9 1618.1 873.6 1619.3 875.7 1620.5 862.9 1621.8 840.9 1623 820.2 1624.2 800.9 1625.4 787.8 1626.6 786.8 1627.8 797.5 1629 814.2 1630.2 828.5 1631.4 842 1632.6 847.2 1633.8 841.8 1635 828.5 1636.2 814.9 1637.4 799.6 1638.6 790.4 1639.8 792.1 1641 804.5 1642.2 821.2 1643.4 838.9 1644.6 855.9 1645.8 863.4 1647 858.1 1648.2 841.8 1649.4 822.2 1650.6 803.1 1651.8 785.7 1653 778.7 1654.2 784.8 1655.4 801.3 1656.6 820.5 1657.8 837.8 1659 853 1660.2 858.3 1661.4 851.9 1662.7 762.1 1663.9 821.3 1665.1 806.3 1666.3 794.7 1667.5 792.2 1668.7 799.4 1669.9 812.7 1671.1 825.2 1672.3 838.2 1673.5 846.6 1674.7 841 1675.9 839 1677.1 827 1678.3 816.1 1679.5 804.8 1680.7 798 1681.9 798.2 1683.1 805.2 1684.3 815.8 1685.5 825.2 1686.7 835.4 1687.9 842.5 1689.1 844.3 1690.3 840.6 1691.5 832.8 1692.7 823.8 1693.9 816.2 1695.1 808 1696.3 802.2 1697.5 800.3 1698.7 802.5 1699.9 808.3 1701.1 816.2 1702.4 823.5 1703.6 832.1 1704.8 840.2 1706 845.3 1707.2 845.9 1708.4 841.5 1709.6 832.9 1710.8 823 1712 813.7 1713.2 803.8 1714.4 797.4 1715.6 796.5 1716.8 801.5 1718 810.3 1719.2 819.8 1720.4 827 1721.6 833.1 1722.8 835.3 1724 833.3 1725.2 828.8 1726.4 824.4 1727.6 822 1728.8 822.2 1730 825 1731.2 830.1 1732.4 834.7 1733.6 835.7 1734.8 830.8 1736 821.5 1737.2 807.2 1738.4 789.2 1739.6 774.7 1740.8 770.4 1742 779.9 1743.3 801.8 1744.5 826.6 1745.7 858.2 1746.9 888.2 1748.1 904.8 1749.3 901 1750.5 876.8 1751.7 839.9 1752.9 805.5 1754.1 766.1 1755.3 737.1 1756.5 729.3 1757.7 745.3 1758.9 779.1 1760.1 817.3 1761.3 850.2 1762.5 880.9 1763.7 894.8 1764.9 887.9 1766.1 864.2 1767.3 834 1768.5 810 1769.7 788 1770.9 778.2 1772.1 783.6 1773.3 800.5 1774.5 820 1775.7 835.9 1776.9 848.1 1778.1 849.4 1779.3 839.5 1780.5 824.1 1781.7 809 1783 794.1 1784.2 787.5 1785.4 792.1 1786.6 806.1 1787.8 822.2 1789 762.1 1790.2 854.2 1791.4 860.7 1792.6 856.7 1793.8 844.1 1795 828.2 1796.2 815.3 1797.4 802.5 1798.6 794.8 1799.8 793.8 1801 798.6 1802.2 903.8 1803.4 814.9 1804.6 821.2 1805.8 825.4 1807 829.2 1808.2 832.4 1809.4 835.2 1810.6 837.8 1811.8 839.3 1813 838.4 1814.2 834.1 1815.4 826.2 1816.6 817.5 1817.8 805.1 1819 793.4 1820.2 787 1821.4 789.3 1822.7 800.8 1823.9 817.8 1825.1 835.1 1826.3 854.9 1827.5 868.1 1828.7 868.7 1829.9 855.6 1831.1 833.1 1832.3 811.2 1833.5 785.5 1834.7 767 1835.9 763.4 1837.1 776.8 1838.3 802.5 1839.5 828.1 1840.7 857.3 1841.9 880.1 1843.1 887.2 1844.3 875.7 1845.5 849.7 1846.7 821.5 1847.9 793 1849.1 767.9 1850.3 757.3 1851.5 764.9 1852.7 787.2 1853.9 815.2 1855.1 839.1 1856.3 862.8 1857.5 875.1 1858.7 872.1 1859.9 855.9 1861.1 833.3 1862.3 814.4 1863.6 795.5 1864.8 784.1 1866 783.7 1867.2 793.5 1868.4 808.7 1869.6 822.3 1870.8 834.5 1872 843.3 1873.2 845.6 1874.4 841.9 1875.6 834.5 1876.8 826.3 1878 820.5 1879.2 815.6 1880.4 812.3 1881.6 810.7 1882.8 810.4 1884 810.7 1885.2 811.5 1886.4 813.3 1887.6 816.5 1888.8 821.1 1890 826.8 1891.2 834.8 1892.4 842.6 1893.6 847.2 1894.8 729.9 1896 916.7 1897.2 827.1 1898.4 829.7 1899.6 799.8 1900.8 787.4 1902 782.6 1903.3 787.6 1904.5 801.2 1905.7 818.5 1906.9 834.5 1908.1 851.2 1909.3 860.9 1910.5 860.2 1911.7 849.3 1912.9 832.6 1914.1 817.8 1915.3 802.7 1916.5 792.8 1917.7 792 1918.9 800.1 1920.1 813.3 1921.3 824.9 1922.5 836.1 1923.7 842.2 1924.9 840.4 1926.1 831.8 1927.3 903.8 1928.5 810.8 1929.7 802.2 1930.9 800.3 1932.1 806.3 1933.3 817.4 1934.5 828.7 1935.7 841.6 1936.9 849.7 1938.1 849.5 1939.3 840.7 1940.5 826.9 1941.7 813.8 1943 799.3 1944.2 790.3 1945.4 790.3 1946.6 799.4 1947.8 813.9 1949 827.1 1950.2 841.2 1951.4 850.3 1952.6 850.7 1953.8 842.4 1955 829 1956.2 816.8 1957.4 804 1958.6 796 1959.8 796 1961 803.8 1962.2 816 1963.4 750.8 1964.6 838.8 1965.8 846.1 1967 846.3 1968.2 839.4 1969.4 828.5 1970.6 818.8 1971.8 808.8 1973 802 1974.2 800.8 1975.4 805.1 1976.6 812.8 1977.8 820.6 1979 826.3 1980.2 830.6 1981.4 831.7 1982.7 829.7 1983.9 826.1 1985.1 822.9 1986.3 821.3 1987.5 821.2 1988.7 822.3 1989.9 824.7 1991.1 827.1 1992.3 828 1993.5 826.6 1994.7 823 1995.9 818.6 1997.1 812.6 1998.3 807.2 1999.5 804.4 2000.7 805.4 2001.9 809.8 2003.1 816.5 2004.3 822.7 2005.5 829.5 2006.7 739.6 2007.9 839.3 2009.1 840.2 2010.3 838.5 2011.5 834.9 2012.7 830.2 2013.9 825.1 2015.1 820.9 2016.3 815.7 2017.5 809.9 2018.7 858.7 2019.9 799.8 2021.1 797.9 2022.3 799.5 2023.6 805.2 2024.8 814.1 2026 823.1 2027.2 834.2 2028.4 845.4 2029.6 853 2030.8 854.7 2032 849.8 2033.2 839.7 2034.4 827.4 2035.6 817.6 2036.8 807.6 2038 800.9 2039.2 799.4 2040.4 802.5 2041.6 808.4 2042.8 814.3 2044 818.4 2045.2 820 2046.4 819.6" stroke="#0b8c1c" stroke-width="2.8"/>
</g>
<rect x="1321" y="681.1" width="721.8" height="322.1" fill="none" stroke="#4d4d4d" stroke-width="1.6"/>
<path d="M1313.5 1003.6h7.5M2035.3 1003.6h7.5M1313.5 939.2h7.5M2035.3 939.2h7.5M1313.5 874.8h7.5M2035.3 874.8h7.5M1313.5 810.4h7.5M2035.3 810.4h7.5M1313.5 746h7.5M2035.3 746h7.5M1313.5 681.6h7.5M2035.3 681.6h7.5M1317 971.4h4M2038.8 971.4h4M1317 907h4M2038.8 907h4M1317 842.6h4M2038.8 842.6h4M1317 778.2h4M2038.8 778.2h4M1317 713.8h4M2038.8 713.8h4M1321 1003.2v7.5M1321 681.1v7.5M1481.4 1003.2v7.5M1481.4 681.1v7.5M1641.8 1003.2v7.5M1641.8 681.1v7.5M1802.2 1003.2v7.5M1802.2 681.1v7.5M1962.6 1003.2v7.5M1962.6 681.1v7.5M1401.2 1003.2v4M1401.2 681.1v4M1561.6 1003.2v4M1561.6 681.1v4M1722 1003.2v4M1722 681.1v4M1882.4 1003.2v4M1882.4 681.1v4M2042.8 1003.2v4M2042.8 681.1v4" stroke="#4d4d4d" stroke-width="1.4" fill="none"/>
<text x="1304.3" y="1015.2" font-size="29" text-anchor="end" fill="#000">−600</text>
<text x="1304.3" y="950.8" font-size="29" text-anchor="end" fill="#000">−400</text>
<text x="1304.3" y="886.4" font-size="29" text-anchor="end" fill="#000">−200</text>
<text x="1304.3" y="822" font-size="29" text-anchor="end" fill="#000">0</text>
<text x="1304.3" y="757.6" font-size="29" text-anchor="end" fill="#000">200</text>
<text x="1304.3" y="693.2" font-size="29" text-anchor="end" fill="#000">400</text>
<text x="1321" y="1041" font-size="29" text-anchor="middle" fill="#000">0</text>
<text x="1481.4" y="1041" font-size="29" text-anchor="middle" fill="#000">200</text>
<text x="1641.8" y="1041" font-size="29" text-anchor="middle" fill="#000">400</text>
<text x="1802.2" y="1041" font-size="29" text-anchor="middle" fill="#000">600</text>
<text x="1962.6" y="1041" font-size="29" text-anchor="middle" fill="#000">800</text>
<text x="1690.3" y="1078.6" font-size="29" text-anchor="middle" fill="#000">y/µm</text>
<text x="1237.5" y="838.2" font-size="29" text-anchor="middle" fill="#000" transform="rotate(-90 1237.5 838.2)">z/µm</text>
<text x="1683.4" y="726" font-size="29.4" text-anchor="middle" fill="#000">B-B</text>
<rect x="1794" y="916.3" width="236" height="74.6" fill="#fff" stroke="#555" stroke-width="1.3"/>
<rect x="1803" y="927" width="46" height="22.5" fill="#f9c796" stroke="#666" stroke-width="1.3"/>
<text x="1856" y="947.7" font-size="29" text-anchor="start" fill="#000">Unadjusted</text>
<rect x="1803" y="959.6" width="46" height="22.6" fill="#9ed89c" stroke="#666" stroke-width="1.3"/>
<text x="1856" y="980.4" font-size="29" text-anchor="start" fill="#000">Adjusted</text>
<defs>
<linearGradient id="cbt" x1="0" y1="0" x2="0" y2="1"><stop offset="0.000" stop-color="#fffafa"/><stop offset="0.018" stop-color="#fffafa"/><stop offset="0.117" stop-color="#ffbebe"/><stop offset="0.176" stop-color="#ff6e50"/><stop offset="0.215" stop-color="#ff4000"/><stop offset="0.313" stop-color="#ff9600"/><stop offset="0.411" stop-color="#ffff00"/><stop offset="0.509" stop-color="#beff00"/><stop offset="0.607" stop-color="#00fa6e"/><stop offset="0.706" stop-color="#00ffff"/><stop offset="0.804" stop-color="#006eff"/><stop offset="0.902" stop-color="#0000ff"/><stop offset="0.949" stop-color="#00006e"/><stop offset="1.000" stop-color="#000010"/></linearGradient>
<linearGradient id="cbb" x1="0" y1="0" x2="0" y2="1"><stop offset="0.000" stop-color="#fffafa"/><stop offset="0.011" stop-color="#fffafa"/><stop offset="0.110" stop-color="#ffbebe"/><stop offset="0.169" stop-color="#ff6e50"/><stop offset="0.209" stop-color="#ff4000"/><stop offset="0.307" stop-color="#ff9600"/><stop offset="0.406" stop-color="#ffff00"/><stop offset="0.505" stop-color="#beff00"/><stop offset="0.604" stop-color="#00fa6e"/><stop offset="0.703" stop-color="#00ffff"/><stop offset="0.802" stop-color="#006eff"/><stop offset="0.901" stop-color="#0000ff"/><stop offset="0.949" stop-color="#00006e"/><stop offset="1.000" stop-color="#000010"/></linearGradient>
</defs>
<rect x="340.5" y="160.5" width="29" height="299" fill="url(#cbt)" stroke="#707070" stroke-width="1.6"/>
<line x1="370" y1="459.5" x2="381.5" y2="459.5" stroke="#555" stroke-width="1.5"/>
<line x1="370" y1="453.6" x2="374.5" y2="453.6" stroke="#555" stroke-width="1.3"/>
<line x1="370" y1="447.7" x2="374.5" y2="447.7" stroke="#555" stroke-width="1.3"/>
<line x1="370" y1="441.9" x2="374.5" y2="441.9" stroke="#555" stroke-width="1.3"/>
<line x1="370" y1="436" x2="374.5" y2="436" stroke="#555" stroke-width="1.3"/>
<line x1="370" y1="430.1" x2="381.5" y2="430.1" stroke="#555" stroke-width="1.5"/>
<line x1="370" y1="424.2" x2="374.5" y2="424.2" stroke="#555" stroke-width="1.3"/>
<line x1="370" y1="418.3" x2="374.5" y2="418.3" stroke="#555" stroke-width="1.3"/>
<line x1="370" y1="412.5" x2="374.5" y2="412.5" stroke="#555" stroke-width="1.3"/>
<line x1="370" y1="406.6" x2="374.5" y2="406.6" stroke="#555" stroke-width="1.3"/>
<line x1="370" y1="400.7" x2="381.5" y2="400.7" stroke="#555" stroke-width="1.5"/>
<line x1="370" y1="394.8" x2="374.5" y2="394.8" stroke="#555" stroke-width="1.3"/>
<line x1="370" y1="388.9" x2="374.5" y2="388.9" stroke="#555" stroke-width="1.3"/>
<line x1="370" y1="383.1" x2="374.5" y2="383.1" stroke="#555" stroke-width="1.3"/>
<line x1="370" y1="377.2" x2="374.5" y2="377.2" stroke="#555" stroke-width="1.3"/>
<line x1="370" y1="371.3" x2="381.5" y2="371.3" stroke="#555" stroke-width="1.5"/>
<line x1="370" y1="365.4" x2="374.5" y2="365.4" stroke="#555" stroke-width="1.3"/>
<line x1="370" y1="359.5" x2="374.5" y2="359.5" stroke="#555" stroke-width="1.3"/>
<line x1="370" y1="353.7" x2="374.5" y2="353.7" stroke="#555" stroke-width="1.3"/>
<line x1="370" y1="347.8" x2="374.5" y2="347.8" stroke="#555" stroke-width="1.3"/>
<line x1="370" y1="341.9" x2="381.5" y2="341.9" stroke="#555" stroke-width="1.5"/>
<line x1="370" y1="336" x2="374.5" y2="336" stroke="#555" stroke-width="1.3"/>
<line x1="370" y1="330.1" x2="374.5" y2="330.1" stroke="#555" stroke-width="1.3"/>
<line x1="370" y1="324.3" x2="374.5" y2="324.3" stroke="#555" stroke-width="1.3"/>
<line x1="370" y1="318.4" x2="374.5" y2="318.4" stroke="#555" stroke-width="1.3"/>
<line x1="370" y1="312.5" x2="381.5" y2="312.5" stroke="#555" stroke-width="1.5"/>
<line x1="370" y1="306.6" x2="374.5" y2="306.6" stroke="#555" stroke-width="1.3"/>
<line x1="370" y1="300.7" x2="374.5" y2="300.7" stroke="#555" stroke-width="1.3"/>
<line x1="370" y1="294.9" x2="374.5" y2="294.9" stroke="#555" stroke-width="1.3"/>
<line x1="370" y1="289" x2="374.5" y2="289" stroke="#555" stroke-width="1.3"/>
<line x1="370" y1="283.1" x2="381.5" y2="283.1" stroke="#555" stroke-width="1.5"/>
<line x1="370" y1="277.2" x2="374.5" y2="277.2" stroke="#555" stroke-width="1.3"/>
<line x1="370" y1="271.3" x2="374.5" y2="271.3" stroke="#555" stroke-width="1.3"/>
<line x1="370" y1="265.5" x2="374.5" y2="265.5" stroke="#555" stroke-width="1.3"/>
<line x1="370" y1="259.6" x2="374.5" y2="259.6" stroke="#555" stroke-width="1.3"/>
<line x1="370" y1="253.7" x2="381.5" y2="253.7" stroke="#555" stroke-width="1.5"/>
<line x1="370" y1="247.8" x2="374.5" y2="247.8" stroke="#555" stroke-width="1.3"/>
<line x1="370" y1="241.9" x2="374.5" y2="241.9" stroke="#555" stroke-width="1.3"/>
<line x1="370" y1="236.1" x2="374.5" y2="236.1" stroke="#555" stroke-width="1.3"/>
<line x1="370" y1="230.2" x2="374.5" y2="230.2" stroke="#555" stroke-width="1.3"/>
<line x1="370" y1="224.3" x2="381.5" y2="224.3" stroke="#555" stroke-width="1.5"/>
<line x1="370" y1="218.4" x2="374.5" y2="218.4" stroke="#555" stroke-width="1.3"/>
<line x1="370" y1="212.5" x2="374.5" y2="212.5" stroke="#555" stroke-width="1.3"/>
<line x1="370" y1="206.7" x2="374.5" y2="206.7" stroke="#555" stroke-width="1.3"/>
<line x1="370" y1="200.8" x2="374.5" y2="200.8" stroke="#555" stroke-width="1.3"/>
<line x1="370" y1="194.9" x2="381.5" y2="194.9" stroke="#555" stroke-width="1.5"/>
<line x1="370" y1="189" x2="374.5" y2="189" stroke="#555" stroke-width="1.3"/>
<line x1="370" y1="183.1" x2="374.5" y2="183.1" stroke="#555" stroke-width="1.3"/>
<line x1="370" y1="177.3" x2="374.5" y2="177.3" stroke="#555" stroke-width="1.3"/>
<line x1="370" y1="171.4" x2="374.5" y2="171.4" stroke="#555" stroke-width="1.3"/>
<line x1="370" y1="165.5" x2="381.5" y2="165.5" stroke="#555" stroke-width="1.5"/>
<text x="398" y="175.9" font-size="29.5" text-anchor="middle" fill="#000">25</text>
<text x="398" y="234.7" font-size="29.5" text-anchor="middle" fill="#000">20</text>
<text x="398" y="293.5" font-size="29.5" text-anchor="middle" fill="#000">15</text>
<text x="398" y="352.3" font-size="29.5" text-anchor="middle" fill="#000">10</text>
<text x="398" y="411.1" font-size="29.5" text-anchor="middle" fill="#000">5</text>
<text x="398" y="469.9" font-size="29.5" text-anchor="middle" fill="#000">0</text>
<text x="373.5" y="136.8" font-size="28.7" text-anchor="middle" fill="#000">µm</text>
<rect x="341" y="1310" width="28" height="300" fill="url(#cbb)" stroke="#707070" stroke-width="1.6"/>
<line x1="369" y1="1610.3" x2="379" y2="1610.3" stroke="#555" stroke-width="1.4"/>
<line x1="369" y1="1594.3" x2="379" y2="1594.3" stroke="#555" stroke-width="1.4"/>
<line x1="369" y1="1578.3" x2="379" y2="1578.3" stroke="#555" stroke-width="1.4"/>
<line x1="369" y1="1562.3" x2="379" y2="1562.3" stroke="#555" stroke-width="1.4"/>
<line x1="369" y1="1546.3" x2="379" y2="1546.3" stroke="#555" stroke-width="1.4"/>
<line x1="369" y1="1530.3" x2="379" y2="1530.3" stroke="#555" stroke-width="1.4"/>
<line x1="369" y1="1514.3" x2="379" y2="1514.3" stroke="#555" stroke-width="1.4"/>
<line x1="369" y1="1498.3" x2="379" y2="1498.3" stroke="#555" stroke-width="1.4"/>
<line x1="369" y1="1482.3" x2="379" y2="1482.3" stroke="#555" stroke-width="1.4"/>
<line x1="369" y1="1466.3" x2="379" y2="1466.3" stroke="#555" stroke-width="1.4"/>
<line x1="369" y1="1450.3" x2="379" y2="1450.3" stroke="#555" stroke-width="1.4"/>
<line x1="369" y1="1434.3" x2="379" y2="1434.3" stroke="#555" stroke-width="1.4"/>
<line x1="369" y1="1418.3" x2="379" y2="1418.3" stroke="#555" stroke-width="1.4"/>
<line x1="369" y1="1402.3" x2="379" y2="1402.3" stroke="#555" stroke-width="1.4"/>
<line x1="369" y1="1386.3" x2="379" y2="1386.3" stroke="#555" stroke-width="1.4"/>
<line x1="369" y1="1370.3" x2="379" y2="1370.3" stroke="#555" stroke-width="1.4"/>
<line x1="369" y1="1354.3" x2="379" y2="1354.3" stroke="#555" stroke-width="1.4"/>
<line x1="369" y1="1338.3" x2="379" y2="1338.3" stroke="#555" stroke-width="1.4"/>
<line x1="369" y1="1322.3" x2="379" y2="1322.3" stroke="#555" stroke-width="1.4"/>
<text x="397.7" y="1331.9" font-size="27.2" text-anchor="middle" fill="#000">18</text>
<text x="397.7" y="1379.9" font-size="27.2" text-anchor="middle" fill="#000">15</text>
<text x="397.7" y="1427.9" font-size="27.2" text-anchor="middle" fill="#000">12</text>
<text x="397.7" y="1475.9" font-size="27.2" text-anchor="middle" fill="#000">9</text>
<text x="397.7" y="1523.9" font-size="27.2" text-anchor="middle" fill="#000">6</text>
<text x="397.7" y="1571.9" font-size="27.2" text-anchor="middle" fill="#000">3</text>
<text x="397.7" y="1619.9" font-size="27.2" text-anchor="middle" fill="#000">0</text>
<text x="373.7" y="1292" font-size="27.2" text-anchor="middle" fill="#000">µm</text>
<polyline points="489,248.3 482,248.3 488,262.5" fill="none" stroke="#8a8a8a" stroke-width="1.6"/>
<line x1="488" y1="262.5" x2="481" y2="262.5" stroke="#8a8a8a" stroke-width="1.6"/>
<line x1="489" y1="263" x2="739" y2="509" stroke="#8a8a8a" stroke-width="1.8"/>
<line x1="739" y1="509" x2="986" y2="257" stroke="#8a8a8a" stroke-width="1.8"/>
<line x1="489" y1="263" x2="484.1" y2="268" stroke="#8a8a8a" stroke-width="1.2"/>
<line x1="494" y1="267.9" x2="491.2" y2="270.8" stroke="#8a8a8a" stroke-width="1.2"/>
<line x1="499" y1="272.8" x2="496.2" y2="275.7" stroke="#8a8a8a" stroke-width="1.2"/>
<line x1="504" y1="277.8" x2="501.2" y2="280.6" stroke="#8a8a8a" stroke-width="1.2"/>
<line x1="509" y1="282.7" x2="506.2" y2="285.5" stroke="#8a8a8a" stroke-width="1.2"/>
<line x1="514" y1="287.6" x2="511.2" y2="290.5" stroke="#8a8a8a" stroke-width="1.2"/>
<line x1="519" y1="292.5" x2="516.2" y2="295.4" stroke="#8a8a8a" stroke-width="1.2"/>
<line x1="524" y1="297.4" x2="521.2" y2="300.3" stroke="#8a8a8a" stroke-width="1.2"/>
<line x1="529" y1="302.4" x2="526.2" y2="305.2" stroke="#8a8a8a" stroke-width="1.2"/>
<line x1="534" y1="307.3" x2="531.2" y2="310.1" stroke="#8a8a8a" stroke-width="1.2"/>
<line x1="539" y1="312.2" x2="534.1" y2="317.2" stroke="#8a8a8a" stroke-width="1.2"/>
<line x1="544" y1="317.1" x2="541.2" y2="320" stroke="#8a8a8a" stroke-width="1.2"/>
<line x1="549" y1="322" x2="546.2" y2="324.9" stroke="#8a8a8a" stroke-width="1.2"/>
<line x1="554" y1="327" x2="551.2" y2="329.8" stroke="#8a8a8a" stroke-width="1.2"/>
<line x1="559" y1="331.9" x2="556.2" y2="334.7" stroke="#8a8a8a" stroke-width="1.2"/>
<line x1="564" y1="336.8" x2="561.2" y2="339.7" stroke="#8a8a8a" stroke-width="1.2"/>
<line x1="569" y1="341.7" x2="566.2" y2="344.6" stroke="#8a8a8a" stroke-width="1.2"/>
<line x1="574" y1="346.6" x2="571.2" y2="349.5" stroke="#8a8a8a" stroke-width="1.2"/>
<line x1="579" y1="351.6" x2="576.2" y2="354.4" stroke="#8a8a8a" stroke-width="1.2"/>
<line x1="584" y1="356.5" x2="581.2" y2="359.3" stroke="#8a8a8a" stroke-width="1.2"/>
<line x1="589" y1="361.4" x2="584.1" y2="366.4" stroke="#8a8a8a" stroke-width="1.2"/>
<line x1="594" y1="366.3" x2="591.2" y2="369.2" stroke="#8a8a8a" stroke-width="1.2"/>
<line x1="599" y1="371.2" x2="596.2" y2="374.1" stroke="#8a8a8a" stroke-width="1.2"/>
<line x1="604" y1="376.2" x2="601.2" y2="379" stroke="#8a8a8a" stroke-width="1.2"/>
<line x1="609" y1="381.1" x2="606.2" y2="383.9" stroke="#8a8a8a" stroke-width="1.2"/>
<line x1="614" y1="386" x2="611.2" y2="388.9" stroke="#8a8a8a" stroke-width="1.2"/>
<line x1="619" y1="390.9" x2="616.2" y2="393.8" stroke="#8a8a8a" stroke-width="1.2"/>
<line x1="624" y1="395.8" x2="621.2" y2="398.7" stroke="#8a8a8a" stroke-width="1.2"/>
<line x1="629" y1="400.8" x2="626.2" y2="403.6" stroke="#8a8a8a" stroke-width="1.2"/>
<line x1="634" y1="405.7" x2="631.2" y2="408.5" stroke="#8a8a8a" stroke-width="1.2"/>
<line x1="639" y1="410.6" x2="634.1" y2="415.6" stroke="#8a8a8a" stroke-width="1.2"/>
<line x1="644" y1="415.5" x2="641.2" y2="418.4" stroke="#8a8a8a" stroke-width="1.2"/>
<line x1="649" y1="420.4" x2="646.2" y2="423.3" stroke="#8a8a8a" stroke-width="1.2"/>
<line x1="654" y1="425.4" x2="651.2" y2="428.2" stroke="#8a8a8a" stroke-width="1.2"/>
<line x1="659" y1="430.3" x2="656.2" y2="433.1" stroke="#8a8a8a" stroke-width="1.2"/>
<line x1="664" y1="435.2" x2="661.2" y2="438.1" stroke="#8a8a8a" stroke-width="1.2"/>
<line x1="669" y1="440.1" x2="666.2" y2="443" stroke="#8a8a8a" stroke-width="1.2"/>
<line x1="674" y1="445" x2="671.2" y2="447.9" stroke="#8a8a8a" stroke-width="1.2"/>
<line x1="679" y1="450" x2="676.2" y2="452.8" stroke="#8a8a8a" stroke-width="1.2"/>
<line x1="684" y1="454.9" x2="681.2" y2="457.7" stroke="#8a8a8a" stroke-width="1.2"/>
<line x1="689" y1="459.8" x2="684.1" y2="464.8" stroke="#8a8a8a" stroke-width="1.2"/>
<line x1="694" y1="464.7" x2="691.2" y2="467.6" stroke="#8a8a8a" stroke-width="1.2"/>
<line x1="699" y1="469.6" x2="696.2" y2="472.5" stroke="#8a8a8a" stroke-width="1.2"/>
<line x1="704" y1="474.6" x2="701.2" y2="477.4" stroke="#8a8a8a" stroke-width="1.2"/>
<line x1="709" y1="479.5" x2="706.2" y2="482.3" stroke="#8a8a8a" stroke-width="1.2"/>
<line x1="714" y1="484.4" x2="711.2" y2="487.3" stroke="#8a8a8a" stroke-width="1.2"/>
<line x1="719" y1="489.3" x2="716.2" y2="492.2" stroke="#8a8a8a" stroke-width="1.2"/>
<line x1="724" y1="494.2" x2="721.2" y2="497.1" stroke="#8a8a8a" stroke-width="1.2"/>
<line x1="729" y1="499.2" x2="726.2" y2="502" stroke="#8a8a8a" stroke-width="1.2"/>
<line x1="734" y1="504.1" x2="731.2" y2="506.9" stroke="#8a8a8a" stroke-width="1.2"/>
<line x1="739" y1="509" x2="734.1" y2="514" stroke="#8a8a8a" stroke-width="1.2"/>
<line x1="739" y1="509" x2="744" y2="513.9" stroke="#8a8a8a" stroke-width="1.2"/>
<line x1="743.9" y1="504" x2="746.8" y2="506.8" stroke="#8a8a8a" stroke-width="1.2"/>
<line x1="748.9" y1="498.9" x2="751.7" y2="501.7" stroke="#8a8a8a" stroke-width="1.2"/>
<line x1="753.8" y1="493.9" x2="756.7" y2="496.7" stroke="#8a8a8a" stroke-width="1.2"/>
<line x1="758.8" y1="488.8" x2="761.6" y2="491.6" stroke="#8a8a8a" stroke-width="1.2"/>
<line x1="763.7" y1="483.8" x2="766.6" y2="486.6" stroke="#8a8a8a" stroke-width="1.2"/>
<line x1="768.6" y1="478.8" x2="771.5" y2="481.6" stroke="#8a8a8a" stroke-width="1.2"/>
<line x1="773.6" y1="473.7" x2="776.4" y2="476.5" stroke="#8a8a8a" stroke-width="1.2"/>
<line x1="778.5" y1="468.7" x2="781.4" y2="471.5" stroke="#8a8a8a" stroke-width="1.2"/>
<line x1="783.5" y1="463.6" x2="786.3" y2="466.4" stroke="#8a8a8a" stroke-width="1.2"/>
<line x1="788.4" y1="458.6" x2="793.4" y2="463.5" stroke="#8a8a8a" stroke-width="1.2"/>
<line x1="793.3" y1="453.6" x2="796.2" y2="456.4" stroke="#8a8a8a" stroke-width="1.2"/>
<line x1="798.3" y1="448.5" x2="801.1" y2="451.3" stroke="#8a8a8a" stroke-width="1.2"/>
<line x1="803.2" y1="443.5" x2="806.1" y2="446.3" stroke="#8a8a8a" stroke-width="1.2"/>
<line x1="808.2" y1="438.4" x2="811" y2="441.2" stroke="#8a8a8a" stroke-width="1.2"/>
<line x1="813.1" y1="433.4" x2="816" y2="436.2" stroke="#8a8a8a" stroke-width="1.2"/>
<line x1="818" y1="428.4" x2="820.9" y2="431.2" stroke="#8a8a8a" stroke-width="1.2"/>
<line x1="823" y1="423.3" x2="825.8" y2="426.1" stroke="#8a8a8a" stroke-width="1.2"/>
<line x1="827.9" y1="418.3" x2="830.8" y2="421.1" stroke="#8a8a8a" stroke-width="1.2"/>
<line x1="832.9" y1="413.2" x2="835.7" y2="416" stroke="#8a8a8a" stroke-width="1.2"/>
<line x1="837.8" y1="408.2" x2="842.8" y2="413.1" stroke="#8a8a8a" stroke-width="1.2"/>
<line x1="842.7" y1="403.2" x2="845.6" y2="406" stroke="#8a8a8a" stroke-width="1.2"/>
<line x1="847.7" y1="398.1" x2="850.5" y2="400.9" stroke="#8a8a8a" stroke-width="1.2"/>
<line x1="852.6" y1="393.1" x2="855.5" y2="395.9" stroke="#8a8a8a" stroke-width="1.2"/>
<line x1="857.6" y1="388" x2="860.4" y2="390.8" stroke="#8a8a8a" stroke-width="1.2"/>
<line x1="862.5" y1="383" x2="865.4" y2="385.8" stroke="#8a8a8a" stroke-width="1.2"/>
<line x1="867.4" y1="378" x2="870.3" y2="380.8" stroke="#8a8a8a" stroke-width="1.2"/>
<line x1="872.4" y1="372.9" x2="875.2" y2="375.7" stroke="#8a8a8a" stroke-width="1.2"/>
<line x1="877.3" y1="367.9" x2="880.2" y2="370.7" stroke="#8a8a8a" stroke-width="1.2"/>
<line x1="882.3" y1="362.8" x2="885.1" y2="365.6" stroke="#8a8a8a" stroke-width="1.2"/>
<line x1="887.2" y1="357.8" x2="892.2" y2="362.7" stroke="#8a8a8a" stroke-width="1.2"/>
<line x1="892.1" y1="352.8" x2="895" y2="355.6" stroke="#8a8a8a" stroke-width="1.2"/>
<line x1="897.1" y1="347.7" x2="899.9" y2="350.5" stroke="#8a8a8a" stroke-width="1.2"/>
<line x1="902" y1="342.7" x2="904.9" y2="345.5" stroke="#8a8a8a" stroke-width="1.2"/>
<line x1="907" y1="337.6" x2="909.8" y2="340.4" stroke="#8a8a8a" stroke-width="1.2"/>
<line x1="911.9" y1="332.6" x2="914.8" y2="335.4" stroke="#8a8a8a" stroke-width="1.2"/>
<line x1="916.8" y1="327.6" x2="919.7" y2="330.4" stroke="#8a8a8a" stroke-width="1.2"/>
<line x1="921.8" y1="322.5" x2="924.6" y2="325.3" stroke="#8a8a8a" stroke-width="1.2"/>
<line x1="926.7" y1="317.5" x2="929.6" y2="320.3" stroke="#8a8a8a" stroke-width="1.2"/>
<line x1="931.7" y1="312.4" x2="934.5" y2="315.2" stroke="#8a8a8a" stroke-width="1.2"/>
<line x1="936.6" y1="307.4" x2="941.6" y2="312.3" stroke="#8a8a8a" stroke-width="1.2"/>
<line x1="941.5" y1="302.4" x2="944.4" y2="305.2" stroke="#8a8a8a" stroke-width="1.2"/>
<line x1="946.5" y1="297.3" x2="949.3" y2="300.1" stroke="#8a8a8a" stroke-width="1.2"/>
<line x1="951.4" y1="292.3" x2="954.3" y2="295.1" stroke="#8a8a8a" stroke-width="1.2"/>
<line x1="956.4" y1="287.2" x2="959.2" y2="290" stroke="#8a8a8a" stroke-width="1.2"/>
<line x1="961.3" y1="282.2" x2="964.2" y2="285" stroke="#8a8a8a" stroke-width="1.2"/>
<line x1="966.2" y1="277.2" x2="969.1" y2="280" stroke="#8a8a8a" stroke-width="1.2"/>
<line x1="971.2" y1="272.1" x2="974" y2="274.9" stroke="#8a8a8a" stroke-width="1.2"/>
<line x1="976.1" y1="267.1" x2="979" y2="269.9" stroke="#8a8a8a" stroke-width="1.2"/>
<line x1="981.1" y1="262" x2="983.9" y2="264.8" stroke="#8a8a8a" stroke-width="1.2"/>
<line x1="986" y1="257" x2="991" y2="261.9" stroke="#8a8a8a" stroke-width="1.2"/>
<text x="477" y="291.4" font-size="29.5" text-anchor="middle" fill="#000" transform="rotate(40 477 281)">0</text>
<text x="517" y="335.4" font-size="29.5" text-anchor="middle" fill="#000" transform="rotate(40 517 325)">1</text>
<text x="564.3" y="384.7" font-size="29.5" text-anchor="middle" fill="#000" transform="rotate(40 564.3 374.3)">2</text>
<text x="615" y="434" font-size="29.5" text-anchor="middle" fill="#000" transform="rotate(40 615 423.6)">3</text>
<text x="665" y="484.4" font-size="29.5" text-anchor="middle" fill="#000" transform="rotate(40 665 474)">4</text>
<text x="718" y="537.4" font-size="29.5" text-anchor="middle" fill="#000" transform="rotate(40 718 527)">5</text>
<text x="999" y="286.4" font-size="29.5" text-anchor="middle" fill="#000" transform="rotate(-42 999 276)">0</text>
<text x="930.4" y="357.4" font-size="29.5" text-anchor="middle" fill="#000" transform="rotate(-42 930.4 347)">1</text>
<text x="882.8" y="409.1" font-size="29.5" text-anchor="middle" fill="#000" transform="rotate(-42 882.8 398.7)">2</text>
<text x="831.8" y="458.4" font-size="29.5" text-anchor="middle" fill="#000" transform="rotate(-42 831.8 448)">3</text>
<text x="782.6" y="511.9" font-size="29.5" text-anchor="middle" fill="#000" transform="rotate(-42 782.6 501.5)">4</text>
<text x="547" y="427.1" font-size="29.5" text-anchor="middle" fill="#000" transform="rotate(40 547 416.7)">mm</text>
<text x="922" y="428.4" font-size="29.5" text-anchor="middle" fill="#000" transform="rotate(-42 922 418)">mm</text>
<text x="468" y="252.7" font-size="29.5" text-anchor="end" fill="#000">25</text>
<text x="470" y="275.4" font-size="29.5" text-anchor="end" fill="#000">0</text>
<polyline points="492,1397.2 485,1397.2 490,1411" fill="none" stroke="#8a8a8a" stroke-width="1.6"/>
<line x1="490" y1="1411" x2="483" y2="1411" stroke="#8a8a8a" stroke-width="1.6"/>
<line x1="490" y1="1412" x2="743" y2="1650" stroke="#8a8a8a" stroke-width="1.8"/>
<line x1="743" y1="1650" x2="987" y2="1401" stroke="#8a8a8a" stroke-width="1.8"/>
<line x1="490" y1="1412" x2="485.1" y2="1417" stroke="#8a8a8a" stroke-width="1.2"/>
<line x1="495.1" y1="1416.8" x2="492.3" y2="1419.6" stroke="#8a8a8a" stroke-width="1.2"/>
<line x1="500.1" y1="1421.5" x2="497.3" y2="1424.4" stroke="#8a8a8a" stroke-width="1.2"/>
<line x1="505.2" y1="1426.3" x2="502.4" y2="1429.1" stroke="#8a8a8a" stroke-width="1.2"/>
<line x1="510.2" y1="1431" x2="507.4" y2="1433.9" stroke="#8a8a8a" stroke-width="1.2"/>
<line x1="515.3" y1="1435.8" x2="512.5" y2="1438.7" stroke="#8a8a8a" stroke-width="1.2"/>
<line x1="520.4" y1="1440.6" x2="517.6" y2="1443.4" stroke="#8a8a8a" stroke-width="1.2"/>
<line x1="525.4" y1="1445.3" x2="522.6" y2="1448.2" stroke="#8a8a8a" stroke-width="1.2"/>
<line x1="530.5" y1="1450.1" x2="527.7" y2="1452.9" stroke="#8a8a8a" stroke-width="1.2"/>
<line x1="535.5" y1="1454.8" x2="532.7" y2="1457.7" stroke="#8a8a8a" stroke-width="1.2"/>
<line x1="540.6" y1="1459.6" x2="535.7" y2="1464.6" stroke="#8a8a8a" stroke-width="1.2"/>
<line x1="545.7" y1="1464.4" x2="542.9" y2="1467.2" stroke="#8a8a8a" stroke-width="1.2"/>
<line x1="550.7" y1="1469.1" x2="547.9" y2="1472" stroke="#8a8a8a" stroke-width="1.2"/>
<line x1="555.8" y1="1473.9" x2="553" y2="1476.7" stroke="#8a8a8a" stroke-width="1.2"/>
<line x1="560.8" y1="1478.6" x2="558" y2="1481.5" stroke="#8a8a8a" stroke-width="1.2"/>
<line x1="565.9" y1="1483.4" x2="563.1" y2="1486.3" stroke="#8a8a8a" stroke-width="1.2"/>
<line x1="571" y1="1488.2" x2="568.2" y2="1491" stroke="#8a8a8a" stroke-width="1.2"/>
<line x1="576" y1="1492.9" x2="573.2" y2="1495.8" stroke="#8a8a8a" stroke-width="1.2"/>
<line x1="581.1" y1="1497.7" x2="578.3" y2="1500.5" stroke="#8a8a8a" stroke-width="1.2"/>
<line x1="586.1" y1="1502.4" x2="583.3" y2="1505.3" stroke="#8a8a8a" stroke-width="1.2"/>
<line x1="591.2" y1="1507.2" x2="586.3" y2="1512.2" stroke="#8a8a8a" stroke-width="1.2"/>
<line x1="596.3" y1="1512" x2="593.5" y2="1514.8" stroke="#8a8a8a" stroke-width="1.2"/>
<line x1="601.3" y1="1516.7" x2="598.5" y2="1519.6" stroke="#8a8a8a" stroke-width="1.2"/>
<line x1="606.4" y1="1521.5" x2="603.6" y2="1524.3" stroke="#8a8a8a" stroke-width="1.2"/>
<line x1="611.4" y1="1526.2" x2="608.6" y2="1529.1" stroke="#8a8a8a" stroke-width="1.2"/>
<line x1="616.5" y1="1531" x2="613.7" y2="1533.9" stroke="#8a8a8a" stroke-width="1.2"/>
<line x1="621.6" y1="1535.8" x2="618.8" y2="1538.6" stroke="#8a8a8a" stroke-width="1.2"/>
<line x1="626.6" y1="1540.5" x2="623.8" y2="1543.4" stroke="#8a8a8a" stroke-width="1.2"/>
<line x1="631.7" y1="1545.3" x2="628.9" y2="1548.1" stroke="#8a8a8a" stroke-width="1.2"/>
<line x1="636.7" y1="1550" x2="633.9" y2="1552.9" stroke="#8a8a8a" stroke-width="1.2"/>
<line x1="641.8" y1="1554.8" x2="636.9" y2="1559.8" stroke="#8a8a8a" stroke-width="1.2"/>
<line x1="646.9" y1="1559.6" x2="644.1" y2="1562.4" stroke="#8a8a8a" stroke-width="1.2"/>
<line x1="651.9" y1="1564.3" x2="649.1" y2="1567.2" stroke="#8a8a8a" stroke-width="1.2"/>
<line x1="657" y1="1569.1" x2="654.2" y2="1571.9" stroke="#8a8a8a" stroke-width="1.2"/>
<line x1="662" y1="1573.8" x2="659.2" y2="1576.7" stroke="#8a8a8a" stroke-width="1.2"/>
<line x1="667.1" y1="1578.6" x2="664.3" y2="1581.5" stroke="#8a8a8a" stroke-width="1.2"/>
<line x1="672.2" y1="1583.4" x2="669.4" y2="1586.2" stroke="#8a8a8a" stroke-width="1.2"/>
<line x1="677.2" y1="1588.1" x2="674.4" y2="1591" stroke="#8a8a8a" stroke-width="1.2"/>
<line x1="682.3" y1="1592.9" x2="679.5" y2="1595.7" stroke="#8a8a8a" stroke-width="1.2"/>
<line x1="687.3" y1="1597.6" x2="684.5" y2="1600.5" stroke="#8a8a8a" stroke-width="1.2"/>
<line x1="692.4" y1="1602.4" x2="687.5" y2="1607.4" stroke="#8a8a8a" stroke-width="1.2"/>
<line x1="697.5" y1="1607.2" x2="694.7" y2="1610" stroke="#8a8a8a" stroke-width="1.2"/>
<line x1="702.5" y1="1611.9" x2="699.7" y2="1614.8" stroke="#8a8a8a" stroke-width="1.2"/>
<line x1="707.6" y1="1616.7" x2="704.8" y2="1619.5" stroke="#8a8a8a" stroke-width="1.2"/>
<line x1="712.6" y1="1621.4" x2="709.8" y2="1624.3" stroke="#8a8a8a" stroke-width="1.2"/>
<line x1="717.7" y1="1626.2" x2="714.9" y2="1629.1" stroke="#8a8a8a" stroke-width="1.2"/>
<line x1="722.8" y1="1631" x2="720" y2="1633.8" stroke="#8a8a8a" stroke-width="1.2"/>
<line x1="727.8" y1="1635.7" x2="725" y2="1638.6" stroke="#8a8a8a" stroke-width="1.2"/>
<line x1="732.9" y1="1640.5" x2="730.1" y2="1643.3" stroke="#8a8a8a" stroke-width="1.2"/>
<line x1="737.9" y1="1645.2" x2="735.1" y2="1648.1" stroke="#8a8a8a" stroke-width="1.2"/>
<line x1="743" y1="1650" x2="738.1" y2="1655" stroke="#8a8a8a" stroke-width="1.2"/>
<line x1="743" y1="1650" x2="748.1" y2="1654.8" stroke="#8a8a8a" stroke-width="1.2"/>
<line x1="747.9" y1="1645" x2="750.8" y2="1647.8" stroke="#8a8a8a" stroke-width="1.2"/>
<line x1="752.8" y1="1640" x2="755.7" y2="1642.8" stroke="#8a8a8a" stroke-width="1.2"/>
<line x1="757.6" y1="1635.1" x2="760.6" y2="1637.8" stroke="#8a8a8a" stroke-width="1.2"/>
<line x1="762.5" y1="1630.1" x2="765.4" y2="1632.8" stroke="#8a8a8a" stroke-width="1.2"/>
<line x1="767.4" y1="1625.1" x2="770.3" y2="1627.8" stroke="#8a8a8a" stroke-width="1.2"/>
<line x1="772.3" y1="1620.1" x2="775.2" y2="1622.9" stroke="#8a8a8a" stroke-width="1.2"/>
<line x1="777.2" y1="1615.1" x2="780.1" y2="1617.9" stroke="#8a8a8a" stroke-width="1.2"/>
<line x1="782" y1="1610.2" x2="785" y2="1612.9" stroke="#8a8a8a" stroke-width="1.2"/>
<line x1="786.9" y1="1605.2" x2="789.8" y2="1607.9" stroke="#8a8a8a" stroke-width="1.2"/>
<line x1="791.8" y1="1600.2" x2="796.9" y2="1605" stroke="#8a8a8a" stroke-width="1.2"/>
<line x1="796.7" y1="1595.2" x2="799.6" y2="1598" stroke="#8a8a8a" stroke-width="1.2"/>
<line x1="801.6" y1="1590.2" x2="804.5" y2="1593" stroke="#8a8a8a" stroke-width="1.2"/>
<line x1="806.4" y1="1585.3" x2="809.4" y2="1588" stroke="#8a8a8a" stroke-width="1.2"/>
<line x1="811.3" y1="1580.3" x2="814.2" y2="1583" stroke="#8a8a8a" stroke-width="1.2"/>
<line x1="816.2" y1="1575.3" x2="819.1" y2="1578" stroke="#8a8a8a" stroke-width="1.2"/>
<line x1="821.1" y1="1570.3" x2="824" y2="1573.1" stroke="#8a8a8a" stroke-width="1.2"/>
<line x1="826" y1="1565.3" x2="828.9" y2="1568.1" stroke="#8a8a8a" stroke-width="1.2"/>
<line x1="830.8" y1="1560.4" x2="833.8" y2="1563.1" stroke="#8a8a8a" stroke-width="1.2"/>
<line x1="835.7" y1="1555.4" x2="838.6" y2="1558.1" stroke="#8a8a8a" stroke-width="1.2"/>
<line x1="840.6" y1="1550.4" x2="845.7" y2="1555.2" stroke="#8a8a8a" stroke-width="1.2"/>
<line x1="845.5" y1="1545.4" x2="848.4" y2="1548.2" stroke="#8a8a8a" stroke-width="1.2"/>
<line x1="850.4" y1="1540.4" x2="853.3" y2="1543.2" stroke="#8a8a8a" stroke-width="1.2"/>
<line x1="855.2" y1="1535.5" x2="858.2" y2="1538.2" stroke="#8a8a8a" stroke-width="1.2"/>
<line x1="860.1" y1="1530.5" x2="863" y2="1533.2" stroke="#8a8a8a" stroke-width="1.2"/>
<line x1="865" y1="1525.5" x2="867.9" y2="1528.2" stroke="#8a8a8a" stroke-width="1.2"/>
<line x1="869.9" y1="1520.5" x2="872.8" y2="1523.3" stroke="#8a8a8a" stroke-width="1.2"/>
<line x1="874.8" y1="1515.5" x2="877.7" y2="1518.3" stroke="#8a8a8a" stroke-width="1.2"/>
<line x1="879.6" y1="1510.6" x2="882.6" y2="1513.3" stroke="#8a8a8a" stroke-width="1.2"/>
<line x1="884.5" y1="1505.6" x2="887.4" y2="1508.3" stroke="#8a8a8a" stroke-width="1.2"/>
<line x1="889.4" y1="1500.6" x2="894.5" y2="1505.4" stroke="#8a8a8a" stroke-width="1.2"/>
<line x1="894.3" y1="1495.6" x2="897.2" y2="1498.4" stroke="#8a8a8a" stroke-width="1.2"/>
<line x1="899.2" y1="1490.6" x2="902.1" y2="1493.4" stroke="#8a8a8a" stroke-width="1.2"/>
<line x1="904" y1="1485.7" x2="907" y2="1488.4" stroke="#8a8a8a" stroke-width="1.2"/>
<line x1="908.9" y1="1480.7" x2="911.8" y2="1483.4" stroke="#8a8a8a" stroke-width="1.2"/>
<line x1="913.8" y1="1475.7" x2="916.7" y2="1478.4" stroke="#8a8a8a" stroke-width="1.2"/>
<line x1="918.7" y1="1470.7" x2="921.6" y2="1473.5" stroke="#8a8a8a" stroke-width="1.2"/>
<line x1="923.6" y1="1465.7" x2="926.5" y2="1468.5" stroke="#8a8a8a" stroke-width="1.2"/>
<line x1="928.4" y1="1460.8" x2="931.4" y2="1463.5" stroke="#8a8a8a" stroke-width="1.2"/>
<line x1="933.3" y1="1455.8" x2="936.2" y2="1458.5" stroke="#8a8a8a" stroke-width="1.2"/>
<line x1="938.2" y1="1450.8" x2="943.3" y2="1455.6" stroke="#8a8a8a" stroke-width="1.2"/>
<line x1="943.1" y1="1445.8" x2="946" y2="1448.6" stroke="#8a8a8a" stroke-width="1.2"/>
<line x1="948" y1="1440.8" x2="950.9" y2="1443.6" stroke="#8a8a8a" stroke-width="1.2"/>
<line x1="952.8" y1="1435.9" x2="955.8" y2="1438.6" stroke="#8a8a8a" stroke-width="1.2"/>
<line x1="957.7" y1="1430.9" x2="960.6" y2="1433.6" stroke="#8a8a8a" stroke-width="1.2"/>
<line x1="962.6" y1="1425.9" x2="965.5" y2="1428.6" stroke="#8a8a8a" stroke-width="1.2"/>
<line x1="967.5" y1="1420.9" x2="970.4" y2="1423.7" stroke="#8a8a8a" stroke-width="1.2"/>
<line x1="972.4" y1="1415.9" x2="975.3" y2="1418.7" stroke="#8a8a8a" stroke-width="1.2"/>
<line x1="977.2" y1="1411" x2="980.2" y2="1413.7" stroke="#8a8a8a" stroke-width="1.2"/>
<line x1="982.1" y1="1406" x2="985" y2="1408.7" stroke="#8a8a8a" stroke-width="1.2"/>
<line x1="987" y1="1401" x2="992.1" y2="1405.8" stroke="#8a8a8a" stroke-width="1.2"/>
<text x="476.4" y="1446.1" font-size="27.5" text-anchor="middle" fill="#000" transform="rotate(40 476.4 1436.4)">0</text>
<text x="516.6" y="1490.2" font-size="27.5" text-anchor="middle" fill="#000" transform="rotate(40 516.6 1480.5)">1</text>
<text x="564.6" y="1535.3" font-size="27.5" text-anchor="middle" fill="#000" transform="rotate(40 564.6 1525.6)">2</text>
<text x="616.6" y="1580.4" font-size="27.5" text-anchor="middle" fill="#000" transform="rotate(40 616.6 1570.7)">3</text>
<text x="670.5" y="1632.3" font-size="27.5" text-anchor="middle" fill="#000" transform="rotate(40 670.5 1622.6)">4</text>
<text x="757.8" y="1683.3" font-size="27.5" text-anchor="middle" fill="#000" transform="rotate(40 757.8 1673.6)">5</text>
<text x="1000" y="1441.7" font-size="27.5" text-anchor="middle" fill="#000" transform="rotate(-42 1000 1432)">0</text>
<text x="959" y="1485.7" font-size="27.5" text-anchor="middle" fill="#000" transform="rotate(-42 959 1476)">1</text>
<text x="914.5" y="1530.7" font-size="27.5" text-anchor="middle" fill="#000" transform="rotate(-42 914.5 1521)">2</text>
<text x="866" y="1576.7" font-size="27.5" text-anchor="middle" fill="#000" transform="rotate(-42 866 1567)">3</text>
<text x="814" y="1630.7" font-size="27.5" text-anchor="middle" fill="#000" transform="rotate(-42 814 1621)">4</text>
<text x="547" y="1582.3" font-size="27.5" text-anchor="middle" fill="#000" transform="rotate(40 547 1572.6)">mm</text>
<text x="922" y="1582.7" font-size="27.5" text-anchor="middle" fill="#000" transform="rotate(-42 922 1573)">mm</text>
<text x="472.5" y="1401.2" font-size="27.5" text-anchor="end" fill="#000">18.6</text>
<text x="470" y="1431.5" font-size="27.5" text-anchor="end" fill="#000">0</text>
<rect x="1044.3" y="77.7" width="728.7" height="465.8" fill="none" stroke="#df5f4f" stroke-width="4.3"/>
<polyline points="722.2,220.1 1044.3,77.7" fill="none" stroke="#df5f4f" stroke-width="4.3"/>
<polyline points="729.8,305.5 1044.3,543.5" fill="none" stroke="#df5f4f" stroke-width="4.3"/>
<polygon points="722.2,220.1 774.8,266.7 729.8,305.5 674.9,258.4" fill="none" stroke="#df5f4f" stroke-width="4.5" stroke-linejoin="miter"/>
<rect x="1044.4" y="1193.8" width="728.6" height="465.4" fill="none" stroke="#006b35" stroke-width="4.4"/>
<polyline points="726.2,1370.3 1044.4,1193.8" fill="none" stroke="#006b35" stroke-width="4.4"/>
<polyline points="734.3,1457.6 1044.4,1659.2" fill="none" stroke="#006b35" stroke-width="4.4"/>
<polygon points="726.2,1370.3 779.7,1415.6 734.3,1457.6 678.6,1406.7" fill="none" stroke="#006b35" stroke-width="4.5"/>
<text x="1355" y="120.7" font-size="29.3" text-anchor="middle" fill="#e50012">Sa: 122.502 nm</text>
<text x="1648" y="162.7" font-size="29.1" text-anchor="middle" fill="#000">Unit: nm</text>
<text x="1701.6" y="204.3" font-size="29.1" text-anchor="end" fill="#000">3 349.839</text>
<text x="1701.6" y="431.6" font-size="29.1" text-anchor="end" fill="#000">0</text>
<rect x="1714" y="192.7" width="30" height="228.8" fill="url(#gflat)"/>
<line x1="1116.2" y1="170" x2="1093.2" y2="444.8" stroke="#231815" stroke-width="2.2"/>
<polygon points="1116.2,156 1120.4,173.4 1109.4,172.5" fill="#231815"/>
<polygon points="1093.2,458.8 1089,441.4 1100,442.3" fill="#231815"/>
<g transform="rotate(5 1104.3 304.4)"><rect x="1074.5" y="208.8" width="59.7" height="191.1" fill="#dcdcdc"/></g>
<text x="1105.3" y="314.8" font-size="29.4" text-anchor="middle" fill="#000" transform="rotate(-85 1105.3 304.4)">944.732 µm</text>
<line x1="1140" y1="497" x2="1566" y2="497" stroke="#231815" stroke-width="2.2"/>
<polygon points="1125.8,497 1143,491.5 1143,502.5" fill="#231815"/>
<polygon points="1580.5,497 1563,491.5 1563,502.5" fill="#231815"/>
<rect x="1240" y="467.3" width="207" height="59.4" fill="#dcdcdc"/>
<text x="1342" y="508.9" font-size="29.4" text-anchor="middle" fill="#000">1 259.642 µm</text>
<line x1="1350.6" y1="176.4" x2="1350.6" y2="438.8" stroke="#f29600" stroke-width="4"/>
<polygon points="1350.6,156.4 1343.4,182.4 1357.8,182.4" fill="#f29600"/>
<polygon points="1350.6,458.8 1343.4,432.8 1357.8,432.8" fill="#f29600"/>
<line x1="1163.3" y1="310.2" x2="1540.5" y2="310.2" stroke="#f29600" stroke-width="4"/>
<polygon points="1143.3,310.2 1169.3,303 1169.3,317.4" fill="#f29600"/>
<polygon points="1560.5,310.2 1534.5,303 1534.5,317.4" fill="#f29600"/>
<text x="1326.3" y="188.4" font-size="28.5" text-anchor="middle" fill="#fff">B</text>
<text x="1326.3" y="448.4" font-size="28.5" text-anchor="middle" fill="#fff">B</text>
<text x="1169.3" y="294.3" font-size="28.5" text-anchor="middle" fill="#fff">A</text>
<text x="1533.3" y="294.3" font-size="28.5" text-anchor="middle" fill="#fff">A</text>
<text x="1406.6" y="54.2" font-size="29.6" text-anchor="middle" fill="#000">Surface morphology before spindle modulation</text>
<text x="1351" y="1238.4" font-size="29.3" text-anchor="middle" fill="#e50012">Sa: 73.086 nm</text>
<text x="1648" y="1280.4" font-size="29.1" text-anchor="middle" fill="#000">Unit: nm</text>
<text x="1701.6" y="1322" font-size="29.1" text-anchor="end" fill="#000">1 260.749</text>
<text x="1701.6" y="1548.6" font-size="29.1" text-anchor="end" fill="#000">0</text>
<rect x="1714" y="1309" width="30" height="228.8" fill="url(#gflat)"/>
<line x1="1117.3" y1="1280.3" x2="1093.2" y2="1560.6" stroke="#231815" stroke-width="2.2"/>
<polygon points="1117.3,1266.3 1121.5,1283.7 1110.5,1282.8" fill="#231815"/>
<polygon points="1093.2,1574.6 1089,1557.2 1100,1558.1" fill="#231815"/>
<g transform="rotate(5 1104 1420)"><rect x="1074.2" y="1324.5" width="59.7" height="191.1" fill="#dcdcdc"/></g>
<text x="1105" y="1430.4" font-size="29.4" text-anchor="middle" fill="#000" transform="rotate(-85 1105 1420)">944.732 µm</text>
<line x1="1140" y1="1612.5" x2="1566" y2="1612.5" stroke="#231815" stroke-width="2.2"/>
<polygon points="1125.8,1612.5 1143,1607 1143,1618" fill="#231815"/>
<polygon points="1580.5,1612.5 1563,1607 1563,1618" fill="#231815"/>
<rect x="1240" y="1582.8" width="207" height="59.4" fill="#dcdcdc"/>
<text x="1342" y="1624.4" font-size="29.4" text-anchor="middle" fill="#000">1 259.642 µm</text>
<line x1="1350.6" y1="1293.7" x2="1350.6" y2="1550.9" stroke="#1e9632" stroke-width="4"/>
<polygon points="1350.6,1273.7 1343.4,1299.7 1357.8,1299.7" fill="#1e9632"/>
<polygon points="1350.6,1570.9 1343.4,1544.9 1357.8,1544.9" fill="#1e9632"/>
<line x1="1163" y1="1426" x2="1540" y2="1426" stroke="#1e9632" stroke-width="4"/>
<polygon points="1143,1426 1169,1418.8 1169,1433.2" fill="#1e9632"/>
<polygon points="1560,1426 1534,1418.8 1534,1433.2" fill="#1e9632"/>
<text x="1326.3" y="1306.1" font-size="28.5" text-anchor="middle" fill="#fff">B</text>
<text x="1326.3" y="1566.1" font-size="28.5" text-anchor="middle" fill="#fff">B</text>
<text x="1169.3" y="1412" font-size="28.5" text-anchor="middle" fill="#fff">A</text>
<text x="1533.3" y="1412" font-size="28.5" text-anchor="middle" fill="#fff">A</text>
<text x="1409.3" y="1710.2" font-size="29.6" text-anchor="middle" fill="#000">Surface morphology after spindle modulation</text>
<polygon points="1543.2,527 1564.1,527 1564.1,648 1578.8,648 1553.7,689.6 1527.9,648 1543.2,648" fill="#f6d5a8" stroke="#231815" stroke-width="2.2" stroke-linejoin="miter"/>
<polygon points="1553.7,1068.1 1578.8,1106.9 1564.1,1106.9 1564.1,1220.3 1543.2,1220.3 1543.2,1106.9 1527.9,1106.9" fill="#c4d6b4" stroke="#231815" stroke-width="2.2" stroke-linejoin="miter"/>
</svg>
</div></body></html>
